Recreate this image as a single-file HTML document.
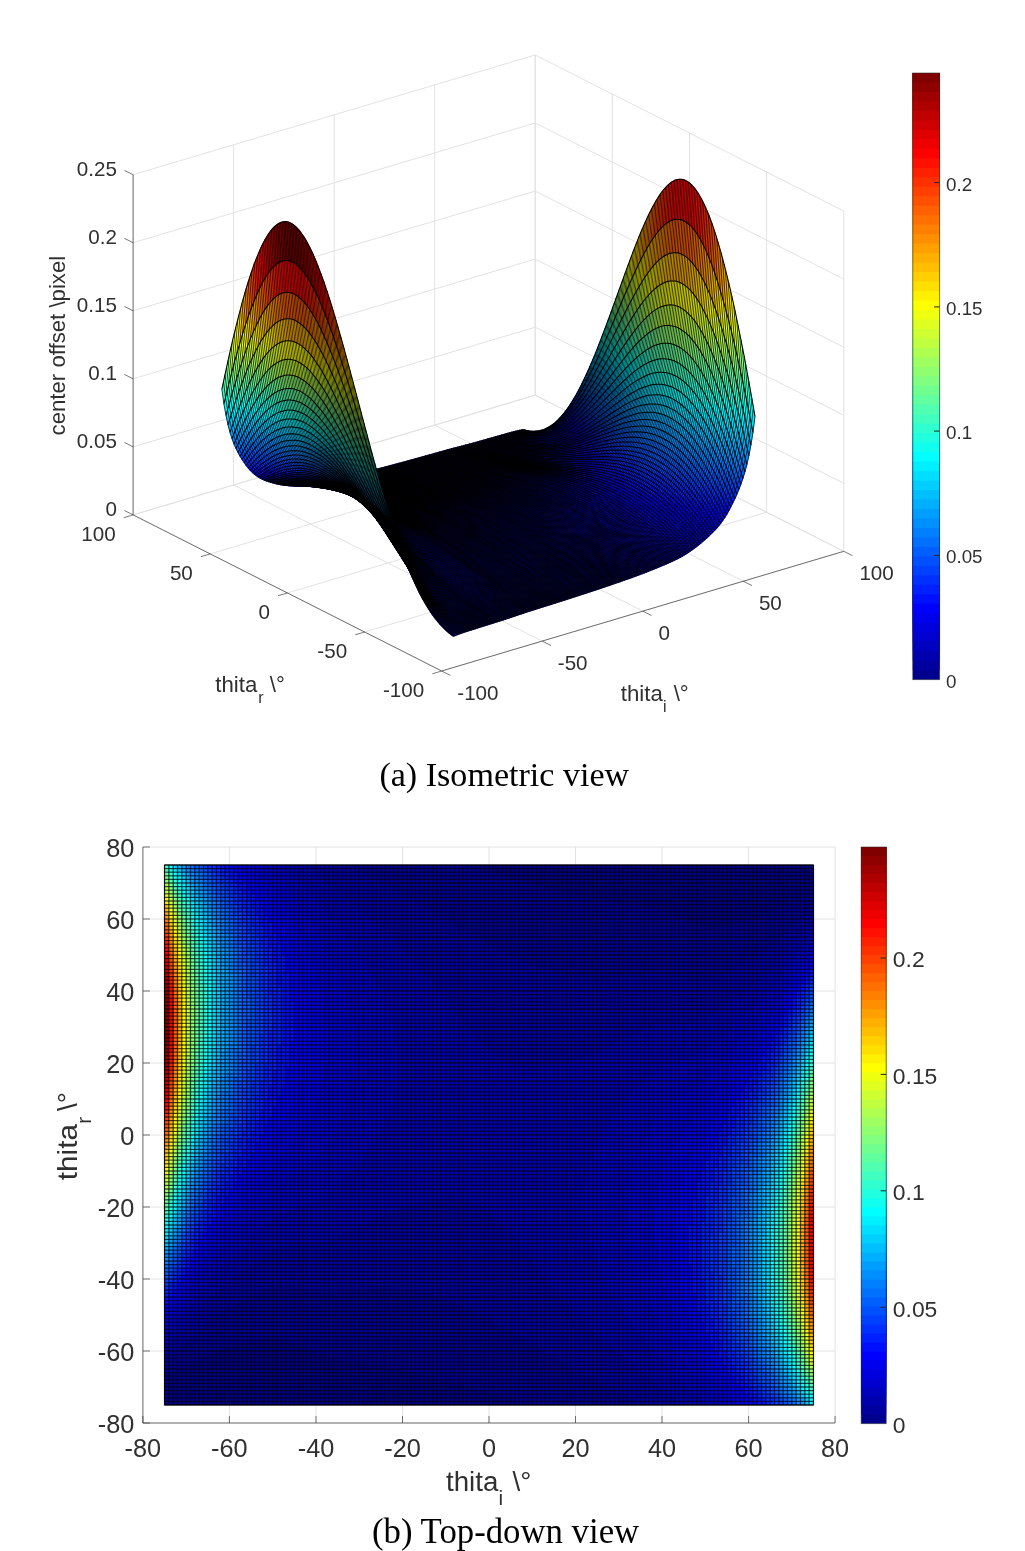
<!DOCTYPE html>
<html><head><meta charset="utf-8"><title>figure</title>
<style>html,body{margin:0;padding:0;background:#fff}svg{display:block}</style></head>
<body><svg width="1025" height="1551" viewBox="0 0 1025 1551">
<rect width="1025" height="1551" fill="#fff"/>
<path d="M441.7 671.0L133.1 514.9M133.1 514.9L133.1 174.7M542.2 641.1L233.6 485.0M233.6 485.0L233.6 144.8M642.8 611.1L334.2 455.0M334.2 455.0L334.2 114.8M743.3 581.2L434.7 425.1M434.7 425.1L434.7 84.9M843.8 551.3L535.2 395.2M535.2 395.2L535.2 55.0M441.7 671.0L843.8 551.3M843.8 551.3L843.8 211.1M364.6 632.0L766.6 512.3M766.6 512.3L766.6 172.1M287.4 593.0L689.5 473.2M689.5 473.2L689.5 133.0M210.2 553.9L612.3 434.2M612.3 434.2L612.3 94.0M133.1 514.9L535.2 395.2M535.2 395.2L535.2 55.0M133.1 514.9L535.2 395.2M535.2 395.2L843.8 551.3M133.1 446.9L535.2 327.2M535.2 327.2L843.8 483.3M133.1 378.8L535.2 259.1M535.2 259.1L843.8 415.2M133.1 310.8L535.2 191.1M535.2 191.1L843.8 347.2M133.1 242.7L535.2 123.0M535.2 123.0L843.8 279.1M133.1 174.7L535.2 55.0M535.2 55.0L843.8 211.1" fill="none" stroke="#e2e2e2" stroke-width="1"/>
<g stroke-width=".6" stroke-linejoin="round"><path fill="#00008f" stroke="#00008f" d="M533.8 431.9l-3-.1-3.1-.4-3.1-.6-3.1-.9 2-.3 3.1 .8 3.1 .5 3.1 .3 3.1-.1zm-.4 .9l-3.1-.2-3.1-.4-3.1-.6-4.6-1.3 2-.4 4.6 1.2 3.1 .5 3.1 .3 3.1 0zm-2 .8l-3.1-.2-3.1-.6-3.1-.7-4.6-1.4 2-.4 4.6 1.3 3.1 .6 3.1 .4 3.1 .2zm-.5 1.1l-3.1-.4-4.6-.8-3.1-.8-4.6-1.5 2-.5 4.6 1.4 3.1 .7 4.6 .7 3.1 .2zm-2 .9l-3.1-.5-4.6-1-3.1-.8-4.6-1.6 2-.5 4.6 1.5 3.1 .8 4.6 .8 3.1 .4zm-.5 1.2l-3.1-.6-4.6-1-4.6-1.3-4.7-1.7 2.1-.5 4.6 1.6 4.6 1.2 4.6 .9 3.1 .4zm-2 .9l-3.1-.6-4.6-1.2-4.6-1.4-4.7-1.7 2-.6 4.7 1.7 4.6 1.3 4.6 1 3.1 .6zm-.5 1.2l-4.6-1-4.6-1.3-4.6-1.5-4.7-1.8 2-.5 4.7 1.7 4.6 1.4 4.6 1.2 4.7 .9zm-.4 1.2l-4.7-1-4.6-1.3-4.6-1.6-6.2-2.3 2-.6 6.2 2.3 4.6 1.4 4.7 1.3 4.6 .9zm-2 .9l-4.7-1.2-4.6-1.4-4.6-1.5-6.2-2.4 2-.6 6.2 2.3 4.6 1.6 4.6 1.3 4.7 1zm-.5 1.2l-4.6-1.2-6.2-1.9-4.6-1.6-6.2-2.4 2-.6 6.2 2.4 4.6 1.5 6.2 1.9 4.6 1.1zm-2 .8l-4.6-1.3-6.2-2-4.6-1.6-6.2-2.5 2-.5 6.2 2.4 4.6 1.6 6.2 1.9 4.6 1.2zm-.5 1.1l-4.6-1.3-6.2-1.9-6.2-2.3-6.1-2.4 2-.6 6.2 2.5 6.1 2.1 6.2 1.9 4.6 1.2zm-2 .7l-4.6-1.3-6.2-2-6.2-2.3-6.1-2.5 2-.5 6.1 2.4 6.2 2.3 6.2 1.9 4.6 1.3zm-2 .7l-4.6-1.4-6.2-2-6.2-2.3-6.1-2.5 2-.6 6.1 2.5 6.2 2.3 6.2 2 4.6 1.3zm-.5 1.1l-6.1-1.8-6.2-2.1-6.2-2.3-6.2-2.5 2.1-.6 6.1 2.5 6.2 2.3 6.2 2 6.1 1.8zm-2 .7l-6.2-1.9-6.1-2.1-12.4-4.9 2-.5 6.2 2.5 6.2 2.3 6.2 2.1 6.1 1.8zm-2 .7l-6.2-2-6.1-2.1-12.4-4.9 2-.6 12.4 4.9 6.1 2.1 6.2 1.9zm-.5 1.1l-6.1-1.9-6.2-2.2-6.2-2.3-7.7-3.1 2-.6 7.7 3.1 6.2 2.3 6.2 2.1 6.2 2zm-2 .7l-6.1-2-6.2-2.2-6.2-2.3-7.7-3.1 2-.6 7.7 3.1 6.2 2.3 6.2 2.2 6.1 1.9zm-2 .7l-12.3-4.3-13.9-5.5 2-.5 7.7 3.1 6.2 2.3 6.2 2.2 6.1 2zm-2 .6l-12.3-4.3-13.9-5.5 2-.6 13.9 5.5 12.3 4.3zm-.5 1.2l-6.1-2.1-7.7-2.8-13.9-5.5 2-.6 13.9 5.5 7.7 2.8 6.2 2zm-2 .6l-6.1-2.1-7.8-2.8-13.8-5.6 2-.5 13.9 5.5 7.7 2.8 6.1 2.1zm-2 .6l-13.9-4.9-13.9-5.6 2.1-.6 13.8 5.6 7.8 2.8 6.1 2.1zm-3.5 .1l-12.4-4.5-13.9-5.6 2-.5 13.9 5.6 12.4 4.4zm-2 .5l-12.4-4.5-13.9-5.5 2-.6 13.9 5.6 12.4 4.5zm-2.1 .5l-12.3-4.5-13.9-5.5 2-.5 13.9 5.5 12.4 4.5zm-3.5-.1l-12.3-4.5-12.4-4.9 2-.5 12.4 4.9 12.3 4.5zm-2 .5l-12.4-4.5-12.3-4.8 2-.6 12.4 4.9 12.3 4.5zm-3.6-.1l-10.8-3.9-12.3-4.8 2-.5 12.3 4.8 10.8 3.9zm-2 .5l-10.8-3.9-12.3-4.8 2-.5 12.3 4.8 10.8 3.9zm-3.5-.1l-10.8-3.9-10.8-4.2 2-.5 10.8 4.2 10.8 3.9zm-2 .4l-10.8-3.8-10.8-4.2 2-.5 10.8 4.2 10.8 3.9zm-3.6 0l-9.3-3.4-10.8-4.1 2.1-.5 10.8 4.2 9.2 3.3zm-2 .5l-9.3-3.4-10.8-4 2-.6 10.8 4.1 9.3 3.4zm-3.6-.1l-18.5-6.8 2-.5 18.6 6.8zm-2 .6l-18.5-6.9 2-.5 18.5 6.8zm-2 .5l-18.5-6.8 2-.6 18.5 6.9zm-2 .6l-18.5-6.8 2-.6 18.5 6.8zm-3.5 0l-17-6.3 2-.5 17 6.3zm-2.1 .6l-16.9-6.3 2-.6 17 6.3zm-2 .5l-16.9-6.2 2-.6 16.9 6.3zm-2 .6l-16.9-6.3 2-.5 16.9 6.2zm-2 .6l-17-6.3 2.1-.6 16.9 6.3zm-2 .5l-17-6.2 2-.6 17 6.3zm-3.6 0l-15.4-5.7 2-.5 15.5 5.7zm-2 .6l-15.4-5.7 2-.6 15.4 5.7zm-2 .5l-15.4-5.7 2-.5 15.4 5.7zm-2 .6l-15.4-5.7 2-.6 15.4 5.7zm-2 .5l-15.4-5.6 2-.6 15.4 5.7zm-3.5 0l-13.9-5.1 2-.5 13.9 5.1zm-2.1 .6l-13.8-5.1 2-.6 13.9 5.1zm-2 .5l-13.9-5.1 2.1-.5 13.8 5.1zm-2 .5l-13.9-5 2-.6 13.9 5.1zm-3.5 0l-12.4-4.5 2-.5 12.4 4.5zm-2 .6l-12.4-4.5 2-.6 12.4 4.5zm-2.1 .5l-12.3-4.4 2-.6 12.4 4.5zm-2 .5l-12.3-4.4 2-.5 12.3 4.4zm-3.5 0l-10.8-3.8 2-.6 10.8 3.9zm-2 .5l-10.8-3.8 2-.5 10.8 3.8zm-2 .6l-10.8-3.9 2-.5 10.8 3.8zm-3.6 0l-9.2-3.3 2-.6 9.2 3.3zm-2 .5l-9.3-3.3 2.1-.5 9.2 3.3zm-2 .5l-9.3-3.2 2-.6 9.3 3.3zm-3.6 0l-7.7-2.7 2-.5 7.7 2.7zm223.8 112.9l-1.6-1.1 2-.7 1.6 1.1zm-225.8-112.4l-7.7-2.6 2-.6 7.7 2.7zm223.8 113.2l-1.6-1.2 2-.7 1.6 1.1zm-225.8-112.7l-7.7-2.6 2-.5 7.7 2.6zm223.7 113.4l-1.5-1.2 2-.7 1.6 1.2zm-227.2-113.4l-6.2-2.1 2-.5 6.2 2.1zm225.2 114l-1.5-1 2-.8 1.5 1.2zm-227.3-113.5l-6.1-2 2-.6 6.2 2.1zm225.3 114.2l-3.1-2.1 2.1-.7 3 2.1zm-227.3-113.6l-6.1-2.1 2-.5 6.1 2zm225.3 114.3l-3.1-2.1 2-.7 3.1 2.1zm-228.8-114.3l-4.6-1.6 2-.5 4.6 1.5zm226.8 115l-3.1-2.1 2-.7 3.1 2.1zm-228.8-114.5l-4.7-1.6 2.1-.5 4.6 1.6zm226.8 115.2l-4.6-3.2 2-.7 4.6 3.2zm-228.8-114.7l-4.7-1.5 2-.6 4.7 1.6zm226.8 115.4l-4.6-3.2 2-.7 4.6 3.2zm-230.4-115.4l-1.5-.5 2-.5 1.5 .5zm228.4 116.1l-4.7-3.2 2.1-.7 4.6 3.2zm-2 .6l-6.2-4.2 2-.7 6.2 4.3zm-2 .7l-6.2-4.2 2-.7 6.2 4.2zm-2.1 .7l-6.1-4.2 2-.7 6.2 4.2zm-2 .7l-7.7-5.3 2-.7 7.7 5.3zm-2 .6l-7.7-5.2 2-.7 7.7 5.3zm-2 .7l-7.7-5.2 2-.7 7.7 5.2zm-2 .6l-9.3-6.2 2.1-.6 9.2 6.2zm-2 .7l-9.3-6.2 2-.7 9.3 6.2zm-2 .7l-9.3-6.2 2-.7 9.3 6.2zm-2 .6l-10.8-7.1 2-.7 10.8 7.2zm-2 .7l-10.8-7.2 2-.6 10.8 7.1zm-2.1 .6l-10.8-7.1 2.1-.7 10.8 7.2zm-2 .7l-12.3-8.1 2-.7 12.3 8.1zm-2 .6l-12.3-8.1 2-.6 12.3 8.1zm-2 .7l-12.3-8.1 2-.7 12.3 8.1zm-2 .6l-13.9-9 2-.7 13.9 9.1zm-2 .7l-13.9-9.1 2-.6 13.9 9zm-2 .6l-13.9-9 2-.7 13.9 9.1zm-2 .7l-13.9-9.1 2-.6 13.9 9zm-2 .6l-15.5-10 2-.7 15.5 10.1zm-2 .6l-15.5-9.9 2-.7 15.5 10zm-2.1 .7l-15.4-10 2-.6 15.5 9.9zm-2 .6l-15.4-9.9 2-.7 15.4 10zm-2 .7l-16.9-11 2-.6 16.9 10.9zm-2 .6l-17-10.9 2.1-.7 16.9 11zm-2 .6l-17-10.9 2-.6 17 10.9zm-2 .7l-17-10.9 2-.7 17 10.9zm-2 .6l-17-10.9 2-.6 17 10.9zm-2 .6l-18.5-11.9 2-.6 18.5 11.9zm-2 .7l-18.6-11.9 2.1-.7 18.5 11.9zm-2.1 .6l-18.5-11.9 2-.6 18.6 11.9zm-2 .6l-18.5-11.9 2-.6 18.5 11.9zm-2 .7l-18.5-11.9 2-.7 18.5 11.9zm-2 .6l-18.5-11.9 2-.6 18.5 11.9zm-2 .6l-20.1-12.9 2.1-.6 20 12.9zm-2 .7l-20.1-13 2-.6 20.1 12.9zm-2 .6l-20.1-12.9 2-.7 20.1 13zm-2 .6l-20.1-12.8 2-.7 20.1 12.9zm-2 .7l-10.8-6.8-10.8-7.1 2-.7 10.8 7.1 10.8 6.8zm-2 .7l-10.8-6.8-10.8-7.1 2-.7 10.8 7.1 10.8 6.8zm-2.1 .7l-12.3-7.8-10.8-7.1 2-.7 10.8 7.1 12.4 7.8zm-2 .6l-12.3-7.7-10.8-7 2-.8 10.8 7.1 12.3 7.8zm-2 .7l-12.3-7.7-12.4-8 2-.8 12.4 8.1 12.3 7.7zm-2 .7l-12.3-7.7-12.4-8 2-.7 12.4 8 12.3 7.7zm-2 .7l-13.9-8.6-12.3-8.1 2-.7 12.3 8.1 13.9 8.6zm-2 .7l-13.9-8.6-12.3-8.1 2-.7 12.3 8.1 13.9 8.6zm-2 .6l-13.9-8.5-13.9-9.1 2-.7 13.9 9.1 13.9 8.6zm-2 .7l-13.9-8.5-13.9-9.1 2-.7 13.9 9.1 13.9 8.5zm-2 .7l-13.9-8.5-13.9-9.1 2-.7 13.9 9.1 13.9 8.5zm-2.1 .6l-15.4-9.4-13.9-9.2 2-.6 13.9 9.1 15.5 9.5zm-2 .7l-15.4-9.5-13.9-9.2 2-.6 13.9 9.2 15.4 9.4zm-2 .6l-15.4-9.5-13.9-9.2 2-.6 13.9 9.2 15.4 9.5zm-2 .6l-13.9-8.5-7.7-5-6.2-4.2 2.1-.6 13.8 9.2 13.9 8.5zm-2 .6l-13.9-8.5-7.7-5.1-6.2-4.2 2-.5 6.2 4.2 7.7 5 13.9 8.5zm-2 .7l-13.9-8.6-7.7-5.1-6.2-4.3 2-.5 6.2 4.2 7.7 5.1 13.9 8.5zm-2 .6l-7.7-4.7-6.2-3.9-7.7-5.2-6.2-4.3 2-.5 6.2 4.3 7.7 5.1 13.9 8.6zm-2 .6l-7.7-4.7-6.2-3.9-6.2-4.1-6.2-4.4 2.1-.5 12.3 8.4 6.2 3.9 7.7 4.7zm-2 .6l-7.7-4.7-6.2-3.9-6.2-4.2-6.2-4.4 2-.5 6.2 4.4 6.2 4.1 6.2 3.9 7.7 4.7zm-2 .7l-7.8-4.7-6.1-4-6.2-4.2-6.2-4.5 2-.5 6.2 4.4 6.2 4.2 6.2 3.9 7.7 4.7zm-2.1 .6l-6.1-3.8-6.2-3.9-6.2-4.2-6.1-4.5 2-.5 6.1 4.4 6.2 4.2 12.4 7.7zm-2 .6l-6.1-3.7-6.2-4-6.2-4.3-6.2-4.5 2.1-.5 6.1 4.5 6.2 4.2 6.2 3.9 6.1 3.8zm-2 .7l-6.1-3.8-6.2-4-6.2-4.3-6.2-4.6 2-.5 6.2 4.5 6.2 4.3 6.2 4 6.1 3.7zm-2 .6l-6.2-3.8-6.1-4.1-6.2-4.3-4.6-3.5 2-.4 4.6 3.4 6.2 4.3 6.2 4 6.1 3.8zm-2 .7l-6.2-3.9-6.1-4.1-6.2-4.4-4.6-3.6 2-.4 4.6 3.5 6.2 4.3 6.1 4.1 6.2 3.8zm-2 .6l-6.2-3.9-4.6-3.1-6.2-4.4-4.6-3.6 2-.4 4.6 3.5 6.2 4.4 4.6 3 6.2 3.9zm-2 .6l-6.2-3.9-4.6-3.2-6.2-4.5-4.6-3.7 2-.3 4.6 3.6 6.2 4.4 4.6 3.1 6.2 3.9zm-2 .6l-6.2-4-4.6-3.2-4.7-3.5-4.6-3.7 2-.3 4.7 3.6 4.6 3.4 4.6 3.2 6.2 3.9zm-2 .7l-4.7-3.1-4.6-3.2-4.6-3.5-4.7-3.8 2.1-.2 4.6 3.6 4.6 3.4 4.6 3.2 4.7 2.9zm-2 .6l-4.7-3.1-4.6-3.3-4.6-3.6-4.7-4 2-.2 4.7 3.8 4.6 3.5 4.6 3.2 4.7 3.1zm-2.1 .7l-4.6-3.2-4.6-3.4-4.6-3.8-3.1-2.7 2-.2 3.1 2.6 4.6 3.6 4.6 3.3 4.7 3.1zm-2 .7l-4.6-3.2-4.6-3.6-4.7-4-3-2.8 2-.2 3.1 2.7 4.6 3.8 4.6 3.4 4.6 3.2zm-2 .7l-4.6-3.3-3.1-2.4-4.6-4-3.1-2.9 2-.3 3.1 2.8 4.6 3.8 3.1 2.4 4.6 3.2zm-2 .7l-4.6-3.3-3.1-2.5-4.6-4.2-3.1-3.1 2-.2 3.1 2.9 4.6 4 3.1 2.4 4.6 3.3zm-2 .9l-4.6-3.5-3.1-2.6-3.1-2.9-3.1-3.1 2-.3 3.1 2.9 3.1 2.8 3.1 2.5 4.6 3.3zm-2 .8l-4.6-3.5-3.1-2.8-3.1-3-3.1-3.3 2-.3 3.1 3.1 3.1 2.9 3.1 2.6 4.6 3.5z"/><path fill="#00009f" stroke="#00009f" d="M541.6 430.9l-3.1 .6-4.7 .4 2.1-.8 3-.4 1.6-.3 3.1-.9zm-.5 1l-3.1 .6-4.6 .3 2-.9 4.6-.6 3.1-.9zm-.5 1.2l-4.6 .6-4.6-.1 2-.8 4.6-.3 4.6-.9zm-.4 1.3l-4.7 .4-4.6-.1 2-1 4.6-.2 4.7-.7zm-.5 1.4l-4.6 .2-3.1-.1-3.1-.3 2-.9 3.1 .1 3.1-.1 4.6-.5zm-.5 1.5l-4.6 0-3.1-.2-3.1-.3 2-1 3.1 .2 3.1 0 4.6-.4zm-.4 1.5l-6.2-.3-6.2-.8 2-.9 3.1 .3 3.1 .2 3.1 0 3.1-.1zm-.5 1.5l-6.2-.4-6.2-1 2.1-.9 6.1 .6 6.2 .1zm1.1 1.5l-6.2-.4-3.1-.4-4.6-.9 2-.9 4.6 .7 3.1 .2 6.2 .2zm-.5 1.5l-3.1-.2-4.6-.6-7.7-1.5 2-.9 4.6 .9 3.1 .4 4.6 .4 3.1 .1zm-.5 1.4l-3.1-.3-4.6-.6-7.7-1.6 2-.8 7.7 1.3 4.7 .5 3 .2zm-2 1.1l-3.1-.4-4.6-.7-7.7-1.7 2-.8 7.7 1.6 4.6 .6 3.1 .3zm-.4 1.2l-3.1-.4-4.7-.8-7.7-1.7 2-.8 7.7 1.7 4.7 .6 3.1 .3zm-.5 1.1l-4.6-.6-3.1-.5-4.7-1-4.6-1.2 2-.7 4.7 1.1 4.6 .9 3.1 .5 4.6 .5zm-2 1l-4.7-.7-3-.6-9.3-2.3 2-.7 4.6 1.2 4.7 1 3.1 .5 4.6 .6zm-.5 1.2l-4.6-.8-3.1-.6-9.3-2.3 2-.7 9.3 2.2 3.1 .6 4.6 .6zm-.5 1.1l-7.7-1.3-4.6-1.1-6.2-1.7 2-.7 6.2 1.6 4.6 1.1 7.7 1.1zm-2 .9l-7.7-1.4-4.6-1.2-6.2-1.7 2-.7 6.2 1.7 4.6 1.1 7.7 1.3zm-.4 1.2l-9.3-1.8-9.3-2.6 2.1-.6 9.2 2.4 4.6 .9 4.7 .8zm-.5 1.2l-6.2-1.2-4.6-1-9.3-2.7 2-.7 9.3 2.6 4.6 1 6.2 1zm-2 .9l-6.2-1.3-4.6-1.1-9.3-2.7 2-.7 9.3 2.7 4.6 1 6.2 1.2zm-.5 1.1l-4.6-.9-6.2-1.4-10.8-3.3 2-.6 6.2 1.8 4.6 1.3 6.2 1.4 4.6 .8zm-2 .9l-10.8-2.5-9.3-2.8 2.1-.7 9.2 2.8 6.2 1.4 4.6 .9zm-.5 1.1l-6.1-1.3-6.2-1.6-9.3-2.9 2-.6 9.3 2.8 6.2 1.5 6.1 1.3zm-2 .8l-6.1-1.5-6.2-1.6-9.3-2.9 2-.6 9.3 2.9 6.2 1.6 6.1 1.3zm-2 .6l-6.2-1.4-6.1-1.7-10.8-3.4 2-.6 10.8 3.4 6.2 1.6 6.1 1.5zm-2 .6l-6.2-1.5-6.1-1.7-10.8-3.4 2-.5 10.8 3.4 6.1 1.7 6.2 1.4zm-2 .6l-12.3-3.3-10.9-3.4 2.1-.5 10.8 3.4 6.1 1.7 6.2 1.5zm-2 .5l-12.4-3.3-12.3-4 2-.5 12.4 4 12.3 3.3zm-2 .6l-12.4-3.4-12.3-4 2-.5 12.3 4 12.4 3.3zm-2 .5l-7.8-2.1-6.1-1.8-12.4-4.1 2-.5 12.4 4.1 6.2 1.8 7.7 2.1zm-3.6 0l-12.3-3.5-12.4-4 2-.5 12.4 4.1 12.3 3.5zm-2 .5l-12.3-3.5-13.9-4.6 2-.5 13.9 4.6 12.3 3.5zm-2 .5l-12.4-3.6-13.8-4.6 2-.4 13.9 4.6 12.3 3.5zm-2 .5l-13.9-4.1-13.9-4.6 2-.5 15.4 5.1 12.4 3.6zm-3.6 .1l-12.3-3.7-13.9-4.6 2-.5 13.9 4.6 12.3 3.7zm-2 .6l-13.9-4.3-13.9-4.7 2.1-.5 13.8 4.7 13.9 4.2zm-2 .6l-13.9-4.3-13.9-4.7 2-.6 13.9 4.7 13.9 4.3zm-2 .6l-13.9-4.3-13.9-4.8 2-.5 13.9 4.7 13.9 4.3zm-.5 1.1l-15.4-4.8-13.9-4.8 2-.6 13.9 4.8 15.4 4.8zm183.6 92.9l-1.5-1.4 2-1 1.6 1.5zm-185.6-92.2l-15.4-4.9-15.4-5.4 2-.5 15.4 5.3 15.4 4.8zm183.6 93.2l-1.5-1.5 2-.9 1.5 1.4zm-185.6-92.6l-15.4-5-15.5-5.3 2.1-.6 15.4 5.4 15.4 4.9zm183.6 93.5l-3.1-2.8 2-1 3.1 2.9zm-185.6-92.8l-15.4-5.1-15.5-5.4 2-.5 15.5 5.3 15.4 5zm183.6 93.7l-3.1-2.8 2-.9 3.1 2.8zm-185.6-93.1l-15.4-5.1-15.5-5.4 2-.6 15.5 5.4 15.4 5.1zm183.6 94l-4.6-4.1 2-.9 4.6 4.1zm-185.6-93.4l-15.5-5.1-15.4-5.4 2-.6 15.5 5.4 15.4 5.1zm183.6 94.2l-4.6-4 2-.9 4.6 4.1zm-185.6-93.6l-15.5-5.1-15.4-5.5 2-.5 15.4 5.4 15.5 5.1zm183.6 94.5l-6.2-5.3 2-.9 6.2 5.3zm-185.6-93.8l-17-5.8-15.5-5.5 2.1-.5 15.4 5.4 17 5.7zm183.6 94.7l-7.7-6.5 2-1 7.7 6.6zm-184.1-93.6l-17-5.8-17-6 2-.6 17 6 17 5.8zm182.1 94.4l-7.8-6.4 2.1-.9 7.7 6.5zm-184.1-93.8l-17-5.8-17-6.1 2-.5 17 6 17 5.8zm182 94.6l-9.2-7.6 2-.9 9.3 7.7zm-184-94l-17-5.9-17-6 2-.6 17 6.1 17 5.8zm182 94.8l-9.2-7.5 2-.9 9.2 7.6zm-184-94.2l-17-5.9-17-6.1 2-.5 17 6 17 5.9zm182 95l-10.8-8.6 2-.9 10.8 8.7zm-185.6-95l-33.9-12 2-.5 16.9 6 17 5.9zm183.6 95.8l-12.3-9.8 2-.8 12.3 9.8zm-185.6-95.2l-34-12 2.1-.6 33.9 12zm183.6 96l-12.3-9.7 2-.9 12.3 9.8zm-185.6-95.4l-34-12.1 2-.5 34 12zm183.6 96.2l-13.9-10.8 2-.9 13.9 10.9zm-185.6-95.7l-34-12.1 2-.5 34 12.1zm183.6 96.5l-15.4-11.9 2-.9 15.4 12zm-185.6-95.9l-35.5-12.7 2-.5 35.5 12.6zm183.6 96.6l-15.5-11.7 2.1-.9 15.4 11.9zm-185.7-96.1l-35.4-12.6 2-.6 35.5 12.7zm183.7 96.9l-17-12.8 2-.9 17 12.9zm-185.7-96.3l-35.5-12.7 2.1-.5 35.4 12.6zm183.7 97l-18.6-13.8 2-.9 18.6 14zm-187.2-97l-34-12.2 2-.5 34 12.1zm185.1 97.8l-18.5-13.8 2-.8 18.6 13.8zm-187.1-97.3l-35.5-12.7 2-.5 35.5 12.7zm185.1 98l-20-14.8 2-.8 20 14.9zm-187.1-97.5l-35.5-12.7 2-.5 35.5 12.7zm185.1 98.3l-21.6-15.8 2-.9 10.8 7.9 10.8 8zm-188.7-98.3l-33.9-12.1 2-.6 33.9 12.2zm186.7 99l-21.6-15.7 2-.8 21.6 15.8zm-188.7-98.5l-35.5-12.6 2-.6 35.5 12.7zm186.7 99.2l-12.3-9-10.8-7.7 2-.8 10.8 7.7 12.3 9.1zm-188.7-98.7l-35.5-12.6 2-.5 35.5 12.6zm186.7 99.4l-12.4-8.9-12.3-8.7 2-.9 12.4 8.8 12.3 9zm-190.3-99.4l-33.9-12.1 2-.5 33.9 12.1zm188.3 100.1l-13.9-10-12.4-8.6 2.1-.8 12.3 8.7 13.9 10zm-190.3-99.6l-35.5-12.6 2-.5 35.5 12.6zm186.7 99.2l-12.3-8.8-12.4-8.6 2-.8 12.4 8.6 12.3 8.9zm-190.2-99.3l-34-12 2-.5 34 12zm188.2 100l-13.9-9.8-12.3-8.6 2-.8 12.3 8.6 13.9 9.9zm-190.2-99.5l-15.5-5.5-18.5-6.5 2-.5 34 12zm188.2 100.2l-13.9-9.8-13.9-9.5 2-.8 13.9 9.6 13.9 9.8zm-191.8-100.3l-15.4-5.5-18.5-6.4 2-.5 18.5 6.4 15.4 5.5zm189.8 101.1l-13.9-9.8-13.9-9.5 2-.8 13.9 9.5 13.9 9.8zm-191.8-100.6l-15.4-5.5-18.6-6.4 2.1-.5 18.5 6.4 15.4 5.5zm188.2 100.2l-13.8-9.7-13.9-9.5 2-.8 13.9 9.5 13.9 9.8zm-191.8-100.3l-15.4-5.5-17-5.7 2-.6 17 5.9 15.5 5.4zm189.8 101l-15.4-10.7-13.9-9.4 2-.8 13.9 9.4 15.4 10.8zm-193.3-101.1l-15.4-5.4-17-5.7 2-.6 17 5.8 15.4 5.4zm191.3 101.8l-17-11.7-13.8-9.4 2-.8 13.9 9.4 16.9 11.8zm-193.3-101.3l-15.5-5.4-16.9-5.7 2-.5 17 5.7 15.4 5.4zm189.8 100.9l-15.5-10.6-13.9-9.3 2.1-.8 13.8 9.4 15.5 10.6zm-193.4-101l-13.9-4.9-16.9-5.6 2-.5 16.9 5.7 13.9 4.8zm191.4 101.7l-17-11.6-13.9-9.3 2-.7 13.9 9.2 17 11.7zm-193.4-101.3l-15.4-5.3-17-5.6 2-.5 17 5.6 15.4 5.4zm191.3 102l-16.9-11.6-15.5-10.2 2.1-.8 15.4 10.3 17 11.6zm-194.8-102.1l-13.9-4.8-17-5.5 2-.5 17 5.6 13.9 4.8zm191.3 101.7l-17-11.5-13.9-9.2 2-.7 13.9 9.2 17 11.5zm-194.9-101.8l-12.3-4.2-13.9-4.5 2-.5 13.9 4.5 12.3 4.3zm192.9 102.5l-17-11.5-15.4-10.1 2-.8 15.4 10.2 17 11.5zm-194.9-102.1l-12.3-4.1-12.4-4 2-.5 12.4 4 12.3 4.2zm192.9 102.8l-17-11.4-15.4-10.2 2-.7 15.4 10.1 17 11.5zm-196.5-102.9l-20-6.6 2-.5 20.1 6.7zm192.9 102.5l-17-11.3-15.4-10.2 2-.7 15.5 10.1 16.9 11.4zm-196.4-102.6l-17-5.5 2-.5 17 5.6zm194.4 103.3l-18.5-12.3-15.4-10.1 2-.8 15.4 10.1 18.5 12.4zm-198-103.4l-12.3-4 2-.4 12.3 4zm196 104.1l-18.5-12.3-15.4-10.1 2-.7 15.4 10.1 18.5 12.3zm-198-103.7l-10.8-3.5 2-.4 10.8 3.5zm194.4 103.3l-33.9-22.3 2-.7 15.4 10.1 18.6 12.3zm-197.9-103.4l-6.2-2 2-.4 6.2 2zm195.9 104.1l-33.9-22.3 2-.7 33.9 22.3zm-199.5-104.2l-3.1-.9 2-.5 3.1 1zm197.5 104.9l-35.5-23.3 2-.7 35.5 23.3zm-3.5-.3l-34-22.3 2-.7 34 22.3zm-2 .6l-35.5-23.2 2-.7 35.5 23.3zm-2.1 .7l-35.4-23.2 2-.7 35.5 23.2zm-3.5-.3l-34-22.2 2.1-.7 33.9 22.2zm-2 .6l-35.5-23.2 2-.6 35.5 23.2zm-2 .7l-35.5-23.2 2-.7 35.5 23.2zm-3.6-.3l-33.9-22.2 2-.7 33.9 22.2zm-2 .6l-35.5-23.2 2-.6 35.5 23.2zm-2 .7l-35.5-23.2 2-.7 35.5 23.2zm-2 .6l-35.5-23.2 2-.6 35.5 23.2zm-3.6-.3l-33.9-22.3 2-.6 33.9 22.2zm-2 .7l-33.9-22.3 2-.7 33.9 22.3zm-2 .6l-33.9-22.3 2-.6 33.9 22.3zm-211.8-109.3l-6.2-1.3 2-.4 6.2 1.3zm209.8 110l-33.9-22.4 2-.6 33.9 22.3zm-208.8-109l-9.2-1.9 2-.4 9.2 2zm205.3 108.6l-34-22.4 2-.6 34 22.4zm-208.8-108.6l-7.7-1.5 2-.4 7.7 1.6zm206.7 109.3l-16.9-11.2-17-11.3 2-.6 34 22.4zm-208.7-109l-7.7-1.4 2-.4 7.7 1.5zm206.7 109.6l-16.9-11.1-17-11.4 2-.6 17 11.3 16.9 11.2zm-210.3-109.6l-6.2-1.1 2.1-.3 6.1 1.1zm208.3 110.3l-17-11.2-16.9-11.4 2-.6 17 11.4 16.9 11.1zm-210.3-110l-6.2-1 2-.4 6.2 1.1zm208.3 110.6l-15.4-10.2-17-11.4 2-.6 17 11.4 15.4 10.2zm-211.9-110.5l-4.6-.8 2-.3 4.7 .8zm208.4 110.1l-15.5-10.2-15.4-10.4 2-.6 15.4 10.4 15.5 10.2zm-211.9-110.1l-3.1-.4 2-.4 3.1 .5zm209.8 110.8l-15.4-10.2-15.4-10.5 2-.6 15.4 10.4 15.5 10.2zm-211.8-110.5l-3.1-.4 2-.3 3.1 .4zm209.8 111.1l-15.4-10.2-15.4-10.6 2-.5 15.4 10.5 15.4 10.2zm-213.4-111l-1.5-.2 2-.3 1.5 .2zm211.4 111.6l-15.4-10.2-15.4-10.6 2-.6 15.4 10.6 15.4 10.2zm-213.4-111.3l-1.5-.2 2-.3 1.5 .2zm211.4 112l-15.4-10.3-15.4-10.7 2-.5 15.4 10.6 15.4 10.2zm-2 .6l-15.4-10.3-15.5-10.7 2.1-.6 15.4 10.7 15.4 10.3zm-3.6-.4l-13.8-9.3-15.5-10.8 2-.5 15.5 10.7 13.9 9.3zm-2 .6l-13.8-9.3-13.9-9.8 2-.5 13.9 9.7 13.8 9.3zm-2 .7l-13.9-9.4-13.8-9.8 2-.6 13.9 9.8 13.8 9.3zm-2 .7l-13.9-9.5-13.9-9.8 2.1-.6 13.8 9.8 13.9 9.4zm-3.5-.4l-13.9-9.5-12.4-8.8 2-.6 12.4 8.8 13.9 9.4zm-2 .7l-13.9-9.4-13.9-10.1 2-.6 13.9 9.9 13.9 9.5zm-3.6-.3l-12.3-8.4-13.9-10.1 2-.7 13.9 10.1 12.3 8.4zm-2 .8l-12.4-8.5-13.8-10.1 2-.7 13.9 10.1 12.3 8.4zm-3.6-.3l-12.3-8.5-12.4-9.1 2.1-.7 12.3 9 12.3 8.5zm-2 .7l-12.3-8.5-13.9-10.2 2-.7 13.9 10.2 12.3 8.5zm-3.5-.3l-10.8-7.4-13.9-10.3 2-.7 12.3 9.1 12.4 8.6zm-2 .7l-10.8-7.4-13.9-10.4 2-.6 13.9 10.3 10.8 7.4zm-3.6-.3l-10.8-7.5-12.3-9.3 2-.7 12.3 9.3 10.8 7.5zm-2 .7l-10.8-7.5-12.3-9.4 2-.6 12.3 9.3 10.8 7.5zm-2 .7l-10.8-7.6-12.4-9.4 2.1-.6 12.3 9.4 10.8 7.5zm-3.6-.4l-9.2-6.6-12.4-9.5 2-.5 12.4 9.4 9.2 6.6zm-2 .6l-9.2-6.6-6.2-4.7-6.2-5 2-.4 12.4 9.5 9.2 6.6zm-2 .6l-9.2-6.7-10.8-8.5 2-.4 10.8 8.4 9.2 6.6zm-.5 1.6l-9.2-6.7-6.2-4.8-6.2-5 2.1-.3 6.1 4.9 6.2 4.7 9.3 6.6zm-2 .5l-9.2-6.8-10.8-8.6 2-.3 10.8 8.5 9.2 6.7zm-2 .5l-9.2-6.8-10.8-8.9 2-.2 10.8 8.6 9.2 6.8zm-2 .5l-9.2-6.9-9.3-7.7 2-.2 9.3 7.5 9.2 6.8zm-.5 1.6l-9.2-6.9-9.3-7.7 2-.3 9.3 7.6 9.3 6.8zm-2 .5l-9.2-7-9.3-7.9 2-.2 9.3 7.7 9.2 6.9zm-2 .5l-9.2-7.1-7.7-6.7 2-.2 7.7 6.5 9.2 7zm-.4 1.6l-9.3-7.1-7.7-6.7 2-.2 7.7 6.5 9.3 7zm-2.1 .5l-9.2-7.3-7.7-6.8 2-.2 7.7 6.7 9.3 7.1zm-2 .5l-9.2-7.5-6.2-5.5 2-.2 6.2 5.4 9.2 7.3zm-.4 1.6l-7.7-6.2-4.7-4-3.1-2.8 2-.2 3.1 2.8 4.7 3.9 7.7 6.1zm-2 .4l-7.8-6.3-4.6-4.1-3.1-3 2 0 3.1 2.8 4.7 4 7.7 6.2zm-.5 1.6l-7.7-6.5-7.7-7.1 2 .1 7.7 6.9 7.7 6.2zm-2 .3l-7.7-6.8-6.2-5.9 2 .3 6.2 5.6 7.7 6.5zm-.5 1.5l-6.2-5.5-6.1-5.9 2 .3 6.2 5.6 6.1 5.2zm-.5 1.5l-6.1-5.6-6.2-6.1 2 .3 6.2 5.8 6.2 5.4zm-2 .2l-6.1-5.9-4.7-4.8 2 .4 4.7 4.5 6.1 5.6zm-.4 1.6l-6.2-6.1-4.6-5 2 .4 4.6 4.8 6.2 5.7zm-2 .2l-4.7-4.8-4.6-5.2 2 .4 4.6 4.9 4.7 4.5zm-.5 1.7l-4.6-4.9-4.7-5.4 2 .4 4.7 5.1 4.6 4.5zm-2 .2l-4.7-5.2-3-3.8 2 .4 3.1 3.5 4.6 4.9zm-.5 1.9l-4.6-5.3-3.1-4 2 .3 3.1 3.7 4.6 5zm-2 .3l-4.6-5.7-3.1-4.2 2 .3 3.1 4 4.6 5.3z"/><path fill="#0000af" stroke="#0000af" d="M547.7 428.6l-3.1 1.3-3 1 2-1.4 3.1-1.3 3-1.8zm-.4 1.4l-3.1 1.1-3.1 .8 2-1.5 3.1-1.1 3.1-1.5zm-.5 1.5l-3.1 .9-3.1 .7 2-1.5 3.1-1 3.1-1.3zm-.5 1.6l-3.1 .8-3 .5 2-1.6 3.1-.8 3-1.1zm1.1 1.4l-3.1 .7-4.6 .6 2-1.6 4.6-1.1 3.1-1zm-.5 1.8l-3 .5-4.7 .5 2-1.7 4.7-.8 3-.8zm1.1 1.6l-4.6 .6-4.6 .3 2-1.6 4.6-.6 4.6-1zm-.5 1.8l-4.6 .5-4.6 .1 2-1.6 4.6-.3 4.7-.9zm1.1 1.6l-4.6 .5-4.6 0 2-1.5 4.6-.4 4.6-.7zm-.4 1.7l-4.7 .3-4.6 0 2-1.4 4.6-.2 4.7-.6zm-.5 1.6l-4.6 .2-4.7-.1 2-1.3 4.7-.1 4.6-.4zm-.5 1.4l-4.6 .1-6.2-.3 2-1.1 6.2 .1 4.6-.3zm-.4 1.3l-4.7 0-6.1-.3 2-1.1 6.1 .2 4.7-.2zm-.5 1.3l-4.6-.1-6.2-.4 2-1 6.2 .2 4.6-.1zm-.5 1.3l-6.2-.2-6.1-.6 2-1 6.2 .4 6.1 .1zm-.5 1.3l-6.1-.3-6.2-.6 2-1 6.2 .5 6.2 .1zm-.4 1.3l-6.2-.4-6.2-.7 2-1 6.2 .6 6.2 .2zm-.5 1.3l-7.7-.6-6.2-.9 2-.9 6.2 .7 7.7 .4zm-2 1.1l-6.2-.5-6.1-.9 2-.9 6.1 .7 6.2 .5zm-.5 1.3l-6.1-.6-6.2-.9 2-1 6.2 .8 6.1 .5zm-.4 1.3l-7.7-.9-6.2-1 2-.9 6.2 .9 7.7 .7zm-.5 1.3l-7.7-1-6.2-1.1 2-.9 6.2 1 7.7 .8zm-.5 1.2l-7.7-1-7.7-1.4 2-.9 7.7 1.3 7.7 .9zm-.4 1.3l-7.7-1.1-7.8-1.5 2-.8 7.8 1.3 7.7 1zm-2 .9l-7.8-1.2-7.7-1.5 2-.8 7.8 1.5 7.7 1.1zm-.5 1.1l-9.3-1.6-7.7-1.6 2-.6 7.7 1.5 9.3 1.4zm-2 .8l-9.3-1.7-7.7-1.7 2-.6 7.7 1.6 9.3 1.6zm-2 .7l-9.3-1.8-7.7-1.7 2-.6 7.7 1.7 9.3 1.7zm-.5 1l-9.3-1.8-9.2-2.2 2-.5 9.3 2.1 9.2 1.7zm-2 .6l-9.3-1.9-9.2-2.1 2-.6 9.2 2.2 9.3 1.8zm-2 .6l-9.3-1.9-9.2-2.2 2-.5 9.2 2.1 9.3 1.9zm163.5 82.7l-1.5-1.7 2-1.5 1.5 1.7zm-165.5-82l-10.8-2.4-9.3-2.4 2-.4 9.3 2.2 10.8 2.3zm163.5 83.4l-1.5-1.7 2-1.4 1.5 1.7zm-165.5-82.8l-10.8-2.5-9.3-2.4 2-.5 9.3 2.4 10.8 2.4zm163.5 84.2l-3.1-3.3 2-1.4 3.1 3.3zm-165.6-83.6l-10.8-2.6-9.2-2.4 2-.5 9.3 2.4 10.8 2.5zm163.6 84.9l-4.6-4.8 2-1.4 4.6 4.9zm-165.6-84.3l-10.8-2.6-9.2-2.5 2-.5 9.2 2.4 10.8 2.6zm163.6 85.5l-6.2-6.2 2-1.4 6.2 6.4zm-165.6-84.8l-10.8-2.7-10.8-3 2-.5 10.8 2.9 10.8 2.6zm163.6 86l-7.7-7.6 2-1.3 7.7 7.7zm-165.6-85.3l-10.8-2.8-10.8-3 2-.6 10.8 3 10.8 2.7zm163.6 86.4l-9.3-8.9 2-1.3 9.3 9.1zm-164.1-85.3l-12.3-3.3-10.8-3 2-.6 10.8 3 12.4 3.2zm162.1 86.4l-10.8-10.2 2-1.3 10.8 10.4zm-164.1-85.6l-12.3-3.4-10.8-3.1 2-.6 10.8 3 12.3 3.3zm162.1 86.6l-12.4-11.5 2-1.2 12.4 11.7zm-162.5-85.3l-23.2-6.7 2-.6 10.8 3.1 12.4 3.3zm158.9 84.8l-12.3-11.2 2-1.2 12.3 11.4zm-159.4-83.6l-24.7-7.2 2-.7 10.8 3.2 13.9 3.9zm157.4 84.5l-13.9-12.3 2-1.2 13.9 12.6zm-159.4-83.7l-24.7-7.4 2-.6 24.7 7.2zm155.8 83.3l-13.9-12.1 2.1-1.2 13.8 12.3zm-156.3-82.1l-26.2-7.9 2-.7 26.2 7.8zm154.3 83l-15.4-13.2 2-1.1 7.7 6.6 7.7 6.8zm-156.3-82.2l-26.2-8.1 2-.6 26.2 7.9zm152.8 81.8l-15.5-13 2.1-1.1 7.7 6.5 7.7 6.7zm-153.3-80.5l-27.7-8.8 2-.6 27.8 8.6zm151.3 81.4l-9.3-7.8-7.7-6.3 2-1.1 7.7 6.4 9.3 7.9zm-153.3-80.7l-27.7-8.9 2-.6 27.7 8.8zm149.7 80.3l-9.3-7.6-7.7-6.2 2-1.1 7.8 6.2 9.2 7.8zm-150.1-79l-29.3-9.5 2-.7 29.3 9.4zm146.6 78.7l-9.3-7.6-7.7-6.1 2-1 7.7 6.1 9.3 7.6zm-147.1-77.5l-29.3-9.6 2-.6 29.3 9.5zm145 78.4l-9.2-7.5-9.3-7.2 2-1.1 9.3 7.3 9.3 7.6zm-147-77.6l-29.3-9.8 2-.6 29.3 9.6zm143.5 77.2l-9.3-7.3-9.2-7.1 2-1.1 9.2 7.2 9.3 7.4zm-144-76l-30.8-10.4 2-.6 30.8 10.3zm142 76.9l-10.8-8.5-9.3-7 2-1 9.3 7 10.8 8.6zm-144-76.2l-30.8-10.5 2-.6 30.8 10.4zm140.4 75.9l-10.8-8.4-9.2-6.9 2-1 9.2 6.9 10.8 8.5zm-140.9-74.6l-33.9-11.8 2-.6 34 11.7zm137.4 74.2l-10.8-8.2-9.3-6.8 2-1 9.3 6.8 10.8 8.4zm-139.4-73.5l-33.9-11.9 2-.6 33.9 11.8zm137.4 74.4l-12.4-9.3-10.8-7.8 2-1 10.8 7.8 12.4 9.4zm-137.8-73.2l-35.5-12.5 2-.6 35.5 12.4zm134.2 72.9l-12.3-9.2-10.8-7.7 2-1 10.8 7.8 12.3 9.2zm-136.2-72.2l-35.5-12.7 2-.5 35.5 12.5zm132.7 71.9l-12.4-9.1-10.8-7.6 2-1 10.8 7.7 12.4 9.1zm-134.8-71.2l-15.4-5.7-20-7.1 2-.6 35.5 12.7zm132.7 72.1l-12.3-9.1-12.3-8.6 2-.9 12.3 8.6 12.4 9.1zm-133.1-70.8l-15.5-5.8-21.6-7.8 2.1-.5 21.6 7.7 15.4 5.7zm129.6 70.5l-13.9-10.1-12.3-8.4 2-1 12.3 8.5 13.9 10.1zm-131.6-69.9l-17-6.4-20.1-7.2 2-.6 21.6 7.8 15.5 5.8zm128 69.6l-13.8-9.9-12.4-8.4 2-.9 12.4 8.4 13.8 9.9zm-130-68.9l-17-6.5-21.6-7.8 2-.6 21.6 7.8 17 6.4zm128 69.7l-15.4-10.9-13.9-9.3 2-.9 13.9 9.3 15.4 11zm-128.5-68.5l-18.5-7.1-21.6-7.9 2-.5 23.1 8.4 17 6.5zm125 68.2l-15.5-10.8-13.8-9.2 2-.9 13.9 9.2 15.4 10.9zm-127-67.5l-18.5-7.2-21.6-8 2-.5 21.6 7.9 18.5 7.1zm123.4 67.3l-15.4-10.7-13.9-9.1 2-.9 13.9 9.1 15.4 10.7zm-125.4-66.7l-18.5-7.2-23.2-8.6 2-.5 23.2 8.5 18.5 7.2zm123.4 67.5l-17-11.7-15.4-10 2-.9 15.4 10 17 11.8zm-125.4-66.9l-18.6-7.3-23.1-8.6 2-.5 23.2 8.6 18.5 7.2zm121.9 66.6l-17-11.6-15.4-9.9 2-.9 15.4 10 17 11.6zm-122.4-65.4l-20.1-7.9-23.1-8.7 2-.5 23.1 8.6 20.1 7.9zm118.8 65.2l-17-11.5-16.9-10.8 2-.9 7.7 4.8 9.2 6 17 11.5zm-120.8-64.5l-20.1-8.1-24.7-9.2 2-.5 24.7 9.2 20.1 7.9zm117.2 64.2l-16.9-11.4-17-10.7 2-.9 17 10.8 17 11.4zm-119.2-63.7l-21.6-8.6-23.2-8.7 2-.5 24.7 9.2 20.1 8.1zm117.2 64.5l-18.5-12.4-9.2-5.9-9.3-5.6 2-.9 9.3 5.7 9.2 5.9 18.5 12.4zm-120.8-64.5l-21.6-8.7-23.1-8.7 2-.5 23.1 8.7 21.6 8.6zm117.3 64.2l-10.8-7.2-9.3-6-9.2-5.8-9.3-5.7 2-.8 9.3 5.6 9.2 5.9 9.3 6 10.8 7.2zm-119.3-63.6l-10.8-4.5-10.8-4.3-23.1-8.7 2-.5 23.1 8.7 21.6 8.7zm115.7 63.4l-10.8-7.2-9.2-6-9.3-5.8-9.2-5.6 2-.8 9.2 5.6 9.3 5.8 9.2 6 10.8 7.2zm-117.7-62.9l-10.8-4.5-10.8-4.3-12.4-4.7-12.3-4.6 2-.5 24.7 9.3 10.8 4.3 10.8 4.5zm115.7 63.7l-10.8-7.2-10.8-7-10.8-6.7-9.2-5.5 2-.8 9.2 5.5 10.8 6.7 10.8 7 10.8 7.2zm-117.7-63.1l-10.8-4.6-10.8-4.3-12.4-4.8-12.3-4.5 2-.5 12.3 4.6 12.4 4.7 10.8 4.3 10.8 4.5zm114.2 62.8l-10.8-7.1-10.8-6.9-10.8-6.7-9.3-5.5 2-.8 9.3 5.5 10.8 6.7 10.8 6.9 10.8 7.1zm-117.8-62.9l-10.8-4.6-10.8-4.3-12.3-4.8-12.4-4.5 2.1-.5 12.3 4.6 12.3 4.7 10.8 4.3 10.8 4.5zm114.2 62.7l-10.8-7.1-10.8-6.9-10.8-6.7-9.2-5.5 2-.7 9.2 5.5 10.8 6.6 10.8 6.9 10.8 7.1zm-116.2-62.2l-10.8-4.6-12.3-4.9-12.4-4.8-12.3-4.5 2-.5 12.3 4.6 12.4 4.7 12.3 4.9 10.8 4.6zm112.7 61.9l-10.8-7-10.8-6.9-10.8-6.6-10.8-6.4 2-.7 10.8 6.3 10.8 6.6 10.8 6.9 10.8 7zm-116.2-62.1l-10.8-4.5-10.8-4.4-12.4-4.7-12.3-4.5 2-.5 12.3 4.5 12.4 4.8 10.8 4.3 10.8 4.5zm114.1 62.9l-12.3-8-10.8-6.9-10.8-6.6-10.8-6.3 2-.8 10.8 6.4 10.8 6.6 10.8 6.8 12.4 8zm-117.7-63l-10.8-4.6-10.8-4.3-12.3-4.7-12.4-4.5 2-.5 12.4 4.5 12.3 4.7 10.8 4.3 10.8 4.6zm114.2 62.7l-12.3-8-10.8-6.8-10.8-6.6-10.9-6.3 2.1-.7 10.8 6.3 10.8 6.6 10.8 6.8 12.3 8zm-117.7-62.9l-10.8-4.5-10.8-4.4-10.8-4.1-12.4-4.5 2-.4 12.4 4.5 10.8 4.1 10.8 4.3 10.8 4.5zm114.1 62.7l-12.3-8-10.8-6.8-10.8-6.5-10.8-6.4 2-.7 10.8 6.3 10.8 6.6 10.8 6.7 12.4 8zm-117.7-62.9l-10.8-4.5-10.8-4.3-10.8-4.1-12.3-4.5 2-.4 12.3 4.4 10.8 4.1 10.8 4.3 10.8 4.5zm115.7 63.6l-12.3-7.9-12.4-7.8-10.8-6.5-10.8-6.4 2.1-.7 10.8 6.3 12.3 7.5 10.8 6.8 12.3 8zm-119.2-63.8l-10.8-4.5-10.8-4.3-10.8-4.1-12.4-4.4 2-.4 12.4 4.4 10.8 4.1 10.8 4.3 10.8 4.5zm115.7 63.6l-12.4-8-12.3-7.7-10.8-6.5-10.8-6.4 2-.7 10.8 6.3 12.3 7.5 10.8 6.8 12.4 7.9zm-119.3-63.8l-10.8-4.5-10.8-4.3-10.8-4-10.8-3.9 2-.4 10.8 3.9 10.8 4 10.8 4.3 10.8 4.5zm117.3 64.5l-12.4-7.9-12.3-7.8-12.4-7.5-10.8-6.3 2-.7 10.8 6.3 12.4 7.5 12.3 7.7 12.4 8zm-122.4-65.4l-9.3-3.8-10.8-4.2-10.8-4.1-10.8-3.8 2.1-.4 10.8 3.8 10.8 4 10.8 4.3 9.2 3.8zm118.8 65.1l-12.3-7.9-12.4-7.7-10.8-6.6-10.8-6.3 2-.7 10.8 6.3 10.8 6.6 12.4 7.7 12.3 7.9zm-122.3-65.3l-9.3-3.8-10.8-4.2-10.8-4-10.8-3.8 2-.4 10.8 3.8 10.8 4 10.8 4.2 9.3 3.8zm118.8 65.1l-12.4-7.9-12.3-7.8-10.8-6.5-10.8-6.4 2-.6 10.8 6.3 10.8 6.5 12.3 7.7 12.4 7.9zm-122.4-65.3l-9.3-3.8-10.8-4.2-10.8-4-10.8-3.7 2-.4 10.8 3.7 10.8 4 10.8 4.2 9.3 3.8zm120.4 66l-24.7-15.7-10.8-6.5-10.8-6.4 2-.7 10.8 6.4 10.8 6.5 12.3 7.8 12.4 7.9zm-125.5-66.9l-9.3-3.8-9.2-3.5-9.3-3.4-10.8-3.7 2-.4 10.8 3.7 9.3 3.4 9.3 3.5 9.2 3.8zm121.9 66.6l-23.1-14.7-21.6-13 2-.6 10.8 6.4 10.8 6.5 23.1 14.7zm-125.5-66.9l-9.2-3.7-9.3-3.5-9.2-3.3-10.8-3.7 2-.4 10.8 3.7 9.2 3.3 9.3 3.5 9.3 3.7zm123.5 67.6l-23.2-14.7-21.6-13.1 2.1-.6 21.6 13 23.1 14.7zm-128.5-68.5l-9.3-3.6-9.3-3.5-9.2-3.2-9.3-3.1 2-.4 18.5 6.4 9.3 3.4 9.3 3.7zm124.9 68.2l-23.1-14.7-21.6-13.1 2-.6 21.6 13.1 23.1 14.6zm-130-69.1l-7.8-2.9-9.2-3.4-17-5.8 2-.4 17 5.8 17 6.4zm128 69.8l-23.1-14.7-21.6-13.2 2-.6 21.6 13.1 23.1 14.7zm-131.6-70l-15.4-5.8-15.5-5.2 2.1-.4 15.4 5.3 15.4 5.7zm128.1 69.7l-23.2-14.7-20-12.3 2-.6 20 12.2 23.2 14.7zm-133.2-70.6l-12.3-4.5-12.4-4.2 2-.4 12.4 4.2 12.3 4.6zm131.2 71.3l-23.2-14.8-18.5-11.4 2-.6 20.1 12.3 21.6 13.8zm-134.7-71.6l-10.9-3.9-10.8-3.7 2.1-.3 10.8 3.7 10.8 3.9zm132.6 72.3l-23.1-14.9-18.5-11.4 2-.6 18.5 11.4 23.2 14.8zm-137.7-73.1l-15.5-5.4 2-.4 15.5 5.5zm134.2 72.7l-21.6-13.8-18.5-11.6 2-.5 18.5 11.4 21.6 13.9zm-137.8-73l-12.3-4.3 2-.3 12.3 4.3zm135.8 73.7l-21.6-13.9-18.5-11.6 2-.6 18.5 11.6 21.6 13.8zm-139.4-74l-7.7-2.7 2-.3 7.8 2.7zm137.4 74.7l-21.6-14-17-10.7 2-.6 17 10.7 21.6 13.9zm-142.4-75.5l-3.1-1 2-.3 3.1 1zm138.8 75.1l-20-13-17-10.8 2-.5 17 10.7 20 13zm-2 .7l-21.6-14.1-15.4-9.9 2-.5 17 10.8 20 13zm-2 .6l-35.5-23.1 2-.5 15.5 9.9 20 13.1zm-2 .6l-35.5-23.1 2-.6 35.5 23.1zm-2 .7l-35.5-23.3 2-.5 35.5 23.1zm-2 .6l-34-22.5 2-.4 34 22.3zm-2 .6l-34-22.6 2-.5 34 22.5zm-170.2-85.6l-4.7-1 2-.3 4.7 1zm166.6 85.2l-30.9-20.7 2.1-.5 30.8 20.6zm-162.5-83.4l-12.3-2.8 2-.3 12.3 2.8zm160.5 84l-30.9-20.8 2-.5 30.9 20.7zm-156.3-82.3l-9.3-2.2-9.2-2 2-.3 9.2 2 9.3 2.3zm154.3 82.9l-29.3-19.9 2-.5 29.3 19.8zm-157.9-83.1l-9.2-2.1-9.3-1.9 2-.3 9.3 1.9 9.2 2.2zm155.9 83.7l-29.3-20.1 2-.4 29.3 19.9zm-159.4-83.9l-7.7-1.7-9.3-1.8 2-.3 9.3 1.9 7.7 1.7zm158.9 85.5l-29.3-20.2 2-.4 29.3 20zm-162.5-85.7l-7.7-1.6-9.3-1.6 2.1-.3 9.2 1.7 7.7 1.6zm160.5 86.3l-27.8-19.3 2-.4 27.8 19.1zm-164-86.5l-7.7-1.5-9.3-1.5 2-.3 9.3 1.6 7.7 1.6zm162 87.1l-27.8-19.4 2-.5 27.8 19.3zm-165.6-87.3l-7.7-1.3-7.7-1.2 2-.3 7.7 1.3 7.7 1.4zm163.6 87.8l-26.3-18.4 2.1-.4 26.2 18.3zm-167.1-87.9l-7.8-1.3-7.7-1 2-.3 7.8 1.1 7.7 1.3zm165.1 88.5l-26.3-18.6 2-.4 26.3 18.4zm-168.7-88.7l-6.2-.9-7.7-.9 2-.3 13.9 2zm166.7 89.2l-24.7-17.6 2-.4 24.7 17.5zm-170.2-89.3l-6.2-.8-7.7-.8 2-.3 13.9 1.8zm168.1 89.9l-24.6-17.8 2-.4 24.7 17.6zm-171.7-90l-12.3-1.3 2-.2 12.3 1.4zm169.7 90.5l-23.1-16.8 2-.4 23.1 16.7zm-173.3-90.6l-10.8-.9 2.1-.3 10.8 1.1zm172.9 92.2l-23.2-16.9 2-.4 23.2 16.8zm-176.4-92.3l-9.3-.6 2-.2 9.3 .7zm174.4 92.9l-23.2-17.1 2-.4 23.2 16.9zm-178-93l-7.7-.4 2-.1 7.8 .5zm175.9 93.6l-21.6-16.1 2.1-.5 21.6 16zm-179.4-93.8l-6.2-.1 2-.1 6.2 .3zm177.4 94.4l-10.8-8-10.8-8.2 2-.5 21.6 16.1zm-184.1-94.5l-1.5 0 2 0 1.6 0zm180.6 94l-20.1-15.2 2-.5 20.1 15.1zm-2 .7l-9.3-7-10.8-8.3 2-.6 20.1 15.2zm-2 .7l-9.3-7-10.8-8.5 2-.5 10.8 8.3 9.3 7zm-2.1 .7l-9.2-7.1-10.8-8.5 2-.6 10.8 8.5 9.3 7zm-3.5-.4l-9.3-7.2-9.2-7.5 2-.5 9.2 7.3 9.3 7.2zm-2 .7l-9.3-7.3-9.2-7.5 2-.6 9.2 7.5 9.3 7.2zm-2 .6l-9.3-7.3-9.2-7.6 2-.5 9.2 7.5 9.3 7.3zm-2 .7l-7.8-6.1-9.2-7.7 2-.5 9.3 7.6 7.7 6zm-2 .6l-7.8-6.2-9.2-7.7 2-.5 9.2 7.7 7.8 6.1zm-2.1 .6l-7.7-6.3-9.2-7.8 2-.4 9.2 7.7 7.8 6.2zm-2 .5l-7.7-6.3-7.7-6.7 2-.3 7.7 6.5 7.7 6.3zm-2 .4l-7.7-6.4-7.7-6.7 2-.3 7.7 6.7 7.7 6.3zm-.4 1.7l-7.8-6.5-7.7-6.8 2-.2 7.7 6.7 7.8 6.4zm-2.1 .3l-6.1-5.3-7.7-6.9 2 0 7.7 6.7 6.2 5.2zm-.4 1.6l-6.2-5.3-7.7-7 2-.1 7.7 6.9 6.2 5.2zm-2 .2l-6.2-5.4-6.2-5.6 2-.1 6.2 5.6 6.2 5.3zm-.5 1.6l-6.2-5.4-6.1-5.8 2 0 6.1 5.6 6.2 5.4zm-.5 1.6l-6.1-5.5-7.8-7.3 2.1 0 7.7 7.2 6.1 5.3zm-2 .2l-6.2-5.6-6.1-6 2 .1 6.2 5.8 6.1 5.5zm-.4 1.6l-6.2-5.7-6.2-6 2 .1 6.2 5.8 6.2 5.6zm-.5 1.6l-6.2-5.7-6.2-6.2 2.1 .1 6.1 6 6.2 5.6zm-2 .2l-6.2-5.9-4.6-4.7 2 .1 4.6 4.6 6.2 5.7zm-.5 1.6l-6.2-6-4.6-4.8 2 .2 4.6 4.6 6.2 5.8zm-.5 1.6l-6.1-6.1-4.7-4.8 2 .1 4.7 4.7 6.1 5.9zm-2 0l-4.6-4.7-4.6-4.9 2 .3 4.6 4.8 4.6 4.5zm-.4 1.4l-4.7-4.8-4.6-5.1 2 .6 4.6 4.8 4.7 4.6zm-.5 1.2l-4.6-4.9-4.7-5.2 2 .8 4.7 4.9 4.6 4.7zm1.1 2.8l-4.7-4.9-4.6-5.3 2 .8 4.6 5 4.7 4.7zm-.5 1.2l-4.6-5.1-4.7-5.5 2.1 1 4.6 5.2 4.6 4.7zm-.5 1.2l-4.6-5.3-3.1-3.7 2 .9 3.1 3.6 4.6 4.9zm-.4 1.2l-4.7-5.5-3-3.9 2 1.1 3 3.6 4.7 5.1zm-.5 1.3l-6.2-7.8 2 1 6.2 7.2zm-.5 1.4l-3.1-3.9-3-4.3 2 1.1 6.1 7.5zm-.4 1.5l-3.1-4.1-3.1-4.4 2 1 3.1 4.1 3.1 3.8zm-.5 1.6l-3.1-4.2-3.1-4.7 2 1 3.1 4.3 3.1 3.9zm-2-.3l-4.6-7.1 2 .9 4.6 6.5z"/><path fill="#0000bf" stroke="#0000bf" d="M552.4 425.9l-4.7 2.7 2-2.2 3.1-2.1 1.6-1.2zm-.5 1.8l-4.6 2.3 2-2.2 4.6-3zm1.1 1.1l-3.1 1.5-3.1 1.2 2-2.2 3.1-1.6 3.1-2zm-.5 2.1l-3.1 1.2-3.1 1 2-2.2 3.1-1.4 3.1-1.6zm1.1 1.5l-3.1 1.1-3.1 1 2-2.4 3.1-1.2 3.1-1.6zm-.5 2.2l-3.1 1-3.1 .7 2-2.3 3.1-1 3.1-1.3zm1.1 1.7l-3.1 .9-3.1 .7 2-2.3 3.1-1 3.1-1.2zm1.1 1.8l-3.1 .8-4.7 .8 2.1-2.2 4.6-1.2 3.1-1.1zm-.5 2.1l-6.2 1.1 2-2.1 3.1-.7 3.1-.9zm1.1 1.7l-4.7 .8-3 .3 2-1.9 3.1-.6 4.6-1.1zm-.5 1.8l-4.6 .6-3.1 .3 2-1.7 3.1-.5 4.6-.9zm1.1 1.3l-4.7 .7-4.6 .3 2-1.5 4.7-.6 4.6-.8zm-.5 1.5l-4.6 .5-4.6 .3 2-1.4 4.6-.4 4.6-.7zm-.5 1.5l-4.6 .4-4.6 .2 2-1.4 4.6-.3 4.7-.6zm-.4 1.5l-4.7 .3-4.6 .1 2-1.3 4.7-.3 4.6-.4zm-.5 1.5l-4.6 .2-4.7 0 2.1-1.3 4.6-.2 4.6-.3zm-.5 1.4l-4.6 .1-4.6 0 2-1.3 4.6-.1 4.7-.2zm-.4 1.5l-9.3-.1 2-1.3 4.7 0 4.6-.2zm-.5 1.4l-6.2-.1-4.6-.3 2-1.1 4.6 .1 6.2-.1zm1.1 1.5l-6.2-.2-6.2-.4 2-1.2 6.2 .3 6.2 0zm-.5 1.4l-6.2-.2-6.1-.5 2-1.2 6.2 .4 6.1 .1zm-.5 1.5l-6.1-.4-6.2-.5 2-1.2 6.2 .4 6.2 .2zm-.4 1.4l-6.2-.4-6.2-.7 2-1.1 6.2 .5 6.2 .3zm-.5 1.4l-6.2-.5-6.1-.7 2-1.1 6.1 .6 6.2 .4zm-.5 1.3l-7.7-.8-6.1-.8 2-.9 6.1 .7 7.8 .6zm-.4 1.2l-7.7-.9-6.2-.8 2-.9 6.2 .8 7.7 .7zm151.2 76.8l-1.6-2 2.1-1.8 1.5 2.1zm-153.2-75.8l-13.9-1.9 2-.8 6.2 .8 7.7 .9zm151.2 77.5l-3.1-3.9 2-1.8 3.1 4zm-151.7-76.4l-15.4-2.3 2-.7 7.7 1.1 7.7 1zm149.7 78l-4.7-5.6 2-1.8 4.7 5.8zm-151.7-77.1l-13.9-2.2 2-.7 13.9 2zm149.7 78.7l-6.2-7.2 2-1.8 6.2 7.4zm-150.2-77.6l-15.4-2.7 2-.6 15.4 2.4zm148.1 79.1l-7.7-8.7 2-1.8 7.8 9zm-150.1-78.3l-15.4-2.9 2-.6 15.4 2.7zm146.6 78.1l-7.7-8.5 2-1.7 7.7 8.7zm-147.1-77l-16.9-3.3 2-.7 17 3.2zm145.1 78.4l-9.3-9.8 2-1.7 9.3 10.1zm-147.1-77.6l-16.9-3.5 2-.6 16.9 3.3zm143.5 77.4l-10.8-11.1 2-1.7 10.8 11.4zm-143.9-76.3l-18.6-4 2.1-.6 18.5 3.8zm140.4 76.1l-10.8-10.8 2-1.6 10.8 11zm-142.4-75.3l-18.6-4.2 2-.6 18.6 4zm138.8 75.1l-12.3-11.9 2-1.6 6.2 5.9 6.1 6.2zm-139.3-73.8l-20.1-4.8 2-.7 20.1 4.6zm135.8 73.6l-12.4-11.6 2-1.5 12.4 11.8zm-137.8-72.8l-20.1-4.9 2-.7 20.1 4.8zm134.2 72.6l-12.3-11.3 2-1.5 12.3 11.5zm-134.7-71.2l-20.1-5.2 2.1-.7 20 4.9zm131.2 71l-7.8-7-6.1-5.4 2-1.4 6.2 5.4 7.7 7.1zm-131.7-69.6l-21.6-5.8 2-.8 21.7 5.6zm128.1 69.3l-7.7-6.8-6.2-5.2 2-1.4 6.2 5.3 7.7 6.9zm-127-67.5l-23.1-6.3 2-.9 23.1 6.2zm123.5 67.3l-7.8-6.7-7.7-6.4 2-1.3 7.8 6.5 7.7 6.7zm-124-65.8l-23.1-6.6 2-.8 23.2 6.4zm120.4 65.6l-7.7-6.6-7.7-6.2 2-1.3 7.7 6.3 7.7 6.6zm-120.8-64.2l-24.7-7.2 2-.8 24.7 7zm117.2 64l-9.2-7.7-7.7-6.1 2-1.2 7.7 6.1 9.3 7.7zm-117.7-62.5l-24.7-7.5 2-.8 24.7 7.3zm114.2 62.3l-9.3-7.5-7.7-6 2-1.2 7.7 6 9.3 7.6zm-113.1-60.3l-12.4-4-15.4-4.7 2-.8 17 5.1 10.8 3.4zm109.5 60.1l-9.2-7.4-9.3-6.9 2-1.3 9.3 7 9.3 7.5zm-110-58.6l-12.3-4.1-15.5-4.8 2.1-.8 15.4 4.7 12.3 4zm106.5 58.4l-10.8-8.4-9.3-6.8 2-1.2 9.3 6.9 10.8 8.4zm-105.4-56.4l-13.9-4.7-17-5.5 2-.7 17 5.3 13.9 4.6zm101.8 56.3l-10.8-8.3-10.8-7.7 2-1.2 10.8 7.8 10.8 8.3zm-102.3-54.8l-13.9-4.9-16.9-5.5 2-.8 17 5.5 13.8 4.7zm98.8 54.6l-12.4-9.2-10.8-7.5 2-1.2 10.8 7.6 12.4 9.3zm-97.7-52.5l-13.9-5-18.5-6.3 2-.7 18.5 6.1 13.9 4.9zm94.1 52.4l-12.3-9.1-12.4-8.4 2.1-1.2 12.3 8.5 12.3 9.1zm-93-50.3l-15.4-5.7-20.1-6.9 2-.8 20.1 6.8 15.4 5.7zm89.5 50.2l-13.9-10.1-12.4-8.2 2.1-1.1 12.3 8.2 6.2 4.4 7.7 5.7zm-88.4-48l-17-6.5-20.1-7.1 2-.7 20.1 6.9 17 6.4zm84.8 47.8l-7.7-5.5-7.7-5.4-7.7-5.1-6.2-3.9 2-1.1 6.2 3.9 7.7 5.1 7.7 5.4 7.7 5.6zm-82.2-44.9l-9.3-3.8-9.2-3.6-10.8-4-12.4-4.4 2-.7 12.4 4.3 10.8 3.9 9.2 3.6 9.3 3.7zm78.7 44.8l-9.3-6.6-7.7-5.2-7.7-5-7.7-4.7 2-1.1 7.7 4.7 7.7 5 7.7 5.3 9.3 6.6zm-76.1-41.9l-9.3-4-10.8-4.3-10.8-4.1-13.9-5 2.1-.7 13.8 4.9 10.8 4 10.8 4.3 9.3 3.9zm72.5 41.8l-9.2-6.5-9.3-6.1-9.3-5.9-9.2-5.4 2-1.1 9.2 5.5 9.3 5.8 9.3 6.2 9.2 6.5zm-66.8-37.3l-10.8-4.9-12.3-5.2-13.9-5.4-15.5-5.7 2-.7 15.5 5.6 13.9 5.3 12.3 5.2 10.8 4.8zm61.7 36.1l-10.8-7.4-10.8-6.9-10.8-6.5-10.8-6 2-1 10.8 6 10.8 6.4 10.8 7 10.8 7.4zm-3.5-.1l-13.9-9.3-12.4-7.6-12.3-7.1-12.4-6.5-13.8-6.7-13.9-6.1-15.5-6.3-16.9-6.4 2-.7 17 6.3 15.4 6.2 13.9 6 13.9 6.7 13.8 7.3 12.4 7.2 12.3 7.7 12.4 8.3zm-3.6-.1l-12.3-8.2-12.4-7.6-12.3-7.1-13.9-7.4-12.4-5.9-13.8-6.2-15.5-6.3-16.9-6.5 2-.7 16.9 6.4 15.5 6.3 13.9 6.1 12.3 5.9 13.9 7.3 12.3 7.1 12.4 7.6 12.3 8.2zm-3.5-.1l-12.4-8.1-12.3-7.6-12.4-7-13.9-7.3-12.3-5.9-13.9-6.2-13.9-5.8-17-6.5 2.1-.7 16.9 6.5 15.5 6.3 13.8 6.2 12.4 5.9 12.3 6.5 12.4 7 12.3 7.6 12.4 8.2zm-5.1-1.1l-12.4-8-10.8-6.5-12.3-7-12.4-6.5-12.3-6-13.9-6.2-13.9-5.8-15.4-6 2-.7 15.4 5.9 13.9 5.8 13.9 6.2 12.3 5.9 12.4 6.5 12.3 6.9 10.8 6.6 12.4 7.9zm-3.6-.1l-12.3-7.9-10.8-6.5-12.4-6.9-12.3-6.5-12.4-5.9-12.3-5.6-13.9-5.9-15.4-6.1 2-.6 15.4 6 13.9 5.8 12.3 5.5 12.4 6 12.3 6.4 12.4 6.9 10.8 6.5 12.3 7.9zm-5.1-1.1l-12.3-7.7-10.8-6.4-10.8-6-12.4-6.5-12.3-5.9-12.4-5.6-13.9-5.9-13.8-5.5 2-.7 13.9 5.5 13.8 5.8 12.4 5.5 12.3 6 12.4 6.4 10.8 6 10.8 6.3 12.3 7.8zm-3.5-.1l-10.8-6.7-10.8-6.4-10.8-6-12.4-6.5-12.3-6-12.4-5.7-12.3-5.3-13.9-5.6 2-.6 13.9 5.5 12.3 5.3 12.4 5.6 12.3 5.9 12.4 6.5 10.8 6 10.8 6.4 10.8 6.7zm-3.6 0l-10.8-6.7-10.8-6.4-10.8-6-12.3-6.4-10.8-5.3-12.4-5.7-12.3-5.4-13.9-5.6 2-.7 13.9 5.6 12.3 5.3 12.4 5.7 10.8 5.2 12.3 6.4 10.8 6 10.8 6.4 10.8 6.7zm-5.1-1.1l-10.8-6.6-10.8-6.3-10.8-5.9-10.8-5.6-10.8-5.3-12.3-5.7-12.4-5.3-12.3-5.1 2-.6 12.3 5 12.4 5.3 12.3 5.6 10.8 5.3 10.8 5.6 10.8 5.9 10.8 6.2 10.8 6.6zm-3.5-.1l-10.8-6.5-10.8-6.3-10.8-5.9-10.9-5.6-10.8-5.2-10.8-5-12.3-5.5-12.3-5.1 2-.6 12.3 5.1 12.4 5.3 10.8 5 10.8 5.2 10.8 5.6 10.8 5.9 10.8 6.2 10.8 6.5zm-5.1-1l-10.8-6.5-9.3-5.3-9.3-5.1-10.8-5.6-10.8-5.3-10.8-5-10.8-4.8-12.3-5.3 2-.6 12.3 5.2 10.8 4.8 10.8 5 10.8 5.2 10.9 5.6 9.2 5.1 9.3 5.2 10.8 6.5zm-3.6-.1l-10.8-6.5-9.3-5.2-9.2-5.1-10.8-5.6-10.8-5.3-10.8-5.1-10.8-4.8-10.8-4.5 2-.7 12.3 5.3 10.8 4.8 10.8 5 9.3 4.5 10.8 5.6 9.3 5 9.2 5.3 10.8 6.4zm-5.1-1l-9.3-5.5-9.2-5.3-9.3-5-10.8-5.6-9.2-4.6-10.8-5.1-10.8-4.8-10.8-4.7 2-.5 10.8 4.5 10.8 4.8 10.8 5.1 9.2 4.5 10.8 5.6 9.3 5 9.3 5.3 9.2 5.4zm-5.1-1.1l-9.2-5.4-9.3-5.2-9.3-5-10.8-5.5-9.2-4.6-10.8-5-9.3-4.2-10.8-4.6 2-.6 10.8 4.6 9.3 4.1 10.8 5 9.2 4.5 10.8 5.6 9.3 4.9 9.3 5.2 9.2 5.4zm-3.5-.1l-9.3-5.4-9.3-5.2-9.2-4.9-9.3-4.8-9.2-4.6-10.8-5.1-9.3-4.2-10.8-4.6 2-.6 10.8 4.6 9.3 4.2 10.8 5 9.2 4.6 9.3 4.7 9.3 5 9.2 5.1 9.3 5.4zm-5.1-1l-17-9.6-9.3-5-9.2-4.8-9.3-4.6-9.2-4.4-9.3-4.2-10.8-4.7 2-.5 10.8 4.6 9.3 4.2 9.2 4.4 9.3 4.5 9.2 4.8 9.3 4.9 17 9.6zm-3.6-.1l-17-9.6-9.2-5-9.3-4.8-9.2-4.6-9.3-4.4-18.5-8.2 2-.6 18.5 8.2 9.3 4.4 9.2 4.5 9.3 4.8 9.2 4.9 17 9.6zm-3.5-.2l-9.3-5.3-9.3-5.1-16.9-8.9-9.3-4.6-9.3-4.4-18.5-8.2 2-.6 18.6 8.2 9.2 4.4 9.3 4.5 9.2 4.8 9.3 4.9 17 9.6zm-5.1-1l-17-9.5-17-8.9-17-8.3-18.5-8.3 2-.5 18.5 8.2 17 8.2 17 8.9 17 9.5zm-3.6-.1l-17-9.6-16.9-8.9-17-8.2-18.5-8.4 2-.5 18.5 8.3 17 8.2 16.9 8.8 17 9.5zm-3.6-.2l-16.9-9.5-17-8.9-17-8.3-18.5-8.3 2-.5 18.5 8.3 17 8.2 17 8.8 17 9.5zm-3.5-.2l-17-9.5-17-8.9-16.9-8.3-9.3-4.2-9.2-4.1 2-.5 18.5 8.3 17 8.2 16.9 8.8 17 9.5zm-3.6-.2l-18.5-10.3-16.9-8.9-17-8.2-17-7.6 2-.5 9.3 4.1 9.2 4.2 17 8.2 17 8.9 17 9.4zm-3.5-.2l-18.5-10.3-17-8.9-17-8.2-16.9-7.6 2-.4 16.9 7.5 17 8.2 17 8.8 18.5 10.2zm-3.6-.2l-18.5-10.3-17-8.9-16.9-8.2-17-7.6 2-.4 17 7.5 17 8.2 16.9 8.8 18.5 10.2zm-2 .7l-18.5-10.4-9.2-5-9.3-4.7-17-8.2-9.2-4.3-9.3-4 2-.4 9.3 4 9.2 4.2 17 8.1 9.3 4.8 9.2 4.9 18.5 10.3zm-3.5-.3l-18.5-10.4-9.3-4.9-9.3-4.8-9.2-4.5-9.3-4.4-16.9-7.5 2-.4 9.2 4 9.3 4.1 17 8.2 9.2 4.7 9.3 4.9 18.5 10.4zm-2 .7l-10.8-6.2-9.3-5.2-9.3-4.9-9.2-4.8-9.3-4.5-9.2-4.4-17-7.4 2-.4 9.3 3.9 9.2 4.2 9.3 4.4 9.2 4.5 9.3 4.8 9.3 4.9 18.5 10.4zm-2 .6l-10.9-6.2-9.2-5.2-10.8-5.8-9.3-4.7-9.2-4.6-9.3-4.3-9.2-4.2-9.3-3.9 2-.4 9.3 3.9 9.2 4.1 9.3 4.3 9.2 4.6 9.3 4.7 10.8 5.7 9.3 5.2 10.8 6.2zm-2.1 .6l-10.8-6.3-9.2-5.1-10.8-5.9-9.3-4.8-10.8-5.3-9.2-4.3-9.3-4.2-9.3-3.9 2.1-.4 9.2 3.9 9.3 4.1 9.2 4.4 10.8 5.3 9.3 4.7 10.8 5.8 9.2 5.2 10.9 6.2zm-3.5-.3l-10.8-6.3-10.8-6-10.8-5.8-9.3-4.8-10.8-5.2-9.2-4.3-9.3-4.1-9.2-3.9 2-.3 9.2 3.8 9.3 4.1 9.2 4.2 10.8 5.3 9.3 4.7 10.8 5.8 10.8 6 10.8 6.2zm-2 .6l-10.8-6.3-10.8-6.1-10.8-5.8-10.8-5.6-10.8-5.3-9.3-4.3-9.2-4-10.8-4.5 2-.3 10.8 4.4 9.2 4.1 9.3 4.2 10.8 5.3 10.8 5.5 10.8 5.8 10.8 6 10.8 6.3zm-2 .6l-12.4-7.3-10.8-6-10.8-5.9-10.8-5.6-10.8-5.2-9.2-4.3-9.3-4-10.8-4.4 2-.4 10.8 4.4 9.3 4 10.8 5 10.8 5.3 10.8 5.6 10.8 5.8 10.8 6.1 10.8 6.3zm-.5 1.5l-12.3-7.3-12.4-7.1-10.8-5.8-10.8-5.7-10.8-5.2-10.8-5-10.8-4.7-10.8-4.3 2-.3 10.8 4.3 10.8 4.6 10.8 5 10.8 5.2 10.8 5.6 10.8 5.9 12.4 6.9 12.3 7.3zm-2 .6l-12.4-7.4-12.3-7.1-12.3-6.7-10.8-5.6-10.8-5.3-10.8-5-10.8-4.6-10.8-4.3 2-.3 10.8 4.3 10.8 4.6 10.8 4.9 10.8 5.3 10.8 5.5 12.3 6.7 12.4 7.1 12.3 7.3zm-2 .5l-13.9-8.3-12.4-7.1-12.3-6.8-10.8-5.5-12.3-6-10.8-4.9-10.8-4.5-10.8-4.2 2-.3 10.8 4.2 10.8 4.5 10.8 4.8 12.3 6 10.8 5.5 12.4 6.7 12.3 7.1 13.9 8.3zm-2 .6l-13.9-8.4-12.4-7.2-12.3-6.8-12.4-6.4-12.3-5.9-10.8-4.9-10.8-4.5-10.8-4.1 2-.3 10.8 4.1 10.8 4.5 10.8 4.8 12.4 6 12.3 6.3 12.3 6.8 12.4 7.1 13.9 8.3zm-.5 1.5l-13.9-8.5-13.9-8.1-12.3-6.9-12.4-6.4-12.3-6-10.8-4.9-10.8-4.5-12.4-4.7 2.1-.3 12.3 4.7 10.8 4.5 10.8 4.9 12.3 5.9 12.4 6.4 12.3 6.8 13.9 8.1 13.9 8.4zm-2 .5l-15.4-9.4-13.9-8.2-12.4-6.9-12.3-6.4-12.4-6-12.3-5.5-10.8-4.3-12.3-4.6 2-.3 12.3 4.6 10.8 4.4 12.3 5.4 12.4 6 12.3 6.4 12.4 6.8 13.9 8.1 15.4 9.4zm-2 .5l-15.5-9.5-13.8-8.2-12.4-6.9-12.3-6.5-12.4-6-12.3-5.5-10.8-4.4-12.4-4.5 2.1-.3 12.3 4.6 10.8 4.3 12.3 5.5 12.4 6 12.3 6.4 12.4 6.9 13.9 8.2 15.4 9.4zm-.5 1.5l-15.4-9.6-13.9-8.3-12.4-7-12.3-6.6-12.3-6.1-12.4-5.6-10.8-4.5-12.3-4.5 2-.3 12.3 4.6 10.8 4.4 12.4 5.6 12.3 6.1 12.4 6.5 12.3 7 13.9 8.2 15.4 9.6zm-2 .6l-15.4-9.8-12.4-7.4-12.3-7.2-12.4-6.7-12.3-6.2-10.8-5-10.8-4.5-12.4-4.7 2.1-.2 12.3 4.7 10.8 4.5 10.8 5 12.3 6.2 12.4 6.6 12.3 7.1 13.9 8.3 13.9 8.7zm-2 .5l-15.4-9.8-12.4-7.6-12.3-7.2-12.4-6.7-12.3-6.3-10.8-5-10.8-4.5-10.8-4.2 2-.2 10.8 4.2 10.8 4.5 10.8 5 12.3 6.2 12.4 6.7 12.3 7.2 12.4 7.4 15.4 9.8zm-71.5-39.6l-12.3-5.5-12.3-4.9 2-.1 12.3 4.9 12.4 5.4zm71 41l-15.4-9.9-13.9-8.5-12.3-7.3-10.8-5.9 2-.3 12.3 6.8 12.4 7.2 12.3 7.6 15.4 9.9zm-82.2-45l-6.2-2.6-7.7-3 2-.2 7.7 3.1 6.2 2.6zm80.2 45.5l-13.9-9-10.8-6.8-10.8-6.5-9.2-5.4 2-.2 9.2 5.3 10.8 6.5 12.4 7.7 12.3 7.9zm-88.4-48l-4.6-1.8 2-.1 4.6 1.8zm87.9 49.5l-23.1-15-9.3-5.7-9.2-5.6 2-.2 9.3 5.5 9.2 5.7 10.8 6.8 12.4 8zm-2 .5l-20-13.2-17-10.6 2-.2 17 10.5 20 13zm-.4 1.5l-20.1-13.3-15.4-9.8 2-.3 15.4 9.7 20.1 13.2zm-122.4-61.6l-6.2-1.6 2-.2 6.2 1.6zm120.4 62l-18.6-12.4-13.8-9 2-.2 13.9 8.9 18.5 12.3zm-117.8-60.6l-12.3-3.2 2-.2 12.3 3.3zm117.3 62.1l-17-11.5-13.9-9.2 2-.2 13.9 9 17 11.5zm-114.7-60.7l-9.2-2.6-9.3-2.2 2-.2 9.3 2.3 9.2 2.6zm114.2 62.2l-17-11.7-13.8-9.2 2-.3 13.9 9.2 16.9 11.6zm-116.2-62.2l-9.2-2.6-10.8-2.4 2-.1 10.8 2.5 9.2 2.6zm114.2 62.7l-15.4-10.8-12.4-8.4 2-.2 12.4 8.3 15.4 10.6zm-119.3-63.6l-9.2-2.3-9.3-2 2-.1 9.3 2 9.2 2.4zm118.8 65.1l-15.4-10.9-12.3-8.5 2-.2 12.3 8.4 15.5 10.8zm-123.9-65.9l-7.7-1.8-9.2-1.8 2-.2 9.2 1.9 7.7 1.9zm121.9 66.3l-24.7-17.5 2.1-.2 24.6 17.3zm-125.4-66.8l-7.7-1.6-9.3-1.7 2-.1 9.3 1.7 7.7 1.8zm125 68.3l-24.7-17.7 2-.2 24.7 17.5zm-130.1-69l-7.7-1.5-7.7-1.2 2-.1 7.7 1.3 7.7 1.5zm128.1 69.4l-23.2-16.8 2-.2 23.2 16.6zm-131.7-69.8l-7.7-1.4-7.7-1 2-.1 7.7 1.1 7.7 1.5zm131.2 71.3l-23.2-17 2.1-.2 23.1 16.8zm-136.3-72l-6.1-.9-7.8-.9 2.1-.1 7.7 1 6.1 1zm135.8 73.5l-21.6-16.1 2-.2 21.6 15.9zm-139.3-73.8l-6.2-.9-7.7-.7 2-.1 7.7 .9 6.2 .9zm137.3 74.2l-20.1-15.2 2.1-.2 20 15zm-142.4-74.8l-6.2-.7-6.2-.4 2.1 0 6.1 .5 6.2 .7zm141.9 76.4l-20-15.4 2-.2 20.1 15.1zm-150.1-77.2l-7.7-.5 2 .1 7.7 .5zm148.1 77.7l-20-15.6 2-.3 20 15.4zm-2 .5l-18.5-14.5 2-.4 18.5 14.4zm-2 .6l-18.5-14.8 2-.3 18.5 14.5zm-2 .5l-17-13.7 2-.4 17 13.6zm-2 .6l-17-13.9 2-.4 17 13.7zm-2 .5l-15.5-12.7 2.1-.4 15.4 12.6zm-2 .6l-15.5-13 2-.3 15.5 12.7zm-2 .5l-13.9-11.8 2-.4 13.9 11.7zm-.5 1.8l-15.4-13.3 2-.3 15.4 13.1zm-2 .5l-13.9-12.2 2-.3 13.9 12zm-2 .4l-13.9-12.4 2-.2 13.9 12.2zm-.5 1.6l-13.9-12.5 2-.1 13.9 12.3zm-2 .3l-12.4-11.4 2.1 0 12.3 11.1zm-.5 1.5l-12.3-11.5 2 .1 12.3 11.2zm-.4 1.4l-12.4-11.7 2 .2 12.4 11.5zm-.5 1.5l-12.4-11.9 2.1 .2 12.3 11.6zm-.5 1.5l-6.2-6-6.1-6.1 2 .3 12.3 11.7zm-.4 1.4l-10.8-10.6 2 .2 10.8 10.4zm-2.1 0l-9.2-9.4 2 .3 9.3 9.1zm-.4 1.4l-9.3-9.5 2 .3 9.3 9.3zm-.5 1.5l-9.3-9.7 2.1 .4 9.2 9.4zm-.5 1.4l-9.2-9.8 2 .4 9.3 9.5zm-.4 1.5l-9.3-10.1 2 .5 9.3 9.7zm-.5 1.4l-4.6-5-4.7-5.3 2.1 .5 9.2 10zm-.5 1.5l-4.6-5.2-4.6-5.3 2 .5 4.6 5.2 4.6 4.9zm-.4 1.3l-7.7-8.9 2 .7 7.7 8.5zm-.5 1.1l-7.7-9.1 2 .9 7.7 8.8zm-.5 1l-6.1-7.5 2 1.1 6.1 7.2zm1.1 2.7l-7.7-9.7 2 1.4 7.7 9.1zm-.5 .8l-6.1-8 2 1.5 6.2 7.5zm1.1 2.8l-6.2-8.2 2.1 1.5 6.1 7.6zm-.4 .8l-6.2-8.6 2 1.7 6.2 8zm1 2.9l-3.1-4.2-3-4.5 2 1.6 6.1 8.1zm-.4 1l-3.1-4.4-3.1-4.8 2 1.7 6.2 8.6zm-.5 1.2l-4.6-7.2 2 1.6 4.6 6.6zm-.5 1.2l-4.6-7.6 2 1.6 4.6 7zm-.4 1.5l-4.7-8.1 2 1.6 4.7 7.4z"/><path fill="#0000cf" stroke="#0000cf" d="M557 422.4l-4.6 3.5 2-2.8 4.6-4.3zm-.5 2.2l-4.6 3.1 2-2.9 4.6-3.7zm1.1 1.3l-4.6 2.9 2-3.1 4.6-3.5zm-.5 2.5l-4.6 2.5 2-3 4.6-3zm1.1 1.8l-4.6 2.2 2-3.1 4.6-2.8zm1.1 1.8l-3.1 1.4-3.1 1.2 2-2.9 3.1-1.5 3.1-1.8zm1.1 2l-3.1 1.2-3.1 1.1 2-2.9 3.1-1.4 3.1-1.5zm1 2l-6.1 2.1 2-2.9 3.1-1.2 3-1.4zm1.1 2l-4.6 1.4-3.1 .8 2-2.6 3.1-1 4.6-1.9zm-.5 2.3l-6.1 1.6 2-2.5 6.2-2zm1.1 1.7l-4.6 1.1-3.1 .6 2-2.2 3.1-.8 4.6-1.4zm-.5 1.8l-6.1 1.2 2-1.9 6.2-1.5zm1.1 1.4l-7.7 1.3 2-1.7 3.1-.6 4.6-1.1zm-.4 1.7l-7.8 1.1 2.1-1.7 7.7-1.4zm-.5 1.7l-7.7 .9 2-1.6 7.7-1.3zm1.1 1.4l-4.7 .6-4.6 .4 2-1.6 4.6-.6 4.7-.7zm-.5 1.7l-9.3 .7 2.1-1.5 4.6-.5 4.6-.6zm-.5 1.7l-9.2 .5 2-1.6 9.2-.7zm1.1 1.5l-6.2 .3-4.6 .1 2-1.5 4.6-.2 6.2-.5zm-.5 1.7l-9.2 .2 2-1.5 9.2-.5zm-.4 1.6l-9.3 0 2-1.4 9.3-.3zm1 1.7l-10.8-.2 2.1-1.5 10.8 0zm146.6 74.7l-1.5-2.3 2-2 1.5 2.3zm-147-73.1l-10.8-.4 2-1.4 10.8 .2zm145 75l-3.1-4.4 2-2 3.1 4.5zm-145.5-73.4l-10.8-.6 2-1.3 10.8 .4zm143.5 75.2l-4.6-6.4 2-2 4.6 6.6zm-142.4-73.6l-12.4-.9 2.1-1.2 12.3 .6zm140.4 75.4l-6.2-8.2 2-2 6.2 8.4zm-140.9-74l-12.3-1.1 2-1.1 12.3 .9zm137.3 73.7l-6.1-7.8 2-2.1 6.2 8.1zm-137.7-72.3l-13.9-1.5 2-1 13.9 1.2zm134.2 72.1l-6.2-7.5 2-2 6.2 7.7zm-134.7-70.8l-13.9-1.7 2-.9 13.9 1.5zm131.1 70.7l-7.7-8.9 2-2.1 7.7 9.2zm-131.6-69.3l-15.4-2.2 2-.9 15.4 1.9zm128.1 69.3l-7.7-8.6 2-2.1 7.7 8.9zm-130.1-68.3l-13.9-2.1 2-.9 13.9 2zm126.5 68.3l-9.2-9.9 2-2 9.2 10.1zm-127-67l-15.4-2.6 2-.8 15.4 2.4zm123.5 67l-10.8-11.1 2-1.9 4.6 4.7 6.2 6.6zm-123.9-65.6l-15.5-2.9 2.1-.8 15.4 2.6zm120.3 65.7l-10.8-10.7 2-2 4.7 4.6 6.1 6.4zm-120.8-64.4l-17-3.4 2-.8 17 3.2zm115.7 62.9l-10.8-10.3 2-1.8 4.7 4.3 6.1 6.1zm-116.2-61.5l-16.9-3.7 2-.8 16.9 3.4zm112.7 61.6l-6.2-5.8-6.2-5.5 2-1.9 6.2 5.7 6.2 5.9zm-113.1-60.2l-18.5-4.3 2-.8 18.5 4zm108 58.9l-6.2-5.6-6.2-5.4 2-1.7 6.2 5.4 6.2 5.7zm-107-57l-20-4.9 2-.9 20.1 4.7zm103.4 57.1l-7.7-6.8-6.2-5.1 2-1.7 6.2 5.2 7.7 6.9zm-103.8-55.5l-9.3-2.5-12.3-3.2 2-.8 12.3 2.9 9.3 2.4zm100.3 55.6l-9.3-7.9-7.7-6.2 2-1.6 7.7 6.2 9.3 8zm-99.2-53.5l-10.8-3.2-12.4-3.2 2-1 12.4 3.2 10.8 3zm94.1 52.2l-9.3-7.6-7.7-6 2-1.6 7.7 6.1 9.3 7.7zm-93.1-50.1l-10.8-3.3-13.9-3.8 2.1-1 13.8 3.7 10.8 3.2zm89.5 50.2l-9.2-7.5-9.3-7 2-1.5 9.3 7 9.2 7.6zm-86.9-47.4l-12.3-4-13.9-4.1 2-1 13.9 4 12.4 3.9zm81.8 46.1l-10.8-8.4-9.2-6.6 2-1.5 9.2 6.7 10.8 8.5zm-79.1-43.1l-13.9-4.9-15.5-4.7 2.1-1 15.4 4.6 13.9 4.7zm75.6 43.2l-6.2-4.8-6.2-4.6-10.8-7.4 2-1.4 10.8 7.5 6.2 4.6 6.2 4.8zm-73-40.2l-7.7-3-7.7-2.7-17-5.5 2-1 17 5.4 7.7 2.6 7.7 2.9zm67.9 39l-7.7-5.7-6.2-4.4-6.2-4.1-6.2-3.9 2.1-1.4 6.1 3.9 6.2 4.2 6.2 4.4 7.7 5.8zm-60.7-33.9l-9.2-3.9-9.3-3.6-10.8-3.8-10.8-3.5 2-1 10.8 3.4 10.8 3.8 9.3 3.5 9.2 3.9zm57.1 34l-9.2-6.7-7.8-5.3-7.7-4.9-9.2-5.4 2-1.4 9.2 5.5 7.8 4.9 7.7 5.3 9.2 6.8zm-5.1-1l-10.8-7.6-10.8-7-10.8-6.3-10.8-5.7-10.8-5.1-10.8-4.6-12.3-4.7-13.9-4.8 2-1 13.9 4.7 12.3 4.6 10.8 4.5 10.8 5.1 10.8 5.7 10.8 6.3 10.8 7 10.8 7.6zm-5.1-1.1l-10.8-7.3-9.2-5.8-9.3-5.4-10.8-5.7-10.8-5.2-10.8-4.7-12.3-4.8-12.4-4.3 2-1 12.4 4.3 12.3 4.7 10.8 4.6 10.8 5.1 10.8 5.7 9.3 5.4 9.2 5.8 10.8 7.4zm-5.1-.9l-9.2-6.2-9.3-5.7-9.2-5.3-10.8-5.7-9.3-4.4-10.8-4.8-10.8-4.3-10.8-3.9 2-1 10.8 3.9 10.8 4.2 10.8 4.7 9.3 4.4 10.8 5.6 9.2 5.3 9.3 5.8 9.2 6.2zm-5.1-.9l-9.2-6.1-7.7-4.6-9.3-5.3-9.3-4.8-9.2-4.5-9.3-4.1-10.8-4.4-10.8-4.1 2-1 10.8 4 10.8 4.4 9.3 4.1 9.3 4.4 9.2 4.8 9.3 5.3 7.7 4.6 9.2 6.1zm-5.1-.9l-7.7-4.9-7.7-4.7-7.7-4.3-9.3-4.9-7.7-3.8-9.2-4.2-9.3-3.9-10.8-4.2 2-1 10.8 4.2 9.3 3.8 9.2 4.2 7.7 3.8 9.3 4.8 7.7 4.4 7.7 4.6 7.8 4.9zm-5.1-.9l-7.7-4.8-7.7-4.5-7.7-4.3-7.7-4-7.7-3.7-7.7-3.5-7.8-3.3-9.2-3.8 2-.9 9.2 3.7 7.8 3.2 7.7 3.5 7.7 3.7 7.7 4 7.7 4.3 7.7 4.5 7.8 4.8zm-6.6-1.8l-12.3-7.3-6.2-3.3-7.7-4.1-6.2-3-7.7-3.6-7.7-3.4-7.7-3.2 2-1 7.7 3.2 7.7 3.4 7.7 3.5 6.2 3 7.7 4 6.2 3.4 12.3 7.3zm-6.6-1.7l-10.8-6.2-12.4-6.5-10.8-5.2-12.3-5.4 2-1 12.3 5.4 10.8 5.2 12.4 6.4 10.8 6.2zm-8.2-2.5l-7.7-4.3-9.3-4.8-9.2-4.6-9.3-4.2 2-1 9.3 4.2 9.2 4.5 9.3 4.8 7.7 4.3zm-11.3-4.1l-9.2-4.8-9.3-4.5 2-1 9.3 4.5 9.2 4.8zm-145.5-2.5l-9.3-4.9-9.3-4.5 2.1-.2 9.2 4.5 9.3 4.8zm5.7 4.4l-9.3-5.1-9.3-4.8-9.2-4.4-7.7-3.5 2-.1 7.7 3.4 9.3 4.5 9.2 4.7 9.3 5.1zm2.6 2.9l-12.4-6.9-10.8-5.7-12.3-5.9-10.8-4.7 2-.1 10.8 4.7 12.3 5.8 10.8 5.7 12.4 6.9zm2.6 3l-13.9-8-13.9-7.5-7.7-3.7-6.2-2.9-12.3-5.2 2-.1 12.4 5.2 6.1 2.8 7.7 3.8 13.9 7.4 13.9 8zm1.1 2.2l-13.9-8.3-13.9-7.7-7.7-3.9-6.2-2.9-12.3-5.4 2-.1 12.3 5.4 6.2 2.9 7.7 3.9 13.9 7.6 13.9 8.2zm1.1 2.1l-15.5-9.4-13.9-7.7-7.7-4-6.2-3-6.1-2.9-6.2-2.6 2-.1 12.4 5.5 6.1 3 7.7 4 13.9 7.7 15.5 9.3zm1 2.2l-15.4-9.6-13.9-8-7.7-4.1-6.2-3.1-6.1-2.9-6.2-2.8 2 0 12.3 5.7 6.2 3 7.7 4.1 13.9 7.9 15.4 9.6zm-.4 1.3l-15.5-9.8-13.9-8.2-7.7-4.2-6.1-3.1-6.2-3-6.2-2.8 2 0 6.2 2.8 6.2 2.9 6.1 3.2 7.8 4.2 13.8 8 15.5 9.7zm-82.3-40.4l-3.1-.9 2 0 3.1 .9zm83.3 42.6l-15.4-10-13.9-8.4-7.7-4.3-6.2-3.3-6.1-3.1-6.2-2.9 2 .1 6.2 2.8 6.1 3.1 6.2 3.3 7.7 4.3 13.9 8.3 15.4 9.9zm-80.7-41.2l-10.8-3.2 2 0 10.8 3.3zm80.3 42.5l-15.5-10.2-13.8-8.6-7.8-4.4-6.1-3.3-6.2-3.2-6.2-2.9 2 0 6.2 3 6.2 3.1 6.1 3.3 7.8 4.4 13.8 8.5 15.5 10.1zm-77.6-41l-9.3-3-9.3-2.5 2 0 9.3 2.6 9.3 3zm78.6 43.3l-10.8-7.4-10.8-7-9.2-5.8-9.3-5.3 2 0 9.3 5.3 9.3 5.7 10.8 7 10.8 7.3zm-77.6-42.3l-10.8-3.6-6.1-1.8-6.2-1.6 2 .1 6.2 1.6 6.1 1.8 10.8 3.6zm77.2 43.6l-17-11.7-7.7-5-7.7-4.8 2 0 7.7 4.8 7.7 5 17 11.5zm-82.3-44.9l-4.6-1.5-6.2-1.9-6.1-1.6-6.2-1.4 2 0 6.2 1.5 6.1 1.7 10.8 3.4zm81.8 46.2l-15.4-10.8-13.9-9.2 2 .1 13.9 9 15.4 10.7zm-88.4-47.9l-9.3-2.7-10.8-2.4 2 .1 10.8 2.5 9.3 2.7zm87.9 49.2l-13.8-10-12.4-8.4 2 .1 12.4 8.3 13.9 9.8zm-94.5-50.8l-9.3-2.4-9.3-1.8 2 .1 9.3 1.9 9.3 2.4zm95.6 53.2l-13.9-10.1-10.8-7.6 2 0 10.8 7.5 13.9 10zm-100.7-54.3l-7.8-1.8-9.2-1.6 2 .1 9.3 1.7 7.7 1.8zm100.2 55.6l-12.3-9.2-10.8-7.7 2 0 10.8 7.7 12.4 9zm-105.3-56.7l-7.8-1.6-9.2-1.3 2 .1 9.3 1.5 7.7 1.6zm104.9 58.1l-12.4-9.3-9.2-6.8 2 0 9.2 6.7 12.4 9.2zm-2 .3l-20.1-15.2 2-.1 20.1 15zm-.5 1.6l-18.5-14.5 2 0 18.5 14.1zm-2 .3l-17-13.5 2-.1 17 13.3zm-.5 1.6l-16.9-13.7 2-.1 16.9 13.4zm-2 .4l-15.4-12.7 2-.2 15.4 12.5zm-.5 1.7l-15.4-13 2-.2 15.5 12.8zm-2 .3l-13.8-11.9 2-.1 13.8 11.7zm-.4 1.7l-15.5-13.5 2.1-.1 15.4 13.2zm-2 .3l-13.9-12.4 2 0 13.9 12.1zm-.5 1.6l-13.9-12.6 2 0 13.9 12.3zm-2 .2l-12.4-11.4 2 0 12.4 11.2zm-.5 1.5l-12.3-11.7 2 .2 12.3 11.4zm-.5 1.4l-10.8-10.3 2.1 .2 10.8 10.1zm-.4 1.4l-10.8-10.6 2 .4 10.8 10.3zm-.5 1.2l-10.8-10.7 2 .4 10.8 10.5zm-.5 1.3l-9.2-9.4 2 .5 9.3 9.1zm-.4 1.3l-9.3-9.6 2 .5 9.3 9.4zm1.1 2.9l-10.8-11.4 2 .5 10.8 11.1zm-.5 1.2l-9.3-9.9 2 .6 9.3 9.6zm-.5 1.3l-9.2-10.1 2 .6 9.2 9.8zm-.5 1.3l-9.2-10.4 2 .7 9.3 10.1zm-.4 1.3l-7.7-8.9 2 .7 7.7 8.6zm-.5 1.2l-7.7-9 2 .7 7.7 8.8zm-.5 1.2l-7.7-9.2 2 .8 7.8 8.9zm-.4 1.3l-6.2-7.6 2 .8 6.2 7.3zm1.1 2.9l-7.8-9.7 2.1 1.1 7.7 9.3zm-.5 .9l-6.2-8 2 1.4 6.2 7.5zm1.1 2.6l-7.8-10.2 2.1 1.7 7.7 9.6zm-.5 .5l-6.2-8.4 2 1.9 6.2 7.9zm1.1 2.5l-6.2-8.7 2 2.1 6.2 8.1zm1 2.6l-6.1-9 2 2.2 6.2 8.3zm-.4 .4l-4.6-7 2 2.2 4.6 6.5zm1.1 2.8l-4.7-7.3 2 2.2 4.7 6.7zm-.5 .5l-4.6-7.7 2 2.4 4.6 7zm1.1 3.2l-4.7-8 2 2.3 4.7 7.3zm-.5 .8l-4.6-8.4 2 2.3 4.6 7.7zm-.5 1l-3.1-5.8 2.1 2.1 3 5.3z"/><path fill="#0000df" stroke="#0000df" d="M560.1 419.6l-3.1 2.8 2-3.6 3.1-3.4zm1.1 1.3l-4.7 3.7 2-3.5 4.7-4.6zm-.5 2.8l-3.1 2.2 2-3.7 3.1-2.7zm1.1 1.8l-4.7 2.9 2-3.5 4.7-3.7zm1 2l-4.6 2.7 2-3.7 4.6-3.3zm1.1 2.1l-4.6 2.4 2-3.6 4.6-3zm1.1 2.2l-4.6 2.2 2-3.5 4.6-2.8zm1.1 2.2l-4.7 2 2-3.4 4.7-2.5zm1 2.2l-4.6 1.8 2-3.3 4.6-2.2zm1.1 2l-6.2 2.1 2.1-2.9 6.1-2.6zm1.1 1.9l-6.2 1.9 2-2.7 6.2-2.3zm1.1 1.6l-7.8 2.1 2.1-2.2 7.7-2.6zm-.5 2l-6.2 1.5 2-2.1 6.2-1.9zm1.1 1.5l-7.7 1.7 2-2 7.7-2.1zm-.5 2l-7.7 1.4 2-2 7.7-1.7zm1.1 1.6l-7.7 1.2 2-1.9 7.7-1.6zm-.5 1.9l-7.7 1 2-1.9 7.7-1.3zm1.1 1.7l-9.3 1 2-1.8 9.3-1.4zm-.5 1.9l-7.7 .6 2-1.8 7.7-.9zm145.1 74l-1.6-2.5 2-2.5 1.6 2.6zm-144-72.2l-9.3 .5 2-1.8 9.3-.8zm142 74.4l-3.1-4.8 2-2.5 3.1 5.1zm-140.9-72.6l-10.8 .3 2-1.7 10.8-.7zm138.8 74.7l-4.6-7 2-2.3 4.7 7.2zm-139.3-72.8l-9.3 .1 2.1-1.7 9.2-.4zm135.8 72.5l-6.2-8.8 2-2.4 6.2 9.2zm-134.7-70.7l-10.8-.1 2-1.6 10.8-.2zm131.1 70.5l-6.1-8.5 2-2.3 6.1 8.8zm-131.6-68.6l-10.8-.4 2-1.5 10.8 .1zm128.1 68.4l-6.2-8 2-2.3 6.2 8.3zm-127-66.6l-10.8-.6 2-1.5 10.8 .4zm123.4 66.6l-6.1-7.7 2-2.3 6.1 8zm-122.3-64.8l-12.4-1 2-1.3 12.4 .7zm118.8 64.9l-7.7-9.2 2-2.3 7.7 9.4zm-119.3-63.3l-12.3-1.2 2-1.3 12.3 1zm115.7 63.4l-9.2-10.5 2-2.3 9.2 10.8zm-116.2-61.8l-12.3-1.5 2-1.1 12.3 1.2zm111.1 60.3l-9.2-10 2-2.3 9.2 10.2zm-110-58.4l-13.9-2 2-1.2 13.9 1.8zm106.5 58.7l-6.2-6.5-4.6-4.7 2-2.2 4.6 4.7 6.2 6.6zm-107-57.1l-15.4-2.6 2-1 15.4 2.2zm101.9 55.8l-6.2-6.2-4.6-4.4 2-2.2 4.6 4.5 6.2 6.3zm-100.8-53.9l-17-3.2 2-1 17 2.9zm95.7 52.7l-6.2-5.9-4.6-4.2 2-2.1 4.6 4.2 6.2 6.1zm-94.6-50.6l-9.3-2.1-9.2-1.8 2-1.1 10.8 2 7.7 1.6zm91 51.1l-7.7-7.2-6.2-5.3 2-2.1 6.2 5.4 7.7 7.2zm-89.9-49l-9.3-2.3-10.8-2.4 2-1 10.8 2.2 9.3 2.1zm84.8 47.9l-7.7-6.8-7.7-6.3 2-2 7.7 6.3 7.7 7zm-83.8-45.6l-10.8-3-10.8-2.6 2-1.1 10.8 2.5 10.8 2.8zm78.7 44.7l-9.2-7.8-7.7-6 2-2 7.7 6.1 9.2 7.8zm-76-41.9l-10.8-3.3-13.9-3.7 2-1.1 13.9 3.5 10.8 3.2zm70.9 40.9l-6.1-5-4.7-3.6-9.2-6.8 2-1.8 9.2 6.7 4.7 3.7 6.1 5.1zm-66.8-37.2l-6.2-2.3-6.1-2-7.7-2.4-7.8-2.1 2.1-1.1 7.7 2 7.7 2.3 6.2 1.9 6.1 2.2zm61.7 36.4l-6.1-4.9-6.2-4.6-6.2-4.4-4.6-3 2-1.8 4.6 3.1 6.2 4.3 6.2 4.6 6.1 5zm-54.4-31.1l-7.7-3.2-9.3-3.5-9.3-3.1-9.2-2.7 2-1.2 9.2 2.7 9.3 2.9 9.3 3.4 7.7 3.2zm47.8 29l-7.7-5.8-7.7-5.3-7.7-4.9-7.8-4.5 2-1.7 7.8 4.5 7.7 4.9 7.7 5.4 7.7 5.8zm-5.1-.8l-9.3-6.6-9.2-6.1-9.3-5.4-9.2-4.9-9.3-4.4-9.2-3.8-10.8-4-10.8-3.4 2-1.2 10.8 3.3 10.8 3.9 9.2 3.7 9.3 4.3 9.2 4.9 9.3 5.4 9.3 6.1 9.2 6.6zm-5.1-.8l-9.3-6.4-7.7-4.9-7.7-4.5-9.2-4.9-7.8-3.7-9.2-4-9.3-3.6-10.8-3.7 2-1.2 10.8 3.6 9.3 3.5 9.3 3.9 7.7 3.7 9.2 4.9 7.7 4.5 7.8 4.9 9.2 6.4zm-6.6-1.8l-7.7-5.1-6.2-3.8-7.7-4.5-7.8-4.1-7.7-3.7-7.7-3.4-7.7-3.1-9.3-3.4 2.1-1.2 9.2 3.3 7.7 3 7.7 3.4 7.8 3.7 7.7 4 7.7 4.5 6.2 3.8 7.7 5.1zm-6.7-1.7l-6.1-3.9-6.2-3.7-6.2-3.5-6.2-3.2-6.1-3.1-7.7-3.5-6.2-2.5-7.7-3 2-1.3 7.7 2.9 6.2 2.6 7.7 3.4 6.1 3 6.2 3.3 6.2 3.4 6.2 3.7 6.1 4zm-8.2-2.5l-9.2-5.5-10.8-5.7-10.8-5.2-10.8-4.5 2-1.3 10.8 4.5 10.8 5.1 10.8 5.7 9.3 5.5zm-11.2-4.1l-10.8-5.8-6.2-3-6.2-2.9 2-1.2 6.2 2.8 6.2 3 10.8 5.7zm-199.7 2.4l-7.7-4.2-7.7-3.9 2 .1 7.7 3.9 7.7 4.1zm7.3 5.3l-10.8-6.3-10.8-5.7 2 .1 10.8 5.7 10.8 6.2zm-42.2-20.5l-7.7-2.9 2 .2 7.8 2.9zm44.8 23.3l-12.4-7.5-6.1-3.4-6.2-3.3 2 .2 6.2 3.2 6.2 3.4 12.3 7.5zm-43.7-22.3l-7.7-3-7.7-2.6 2 .2 7.7 2.6 7.7 3zm46.3 25.2l-7.7-4.9-6.2-3.8-6.1-3.6-6.2-3.4 2 .2 6.2 3.4 6.1 3.5 6.2 3.8 7.7 4.9zm-43.7-23.5l-6.1-2.6-6.2-2.4-6.2-2.1-6.1-1.8 2 .2 6.1 1.9 6.2 2.1 6.2 2.4 6.1 2.6zm46.3 26.6l-7.7-5.2-7.7-4.9-7.7-4.6-6.2-3.5 2 .2 6.2 3.5 7.7 4.6 7.7 4.8 7.7 5.1zm-43.6-24.9l-7.8-3.4-7.7-3.1-7.7-2.6-9.2-2.6 2 .2 9.2 2.7 7.7 2.7 7.8 3 7.7 3.5zm44.7 27l-7.7-5.4-7.7-5-7.7-4.9-6.2-3.6 2 .3 6.2 3.6 7.7 4.7 7.7 5.1 7.7 5.2zm-51.4-29.5l-7.7-3.2-7.7-2.8-7.7-2.4-7.7-1.9 2 .3 7.7 2 7.7 2.4 7.7 2.8 7.7 3.2zm52.5 31.7l-9.3-6.6-7.7-5.2-7.7-5-6.2-3.7 2 .3 6.2 3.7 7.7 4.9 7.7 5.1 9.3 6.5zm-66.8-37.1l-4.7-1.6-6.1-1.8-6.2-1.6-6.2-1.3 2 .4 6.2 1.3 6.2 1.6 6.1 1.9 4.7 1.6zm66.3 38.3l-7.7-5.7-7.7-5.4-6.2-4.1-6.2-4 2 .3 6.2 3.9 7.7 5.1 13.9 9.8zm-74.5-41l-4.6-1.3 2 .6 4.6 1.3zm75.6 43.3l-12.4-9.2-12.3-8.6 2 .3 12.4 8.4 12.3 9.1zm-.5 1.3l-10.8-8.2-10.8-7.9 2 .2 10.8 7.7 10.8 8.1zm-.4 1.4l-10.8-8.5-9.3-7 2 .2 9.3 6.8 10.8 8.4zm-.5 1.4l-9.3-7.5-9.2-7.3 2 .2 9.2 7.1 9.3 7.3zm-.5 1.4l-17-13.9 2.1 .1 16.9 13.6zm-.4 1.4l-15.5-13 2 .1 15.5 12.8zm-2.1 .1l-13.8-12 2 .2 13.9 11.7zm-.4 1.4l-12.4-10.9 2 .1 12.4 10.8zm-.5 1.4l-12.3-11.2 2 .2 12.3 11zm-.5 1.4l-12.3-11.6 2 .4 12.3 11.2zm-.4 1.2l-10.8-10.3 2 .4 10.8 10.1zm1 2.8l-10.8-10.6 2.1 .5 10.8 10.3zm-.4 1.1l-10.8-10.8 2 .6 10.8 10.6zm-.5 1.1l-9.2-9.5 2 .7 9.2 9.2zm1.1 2.6l-10.8-11.3 2 .8 10.8 11zm-.5 1.1l-9.2-9.9 2 .8 9.2 9.6zm-.4 1.1l-7.8-8.5 2 .8 7.8 8.2zm1 2.7l-9.2-10.4 2 .9 9.2 10.1zm-.4 1.1l-7.8-8.9 2.1 .9 7.7 8.6zm-.5 1l-7.7-9.1 2 1 7.7 8.8zm1.1 2.8l-7.7-9.3 2 1.1 7.7 8.9zm-.5 1.1l-7.7-9.6 2 1.1 7.7 9.2zm-.5 1l-6.1-7.9 2 1.2 6.1 7.5zm1.1 2.9l-7.7-10.1 2 1.3 7.7 9.6zm-.5 .8l-6.1-8.2 2 1.4 6.2 7.9zm1.1 2.6l-6.2-8.4 2.1 1.8 6.1 8zm-.5 .4l-4.6-6.6 2 2.1 4.7 6.2zm1.1 2.3l-4.6-6.8 2 2.3 4.6 6.4zm1.1 2.2l-4.6-7 2 2.5 4.6 6.6zm1.1 2.3l-4.7-7.3 2.1 2.7 4.6 6.8zm1.1 2.4l-4.7-7.6 2 2.8 4.7 7zm1 2.5l-4.6-7.9 2 2.9 4.6 7.2zm-.4 .1l-3.1-5.5 2 2.8 3.1 5.1zm1 2.9l-4.6-8.7 2 3 4.6 8zm-.4 .4l-3.1-6.1 2 2.9 3.1 5.5zm1 3.6l-4.6-9.6 2 3 4.7 8.7z"/><path fill="#0000ef" stroke="#0000ef" d="M563.2 416.5l-3.1 3.1 2-4.2 3.1-3.8zm1 1.5l-3 2.9 2-4.4 3-3.6zm1.1 1.8l-4.6 3.9 2-4.2 4.6-4.8zm1.1 2.1l-4.6 3.6 2-4.3 4.6-4.4zm1.1 2.4l-4.7 3.2 2-4.3 4.7-3.9zm1 2.4l-4.6 2.9 2-4.2 4.7-3.5zm1.1 2.5l-4.6 2.6 2-4.1 4.6-3.1zm2.6 1.7l-6.1 3.1 2-3.9 6.1-3.8zm1.1 2.4l-6.2 2.9 2-3.7 6.2-3.5zm1.1 2.3l-6.2 2.6 2-3.4 6.2-3.1zm1.1 2.1l-6.2 2.4 2-3.1 6.2-2.8zm1 1.9l-6.1 2.1 2-2.7 6.1-2.6zm-.4 2.2l-6.2 1.9 2-2.5 6.2-2.2zm1 1.8l-6.1 1.6 2-2.4 6.2-2zm1.1 1.8l-7.7 1.8 2-2.3 7.7-2.3zm-.4 2.2l-6.2 1.2 2-2.3 6.2-1.5zm145 73l-1.5-2.9 2-3.1 1.5 3.1zm-144-71.2l-7.7 1.3 2-2.2 7.7-1.6zm142 74l-3.1-5.5 2-3 3.1 5.7zm-140.9-72.1l-7.7 1.1 2-2.2 7.7-1.4zm138.9 74.6l-4.7-7.8 2.1-2.9 4.6 8.2zm-137.8-72.6l-9.3 1 2-2.1 9.3-1.4zm134.2 72.5l-4.6-7.5 2-2.8 4.6 7.8zm-133.1-70.5l-9.3 .8 2-2.1 9.3-1.1zm129.6 70.4l-6.2-9.4 2-2.8 6.2 9.7zm-128.6-68.3l-9.2 .5 2-2.1 9.2-.8zm125 68.2l-6.2-8.9 2.1-2.7 6.1 9.3zm-123.9-66.1l-10.8 .3 2-2 10.8-.6zm118.8 64l-4.6-6.4 2-2.5 4.6 6.5zm-117.7-61.8l-10.8-.1 2-1.9 10.8-.3zm114.2 61.9l-6.2-7.9 2-2.6 6.2 8.2zm-113.1-59.7l-12.4-.4 2-1.8 12.4 0zm109.5 60l-7.7-9.5 2-2.5 7.7 9.7zm-108.5-57.8l-12.3-.8 2-1.7 12.3 .4zm105 58.1l-4.7-5.5-4.6-5.3 2-2.5 4.6 5.3 4.7 5.7zm-103.9-56l-12.3-1.1 2-1.6 12.3 .8zm98.8 54.6l-4.7-5.2-4.6-4.9 2-2.6 4.6 5 4.7 5.4zm-97.7-52.4l-13.9-1.7 2-1.5 13.9 1.4zm92.6 51.2l-4.7-4.9-4.6-4.7 2-2.5 4.6 4.8 4.7 5zm-91.5-48.9l-7.8-1.3-7.7-1.1 2-1.4 7.8 .9 7.7 1.1zm86.4 47.9l-6.2-6.1-4.6-4.4 2-2.4 4.6 4.3 6.2 6.3zm-85.4-45.6l-7.7-1.5-7.7-1.3 2-1.4 7.7 1.1 7.7 1.4zm80.3 44.7l-6.2-5.8-6.2-5.4 2-2.4 6.2 5.5 6.2 5.9zm-77.6-41.9l-9.3-2.2-9.3-1.8 2-1.4 9.3 1.7 9.3 2zm72.5 41.2l-7.7-6.9-6.2-5 2-2.4 6.2 5.1 7.7 7zm-68.4-37.7l-10.8-3.1-10.8-2.5 2-1.3 10.8 2.3 6.2 1.5 4.6 1.3zm63.3 37l-9.3-7.8-4.6-3.5-4.6-3.4 2-2.3 4.6 3.4 4.6 3.6 4.7 3.8 4.6 4.1zm-57.6-32.5l-6.2-2.3-6.1-2-6.2-1.7-7.7-2 2-1.4 7.7 1.8 6.2 1.7 6.2 1.9 6.1 2.2zm50.9 30.6l-6.1-4.9-6.2-4.7-4.6-3.2-6.2-4 2-2.1 6.2 4 4.6 3.2 6.2 4.6 6.1 5zm-6.6-1.7l-7.7-5.8-7.7-5.3-7.7-4.8-9.3-5-7.7-3.6-9.3-3.9-9.2-3.2-10.8-3.2 2-1.4 10.8 3 9.2 3.1 9.3 3.7 7.7 3.6 4.6 2.4 4.7 2.5 7.7 4.8 7.7 5.2 7.7 5.9zm-6.6-1.6l-7.8-5.5-6.1-4-7.7-4.6-7.8-4.1-7.7-3.7-7.7-3.2-7.7-2.9-9.3-2.9 2-1.4 9.3 2.8 7.7 2.7 7.7 3.2 7.8 3.5 7.7 4.1 7.7 4.5 7.7 5.1 6.2 4.4zm-8.2-2.6l-6.2-4.1-6.2-3.8-6.1-3.5-6.2-3.2-6.2-3-6.2-2.7-6.1-2.4-7.7-2.8 2-1.4 7.7 2.6 6.2 2.4 6.1 2.6 6.2 2.9 6.2 3.2 6.1 3.5 6.2 3.8 6.2 4.1zm-8.2-2.3l-9.3-5.7-9.2-5-9.3-4.4-10.8-4.4 2-1.5 6.2 2.4 4.6 1.9 9.3 4.4 9.2 4.9 9.3 5.6zm-14.4-5.7l-7.7-4.1-9.2-4.4 2-1.5 9.2 4.3 7.7 4zm-237.6 2.3l-9.3-4.4 2 .4 9.3 4.4zm4.1 2.9l-7.7-4.1-6.1-2.9-7.8-3.4-6.1-2.3 2 .5 6.1 2.3 7.8 3.3 6.1 3 7.7 4zm10.8 6.4l-1.5-.9 2 .2 1.5 1zm-8.1-4.1l-6.2-3.6-4.6-2.5-9.3-4.5-9.3-3.9-4.6-1.6-4.6-1.6 2 .6 9.2 3.2 9.3 3.9 9.3 4.4 4.6 2.5 6.2 3.5zm12.3 7.8l-6.2-4 2 .3 6.2 4zm-9.7-5.3l-6.2-3.8-4.6-2.7-9.3-5-6.2-2.9-4.6-2-4.6-1.8-4.6-1.6 2 .6 9.2 3.5 4.7 1.9 6.1 2.9 9.3 4.8 10.8 6.4zm12.3 8.3l-7.7-5.3 2 .3 7.7 5.2zm-9.7-5.7l-10.8-6.9-9.3-5.4-6.1-3.2-4.7-2.2-4.6-2-4.6-1.8 2 .7 4.6 1.8 4.6 2 4.7 2.2 6.1 3.1 9.3 5.3 10.8 6.8zm10.8 7.7l-9.3-6.6 2 .3 9.3 6.5zm1.1 2.1l-7.7-5.7-6.2-4.4-6.2-4.2-6.2-4 2 .6 6.2 3.9 6.2 4 6.2 4.4 7.7 5.6zm1 2.3l-10.8-8.4-10.8-7.7 2.1 .5 10.8 7.6 10.8 8.1zm1.1 2.3l-9.2-7.5-9.3-7.1 2 .5 9.3 6.9 9.2 7.3zm-.4 1.1l-7.8-6.5-7.7-6.2 2 .5 7.7 6.1 7.8 6.3zm1 2.5l-15.4-13.2 2 .5 7.7 6.3 7.7 6.5zm-.4 1.1l-13.9-12.3 2 .5 13.9 12zm-.5 1l-12.4-11.3 2.1 .6 12.3 11.1zm1.1 2.5l-12.4-11.7 2 .7 12.4 11.4zm1 2.5l-12.3-12.1 2 .8 12.4 11.8zm-.4 .9l-10.8-10.9 2 .9 10.8 10.6zm1.1 2.4l-10.8-11.2 2 1 10.8 10.9zm-.5 .8l-9.3-9.9 2 1.1 9.3 9.6zm1.1 2.5l-9.3-10.2 2 1.1 9.3 9.9zm1 2.5l-9.2-10.4 2 1.1 9.2 10.1zm-.4 .8l-7.7-8.9 2 1.2 7.7 8.6zm1 2.6l-7.7-9.2 2 1.3 7.8 8.8zm-.4 .8l-6.2-7.6 2 1.3 6.2 7.3zm1.1 2.6l-7.8-9.7 2 1.4 7.8 9.4zm-.5 .8l-6.2-8 2 1.5 6.2 7.6zm1.1 2.7l-6.2-8.2 2 1.5 6.2 7.9zm-.5 .7l-6.2-8.4 2 1.6 6.2 8.1zm1.1 2.7l-6.2-8.7 2 1.8 6.2 8.3zm1 2.4l-6.1-9 2 2.3 6.2 8.5zm1.1 2.2l-6.2-9.2 2.1 2.6 6.1 8.7zm1.1 2.1l-6.2-9.6 2 2.9 6.2 9zm1.1 2l-4.7-7.4 2.1 3.1 4.6 6.8zm1 2l-4.6-7.7 2 3.3 4.7 7.1zm1.1 2.1l-4.6-8 2 3.4 4.6 7.4zm1.1 2.2l-4.6-8.4 2 3.6 4.6 7.7zm1.1 2.5l-4.7-8.8 2.1 3.6 4.6 8zm-.5-.3l-3.1-6.2 2 3.6 3.1 5.6zm1.1 3l-3.1-6.5 2 3.5 3.1 5.9zm-.5 .1l-3.1-7 2 3.7 3.1 6.3z"/><path fill="#0000ff" stroke="#0000ff" d="M566.2 412.9l-3 3.6 2-4.9 3.1-4.2zm1.1 1.8l-3.1 3.3 2-5.1 3.1-3.9zm1.1 2.1l-3.1 3 2-5.1 3.1-3.6zm1.1 2.5l-3.1 2.6 2-5.1 3.1-3.2zm1.1 2.6l-3.1 2.4 2-5 3.1-3zm2.6 1.5l-4.7 3.3 2.1-4.8 4.6-4zm1 2.9l-4.6 2.9 2-4.6 4.7-3.6zm2.7 1.8l-4.7 2.8 2-4.6 4.7-3.4zm1 2.7l-4.6 2.5 2-4.3 4.6-2.9zm1.1 2.6l-4.6 2.2 2-3.9 4.6-2.7zm1.1 2.3l-4.6 2 2-3.5 4.6-2.4zm1.1 2.1l-4.7 1.8 2-3.2 4.7-2.1zm1 1.9l-6.1 2.1 2-2.8 6.2-2.5zm1.1 2l-6.2 1.9 2.1-2.8 6.1-2.3zm143.5 72.8l-1.5-3.2 2-3.7 1.5 3.4zm-142.4-70.8l-6.2 1.7 2-2.8 6.2-2zm140.4 74l-3.1-6.1 2-3.5 3.1 6.4zm-139.3-71.9l-7.7 1.8 2-2.6 7.7-2.2zm135.8 71.9l-3.1-5.7 2-3.3 3.1 5.9zm-134.8-69.8l-7.7 1.5 2-2.5 7.8-1.9zm131.2 70l-4.6-8 2-3.4 4.6 8.4zm-130.1-67.8l-7.7 1.2 2-2.5 7.7-1.5zm126.5 68l-4.6-7.6 2-3.2 4.7 7.9zm-125.4-65.8l-7.7 1 2-2.5 7.7-1.2zm121.9 66l-6.2-9.4 2-3.2 6.2 9.8zm-120.8-63.7l-7.7 .7 2-2.4 7.7-.9zm115.7 61.7l-4.6-6.7 2-3 4.6 6.9zm-113.1-59.4l-9.3 .5 2-2.4 9.3-.7zm109.5 59.8l-6.1-8.3 2-3 6.2 8.6zm-108.4-57.3l-9.3 .1 2-2.3 9.3-.4zm104.9 57.7l-7.7-9.8 2-2.9 7.7 10.2zm-102.3-55.2l-10.8-.2 2-2.3 10.8 0zm97.2 53.8l-7.7-9.3 2-2.8 7.7 9.5zm-96.1-51.2l-10.8-.6 2-2.2 10.8 .4zm91 49.9l-7.7-8.6 2-2.8 7.7 8.9zm-88.4-47.1l-12.4-1.2 2-2.1 6.2 .4 6.2 .5zm83.3 46.1l-4.6-4.9-4.7-4.7 2.1-2.8 4.6 4.8 4.6 5.1zm-80.7-43.2l-6.2-1-7.7-1 2-1.9 7.7 .8 6.2 .8zm75.6 42.5l-6.2-6.2-4.6-4.3 2-2.7 4.6 4.3 6.2 6.3zm-73-39.5l-7.7-1.5-7.7-1.3 2-1.8 7.7 1 7.7 1.4zm67.9 38.8l-6.2-5.8-6.1-5.3 2-2.7 6.1 5.4 6.2 5.9zm-62.2-34.6l-9.2-2.5-10.8-2.2 2-1.8 6.1 1.1 4.7 .9 9.2 2.3zm55.6 32.7l-7.7-6.6-7.8-5.9 2-2.6 7.8 5.9 7.7 6.8zm-46.8-26.6l-6.2-2.4-7.7-2.5-6.2-1.8-7.7-1.8 2-1.7 7.8 1.6 6.1 1.6 7.7 2.4 6.2 2.3zm40.1 25l-6.1-5-4.7-3.4-6.1-4.3-6.2-3.8 2-2.5 6.2 3.8 6.1 4.3 4.7 3.4 6.1 5.1zm-6.6-1.4l-6.2-4.7-7.7-5.2-6.2-3.8-7.7-4.1-7.7-3.6-7.7-3.1-7.7-2.6-7.7-2.2 2-1.7 7.7 2 7.7 2.5 7.7 2.9 7.7 3.5 7.7 4.1 6.2 3.7 7.7 5.3 6.2 4.6zm-9.7-3.5l-4.7-3.2-6.1-3.9-4.7-2.6-6.1-3.3-4.7-2.2-6.1-2.6-6.2-2.4-6.2-2.1 2-1.8 6.2 2 6.2 2.3 6.1 2.5 4.7 2.2 6.1 3.2 4.7 2.6 6.1 3.9 4.7 3.1zm-11.3-4l-6.2-3.6-7.7-4.1-6.2-2.9-7.7-3.2 2-1.8 7.7 3.1 6.2 2.8 7.7 4 6.2 3.6zm-260.9 7l-6.1-3.6-6.2-3.3-6.2-3.1-6.1-2.7 2 .9 6.1 2.6 6.2 3 6.2 3.3 6.1 3.5zm5.7 4.5l-7.7-5.1-6.1-3.7-7.8-4.3-6.1-3 2 .9 6.2 3 7.7 4.1 6.1 3.6 7.8 5zm4.2 3.8l-7.7-5.5-7.7-5.1-7.7-4.7-7.8-4.1 2.1 1 7.7 4 7.7 4.5 7.7 5 7.7 5.4zm2.6 3l-7.7-5.9-6.2-4.4-7.7-5.2-6.2-3.8 2.1 1 6.1 3.7 7.7 5 6.2 4.4 7.7 5.7zm1.1 2l-10.8-8.6-9.3-6.8 2 .9 9.3 6.6 10.8 8.4zm1.1 2l-7.7-6.5-7.8-6.2 2.1 .9 7.7 6 7.7 6.3zm1 2l-7.7-6.8-6.1-5.2 2 1 6.1 5 7.8 6.6zm1.1 2.1l-12.3-11.2 2 1 12.3 10.9zm1.1 2.1l-10.8-10.2 2 1 10.8 10zm1.1 2.1l-10.8-10.6 2 1.2 10.8 10.3zm1.1 2.1l-9.3-9.5 2 1.3 9.3 9.2zm1 2.1l-9.2-9.8 2 1.3 9.2 9.6zm1.1 2.2l-7.7-8.5 2 1.4 7.7 8.2zm1.1 2.3l-7.7-8.8 2 1.4 7.7 8.5zm1.1 2.3l-7.8-9.1 2 1.5 7.8 8.8zm1 2.3l-7.7-9.3 2 1.5 7.7 9.1zm1.1 2.4l-7.7-9.6 2 1.6 7.7 9.3zm-.5 .5l-6.1-7.9 2 1.7 6.1 7.6zm1.1 2.5l-6.2-8.2 2.1 1.8 6.1 7.9zm1.1 2.5l-6.2-8.4 2 1.8 6.2 8.1zm-.5 .5l-4.6-6.6 2 1.9 4.6 6.3zm1.1 2.4l-4.6-6.8 2 2.2 4.6 6.4zm1.1 2.1l-4.7-7 2.1 2.6 4.6 6.7zm1 2l-4.6-7.3 2 3 4.7 6.9zm1.1 1.7l-3.1-5 2 3.3 3.1 4.6zm2.6 4.2l-1.5-2.5 2 3.2 1.6 2.4zm4.3 7.4l-1.5-3.1 2 3.9 1.6 2.8zm1.1 2.3l-3.1-6.5 2 4.2 3.1 5.9zm1.1 2.7l-3.1-6.8 2 4.1 3.1 6.2zm-.5-.4l-1.5-3.6 2 4 1.5 3.3z"/><path fill="#0010ff" stroke="#0010ff" d="M569.3 409l-3.1 3.9 2.1-5.5 3-4.7zm1.1 2.1l-3.1 3.6 2-5.7 3.1-4.2zm1.1 2.5l-3.1 3.2 2-5.7 3.1-3.8zm1.1 2.7l-3.1 3 2-5.7 3.1-3.5zm2.6 1.6l-4.6 4 2-5.6 4.6-4.7zm1.1 3.1l-3.1 2.4 2-5.5 3.1-2.9zm2.6 1.9l-4.7 3.4 2.1-5.3 4.6-4zm1 3.2l-3 2 2-5.2 3.1-2.3zm2.7 2l-4.7 2.7 2-4.7 4.7-3.3zm1 2.8l-4.6 2.5 2-4.4 4.7-2.9zm2.7 1.8l-6.2 3 2-3.9 6.2-3.5zm1 2.4l-6.1 2.7 2-3.5 6.1-3.2zm143.5 72l-1.5-3.5 2-4.3 1.5 3.8zm-142.4-69.8l-6.2 2.4 2.1-3.2 6.1-2.9zm140.4 73.7l-3.1-6.7 2.1-4.2 3 7zm-139.3-71.4l-6.2 2.1 2-3.2 6.2-2.5zm135.8 71.7l-3.1-6.3 2-4 3.1 6.6zm-134.7-69.4l-6.2 1.8 2-3.1 6.2-2.1zm131.1 69.7l-4.6-8.7 2-4 4.6 9.2zm-130.1-67.4l-6.1 1.6 2-3 6.1-1.9zm126.6 67.8l-4.7-8.2 2-3.7 4.7 8.6zm-123.9-65.7l-7.8 1.6 2.1-2.9 7.7-2zm118.8 63.6l-4.7-7.6 2.1-3.7 4.6 7.9zm-117.8-61.1l-7.7 1.3 2-2.8 7.7-1.6zm114.2 61.7l-4.6-7.2 2-3.5 4.6 7.5zm-111.5-59.3l-9.3 1.1 2-2.7 9.3-1.5zm106.4 57.7l-4.6-6.7 2-3.4 4.6 6.9zm-105.4-55l-9.2 .7 2-2.6 9.2-1.1zm101.9 55.7l-6.2-8.3 2-3.3 6.2 8.6zm-99.3-53l-9.2 .3 2-2.6 9.3-.6zm94.2 51.8l-6.2-7.8 2-3.2 6.2 8zm-91.5-48.9l-10.8-.1 2-2.6 10.8-.2zm86.4 47.8l-7.7-8.9 2-3.2 7.7 9.2zm-83.8-44.7l-10.8-.7 2-2.5 6.2 .1 4.6 .3zm78.7 43.8l-4.7-5.1-4.6-4.7 2-3.1 4.7 4.9 4.6 5.2zm-74.6-40.3l-6.1-.8-7.7-.8 2-2.4 7.7 .5 6.2 .8zm69.5 39.7l-6.2-6.3-4.6-4.3 2-3 4.6 4.4 6.2 6.4zm-65.3-35.8l-7.7-1.6-7.7-1.1 2-2.4 7.7 1 7.7 1.4zm58.6 33.8l-6.1-5.7-6.2-5.2 2-3 6.2 5.3 6.2 5.8zm-49.8-28.1l-4.6-1.5-6.2-1.7-4.6-1.1-6.2-1.2 2-2.3 6.2 1.1 4.6 1 6.2 1.6 4.6 1.5zm43.2 26.5l-4.6-4-4.7-3.7-4.6-3.4-4.6-3.1 2-2.9 4.6 3.1 4.7 3.5 4.6 3.7 4.6 4.1zm-6.6-1.3l-6.2-4.8-6.2-4.4-6.2-3.9-7.7-4.2-6.1-2.9-7.8-3-7.7-2.5-7.7-2 2-2.2 7.7 1.9 7.8 2.3 7.7 2.9 6.1 2.8 7.8 4.2 6.1 3.9 6.2 4.3 6.2 4.9zm-9.8-3.3l-4.6-3.3-4.6-2.9-4.7-2.8-6.1-3.2-4.7-2.2-4.6-2-4.6-1.7-6.2-2.1 2-2.2 6.2 2 4.6 1.6 4.7 1.9 4.6 2.2 6.2 3.2 4.6 2.7 4.6 2.9 4.6 3.3zm-14.3-5.6l-7.7-4.2-4.7-2.3-4.6-2 2-2.3 4.6 2 4.7 2.2 7.7 4.1zm-280.7 6.6l-6.1-3.4 2 1.1 6.2 3.3zm8.8 5.9l-7.7-5.1-6.1-3.6 2 1.1 6.1 3.6 7.7 4.9zm5.7 4.7l-9.2-6.8-4.6-3.1-4.7-3 2 1.2 4.7 2.9 4.6 3.1 9.3 6.6zm2.7 2.7l-6.2-4.9-4.6-3.6-4.7-3.3-4.6-3.2 2 1.4 9.3 6.3 4.6 3.4 6.2 4.9zm2.6 2.9l-7.7-6.6-7.7-6.1 2 1.3 7.7 6 7.7 6.4zm2.6 3.1l-7.7-7-6.2-5.3 2 1.4 6.2 5.1 7.7 6.8zm1.1 1.7l-10.8-10.2 2 1.5 10.8 9.9zm2.6 3.2l-10.8-10.7 2 1.6 10.8 10.4zm1.1 1.8l-9.3-9.6 2 1.6 9.3 9.3zm2.6 3.5l-9.3-10 2 1.7 9.3 9.7zm1.1 2l-9.3-10.4 2 1.7 9.3 10.1zm1 2l-7.7-9 2 1.8 7.7 8.7zm1.1 2.1l-7.7-9.4 2 1.9 7.7 9zm1.1 2.1l-6.2-7.8 2 1.9 6.2 7.5zm1.1 2.2l-6.2-8.1 2 2 6.2 7.8zm1 2.2l-6.1-8.4 2 2.1 6.2 8.1zm1.1 2.3l-6.2-8.7 2.1 2.2 6.1 8.3zm1.1 2.3l-6.2-9 2 2.4 6.2 8.5zm1.1 2.2l-6.2-9.3 2 2.6 6.2 8.9zm1 1.9l-4.6-7.2 2 3 4.7 6.8zm1.1 1.7l-1.5-2.5 2 3.2 1.5 2.3zm11.7 18.8l-1.5-3.6 2 4.5 1.5 3.2zm1.1 2.8l-3.1-7.6 2 4.8 3.1 6.8z"/><path fill="#0020ff" stroke="#0020ff" d="M572.4 404.8l-3.1 4.2 2-6.3 3.1-5.1zm1.1 2.5l-3.1 3.8 2-6.3 3.1-4.7zm1.1 2.8l-3.1 3.5 2-6.3 3.1-4.2zm2.6 1.5l-4.6 4.7 2-6.2 4.6-5.7zm1.1 3.4l-3.1 2.9 2-6.3 3.1-3.5zm2.6 2l-4.6 4 2-6 4.6-4.8zm2.6 2.3l-4.6 3.6 2-5.9 4.6-4.3zm1.1 3.5l-4.7 3.3 2.1-5.5 4.6-3.9zm2.6 2.3l-4.6 3 2-5.3 4.6-3.5zm2.6 2.2l-6.2 3.6 2.1-4.8 6.1-4.2zm1.1 3l-4.6 2.4 2-4.4 4.6-2.9zm141.9 72.8l-1.5-3.8 2-4.5 1.6 4zm-140.8-70.2l-4.7 2.2 2-4 4.7-2.5zm137.3 70.7l-1.5-3.5 2-4.5 1.5 3.7zm-134.7-68.9l-6.2 2.6 2-3.7 6.2-2.9zm131.1 69.6l-3-6.5 2-4.6 3.1 6.9zm-130-67l-6.2 2.3 2-3.6 6.2-2.6zm126.5 67.7l-3.1-6.1 2-4.3 3.1 6.4zm-125.5-65l-6.1 1.9 2-3.4 6.1-2.3zm120.4 62.9l-3.1-5.6 2-4.2 3.1 5.8zm-117.7-60.6l-7.8 1.9 2-3.3 7.8-2.3zm114.1 61.5l-4.6-7.7 2-4.2 4.6 8.2zm-111.5-59l-7.7 1.5 2-3.3 7.7-1.9zm106.4 57.5l-4.6-7.2 2-4 4.7 7.5zm-105.4-54.6l-7.7 1.1 2-3.1 7.8-1.5zm101.9 55.6l-6.2-8.9 2-3.9 6.2 9.3zm-99.2-52.8l-7.7 .7 2-3.1 7.7-1zm94.1 51.7l-6.2-8.3 2-3.7 6.2 8.6zm-91.5-48.7l-9.3 .4 2-3 9.3-.7zm86.4 47.8l-4.6-5.8-3.1-3.7 2-3.6 3.1 3.8 4.6 6zm-82.3-44.4l-4.6-.2-6.2-.1 2.1-2.9 6.1-.2 4.7 .1zm77.2 43.7l-4.6-5.4-4.7-5 2-3.5 4.7 5.1 4.6 5.6zm-73-40l-6.2-.7-6.1-.4 2-2.9 6.1 .3 6.2 .5zm66.4 37.8l-4.7-4.9-4.6-4.5 2-3.4 4.6 4.6 4.7 5zm-60.7-33.3l-7.7-1.5-7.7-1 2-2.8 7.7 .8 7.7 1.3zm54 31.5l-6.2-5.8-6.1-5.3 2-3.3 6.2 5.3 6.1 6zm-42.1-24.2l-4.6-1.7-6.2-1.9-6.2-1.5-6.2-1.2 2.1-2.7 6.1 1 6.2 1.4 6.2 1.8 4.6 1.7zm35.5 22.8l-4.7-4-4.6-3.7-4.6-3.4-6.2-4 2-3.2 6.2 4 4.6 3.4 4.7 3.8 4.6 4.1zm-8.2-2.3l-4.6-3.6-6.2-4.2-4.6-2.9-6.2-3.3-6.2-2.9-6.1-2.4-6.2-2-6.2-1.6 2-2.7 6.2 1.5 6.2 1.9 6.1 2.3 6.2 2.9 6.2 3.3 4.6 2.8 6.2 4.3 4.6 3.6zm-12.8-4.9l-6.2-3.8-6.2-3.3-6.1-2.8-6.2-2.4 2-2.6 6.2 2.3 6.2 2.7 6.1 3.2 6.2 3.8zm-288.5 14.1l-4.7-3.4 2 1.4 4.7 3.3zm4.1 3.5l-7.7-6.2 2 1.5 7.7 6.1zm4.2 3.8l-9.3-8 2 1.6 9.3 7.9zm2.6 2.7l-9.3-8.6 2 1.8 9.3 8.4zm2.6 2.9l-9.2-9.1 2 1.9 9.2 8.8zm2.6 3.1l-9.2-9.7 2 2 9.2 9.4zm1.1 1.6l-7.7-8.5 2 2 7.7 8.2zm2.6 3.4l-7.7-9 2 2.1 7.7 8.7zm1.1 1.7l-7.7-9.3 2 2.2 7.7 9zm2.6 3.7l-7.7-9.8 2 2.3 7.7 9.4zm1.1 1.9l-6.2-8.1 2 2.3 6.2 7.8zm1.1 1.9l-6.2-8.5 2 2.5 6.2 8.1zm1 2l-6.1-8.8 2 2.6 6.2 8.4zm1.1 2l-4.6-6.9 2 2.7 4.6 6.6zm1.1 1.9l-4.6-7.2 2 3 4.6 6.8zm2.6 4l-1.5-2.4 2 3.1 1.5 2.3z"/><path fill="#0030ff" stroke="#0030ff" d="M574 402.5l-1.6 2.3 2-7.2 1.6-2.7zm2.6 .6l-3.1 4.2 2-7.2 3.1-4.9zm1.1 3.3l-3.1 3.7 2-7 3.1-4.5zm2.6 1.7l-3.1 3.5 2-7.2 3.1-4.1zm1.1 3.8l-3.1 3.1 2-6.9 3.1-3.7zm2.6 2.3l-3.1 2.8 2-6.8 3.1-3.3zm2.6 2.5l-3.1 2.6 2-6.6 3.1-3zm2.6 2.6l-4.6 3.5 2-6.1 4.6-4.1zm2.6 2.6l-4.6 3.2 2-5.8 4.6-3.7zm2.6 2.6l-4.6 2.8 2-5.4 4.7-3.3zm140.5 74.3l-3.1-7.9 2-5 3.1 8.4zm-139.4-71.1l-4.6 2.6 2-4.9 4.6-2.9zm135.8 71.6l-3.1-7.4 2-4.9 3.1 7.8zm-133.2-69.4l-6.1 3 2-4.3 6.1-3.5zm129.7 70.2l-3.1-6.9 2-4.9 3.1 7.3zm-128.6-67.3l-4.6 1.9 2-4 4.6-2.3zm123.5 65l-3.1-6.3 2-4.9 3.1 6.6zm-120.9-62.7l-6.1 2.2 2-3.9 6.1-2.6zm117.3 63.8l-4.6-8.7 2-4.7 4.6 9.1zm-114.6-61.3l-7.8 2.4 2-3.8 7.8-2.8zm109.5 59.7l-4.6-8 2-4.6 4.6 8.4zm-108.5-56.5l-6.1 1.5 2-3.7 6.1-1.9zm103.4 55.3l-4.6-7.4 2-4.4 4.6 7.6zm-100.8-52.4l-6.1 1.1 2-3.7 6.2-1.4zm95.7 51.4l-4.6-6.8 2-4.2 4.6 7zm-91.5-48.5l-9.3 1.1 2.1-3.5 9.2-1.4zm86.4 47.8l-6.2-8.2 2.1-4.2 6.1 8.5zm-83.8-44.3l-9.2 .4 2-3.4 9.2-.8zm78.7 43.8l-4.6-5.7-3.1-3.6 2-4 3.1 3.7 4.6 5.9zm-73-40l-6.1-.3-6.2-.1 2-3.3 6.2-.1 6.1 .1zm66.4 37.9l-4.7-5.1-3-3.2 2-3.9 3.1 3.3 4.6 5.3zm-60.7-33.3l-6.1-1-7.8-.6 2.1-3.3 7.7 .5 6.1 .8zm54 31.7l-6.1-6.1-4.7-4.1 2-3.8 4.7 4.2 6.1 6.3zm-43.6-24.8l-4.7-1.6-4.6-1.2-4.6-1-6.2-1 2-3.2 6.2 .8 4.6 .9 4.6 1.2 4.7 1.5zm37 23.6l-4.6-4.2-4.7-3.8-4.6-3.5-4.6-3.1 2-3.6 4.6 3.1 4.7 3.5 4.6 3.9 4.6 4.3zm-9.7-3.5l-4.7-3.5-4.6-3.2-4.6-2.8-6.2-3.3-4.6-2.2-6.2-2.4-4.6-1.4-6.2-1.6 2-3.2 6.2 1.5 4.6 1.4 6.2 2.4 4.6 2.1 6.2 3.3 4.6 2.8 4.7 3.2 4.6 3.6zm-14.4-5.4l-3.1-1.8-4.6-2.4-3.1-1.5-4.6-2 2-3.1 4.6 1.9 3.1 1.5 4.6 2.4 3.1 1.8zm-282.5 28.3l-1.6-1.5 2 2 1.6 1.5zm2.6 2.8l-3.1-3.3 2 2.1 3.1 3.2zm2.6 2.9l-3.1-3.5 2 2.3 3.1 3.3zm1.1 1.4l-3.1-3.7 2 2.3 3.1 3.6zm2.6 3.2l-3.1-3.8 2 2.4 3.1 3.7zm2.6 3.6l-4.6-6.1 2 2.5 4.6 5.9zm1.1 1.5l-4.6-6.3 2 2.7 4.6 6.1zm1.1 1.7l-3.1-4.5 2 2.8 3.1 4.3zm2.6 3.9l-4.6-6.9 2 3 4.6 6.6zm1.1 1.6l-1.6-2.4 2 3.1 1.6 2.3z"/><path fill="#0040ff" stroke="#0040ff" d="M577.1 397.7l-3.1 4.8 2-7.6 3.1-5.6zm1 3.2l-1.5 2.2 2-7.9 1.5-2.6zm2.6 1.5l-3 4 2-7.8 3.1-4.7zm2.7 2l-3.1 3.7 2-7.8 3.1-4.4zm2.6 2.5l-4.6 5 2-7.5 4.6-5.9zm1.1 4.3l-3.1 3 2-7.3 3.1-3.5zm2.6 2.8l-3.1 2.7 2-7 3.1-3.2zm2.6 2.9l-3.1 2.4 2-6.7 3.1-2.8zm146.6 72.6l-1.6-4.5 2-5.5 1.6 4.8zm-144-69.8l-3.1 2.2 2-6.3 3.1-2.5zm142 74.6l-3.1-8.4 2-5.3 3.1 8.9zm-139.4-71.8l-3.1 2 2.1-5.9 3-2.3zm134.3 68.4l-1.6-3.9 2-5.2 1.6 4.1zm-131.7-65.8l-4.6 2.6 2-5.2 4.7-3.1zm128.1 66.8l-3.1-7.1 2-5.3 3.1 7.5zm-125.4-64.3l-4.7 2.3 2-4.8 4.7-2.7zm121.9 65.6l-3.1-6.6 2-5.3 3.1 7zm-119.3-63.1l-6.2 2.7 2-4.4 6.2-3.1zm114.2 61.4l-3.1-6 2-5.3 3.1 6.4zm-111.6-58.6l-6.2 2.2 2-4.3 6.2-2.6zm106.5 57.3l-3.1-5.5 2-5 3.1 5.8zm-103.9-54.3l-6.1 1.7 2-4.2 6.1-2.1zm98.8 53.4l-4.7-7.5 2.1-4.9 4.6 7.8zm-96.2-50.2l-7.7 1.7 2-4.1 7.8-2zm91.1 49.6l-4.7-6.9 2.1-4.7 4.6 7.2zm-86.9-46.3l-9.3 1.3 2.1-4 9.2-1.6zm81.8 45.9l-6.2-8.3 2-4.5 6.2 8.6zm-77.6-42.1l-4.7 .1-4.6 .3 2-3.8 4.6-.5 4.7-.3zm70.9 40l-4.6-5.6-3.1-3.5 2-4.5 3.1 3.6 4.7 5.8zm-65.2-35.6l-6.2-.5-6.2 0 2-3.8 6.2-.1 6.2 .3zm58.6 34l-4.6-5-4.7-4.6 2.1-4.4 4.6 4.8 4.6 5.2zm-49.8-28l-3.1-.8-4.7-.9-7.7-1 2-3.7 4.7 .4 3.1 .4 4.6 .8 3.1 .7zm43.2 26.9l-6.2-6-3.1-2.6-4.6-3.7 2-4.2 4.6 3.8 3.1 2.7 6.2 6.1zm-9.8-3.5l-4.6-3.8-6.2-4.4-4.6-2.9-6.2-3.3-4.6-2.1-6.2-2.2-4.6-1.4-6.2-1.4 2-3.6 6.2 1.3 6.2 1.7 6.2 2.4 4.6 2.2 6.2 3.4 4.6 3 4.6 3.5 4.6 3.8zm-14.3-5.6l-4.6-2.7-4.7-2.4-4.6-2.1-4.6-1.8 2-3.6 4.6 1.7 4.6 2.1 4.7 2.4 4.6 2.8z"/><path fill="#0050ff" stroke="#0050ff" d="M580.1 392.6l-3 5.1 2-8.4 3-6.1zm1.1 3.7l-3.1 4.6 2-8.3 3.1-5.5zm2.6 1.8l-3.1 4.3 2.1-8.5 3-5zm2.6 2.4l-3 3.9 2-8.5 3.1-4.5zm2.7 2.9l-3.1 3.5 2-8.4 3.1-4.1zm2.6 3.1l-4.6 4.7 2-7.8 4.6-5.5zm2.6 3.3l-4.6 4.2 2-7.5 4.6-5zm146.6 74.5l-1.6-4.8 2.1-6.2 1.5 5.2zm-144-71.2l-4.6 3.8 2-7.1 4.6-4.5zm140.4 71.9l-1.5-4.4 2-5.9 1.5 4.8zm-137.8-68.7l-4.6 3.4 2-6.6 4.7-4zm134.3 69.6l-1.6-4.1 2-5.6 1.6 4.4zm-131.6-66.5l-4.7 3.1 2-6.2 4.7-3.5zm128 67.6l-3.1-7.5 2.1-5.7 3 8zm-125.4-64.6l-4.7 2.7 2.1-5.7 4.6-3zm120.3 62.4l-3.1-6.9 2.1-5.7 3 7.3zm-117.7-59.5l-4.6 2.3 2-5.2 4.6-2.6zm114.2 61.3l-4.7-9.5 2.1-5.8 4.6 10zm-110-59l-6.2 2.5 2-4.8 6.2-3zm104.9 57.9l-4.6-8.6 2-5.7 4.6 9zm-102.3-54.7l-6.2 2.1 2-4.7 6.2-2.4zm97.2 53.9l-4.6-7.8 2-5.5 4.6 8.3zm-94.6-50.3l-6.2 1.5 2-4.6 6.2-1.8zm87.9 47.4l-4.6-7 2-5.2 4.7 7.3zm-83.7-43.9l-7.8 1.2 2.1-4.4 7.7-1.6zm78.6 43.9l-6.1-8.4 2-5 6.2 8.7zm-72.9-39.9l-4.7 .2-4.6 .3 2-4.3 4.6-.6 4.7-.3zm66.3 38.1l-4.6-5.6-3.1-3.5 2-5 3.1 3.7 4.6 5.9zm-59.1-33l-6.2-.6-6.1-.2 2-4.2 6.1-.1 6.2 .5zm50.9 30.1l-4.6-4.9-4.6-4.5 2-4.7 4.6 4.6 4.6 5zm-35.9-21l-4.7-1.8-6.1-1.8-4.7-1-6.1-.9 2-4.1 6.2 .7 4.6 .9 6.2 1.8 4.6 1.7zm27.7 18.9l-4.6-4.2-4.6-3.8-4.6-3.3-4.7-2.9 2-4.6 4.7 3 4.6 3.3 4.6 3.9 4.7 4.2zm-11.2-3.8l-6.2-4.3-3.1-1.9-4.6-2.5-3.1-1.5-4.6-2-3.1-1.1-4.6-1.3 2-4.1 4.6 1.3 3.1 1.1 4.6 1.9 3.1 1.4 4.6 2.6 3.1 1.9 6.2 4.3z"/><path fill="#0060ff" stroke="#0060ff" d="M581.7 389.9l-1.6 2.7 2-9.4 1.6-3.2zm2.6 1.5l-3.1 4.9 2-9.2 3.1-5.7zm1.1 4.5l-1.6 2.2 2-9.2 1.6-2.6zm2.6 2.6l-1.6 2 2.1-9.1 1.5-2.4zm4.2 1.2l-3.1 3.7 2-9 3.1-4.2zm2.6 3.5l-3.1 3.3 2-8.6 3.1-3.9zm148.1 75.3l-1.5-5.2 2-6.9 1.5 5.6zm-145.5-71.7l-3.1 3 2-8.3 3.1-3.4zm141.9 72.7l-1.5-4.8 2-6.4 1.6 5zm-139.3-69.1l-3.1 2.7 2-7.8 3.1-3zm135.8 70.2l-1.6-4.4 2.1-6.1 1.5 4.6zm-131.6-67.8l-4.7 3.5 2.1-7.2 4.6-4zm128 69l-3-8 2-6.1 3 8.5zm-125.4-65.4l-4.6 3 2-6.6 4.6-3.6zm120.3 63.1l-3-7.3 2-6.1 3.1 7.7zm-116.1-60.6l-6.2 3.5 2-6 6.2-4.1zm111 59l-3-6.6 2-6.1 3.1 7zm-108.4-55.6l-6.2 3 2-5.5 6.2-3.5zm103.3 54.8l-3-5.9 2-6.2 3.1 6.3zm-100.7-51.3l-4.6 1.8 2-5.3 4.6-2.1zm95.7 51.1l-3.1-5.5 2-6 3.1 5.8zm-91.6-47.9l-6.1 1.8 2-5 6.2-2.2zm86.5 47.9l-4.7-7.3 2-5.8 4.7 7.6zm-82.3-44l-7.7 1.5 2-4.9 7.7-1.9zm75.6 41.9l-6.2-8.5 2.1-5.6 6.1 8.9zm-69.9-37.6l-4.6 .2-4.6 .5 2-4.8 4.6-.7 4.6-.4zm63.3 36.2l-4.7-5.7-3-3.5 2-5.4 3.1 3.6 4.6 6zm-54.5-30.6l-6.2-.7-6.1-.2 2-4.7 6.1 0 6.2 .5zm46.3 28.1l-4.6-4.9-6.2-5.8 2-5.2 3.1 2.8 3.1 3.1 4.6 5zm-9.7-3.2l-4.7-3.9-4.6-3.6-4.6-3.1-3.1-1.8-3.1-1.6-4.6-2.1-6.2-2.2-4.6-1.3-6.2-1.1 2-4.6 6.2 1 4.6 1.1 3.1 1 3.1 1.2 4.6 2.1 3.1 1.6 3.1 1.8 4.6 3.1 4.7 3.6 4.6 4.1zm-17.5-6.9l-4.6-2.6-4.6-2.1 2-4.5 4.6 2.1 4.6 2.5z"/><path fill="#0070ff" stroke="#0070ff" d="M584.8 384.3l-3.1 5.6 2-9.9 3.1-6.5zm1 4.6l-1.5 2.5 2-10 1.6-3zm2.7 2.5l-3.1 4.5 2-9.6 3.1-5.4zm2.6 3l-3.1 4.1 2-9.5 3.1-4.8zm4.1 1.6l-3 3.7 2-9.5 3-4.4zm149.7 76l-1.5-5.6 2-7.9 1.5 6zm-147-72.2l-3.1 3.4 2-9.2 3.1-3.9zm143.5 73.5l-1.6-5 2-7.3 1.6 5.4zm-140.9-69.5l-3.1 3 2-8.7 3.1-3.4zm137.3 70.9l-1.5-4.6 2-6.8 1.5 5zm-133.2-68.3l-4.6 4 2-8.1 4.6-4.6zm129.6 69.8l-3-8.5 2-6.8 3.1 9.2zm-125.4-67l-4.6 3.6 2-7.7 4.6-4.1zm120.4 64.6l-3.1-7.7 2-6.7 3.1 8.3zm-117.8-60.5l-4.6 3.1 2-7.2 4.6-3.5zm112.7 58.9l-3.1-7 2-6.6 3.1 7.5zm-108.5-55.9l-4.6 2.6 2-6.6 4.6-3zm103.4 55l-3.1-6.3 2-6.5 3.1 6.7zm-100.8-51.1l-4.6 2.1 2-6 4.6-2.5zm95.7 51l-3.1-5.8 2-6.4 3.1 6zm-91.5-47.6l-6.2 2.2 2-5.6 6.2-2.6zm86.4 47.8l-4.7-7.6 2-6.4 4.7 8zm-80.7-44.1l-7.8 1.7 2.1-5.4 7.7-2.2zm74 42.3l-6.1-8.9 2-6.2 6.1 9.3zm-68.3-37.7l-4.7 .3-4.6 .7 2-5.3 4.6-.9 4.7-.5zm60.1 34.4l-6.1-7.5 2-5.9 3.1 3.8 3.1 4zm-51.3-28.3l-6.2-.7-6.2-.1 2-5.2 6.2-.1 3.1 .2 3.1 .3zm43.2 26.2l-4.7-4.8-3.1-3-3-2.7 2-5.7 3.1 2.7 3 3.1 4.7 5zm-11.3-4l-3.1-2.5-4.6-3.4-4.6-3-4.7-2.5-4.6-2.1-4.6-1.7-4.7-1.3-4.6-.9 2-5.1 4.6 .8 4.7 1.2 4.6 1.7 4.6 2 4.7 2.5 4.6 3 4.6 3.5 3.1 2.6z"/><path fill="#0080ff" stroke="#0080ff" d="M586.3 381.4l-1.5 2.9 2-10.8 1.5-3.5zm2.6 2.3l-3.1 5.2 2.1-10.5 3-6.2zm2.6 2.9l-3 4.8 2-10.5 3.1-5.5zm2.7 3.6l-3.1 4.2 2-10.2 3.1-5zm2.6 3.8l-1.6 2 2-10.2 1.6-2.3zm146.6 72.4l-1.6-5.4 2-8.5 1.6 6zm-142.5-70l-3 3.4 2-9.7 3.1-4zm138.9 71.9l-1.5-5 2-7.7 1.5 5.4zm-134.7-69.1l-4.6 4.6 2-9.1 4.6-5.3zm131.2 70.9l-3.1-9.2 2-7.4 3.1 9.8zm-128.6-66.4l-3.1 2.7 2-8.7 3.1-3.1zm123.5 64l-1.6-4.2 2-7 1.6 4.4zm-119.3-60.8l-3.1 2.3 2-8.2 3.1-2.7zm114.2 59.2l-1.6-3.8 2-6.9 1.6 4zm-110.1-55.8l-4.6 3 2-7.6 4.7-3.4zm105 54.9l-3.1-6.7 2-7 3.1 7.1zm-100.8-51.4l-4.6 2.5 2-7 4.6-2.9zm95.7 51.2l-3.1-6 2-6.9 3.1 6.4zm-91.5-47.4l-6.2 2.6 2-6.4 6.2-3.1zm86.4 47.8l-4.7-8 2.1-6.9 4.6 8.5zm-80.7-44l-7.7 2.2 2-6 4.6-1.7 3.1-1zm74 42.4l-6.1-9.3 2-6.8 6.1 9.7zm-68.3-37.6l-3.1 .3-4.6 .8 2-5.9 4.6-1 3.1-.5zm60.2 34.5l-3.1-4-3.1-3.8 2-6.5 3.1 3.9 3.1 4.2zm-49.9-28.1l-3.1-.4-3.1-.2-6.1-.1 2-5.7 6.2-.2 3 .2 3.1 .3zm41.7 26.2l-4.7-5-3-3.1-3.1-2.7 2-6.3 3.1 2.9 3.1 3.1 4.6 5.2zm-12.8-5.1l-3.1-2.5-4.7-3.3-3-2-4.7-2.5-3.1-1.4-4.6-1.8-4.6-1.3-4.6-.9 2-5.6 4.6 .8 4.6 1.3 4.7 1.7 3 1.4 4.7 2.5 3.1 1.9 4.6 3.4 3.1 2.6z"/><path fill="#008fff" stroke="#008fff" d="M587.9 378.4l-1.6 3 2-11.4 1.6-3.5zm2.6 2.5l-1.6 2.8 2-11.5 1.6-3.1zm2.6 3.3l-1.6 2.4 2.1-11.2 1.5-2.9zm4.1 1.6l-3 4.4 2-11 3.1-5.1zm149.7 78.7l-1.5-6 2-9.4 1.5 6.6zm-147-74.4l-3.1 3.9 2-10.5 3.1-4.5zm141.9 70.9l-1.5-5.4 2-8.9 1.5 5.8zm-137.8-68.1l-3.1 3.5 2.1-10.3 3-4zm134.3 70.4l-1.6-5 2-8 1.6 5.3zm-130.1-67.2l-3.1 3.1 2-9.8 3.1-3.6zm125 64.8l-1.6-4.4 2-7.8 1.6 4.8zm-120.8-61.3l-4.7 4.1 2-9.1 4.7-4.7zm117.2 63.9l-3.1-8.1 2-7.5 3.1 8.6zm-113.1-60.1l-4.6 3.5 2-8.6 4.6-4zm108 58.9l-3.1-7.3 2-7.3 3.1 7.7zm-103.8-55l-4.7 3 2.1-8 4.6-3.4zm97.2 51.2l-3.1-6.4 2-7.4 3.1 6.8zm-93.1-47l-4.6 2.3 2-7.4 4.6-2.7zm88 47.5l-4.6-8.5 2-7.3 4.6 8.9zm-82.3-43.7l-6.1 2.3 2-6.9 6.2-2.6zm75.6 42.1l-4.6-7.4 2-7.3 4.7 7.8zm-69.9-37.3l-6.1 1.3 2-6.5 6.2-1.6zm61.8 34.4l-3.1-4.2-3.1-3.9 2-7.2 3.1 4.1 3.1 4.4zm-51.4-28.2l-4.6-.3-6.2 .2 2-6.3 3.1-.3 3.1-.1 4.6 .1zm43.2 26.6l-4.6-5.2-4.7-4.6 2-6.8 4.7 4.7 4.6 5.4zm-12.8-4.9l-3.1-2.6-4.6-3.4-3.1-1.9-4.7-2.5-3-1.4-4.7-1.7-3.1-.9-4.6-1 2-6.1 4.7 .8 3 .9 4.7 1.6 3.1 1.4 4.6 2.5 3.1 2 4.6 3.4 3.1 2.6z"/><path fill="#009fff" stroke="#009fff" d="M590.9 372.2l-3 6.2 2-11.9 3-7.2zm2.7 3.2l-3.1 5.5 2-11.8 3.1-6.6zm2.6 3.8l-3.1 5 2-11.7 3.1-5.8zm152.7 76.5l-1.5-6.6 2-11.1 1.5 7.1zm-150.1-72.2l-1.6 2.3 2.1-11.7 1.5-2.6zm146.6 75l-1.6-6 2-9.8 1.6 6.4zm-142.4-72.4l-3.1 4 2-11.1 3.1-4.7zm137.3 69.5l-1.6-5.3 2-9.3 1.6 5.7zm-133.2-66.2l-3.1 3.5 2-10.8 3.1-4.1zm129.6 68.9l-3.1-9.6 2.1-8.8 3 10.4zm-125.4-65.3l-3.1 3.1 2-10.3 3.1-3.6zm120.3 63.5l-3.1-8.6 2.1-8.5 3 9.3zm-116.2-59.5l-3 2.6 2-9.7 3-3zm111.1 58.4l-3.1-7.7 2.1-8.1 3 8.3zm-105.4-55.4l-4.6 3.4 2-9.1 4.7-3.8zm100.3 55l-3-6.9 2-7.8 3 7.4zm-96.1-50.4l-4.6 2.7 2-8.4 4.6-3.1zm89.5 47.5l-3.1-6 2-7.8 3.1 6.4zm-83.8-43.4l-6.2 2.8 2-7.8 6.2-3.1zm77.2 41.8l-3.1-5.2 2-7.7 3.1 5.6zm-71.5-36.9l-6.2 1.7 2.1-7.2 6.1-2.1zm64.8 36.4l-3.1-4.5-3.1-4.3 2.1-7.7 3 4.5 3.1 4.7zm-54.5-30.5l-4.6 0-3.1 .2-3.1 .4 2.1-6.8 3-.5 3.1-.4 4.7-.2zm44.8 26.9l-3.1-3.7-4.6-4.9 2-7.5 4.6 5.1 3.1 3.8zm-11.3-3.3l-3.1-2.7-4.6-3.7-4.6-3-4.6-2.5-3.1-1.4-4.7-1.6-4.6-1.2-4.6-.7 2-6.7 4.6 .6 4.6 1 4.7 1.6 3.1 1.4 4.6 2.5 4.6 3 4.6 3.7 3.1 2.9z"/><path fill="#00afff" stroke="#00afff" d="M592.5 369.1l-1.6 3.1 2-12.9 1.6-3.7zm2.6 3.4l-1.5 2.9 2-12.9 1.5-3.3zm4.2 1.6l-3.1 5.1 2-12.5 3.1-6zm148.1 75l-1.6-6.4 2.1-11.8 1.5 7.1zm-145.5-70.1l-3.1 4.5 2-12 3.1-5.3zm141.9 73.5l-1.5-5.8 2-10.4 1.5 6.4zm-137.8-70.4l-3 4 2-11.8 3.1-4.6zm132.7 68.2l-1.5-5.3 2-9.7 1.5 5.7zm-128.5-64.5l-3.1 3.6 2-11.4 3.1-4.1zm123.4 62.9l-1.5-4.7 2-9.2 1.6 5.1zm-119.2-58.8l-3.1 3.1 2-10.8 3.1-3.5zm114.1 58l-1.5-4.2 2-8.8 1.6 4.5zm-108.4-54.9l-4.7 4 2-10.1 4.7-4.5zm103.3 54.7l-1.5-3.8 2-8.3 1.6 4zm-99.2-49.8l-3.1 2.1 2.1-9.5 3-2.5zm94.2 50.2l-3.1-6.6 2-8.3 3.1 7.1zm-88.5-46l-4.6 2.5 2-8.8 4.6-2.9zm81.8 44l-3.1-5.8 2-8.1 3.1 6.1zm-74.5-39.6l-6.2 2.2 2-8.1 6.2-2.7zm67.9 38.8l-4.7-7.3 2.1-8.1 4.6 7.7zm-59.1-33l-4.7 .5-4.6 .8 2-7.6 4.7-1.1 4.6-.7zm49.3 28.9l-3-3.9-3.1-3.7 2-8.1 3.1 3.9 3.1 4.1zm-11.2-3.4l-4.7-4.4-4.6-3.7-4.6-3-4.6-2.5-4.7-2-4.6-1.4-4.6-.9-4.7-.4 2.1-7.3 4.6 .2 4.6 .8 4.6 1.3 4.7 1.9 4.6 2.5 4.6 3.1 4.7 3.8 4.6 4.5z"/><path fill="#00bfff" stroke="#00bfff" d="M594 365.8l-1.5 3.3 2-13.5 1.5-3.8zm4.2 .9l-3.1 5.8 2-13.3 3.1-6.8zm152.7 78.4l-1.5-7.1 2-13.6 1.6 7.9zm-150.1-73.6l-1.5 2.6 2-13.4 1.5-3zm4.2 2.8l-3.1 4.7 2-12.8 3.1-5.4zm137.3 72.4l-1.6-5.7 2.1-11 1.5 6.3zm-133.2-68.7l-3.1 4.1 2.1-12.4 3-4.8zm128.1 67l-1.5-5.1 2-10.2 1.5 5.6zm-123.9-62.8l-3.1 3.6 2-11.9 3.1-4.1zm118.8 61.8l-1.5-4.6 2-9.5 1.5 4.9zm-113.1-58.7l-4.6 4.6 2-11.2 4.6-5.2zm108 58.4l-3.1-8.1 2-9.4 3.1 8.7zm-103.8-53.2l-3.1 2.5 2-10.6 3.1-2.9zm98.7 53.4l-3.1-7.2 2-8.9 3.1 7.8zm-93-49.1l-4.7 3.1 2-9.9 4.7-3.5zm86.4 46.7l-3.1-6.3 2-8.7 3.1 6.7zm-79.2-42.3l-6.2 2.9 2-9.2 6.2-3.3zm72.5 41.1l-4.6-7.9 2-8.7 4.6 8.5zm-65.2-35.4l-3.1 .7-3.1 .9 2-8.6 3.1-1 3.1-.9zm57 33.1l-3-4.5-3.1-4.1 2-8.6 3.1 4.4 3.1 4.7zm-42.1-24.8l-3.1-.6-3.1-.3-3-.1-3.1 .1 2-8.1 3.1-.2 3.1 0 3 .2 3.1 .5zm30.9 20.4l-4.7-4.9-3-2.9-3.1-2.6 2-8.4 3.1 2.6 3.1 3 4.6 5.1z"/><path fill="#00cfff" stroke="#00cfff" d="M597.1 359.2l-3.1 6.6 2-14 3.1-7.8zm2.6 4.5l-1.5 3 2-14.3 1.5-3.5zm149.7 74.3l-1.5-7.1 2-14.4 1.5 7.9zm-145.5-71.8l-3.1 5.3 2-13.8 3.1-6.2zm141.9 76.5l-1.5-6.4 2-12.4 1.6 7zm-137.7-73l-3.1 4.6 2-13.5 3.1-5.4zm132.6 71.3l-1.5-5.7 2-11.4 1.6 6.1zm-128.5-67.1l-3.1 4.1 2-13.1 3.1-4.7zm123.5 66l-1.6-5.1 2-10.6 1.6 5.5zm-119.3-61.2l-3.1 3.5 2-12.4 3.1-4zm114.2 60.7l-3.1-8.9 2-10.3 3.1 9.7zm-108.5-57l-3.1 2.9 2-11.8 3.1-3.4zm101.8 53.2l-1.5-4 2-9.6 1.5 4.2zm-96.1-48.8l-4.6 3.7 2-11 4.6-4.2zm91 49.9l-3.1-6.9 2-9.4 3.1 7.4zm-85.3-44.7l-4.6 2.8 2-10.3 4.6-3.1zm78.7 43.2l-4.6-8.7 2-9.3 4.6 9.3zm-69.9-38.3l-3.1 1-3.1 1.3 2-9.6 3.1-1.5 3.1-1.2zm61.7 35.5l-4.6-7.2 2-9.1 4.6 7.6zm-51.4-28.4l-4.6 .2-4.6 .7 2-8.9 4.6-.9 4.6-.4zm41.7 25.4l-3.1-3.9-4.6-5.1 2-9 4.6 5.4 3.1 4zm-15.9-6.2l-4.7-3.3-4.6-2.7-4.6-2.1-3.1-1.1-3.1-.8 2-8.5 3.1 .8 3.1 1 4.6 2.1 4.7 2.7 4.6 3.5z"/><path fill="#00dfff" stroke="#00dfff" d="M598.7 355.8l-1.6 3.4 2-15.2 1.6-4zm2.6 4.9l-1.6 3 2-14.8 1.6-3.5zm4.1 2.8l-1.5 2.7 2-14.7 1.5-3.1zm138.9 72.8l-1.5-6.3 2-13 1.5 6.9zm-134.7-69l-1.5 2.4 2-14.3 1.5-2.8zm129.6 68l-1.5-5.6 2-11.9 1.5 6.1zm-123.9-65.5l-3.1 4.1 2-13.7 3.1-4.7zm118.8 65l-3.1-9.8 2-11.4 3.1 10.6zm-114.6-59.6l-3.1 3.5 2-12.9 3.1-4zm108 55.3l-1.6-4.3 2-10.6 1.6 4.6zm-102.3-51l-3.1 2.9 2-12.3 3.1-3.3zm97.2 52.1l-3.1-7.5 2-10.3 3.1 8.2zm-90-48.2l-4.6 3.4 2-11.5 4.6-3.8zm83.3 46.4l-3.1-6.5 2.1-9.8 3 6.9zm-76-41l-6.2 3.2 2-10.6 6.2-3.7zm67.9 37.7l-3.1-5.4 2-9.7 3.1 5.8zm-59.2-31.2l-3 .7-3.1 .9 2-10 3.1-1 3.1-.8zm51 29.9l-3.1-4.4-3.1-4 2-9.6 3.1 4.3 3.1 4.6zm-12.8-4.8l-3.1-3-4.7-3.9-4.6-3.2-4.6-2.5-3.1-1.3-4.6-1.4-4.7-.9-4.6-.2 2-9.3 4.7 .1 4.6 .8 4.6 1.4 3.1 1.3 4.6 2.6 4.7 3.3 4.6 4.1 3.1 3.1z"/><path fill="#00efff" stroke="#00efff" d="M600.2 352.4l-1.5 3.4 2-15.8 1.5-4zm152.8 79.9l-1.6-7.9 2-17 1.6 8.9zm-148.6-77.7l-3.1 6.1 2-15.3 3.1-7.2zm143.5 76.3l-1.6-7 2-15.2 1.6 7.8zm-139.4-72.8l-3.1 5.4 2-15.1 3.1-6.3zm134.3 71.9l-1.6-6.1 2-13.7 1.6 6.8zm-130.1-67.4l-3.1 4.7 2-14.7 3.1-5.4zm125 67.1l-3.1-10.9 2-12.9 3.1 11.9zm-120.9-61.9l-1.5 2 2-14.3 1.6-2.3zm114.2 57.2l-1.5-4.8 2-11.8 1.5 5.2zm-108.5-53.2l-3 3.4 2-13.4 3.1-3.9zm103.4 54.4l-3.1-8.3 2.1-11.4 3 9.1zm-96.1-50.9l-4.6 4.2 2-12.7 4.6-4.7zm89.5 48.8l-3.1-7.2 2-10.8 3.1 7.7zm-82.3-43.7l-4.6 3 2-11.9 4.7-3.5zm75.6 42.9l-4.6-9 2-10.6 4.7 9.8zm-66.8-36.9l-3.1 1.1-3 1.3 2-11.1 3.1-1.5 3-1.3zm58.7 34.7l-3.1-5-3.1-4.6 2-10.3 3.1 4.9 3.1 5.3zm-45.2-26.3l-4.7-.1-3.1 .2-3.1 .4 2.1-10.2 3-.6 3.1-.3 4.7 .1zm33.9 22l-4.6-5.4-4.7-4.5 2-10.2 4.7 4.8 4.6 5.7z"/><path fill="#00ffff" stroke="#00ffff" d="M601.7 348.9l-1.5 3.5 2-16.4 1.5-4.1zm149.7 75.5l-1.5-7.9 2-17.9 1.5 8.8zm-145.5-72.9l-1.5 3.1 2-16.4 1.5-3.6zm140.4 72.4l-1.5-6.9 2-15.9 1.5 7.6zm-136.2-68.5l-1.6 2.7 2-16 1.6-3.2zm131.1 68.5l-1.5-6.1 2-14.3 1.5 6.7zm-125.4-66l-3.1 4.7 2-15.4 3.1-5.4zm118.8 60.9l-1.6-5.2 2-13.5 1.6 5.8zm-114.7-55l-3.1 4 2.1-14.6 3-4.6zm109.6 56.4l-1.6-4.6 2-12.3 1.6 5.1zm-103.9-51.8l-3.1 3.4 2.1-13.9 3-3.9zm97.2 49.5l-1.5-4.1 2-11.6 1.6 4.3zm-89.9-45.2l-3.1 2.6 2-13.2 3.1-2.9zm83.3 44.2l-3.1-6.8 2-11.3 3.1 7.3zm-74.5-39.2l-4.7 2.7 2.1-12.4 4.6-3zm66.3 36.6l-3.1-5.6 2-10.9 3.1 5.9zm-56-29.5l-3.1 .6-3.1 1 2-11.5 3.1-1.1 3.1-.8zm46.3 26.7l-4.6-6.3 2-10.7 4.6 6.7zm-14.4-4.6l-3-2.7-3.1-2.3-3.1-1.9-3.1-1.7-3.1-1.3-3.1-1-3.1-.7-3-.5 2-10.5 3 .4 3.1 .7 3.1 1 3.1 1.4 3.1 1.7 3.1 2 3.1 2.4 3 2.8z"/><path fill="#10ffef" stroke="#10ffef" d="M603.3 345.4l-1.6 3.5 2-17 1.6-4.1zm146.6 71.1l-1.6-7.8 2-18.8 1.6 8.7zm-142.5-68.1l-1.5 3.1 2-16.9 1.6-3.6zm137.4 68.6l-1.6-6.8 2-16.7 1.6 7.6zm-131.7-67.1l-3 5.5 2-16.5 3.1-6.3zm126.6 67.9l-1.6-6 2-14.9 1.6 6.6zm-122.4-62.3l-1.5 2.4 2-16.1 1.5-2.8zm115.7 58.1l-1.5-5.2 2-13.9 1.5 5.6zm-110-53.8l-3.1 4 2-15.2 3.1-4.6zm104.9 55.8l-3-9.1 2-13 3 9.8zm-97.6-52l-4.7 4.8 2-14.4 4.7-5.4zm91 50.2l-3.1-7.7 2-12.3 3.1 8.4zm-83.8-44.7l-4.6 3.6 2-13.5 4.6-4.1zm75.6 41l-3.1-6.4 2-11.8 3.1 6.9zm-66.8-34.6l-4.6 2.2 2-12.7 4.6-2.5zm58.6 33.2l-4.6-7.5 2-11.5 4.6 8.1zm-43.6-24.4l-4.7-.1-4.6 .6 2-11.8 4.6-.7 4.7 0zm32.4 20.9l-4.7-5.4-4.6-4.5 2-11.4 4.6 4.8 4.7 5.8z"/><path fill="#20ffdf" stroke="#20ffdf" d="M606.4 338.2l-3.1 7.2 2-17.6 3.1-8.4zm4.1 3.9l-3.1 6.3 2.1-17.4 3-7.3zm132.7 68.1l-1.5-6.7 2-17.4 1.5 7.4zm-128.5-63l-1.6 2.7 2.1-17.3 1.5-3.1zm123.4 64.6l-1.5-5.9 2-15.5 1.5 6.5zm-117.7-60.9l-3.1 4.6 2-16.5 3.1-5.3zm111.1 57.5l-1.6-5.1 2.1-14.4 1.5 5.6zm-105.4-52.5l-3.1 3.9 2-15.8 3.1-4.4zm98.8 50.6l-1.6-4.3 2-13.5 1.6 4.8zm-91.6-45.9l-3 3 2-15 3.1-3.4zm84.9 45.5l-3.1-7.3 2-12.9 3.1 7.9zm-76.1-40.1l-4.6 3.1 2-14 4.6-3.6zm67.9 37.7l-3.1-5.9 2.1-12.3 3 6.4zm-57.5-30.3l-3.1 .9-3.1 1.2 2-13 3.1-1.3 3.1-1.1zm47.8 27.8l-3.1-4.6-3.1-4.1 2-12.2 3.1 4.5 3.1 4.9zm-15.9-5.9l-4.6-3.8-3.1-2-3.1-1.7-3.1-1.4-3.1-1-3.1-.7-3-.4 2-12 3.1 .4 3 .7 3.1 1.1 3.1 1.4 3.1 1.8 3.1 2.2 4.6 4z"/><path fill="#30ffcf" stroke="#30ffcf" d="M607.9 334.6l-1.5 3.6 2-18.8 1.5-4.2zm140.4 74.1l-1.5-7.6 2-19.8 1.5 8.6zm-136.2-69.8l-1.6 3.2 2-18.4 1.6-3.7zm129.6 64.6l-1.6-6.6 2.1-18.1 1.5 7.3zm-123.9-61.7l-3.1 5.4 2-17.7 3.1-6.3zm118.8 64.1l-1.6-5.8 2.1-16 1.5 6.3zm-113.1-59.6l-3.1 4.6 2-17.2 3.1-5.3zm106.4 57l-1.5-5 2-14.8 1.6 5.4zm-100.7-51.1l-3.1 3.7 2-16.3 3.1-4.3zm94.1 50l-3.1-8.4 2-14.2 3.1 9.1zm-86.9-44.4l-3.1 2.8 2.1-15.4 3-3.3zm78.7 41l-3.1-6.9 2-13.5 3.1 7.5zm-68.3-35.5l-4.7 2.7 2-14.5 4.7-3zm60.1 34.5l-4.6-8.1 2-13 4.7 8.8zm-45.2-25.6l-4.6 .3-4.6 .9 2-13.3 4.6-1.1 3.1-.3 1.5 0zm32.4 20.3l-3.1-3.8-4.6-4.8 2-12.9 4.7 5.3 3 4z"/><path fill="#40ffbf" stroke="#40ffbf" d="M609.5 331l-1.6 3.6 2-19.4 1.6-4.2zm137.3 70.1l-1.6-7.6 2-20.6 1.6 8.4zm-133.2-65.3l-1.5 3.1 2-18.9 1.5-3.7zm126.5 61.1l-1.5-6.5 2-18.8 1.6 7.2zm-120.8-57.9l-1.5 2.8 2-18.6 1.5-3.2zm115.7 61.1l-1.5-5.6 2-16.7 1.6 6.3zm-110-56.1l-1.5 2.3 2-17.9 1.5-2.6zm103.4 54.3l-3.1-9.6 2-15.7 3.1 10.5zm-96.1-49.7l-3.1 3.6 2-16.9 3.1-4.1zm87.9 45.2l-1.5-4 2-14.6 1.5 4.4zm-79.1-40l-4.7 4 2-15.9 4.7-4.4zm70.9 38.1l-3-6.4 2-14.1 3 7zm-60.6-30.7l-4.6 2.1 2-14.8 4.6-2.4zm50.9 28.5l-4.6-7.2 2-13.6 4.6 7.8zm-15.9-5.8l-3.1-2.8-3.1-2.4-3-1.9-3.1-1.6-3.1-1.3-3.1-.9-3.1-.5-3.1-.3 2-13.5 3.1 .2 3.1 .6 3.1 .9 3.1 1.3 3.1 1.7 3.1 2.2 3 2.5 3.1 2.9z"/><path fill="#50ffaf" stroke="#50ffaf" d="M611 327.3l-1.5 3.7 2-20 1.5-4.3zm134.2 66.2l-1.5-7.4 2-21.6 1.5 8.4zm-128.5-64l-3.1 6.3 2-19.5 3.1-7.3zm5.7 4.2l-3.1 5.3 2-19 3.1-6.2zm111.1 60.8l-1.5-5.6 2-17.2 1.5 6.1zm-105.4-54.9l-3.1 4.4 2-18.2 3.1-5zm97.2 49.1l-1.5-4.6 2-16.2 1.5 5.1zm-89.9-43.5l-3.1 3.4 2-17.4 3.1-3.9zm83.3 44.6l-3.1-7.7 2-15.3 3.1 8.4zm-73-39.4l-4.6 3.4 2-16.3 4.6-3.9zm63.3 35.1l-3.1-6 2-14.6 3.1 6.5zm-49.9-26.5l-3.1 .7-4.6 1.5 2-15.1 4.6-1.8 3.1-.7zm38.6 23.5l-3.1-4.3-3.1-3.8 2-14.2 3.1 4.1 3.1 4.6z"/><path fill="#60ff9f" stroke="#60ff9f" d="M612.5 323.7l-1.5 3.6 2-20.6 1.5-4.3zm5.7 2.6l-1.5 3.2 2-20.5 1.6-3.7zm120.4 64.1l-1.5-6.3 2-19.6 1.5 7.1zm-114.7-59.4l-1.5 2.7 2-19.9 1.6-3zm108.1 57.9l-3.1-10.8 2-18.3 3.1 11.9zm-100.8-53.6l-3.1 4.3 2-18.8 3.1-4.9zm92.6 48.8l-1.6-4.5 2-16.7 1.6 5zm-85.4-42.2l-3 3.3 2-17.9 3.1-3.6zm77.2 40.2l-3.1-7.2 2-16 3.1 7.9zm-65.3-34.5l-4.6 2.8 2-16.8 4.6-3.2zm55.6 31.9l-4.7-8.1 2-15.3 4.7 8.8zm-32.9-19.1l-3.1-.9-3.1-.6-3.1-.2-1.5 0-3.1 .3 2-15.4 3.1-.4 1.5 0 3.1 .2 3.1 .6 3.1 1zm18.5 14l-3.1-3.4-3.1-2.9-3-2.5-3.1-2.2 2-15.1 3.1 2.3 3.1 2.7 3 3.2 3.1 3.7z"/><path fill="#70ff8f" stroke="#70ff8f" d="M614.1 320l-1.6 3.7 2-21.3 1.6-4.3zm129.6 66.1l-1.5-7.3 2-22.5 1.5 8.2zm-123.9-62.9l-1.6 3.1 2.1-21 1.5-3.7zm117.3 60.9l-1.6-6.3 2-20.2 1.6 6.9zm-110.1-58.3l-3.1 5.2 2.1-20.2 3-6zm101.9 52.3l-1.6-5.1 2-18.9 1.6 5.7zm-94.6-46.9l-3.1 4.1 2-19.4 3.1-4.7zm87.9 48.4l-3.1-8.6 2.1-17.5 3 9.4zm-79.1-42.1l-4.7 4.4 2.1-18.2 4.6-5.1zm69.4 37.4l-3.1-6.8 2-16.5 3.1 7.3zm-57.6-29.5l-4.6 2.2 2-17.2 4.7-2.5zm46.3 26l-4.6-7.1 2-15.9 4.6 7.7zm-22-8l-3.1-1.7-3.1-1.3 2-15.4 3.1 1.4 3.1 1.9z"/><path fill="#80ff80" stroke="#80ff80" d="M617.2 312.6l-3.1 7.4 2-21.9 3.1-8.6zm125 66.2l-1.6-7.2 2-23.3 1.6 8zm-119.3-61.9l-3.1 6.3 2-21.6 3.1-7.2zm112.6 60.9l-1.5-6.1 2-20.9 1.5 6.8zm-106.9-54.5l-1.6 2.5 2-21 1.6-3zm98.7 49.7l-1.5-5.1 2-19.4 1.5 5.6zm-89.9-45.7l-3.1 3.9 2-20 3.1-4.5zm81.7 43.7l-1.5-4.2 2-17.9 1.6 4.6zm-72.9-36.2l-3.1 2.7 2-18.9 3.1-3zm63.2 33.3l-3.1-6.2 2-17.2 3.1 6.9zm-46.7-24.7l-3.1 .5-4.7 1.5 2.1-17.5 3-1.2 1.6-.4 3.1-.7zm33.9 20.9l-3.1-4.1-3.1-3.7 2-16.6 3.1 4 3.1 4.5z"/><path fill="#8fff70" stroke="#8fff70" d="M618.7 309l-1.5 3.6 2-23.1 1.5-4.3zm121.9 62.6l-1.5-7.1 2-24.2 1.5 8zm-116.2-57.8l-1.5 3.1 2-22.5 1.5-3.6zm109.6 57.9l-1.6-6 2-21.6 1.6 6.7zm-102.3-53.4l-3.1 5 2-21.5 3.1-5.7zm94.1 49.6l-1.6-5 2.1-19.8 1.5 5.4zm-85.3-44.2l-3.1 3.6 2-20.6 3.1-4.2zm77.1 43.1l-3.1-7.9 2-18.6 3.1 8.6zm-66.8-35.4l-4.6 3.4 2-19.2 4.6-3.9zm55.5 30.5l-3.1-5.8 2.1-17.7 3 6.3zm-15.9-5.4l-3-3.2-3.1-2.7-3.1-2.3-1.6-1-3-1.7-3.1-1.2-3.1-.8-3.1-.3-1.6-.1-3 .2 2-17.8 3.1-.2 1.5 0 3.1 .5 3.1 .8 3.1 1.3 3 1.8 1.6 1.1 3.1 2.5 3.1 3 3 3.5z"/><path fill="#9fff60" stroke="#9fff60" d="M620.3 305.3l-1.6 3.7 2-23.8 1.6-4.3zm118.8 59.2l-1.6-6.9 2-25 1.6 7.7zm-113.1-53.7l-1.6 3 2-23 1.6-3.5zm106.4 54.9l-1.5-5.9 2-22.2 1.5 6.5zm-99.2-49.8l-1.5 2.4 2-22.2 1.5-2.8zm91 47l-1.5-4.8 2-20.3 1.6 5.3zm-80.7-42.7l-3 3.5 2-21.2 3.1-3.9zm71 38.7l-3.1-7.3 2-19.5 3.1 8.2zm-59.1-30.2l-4.6 2.7 2-19.7 4.6-3.1zm47.8 27.4l-4.6-7.7 2-18.4 4.7 8.4z"/><path fill="#afff50" stroke="#afff50" d="M621.8 301.6l-1.5 3.7 2-24.4 1.5-4.2zm115.7 56l-1.5-6.8 2-25.8 1.5 7.6zm-108.5-52.8l-3 6 2-23.5 3.1-7zm101.9 55l-1.6-5.7 2.1-22.8 1.5 6.3zm-94.6-48.6l-3.1 4.7 2-22.6 3.1-5.5zm86.4 46.9l-3.1-9.2 2-21.3 3.1 10.2zm-76.1-41l-3.1 3.1 2.1-21.6 3-3.6zm64.8 34.5l-1.5-3.5 2-19.8 1.5 3.8zm-49.8-25.3l-3.1 1-3.1 1.4 2-20.1 3.1-1.6 3.1-1.1zm37 22.1l-3.1-4.5-3.1-4 2.1-19.3 3 4.4 3.1 5z"/><path fill="#bfff40" stroke="#bfff40" d="M623.3 298l-1.5 3.6 2-24.9 1.6-4.3zm7.3 3.8l-1.6 3 2.1-24.5 1.5-3.4zm98.7 52.3l-1.5-5.6 2-23.4 1.6 6.2zm-89.9-47.4l-3.1 4.5 2-23.4 3.1-5.1zm80.2 42.2l-1.5-4.4 2-21.8 1.5 4.9zm-69.9-34.7l-3.1 2.9 2-22.1 3.1-3.3zm60.2 33.9l-4.6-9.7 2-20.7 4.6 10.6zm-37.5-22.2l-1.6-.3-3-.2-3.1 .2-3.1 .7 2-20.4 3.1-.8 3.1-.3 3.1 .2 1.5 .3zm20 14l-1.5-1.8-3.1-3.3-1.5-1.4-3.1-2.5 2-20.1 3.1 2.7 1.5 1.6 3.1 3.6 1.6 1.9z"/><path fill="#cfff30" stroke="#cfff30" d="M626.4 290.8l-3.1 7.2 2.1-25.6 3-8.4zm109.6 60l-1.6-6.7 2-26.6 1.6 7.5zm-102.3-54.7l-3.1 5.7 2-24.9 3.1-6.7zm94.1 52.4l-3.1-10.7 2-24.7 3.1 12zm-85.3-46l-3.1 4.2 2-24 3.1-4.9zm75.6 42l-3.1-8.4 2-22.6 3.1 9.2zm-63.8-33.9l-4.6 3.6 2-22.5 4.7-4.2zm51 27.8l-3.1-5.8 2-21.3 3.1 6.4zm-22.1-7.5l-1.6-1.1-3-1.8-3.1-1.3-3.1-.8 2-20.6 3.1 .9 3.1 1.4 3.1 2 1.5 1.2z"/><path fill="#dfff20" stroke="#dfff20" d="M628 287.3l-1.6 3.5 2-26.8 1.6-4.1zm106.4 56.8l-1.5-6.5 2-27.4 1.5 7.3zm-99.2-50.8l-1.5 2.8 2-25.9 1.5-3.3zm89.5 44.5l-1.5-5.2 2-25.2 1.5 5.7zm-79.1-39.2l-3.1 3.9 2-24.7 3.1-4.5zm69.4 37.5l-1.6-4 2.1-23 1.5 4.4zm-56-28.3l-1.6 .8-3.1 2 2.1-23.1 3-2.2 1.6-1zm43.2 24.8l-4.7-7.6 2.1-22 4.6 8.3z"/><path fill="#efff10" stroke="#efff10" d="M629.5 283.8l-1.5 3.5 2-27.4 1.5-4.1zm103.4 53.8l-1.5-6.3 2-28.2 1.5 7.1zm-96.1-47.1l-1.6 2.8 2-26.4 1.6-3.1zm86.4 42.1l-1.6-5 2-25.8 1.6 5.6zm-74.6-37.6l-3 3.6 2-25.3 3-4.1zm64.8 37.1l-3-7.5 2-23.8 3.1 8.3zm-48.3-26.7l-3 1-3.1 1.4 2-23.5 3.1-1.6 3.1-1.1zm32.4 19.6l-1.5-2.2-3.1-4.1 2-22.8 3.1 4.6 1.6 2.5z"/><path fill="#ffff00" stroke="#ffff00" d="M631.1 280.3l-1.6 3.5 2-28 1.6-4.1zm100.3 51l-1.6-6.2 2-29 1.6 7zm-91.6-46.1l-3 5.3 2-26.7 3.1-6.2zm81.8 42.4l-1.5-4.9 2-26.3 1.5 5.4zm-69.9-35.9l-3.1 3.3 2-25.8 3.1-3.8zm58.7 32.9l-3.1-6.9 2-24.6 3.1 7.7zm-17.5-5.9l-3.1-3.6-3.1-3-3-2.5-1.6-1-3.1-1.7-3.1-1.2-3-.7-3.1-.2-1.6 .1-3.1 .5 2.1-23.8 3-.6 1.6-.1 3.1 .1 3.1 .7 3 1.3 3.1 1.8 1.6 1.2 3.1 2.7 3 3.3 3.1 3.9z"/><path fill="#ffef00" stroke="#ffef00" d="M632.6 276.9l-1.5 3.4 2-28.6 1.5-4zm97.2 48.2l-1.5-6.1 2-29.6 1.5 6.7zm-86.9-44.9l-3.1 5 2.1-27.6 3-5.8zm77.2 42.5l-1.6-4.7 2-26.8 1.6 5.2zm-65.3-33.9l-3.1 2.9 2-26.3 3.1-3.3zm52.5 28.9l-3.1-6.4 2-25.2 3.1 7z"/><path fill="#ffdf00" stroke="#ffdf00" d="M635.7 270.2l-3.1 6.7 2-29.2 3.1-7.8zm92.6 48.8l-1.6-5.9 2-30.3 1.6 6.6zm-83.8-41.2l-1.6 2.4 2-28.4 1.6-2.8zm74 40.2l-3-8.9 2-27.9 3 10zm-59.1-32.7l-1.5 1.1-3.1 2.4 2-26.7 3.1-2.9 1.5-1.2zm44.8 26l-3.1-5.7 2-25.8 3.1 6.3z"/><path fill="#ffcf00" stroke="#ffcf00" d="M637.2 266.9l-1.5 3.3 2-30.3 1.5-3.8zm89.5 46.2l-1.5-5.7 2-31.1 1.5 6.5zm-79.1-39.8l-3.1 4.5 2-28.8 3.1-5.2zm67.9 35.8l-1.6-4.3 2-28.3 1.6 4.7zm-51.4-26.4l-1.6 .8-3.1 1.8 2-27.3 3.1-2.2 1.6-.8zm37 22.9l-3.1-5.1-3.1-4.6 2-26.8 3.1 5 3.1 5.7z"/><path fill="#ffbf00" stroke="#ffbf00" d="M638.8 263.8l-1.6 3.1 2-30.8 1.6-3.8zm86.4 43.6l-1.6-5.6 2-31.7 1.6 6.2zm-74.6-38.2l-3 4.1 2-29.5 3.1-4.9zm63.3 35.6l-3.1-8 2-29.1 3.1 8.8zm-42.1-23.9l-3.1 .3-1.5 .4-3.1 1.1 2-27.7 3.1-1.4 1.5-.4 3.1-.5zm23.1 15l-3.1-3.9-3-3.3 2-27.6 3.1 3.7 3 4.3z"/><path fill="#ffaf00" stroke="#ffaf00" d="M641.9 257.6l-3.1 6.2 2-31.5 3.1-7.2zm81.7 44.2l-1.5-5.4 2-32.3 1.5 6zm-69.9-36.4l-3.1 3.8 2.1-30.3 3-4.4zm57.1 31.4l-3.1-7.3 2-30 3.1 8.2zm-22-8.1l-3.1-2.7-1.6-1.2-3.1-1.8-1.5-.7-3.1-1-1.5-.3-3.1-.1 2-28.2 3.1 .1 1.5 .3 3.1 1.1 1.5 .7 3.1 2 1.6 1.3 3.1 2.9z"/><path fill="#ff9f00" stroke="#ff9f00" d="M643.4 254.7l-1.5 2.9 2-32.5 1.5-3.4zm78.7 41.7l-1.6-5.2 2.1-33 1.5 5.9zm-65.3-34.3l-3.1 3.3 2-30.9 3.1-3.9zm50.9 27.4l-3-6.7 2-30.7 3 7.4z"/><path fill="#ff8f00" stroke="#ff8f00" d="M646.5 249l-3.1 5.7 2-33 3.1-6.7zm74 42.2l-3-10 2-34.1 3.1 11.1zm-59.1-33.2l-1.5 1.2-3.1 2.9 2-31.5 3.1-3.3 1.6-1.5zm43.3 24.8l-3.1-6 2-31.3 3.1 6.6z"/><path fill="#ff8000" stroke="#ff8000" d="M648 246.3l-1.5 2.7 2-34 1.5-3.1zm69.5 34.9l-1.6-4.7 2-34.6 1.6 5.2zm-53-25.4l-3.1 2.2 2.1-32.2 3-2.5zm37.1 21l-3.1-5.3-1.6-2.4 2-32.1 1.6 2.6 3.1 5.9z"/><path fill="#ff7000" stroke="#ff7000" d="M651.1 241.3l-3.1 5 2-34.4 3.1-6zm64.8 35.2l-1.5-4.5 2-35.2 1.5 5.1zm-45.2-23.3l-3.1 1-3.1 1.6 2-32.5 3.1-2 3.1-1.3zm26.2 15.9l-1.5-2.2-3.1-4 2-32.8 3.1 4.4 1.5 2.5z"/><path fill="#ff6000" stroke="#ff6000" d="M652.7 238.9l-1.6 2.4 2-35.4 1.6-2.8zm61.7 33.1l-3.1-8.5 2-36.1 3.1 9.4zm-22.1-9.1l-1.5-1.8-3.1-2.9-3.1-2.4-3.1-1.6-1.5-.6-3.1-.8-3.1-.1-3.1 .5 2-33.2 1.6-.4 1.5-.2 1.5-.1 1.6 .1 1.5 .2 1.6 .5 1.5 .6 3.1 1.8 3.1 2.5 3.1 3.2 1.5 1.9z"/><path fill="#ff5000" stroke="#ff5000" d="M655.7 234.5l-3 4.4 2-35.8 3.1-5.2zm55.6 29l-1.6-4 2.1-36.5 1.5 4.4z"/><path fill="#ff4000" stroke="#ff4000" d="M658.8 230.6l-3.1 3.9 2.1-36.6 3-4.6zm50.9 28.9l-3-7.4 2-37.4 3.1 8.3z"/><path fill="#ff3000" stroke="#ff3000" d="M661.9 227.3l-3.1 3.3 2-37.3 3.1-4zm44.8 24.8l-3.1-6.6 2-38.1 3.1 7.3z"/><path fill="#ff2000" stroke="#ff2000" d="M666.5 223.3l-1.5 1.1-3.1 2.9 2-38 3.1-3.4 1.6-1.5zm37.1 22.2l-3.1-5.9 2-38.7 3.1 6.5z"/><path fill="#ff1000" stroke="#ff1000" d="M671.2 220.6l-1.6 .7-3.1 2 2.1-38.9 3-2.4 1.6-.9zm29.3 19l-3.1-5.1-3.1-4.4 2-39.6 3.1 4.7 3.1 5.7z"/><path fill="#ff0000" stroke="#ff0000" d="M694.3 230.1l-1.5-1.9-3.1-3.2-3.1-2.5-3.1-1.8-1.5-.6-1.6-.5-1.5-.2-1.6-.1-1.5 .1-1.5 .2-3.1 1 2-39.5 1.5-.8 1.6-.5 1.5-.4 1.6-.2 1.5 0 1.5 .2 1.6 .4 1.5 .6 1.6 .8 1.5 1 3.1 2.7 3.1 3.5 1.5 2.1z"/><path fill="#0000af" stroke="#0000af" d="M296.9 485.8l-3.1 0 2.1 0 3 .1zm-3.5-.1l-3.1 .1 2 0 3.1 0zm-3.6-.1l-1.5 .1 2 .1 1.5-.1z"/><path fill="#0000bf" stroke="#0000bf" d="M312.8 486.8l-4.6-.4 2 .1 4.6 .5zm-3.5-.5l-6.2-.3-6.2-.2 2 .1 6.2 .3 6.2 .4zm-5.1-.5l-10.8-.1 2 .1 10.8 .3zm-3.6-.4l-4.6 0-6.2 .2 2 .1 10.8 0zm-5.1-.4l-9.2 .5 2 .2 9.2-.3zm-3.5-.4l-7.7 .7 2 .2 7.7-.5zm-3.6-.4l-6.1 .8 2 .3 6.1-.6zm-3.5-.3l-4.7 .8 2.1 .3 4.6-.6zm-3.6-.2l-3.1 .6 2 .4 3.1-.5zm-3.5-.2l-1.6 .4 2 .4 1.6-.3z"/><path fill="#0000cf" stroke="#0000cf" d="M326.7 488.7l-6.2-1-7.7-.9 2 .2 7.8 1 6.1 1.1zm-5.1-1l-6.2-.8-6.1-.6 2 .3 6.2 .7 6.1 .9zm-5.1-.9l-6.1-.7-6.2-.3 2 .3 6.2 .5 6.1 .7zm-5.1-.9l-4.6-.4-6.2-.1 2 .3 6.2 .3 4.6 .4zm-5.1-.9l-4.6-.1-6.2 .1 2 .4 6.2 0 4.6 .2zm-3.5-.7l-4.6 0-6.2 .3 2 .4 6.2-.1 4.6 .1zm-5.1-.7l-4.6 .2-4.7 .4 2 .5 9.3-.4zm-5.1-.6l-7.7 .9 2 .5 7.7-.7zm-3.6-.6l-7.7 1.3 2 .5 7.7-1zm-5.1-.3l-6.1 1.4 2 .5 6.1-1.1zm-3.5-.4l-6.2 1.7 2 .5 6.2-1.5zm-3.6-.3l-4.6 1.4 2 .6 4.6-1.3zm-3.5-.3l-3.1 1.2 2 .5 3.1-1zm-3.6-.1l-1.5 .7 2 .6 1.5-.6z"/><path fill="#0000df" stroke="#0000df" d="M337.1 491l-7.8-1.9-7.7-1.4 2 .5 7.7 1.5 7.8 1.9zm-3.6-1l-7.7-1.8-4.6-.8-4.7-.6 2 .5 9.3 1.5 7.7 1.8zm-6.6-1.9l-7.8-1.3-7.7-.9 2 .5 7.8 1 7.7 1.5zm-6.7-1.6l-6.2-.9-7.7-.6 2 .6 7.8 .7 6.1 .9zm-6.6-1.5l-4.6-.5-6.2-.2 2 .7 6.2 .3 4.6 .5zm-5.1-1.2l-4.6-.2-6.2 0 2 .7 6.2 .1 4.6 .3zm-5.1-1.1l-4.6 0-6.2 .3 2 .7 6.2-.2 4.6 .1zm-5.1-1l-4.6 .2-4.7 .5 2 .8 4.7-.4 4.6-.1zm-5.1-.9l-4.6 .6-4.7 .7 2 .8 4.7-.7 4.6-.4zm-5.1-.6l-7.7 1.5 2 .7 7.7-1.2zm-5.1-.4l-6.2 1.6 2 .7 6.2-1.4zm-3.6-.6l-6.1 1.9 2 .7 6.2-1.7zm-3.5-.5l-6.2 2.3 2 .7 6.2-2.1zm-3.6-.5l-6.1 2.8 2 .7 6.2-2.5zm-5.1 .4l-3 1.6 2 .8 3.1-1.4zm-3.5-.2l-1.6 .9 2.1 .9 1.5-.8z"/><path fill="#0000ef" stroke="#0000ef" d="M342.8 492.7l-4.7-1.5-4.6-1.2 2 .6 4.6 1.3 4.7 1.4zm2.6 .9l-4.7-1.7-4.6-1.4-4.6-1.3-4.6-1.1 2 .8 4.6 1.1 4.6 1.2 4.7 1.5 4.6 1.6zm-2-.9l-6.2-2.1-4.6-1.4-6.2-1.6-6.2-1.1 2 .7 6.2 1.3 6.2 1.5 4.6 1.4 6.2 2.2zm-11.3-4l-4.6-1.3-4.7-1-4.6-.8-4.6-.6 2 .8 4.6 .7 4.6 .8 4.7 1.1 4.6 1.2zm-9.7-3l-6.2-1.1-7.7-.8 2 .9 7.7 .9 6.2 1.1zm-6.7-2l-6.1-.7-6.2-.3 2 .9 6.2 .4 6.1 .8zm-6.6-1.7l-4.6-.3-6.2 0 2 1 6.2 .1 4.6 .3zm-6.6-1.5l-4.7 0-4.6 .3 2 1 4.6-.2 4.7 .1zm-5.1-1.2l-4.7 .3-4.6 .6 2 1 4.6-.5 4.7-.2zm-5.1-1.1l-4.7 .7-4.6 .9 2 .9 4.6-.7 4.7-.5zm-5.1-.8l-3.1 .6-4.7 1.2 2.1 .9 4.6-1 3.1-.5zm-5.1-.6l-6.2 1.9 2 .9 6.2-1.6zm-5.1-.3l-4.7 1.7 2.1 1 4.6-1.5zm-3.6-.7l-6.2 2.8 2.1 1 6.1-2.5zm-3.5-.7l-6.2 3.3 2 1 6.2-2.9zm-5.1 .3l-4.7 2.9 2 1 4.7-2.6zm-3.6-.5l-3.1 2.2 2 1.2 3.1-2zm-3.5-.4l-1.6 1.2 2 1.4 1.6-1.1z"/><path fill="#0000ff" stroke="#0000ff" d="M346.5 493.9l-3.1-1.2 2 .9 3.1 1.2zm2.6 1.1l-4.7-2-4.6-1.8-7.7-2.5 2 .9 7.7 2.6 4.7 1.7 4.6 2zm1 .5l-7.7-3.5-6.1-2.4-7.8-2.4-6.1-1.5 2 1 7.7 2 6.2 2 6.1 2.3 7.8 3.5zm-11.2-5.3l-6.2-2.3-6.2-1.9-4.6-1.1-6.2-1.2 2 1.1 6.2 1.2 4.6 1.2 6.2 1.9 6.2 2.3zm-14.4-5.5l-3.1-.8-4.6-.9-3.1-.5-4.6-.5 2 1.1 7.7 1.1 7.7 1.8zm-9.7-3.1l-6.2-.8-6.1-.3 2 1.2 6.1 .4 6.2 .9zm-6.6-2.1l-4.7-.3-6.1 .1 2 1.2 6.1 .1 4.7 .4zm-6.7-1.7l-4.6 0-4.6 .4 2 1.3 4.6-.3 4.6 0zm-6.6-1.4l-3.1 .3-4.6 .7 2 1.2 4.6-.5 3.1-.3zm-5.1-1.2l-3.1 .6-4.6 1 2 1.2 4.6-.9 3.1-.4zm-5.1-.9l-3.1 .8-4.6 1.4 2 1.2 4.6-1.3 3.1-.6zm-5.1-.7l-6.2 2.2 2 1.3 6.2-2zm-5.1-.5l-4.6 2 2 1.4 4.6-1.9zm-3.6-1.1l-6.1 3.4 2 1.3 6.1-3zm-5.1-.1l-4.6 3 2 1.4 4.7-2.7zm-3.5-.8l-4.6 3.4 2 1.5 4.6-3.1zm-5.1 .4l-3.1 2.7 2 1.5 3.1-2.4zm-3.6-.6l-1.5 1.5 2 1.8 1.5-1.4zm146.4 84.2l-1.5-2.5 2 3.4 1.5 2.4zm4.2 6.7l-3.1-5.3 2 3.6 3.1 4.9zm2.6 4.2l-4.6-8.1 2 3.9 4.6 7.5zm1.1 1.8l-3.1-5.7 2 3.9 3.1 5.2zm1.1 1.8l-3.1-5.9 2 4.1 3.1 5.4zm-.5-1l-1.5-3.2 2 4.2 1.5 2.9z"/><path fill="#0010ff" stroke="#0010ff" d="M349.7 495.2l-6.2-3-4.6-2 2 1.2 4.6 1.9 6.2 3zm1.1 .6l-7.8-4.1-6.1-2.8-6.2-2.3-6.2-1.9 2 1.3 6.2 1.9 6.2 2.3 6.1 2.7 7.8 4zm1 .5l-4.6-2.7-4.6-2.5-4.7-2.2-4.6-2-4.6-1.7-4.6-1.5-4.7-1.2-4.6-.9 2 1.4 4.6 .9 4.7 1.2 4.6 1.5 4.6 1.7 4.7 2 4.6 2.2 4.6 2.4 4.6 2.6zm-25.1-12.7l-4.7-1.4-4.6-1.2-4.6-.9-4.6-.6 2 1.5 4.6 .6 4.6 .9 4.7 1.2 4.6 1.5zm26.2 13.3l-1.5-1 2 1.4 1.5 1zm-39-17.9l-6.2-.9-6.2-.3 2 1.4 6.2 .5 6.2 1zm-8.2-2.5l-4.7-.3-6.1 .2 2 1.4 6.2 0 4.6 .3zm-6.7-2l-4.6 .2-4.6 .5 2 1.5 4.6-.4 4.6-.1zm-6.6-1.5l-3.1 .4-4.6 .9 2 1.5 4.6-.8 3.1-.3zm-6.6-1.1l-6.2 1.7 2 1.5 6.2-1.4zm-5.1-1.1l-6.2 2.3 2 1.5 6.2-1.9zm-5.1-.9l-4.7 2.1 2 1.7 4.7-1.8zm-5.1-.6l-4.7 2.6 2.1 1.7 4.6-2.3zm-3.6-1.3l-4.6 3.1 2 1.8 4.6-2.7zm-5.1-.1l-4.6 3.6 2 1.8 4.6-3.3zm-3.5-1.2l-4.7 4.2 2 1.9 4.7-3.7zm-5.1 .5l-3.1 3.2 2 2 3.1-2.9zm-3.6-.9l-1.5 1.8 2 2.3 1.5-1.6zm146.3 82.3l-3.1-5 2 3.5 3.1 4.7zm2.6 4l-3.1-5.2 2 3.7 3.1 4.9zm2.6 3.9l-4.6-8.1 2 4.2 4.6 7.5zm1.1 1.4l-3.1-5.6 2 4.2 3.1 5.3zm2.6 4.2l-4.6-8.8 2 4.6 4.6 8.1zm1.1 1.6l-3.1-6.2 2 4.6 3.1 5.7zm1.1 1.7l-3.1-6.4 2 4.7 3.1 5.9zm1 2.1l-3.1-6.9 2.1 4.8 3 6.3zm-.4-1.2l-1.6-3.7 2 4.9 1.6 3.3z"/><path fill="#0020ff" stroke="#0020ff" d="M351.4 495.9l-6.2-3.7-6.2-3.3-6.2-2.9-6.1-2.4 2 1.6 6.2 2.3 6.1 2.9 6.2 3.2 6.2 3.7zm4.1 2.8l-6.1-4.3-4.7-2.9-6.2-3.5-4.6-2.3-6.2-2.6-4.6-1.7-4.6-1.3-4.6-1.1 2 1.7 4.6 1.1 4.6 1.3 4.7 1.7 6.1 2.6 4.7 2.2 6.1 3.5 4.7 2.8 6.1 4.2zm-29.8-17.5l-6.1-2.1-4.7-1.2-4.6-.9-4.6-.5 2 1.6 4.6 .7 4.6 .9 4.7 1.2 6.1 2.2zm30.9 18.2l-7.7-5.6-7.7-5 2 1.8 7.7 4.8 7.7 5.5zm-45.2-23.7l-6.2-.9-6.2-.3 2 1.7 6.2 .4 6.2 1zm47.8 25.7l-6.2-5 2.1 1.8 6.1 4.8zm-57.5-28.7l-4.7 0-4.6 .3 2 1.7 4.6-.2 4.7 .2zm60.1 30.8l-3.1-2.7 2.1 1.9 3 2.6zm-66.8-32.9l-4.6 .5-4.6 .8 2 1.8 4.6-.7 4.6-.3zm69.5 35.3l-1.6-1.5 2 1.9 1.6 1.5zm-76.1-37l-3.1 .7-4.6 1.2 2 1.9 4.6-1.1 3.1-.5zm-6.7-1.2l-3 1.1-3.1 1.1 2 2 6.1-2zm-5.1-1.2l-3 1.3-3.1 1.5 2 2 6.2-2.5zm-5.1-1.1l-4.6 2.6 2 2.2 4.7-2.4zm-5.1-.8l-4.6 3.3 2 2.1 4.7-2.9zm-5-.4l-3.1 2.5 2 2.4 3.1-2.4zm-5.1-.1l-3.1 3.1 2 2.3 3.1-2.8zm-3.6-1.3l-3.1 3.5 2 2.5 3.1-3.2zm-5.1 .7l-1.5 2 2 2.6 1.5-1.8zm142.6 76.3l-4.7-7.5 2.1 3.5 4.6 7.1zm2.6 3.8l-4.6-7.7 2 3.9 4.6 7.3zm2.6 3.8l-4.6-8.1 2 4.3 4.6 7.5zm1.1 1l-4.6-8.4 2 4.7 4.6 7.9zm2.6 3.9l-4.6-8.8 2 4.9 4.6 8.1zm1.1 1l-3.1-6.1 2 5.1 3.1 5.6zm2.6 4.2l-4.6-9.6 2 5.4 4.6 8.8zm1.1 1.5l-3.1-6.8 2 5.3 3.1 6.2zm1 1.6l-3-7.1 2 5.5 3.1 6.4zm1.1 2l-3.1-7.5 2 5.5 3.1 6.9zm1.1 2.5l-3.1-8 2 5.5 3.1 7.3z"/><path fill="#0030ff" stroke="#0030ff" d="M341.2 488.8l-4.7-2.6-3-1.6-4.7-2.1-3.1-1.3 2 1.9 3.1 1.2 4.7 2.1 7.7 4.2zm11.8 7.6l-6.1-4.5-4.7-3.1-6.1-3.7-4.7-2.5-6.1-2.8-4.7-1.7-4.6-1.4-4.6-1 2 1.9 4.6 1.1 4.7 1.4 4.6 1.7 6.2 2.8 4.6 2.4 6.2 3.7 4.6 3.1 6.2 4.4zm-32.8-20l-4.7-1.4-4.6-1.2-4.6-.7-4.6-.4 2 2 4.6 .4 4.6 .9 4.7 1.1 4.6 1.5zm38.5 24.4l-6.1-5.1-4.7-3.6-4.6-3.4-4.6-3 2 2.1 4.6 3 4.7 3.3 4.6 3.5 6.2 5.1zm-52.9-29.8l-4.6-.4-3.1-.1-3.1 .1 2 2.1 6.2 .1 4.6 .5zm57.1 33.4l-7.7-7-6.2-5.2 2 2.3 6.2 5 7.7 6.8zm-66.8-36.3l-3.1 .2-4.6 .6 2 2.2 4.6-.5 3.1-.1zm69.4 38.8l-6.1-6.1-4.7-4.3 2 2.3 4.7 4.2 6.1 5.9zm-76-40.9l-3.1 .6-4.7 1.1 2 2.2 4.7-1 3.1-.4zm77.1 41.9l-6.2-6.4 2 2.3 6.2 6.2zm-83.8-43.6l-3.1 1-3.1 1.2 2.1 2.3 3-1.1 3.1-.8zm86.4 46.3l-6.1-6.8 2 2.5 6.1 6.6zm-93-47.4l-4.7 2.2 2.1 2.4 4.6-1.9zm94.1 48.6l-3.1-3.6 2 2.4 3.1 3.5zm-99.2-50l-4.7 2.8 2.1 2.5 4.6-2.5zm101.8 53.1l-3.1-3.9 2 2.6 3.1 3.7zm-106.9-54.2l-4.6 3.5 2 2.5 4.6-3.1zm108 55.5l-3.1-4.1 2 2.8 3.1 3.8zm-113.1-56.2l-4.6 4.1 2 2.6 4.6-3.7zm114.2 57.5l-1.6-2.1 2 2.8 1.6 2zm-119.3-57.9l-3.1 3.2 2 2.8 3.1-2.9zm121.9 61.4l-1.6-2.2 2.1 2.9 1.5 2.1zm-127-61.4l-3.1 3.9 2 2.8 3.1-3.5zm128.1 62.9l-1.6-2.3 2 3.1 1.6 2.2zm-131.7-64.3l-3 4.4 2 2.9 3-4zm135.8 70.4l-3.1-4.8 2 3.3 3.1 4.6zm-139.3-71.5l-1.6 2.4 2.1 3.1 1.5-2.2zm141.9 75.2l-4.6-7.6 2 3.9 4.7 7.2zm2.7 3.6l-4.7-8 2 4.4 4.7 7.5zm2.6 3.4l-4.7-8.2 2.1 4.8 4.6 7.7zm1.1 .7l-3.1-5.8 2 5.1 3.1 5.4zm2.6 3.5l-3.1-6 2 5.3 3.1 5.6zm2.6 3.7l-3.1-6.3 2 5.5 3.1 5.9zm1.1 .7l-3.1-6.7 2 6 3.1 6.1zm2.6 4.3l-3.1-7 2 6 3.1 6.3zm1.1 1.3l-3.1-7.5 2 6.2 3.1 6.8zm1 1.6l-1.5-3.9 2 5.9 1.5 3.5zm1.1 2l-1.5-4.1 2 5.9 1.5 3.7z"/><path fill="#0040ff" stroke="#0040ff" d="M338.7 485.7l-4.6-2.8-4.7-2.5-4.6-2.2-4.6-1.8 2 2.2 4.6 1.9 4.6 2.1 4.7 2.5 4.6 2.7zm10.3 6.5l-6.1-4.7-4.7-3.2-6.2-3.9-4.6-2.5-6.2-2.8-4.6-1.6-3.1-.9-3.1-.8-4.6-.8 2 2.3 4.7 .9 6.1 1.7 4.7 1.7 6.1 2.8 4.7 2.5 6.1 3.7 4.7 3.2 6.1 4.7zm-39-22.7l-4.6-.8-3.1-.4-3.1-.2-3.1 0 2 2.4 3.1 .1 3.1 .2 3.1 .4 4.6 1zm44.7 27l-7.7-6.7-7.7-6 2 2.6 7.7 5.8 7.7 6.6zm-56-31.1l-4.6 .1-4.6 .5 2 2.5 4.6-.4 4.6 .1zm61.7 36.1l-6.1-6.1-6.2-5.7 2 2.7 6.2 5.5 6.1 5.9zm-69.9-38.8l-3.1 .5-4.6 1.1 2 2.6 4.7-.9 3-.4zm72.6 41.1l-9.3-9.7 2 2.8 9.3 9.4zm-80.8-42.9l-3 1.1-3.1 1.2 2 2.7 3.1-1.1 3.1-.9zm84.9 47.3l-9.2-10.5 2 2.8 9.2 10.1zm-91.5-48.7l-4.6 2.3 2 2.8 4.6-2zm94.1 51.5l-7.7-9.3 2 2.9 7.7 9zm-99.2-53.3l-4.6 3 2 2.9 4.6-2.6zm100.3 54.4l-6.2-7.9 2 3 6.2 7.7zm-106.9-54.7l-3.1 2.6 2 3 3.1-2.3zm109.5 58l-6.1-8.5 2 3.2 6.1 8.1zm-114.6-58.9l-3.1 3.1 2 3.1 3.1-2.7zm117.2 62.3l-6.1-8.9 2 3.3 6.2 8.5zm-122.3-62.8l-3.1 3.6 2 3.2 3.1-3.2zm123.4 64.2l-4.6-7 2 3.4 4.6 6.7zm-127-66.1l-3.1 4.1 2 3.3 3.1-3.7zm129.6 69.7l-4.6-7.4 2 3.8 4.6 6.9zm-134.7-69.1l-1.5 2.4 2 3.3 1.5-2.2zm135.8 70l-3.1-5.1 2 4.2 3.1 4.8zm-139.3-71.1l-1.6 2.7 2 3.2 1.6-2.4zm141.9 74.3l-3.1-5.3 2.1 4.6 3 5.1zm2.6 3.2l-3-5.6 2 5.1 3.1 5.3zm2.7 3.1l-3.1-5.8 2 5.5 3.1 5.4zm2.6 3.3l-3.1-6.2 2 5.8 3.1 5.7zm2.6 3.4l-4.6-9.8 2 6.4 4.6 8.9zm1.1 .3l-3.1-6.9 2 6.6 3.1 6.3zm2.6 4l-3.1-7.2 2 6.6 3.1 6.6zm1.1 .8l-1.6-3.8 2 6.5 1.6 3.5zm2.6 5.2l-3.1-8.1 2 6.7 3.1 7.3zm1.1 1.8l-3.1-8.6 2 6.8 3.1 7.7z"/><path fill="#0050ff" stroke="#0050ff" d="M339.3 483.8l-4.6-3.2-3.1-1.9-4.6-2.7-3.1-1.5-4.7-2.1-3-1.1-3.1-1-3.1-.8 2 2.7 6.2 1.8 3 1.1 4.7 2.1 3.1 1.5 4.6 2.6 3.1 2 4.6 3.1zm-22.1-14.4l-4.6-1.6-4.6-1.2-4.7-.8-4.6-.4 2 2.8 4.7 .5 4.6 .8 4.6 1.3 4.6 1.6zm30.9 20.3l-6.2-5.2-4.6-3.6-6.2-4.3-4.6-2.7 2 3 4.6 2.7 6.2 4.2 4.6 3.5 6.2 5.1zm-48.3-27.2l-4.6-.1-4.7 .3 2 2.9 4.7-.2 4.6 .2zm54 31.6l-6.2-5.9-6.2-5.5 2.1 3 6.1 5.4 6.2 5.8zm-63.7-34.8l-3.1 .5-4.7 1.1 2.1 3 4.6-1 3.1-.3zm67.9 38.4l-9.3-9.8 2 3.2 9.3 9.4zm-76.1-40.6l-3.1 1.1-3.1 1.3 2 3.1 3.1-1.2 3.1-.9zm80.2 44.6l-7.7-9 2 3.3 7.7 8.6zm-86.9-46.4l-4.6 2.4 2 3.3 4.7-2.2zm89.5 48.9l-6.1-7.7 2 3.3 6.1 7.4zm-96.1-50.1l-4.6 3.3 2 3.3 4.6-3zm98.8 52.8l-6.2-8.2 2 3.5 6.2 7.9zm-103.9-54.5l-4.6 4.1 2 3.5 4.6-3.7zm106.5 57.5l-6.2-8.7 2 3.7 6.2 8.3zm-111.6-58.8l-4.6 4.9 2 3.6 4.6-4.5zm114.2 62.1l-4.6-7 2 3.7 4.6 6.7zm-119.3-63l-3.1 3.9 2 3.7 3.1-3.5zm121.9 66.2l-4.6-7.3 2 4.1 4.6 7zm-127-66.2l-3.1 4.5 2 3.5 3.1-4.1zm129.6 69.4l-4.6-7.8 2 4.6 4.6 7.4zm-134.7-68.6l-1.5 2.6 2 3.5 1.5-2.4zm137.3 71.6l-4.6-8.2 2 5.2 4.7 7.6zm-140.8-72.9l-1.6 2.9 2 3.7 1.6-2.7zm143.5 75.8l-4.7-8.6 2 5.7 4.7 8zm2.6 2.9l-4.6-9 2 6.1 4.6 8.4zm2.6 2.9l-4.6-9.5 2 6.6 4.6 8.7zm1.1-.2l-3.1-6.7 2 6.9 3.1 6.2zm2.6 3.2l-3.1-7.1 2 7.2 3.1 6.5zm2.6 3.7l-3.1-7.5 2 7.3 3.1 6.8zm2.6 4.2l-3.1-7.9 2.1 7.3 3 7.1zm1.1 .9l-3.1-8.4 2 7.5 3.1 7.6zm1.1 1.3l-1.6-4.5 2 7.3 1.6 4z"/><path fill="#0060ff" stroke="#0060ff" d="M326.5 473.9l-4.6-2.5-4.7-2 2 3 4.7 2.1 4.6 2.4zm14.9 8.8l-6.1-5-4.7-3.3-6.1-3.9-4.7-2.4-3-1.4-3.1-1.2-4.7-1.5-4.6-1-4.6-.5 2 3.1 4.6 .7 4.7 1 4.6 1.5 3.1 1.2 3.1 1.4 4.6 2.5 6.2 3.8 4.6 3.2 6.2 4.8zm-40.5-23.5l-4.7-.3-3.1 .1-3 .3 2 3.3 3.1-.2 3 0 4.7 .4zm47.8 28.7l-6.2-5.9-6.1-5.4 2 3.5 6.1 5.2 6.2 5.8zm-59.1-32.5l-3.1 .5-4.6 1.2 2 3.4 4.6-1 3.1-.4zm64.8 37.3l-4.6-5.1-4.7-4.8 2.1 3.6 4.6 4.7 4.6 4.9zm-73-39.9l-3.1 1.1-3.1 1.4 2.1 3.5 3-1.2 3.1-1zm77.2 43.7l-7.8-9.2 2.1 3.7 7.7 8.8zm-85.4-45.2l-4.6 2.8 2 3.6 4.6-2.4zm88 47.4l-6.2-8 2 3.9 6.2 7.6zm-94.6-48.7l-3.1 2.4 2 3.9 3.1-2.2zm97.2 51.2l-4.6-6.5 2 4 4.6 6.2zm-102.3-53.1l-3.1 3 2 4 3.1-2.7zm106.5 58.1l-6.2-9.2 2 4.2 6.2 8.7zm-111.6-59.6l-3.1 3.6 2 4.1 3.1-3.2zm114.2 62.5l-6.2-9.8 2 4.6 6.2 9.3zm-119.3-63.2l-3.1 4.3 2 3.9 3.1-3.9zm121.9 65.9l-4.6-7.7 2 5 4.6 7.3zm-127-65.9l-3.1 5.1 2 3.7 3.1-4.5zm129.6 68.5l-4.6-8.2 2 5.6 4.6 7.8zm-134.7-67.6l-1.5 2.9 2 3.9 1.5-2.6zm137.3 70.1l-3.1-5.7 2.1 6 3 5.4zm-140.8-71.5l-1.6 3.2 2 4 1.6-2.9zm143.5 74l-3.1-6.1 2 6.5 3.1 5.7zm2.6 2.4l-3.1-6.4 2 7 3.1 6zm2.6 2.6l-3.1-6.8 2 7.4 3.1 6.3zm2.6 2.8l-1.5-3.6 2 7.5 1.5 3.3zm2.6 3.3l-1.5-3.8 2 7.6 1.5 3.5zm2.6 3.8l-3-8.1 2 8.1 3.1 7.3zm1.1 .4l-1.5-4.4 2 8 1.5 3.9zm2.6 5.2l-3-9.2 2 8.2 3 8.3z"/><path fill="#0070ff" stroke="#0070ff" d="M336.4 476.6l-4.7-3.6-4.6-3.3-4.6-2.9-4.7-2.5-4.6-2-4.6-1.5-4.7-1.1-3-.5 2 3.6 3.1 .5 4.6 1.2 4.6 1.6 4.6 2 4.7 2.4 4.6 2.8 4.6 3.3 4.7 3.5zm-36-21.2l-3.1-.3-3.1-.1-4.6 .4 2 3.7 4.6-.2 3.1 .2 3.1 .3zm44.7 27.4l-6.1-6-6.2-5.4 2 3.9 6.2 5.3 6.2 5.8zm-57.5-31.6l-3.1 .7-3.1 .9 2 3.8 3.1-.7 3.1-.5zm63.2 36.1l-4.6-5.2-4.6-4.9 2 4 4.6 4.8 4.7 5zm-71.4-38.9l-3.1 1.3-3.1 1.6 2 4 3.1-1.4 3.1-1.1zm75.6 42.3l-7.7-9.4 2 4.2 7.7 9.1zm-83.8-43.9l-4.6 3.2 2 4.1 4.6-2.8zm88 47.9l-6.2-8.3 2 4.3 6.2 8zm-94.6-49.4l-3.1 2.8 2 4.3 3.1-2.4zm97.2 51.7l-4.6-6.8 2 4.5 4.6 6.5zm-102.3-53.7l-3.1 3.3 2 4.5 3.1-3zm104.9 56l-4.6-7.3 2 5 4.6 6.9zm-110-57.4l-3.1 4 2 4.3 3.1-3.6zm114.2 62.2l-4.7-7.8 2.1 5.4 4.6 7.4zm-119.3-62.9l-3.1 4.7 2 4.3 3.1-4.3zm121.9 65l-4.6-8.2 2 6.1 4.6 7.7zm-127-64.9l-3.1 5.5 2 4.2 3.1-5.1zm131.1 69.9l-4.6-8.8 2 6.6 4.7 8.2zm-136.2-69l-1.5 3.2 2 4.3 1.5-2.9zm138.9 71.1l-3.1-6.2 2 6.9 3.1 5.8zm-142.5-72.9l-1.5 3.6 2 4.6 1.6-3.2zm145.1 75l-3.1-6.6 2 7.5 3.1 6.1zm2.6 2.2l-3.1-7 2 8 3.1 6.4zm4.2 6l-3.1-7.3 2 8.1 3.1 6.7zm2.6 3.1l-3.1-7.8 2 8.3 3.1 7.1zm1.1-.5l-1.6-4.1 2 8.4 1.6 3.8zm2.6 4.1l-3.1-8.8 2 8.8 3.1 8zm1.1 .4l-1.6-4.7 2 8.7 1.6 4.2z"/><path fill="#0080ff" stroke="#0080ff" d="M332.8 471.4l-4.6-3.6-4.7-3.2-4.6-2.8-3.1-1.6-4.6-2-3.1-1.1-4.6-1.2-3.1-.5 2 4 3.1 .6 4.6 1.2 3.1 1.1 4.6 2 3.1 1.6 4.7 2.8 4.6 3.1 4.6 3.5zm-34.4-20.5l-3.1-.2-3.1 0-4.6 .5 2 4.2 4.6-.4 3.1 .1 3.1 .3zm43.2 26.3l-6.2-6.1-6.2-5.4 2.1 4.4 6.1 5.3 6.2 5.8zm-56-30.6l-3.1 .8-3.1 1 2 4.4 3.1-.9 3.1-.7zm61.7 34.7l-7.7-8.7 2 4.6 7.7 8.3zm-69.9-37.8l-3.1 1.5-3.1 1.8 2 4.5 3.1-1.6 3.1-1.3zm75.6 42.9l-7.7-9.9 2 4.8 7.7 9.4zm-83.8-44.6l-4.6 3.5 2 4.7 4.6-3.2zm88 48.4l-6.2-8.8 2 5 6.2 8.3zm-94.6-50l-3.1 3.1 2 4.8 3.1-2.8zm97.2 51.8l-4.7-7.1 2.1 5.3 4.6 6.8zm-102.3-53.9l-3.1 3.8 2 4.7 3.1-3.3zm106.4 58.2l-4.6-7.7 2 5.8 4.7 7.3zm-113.1-57.4l-1.5 2.3 2 4.7 1.5-2.1zm115.8 59.1l-3.1-5.5 2 6.4 3.1 5.2zm-120.9-59.4l-1.5 2.7 2 4.6 1.5-2.4zm125 63.8l-3.1-5.8 2 6.9 3.1 5.5zm-128.5-66.4l-3.1 6.2 2 4.6 3.1-5.5zm132.7 71.1l-4.6-9.3 2 7.5 4.6 8.7zm-137.8-70.2l-1.6 3.5 2.1 5 1.5-3.2zm140.4 71.9l-3.1-6.6 2 8 3.1 6.1zm-144-74.1l-1.5 4 2 5.3 1.5-3.6zm146.6 75.9l-1.5-3.5 2 8.3 1.5 3.2zm4.2 5.7l-3.1-7.4 2 8.7 3.1 6.8zm2.6 2.6l-3.1-7.9 2 9 3.1 7.2zm2.6 3.2l-3.1-8.5 2 9.2 3.1 7.7zm1.1-.6l-1.6-4.6 2.1 9.3 1.5 4.1zm2.6 4.5l-1.5-4.8 2 9.1 1.5 4.4z"/><path fill="#008fff" stroke="#008fff" d="M329.2 465.7l-4.6-3.6-3.1-2.1-4.6-2.8-3.1-1.7-4.6-2-3.1-1-4.6-1.1-3.1-.5 2 4.5 3.1 .5 4.6 1.2 3.1 1.1 4.6 2 3.1 1.6 4.6 2.8 3.1 2.1 4.7 3.4zm-34.4-19.9l-4.6 .1-4.6 .7 2 4.6 4.6-.5 4.6 .1zm44.8 26.8l-6.2-6.3-4.6-4.3 2 5 4.6 4.1 6.2 6.1zm-56-31.3l-3.1 1-3.1 1.2 2 4.9 3.1-1 3.1-.8zm61.7 35.2l-6.2-7.3 2 5 6.2 7.1zm-71.5-37.7l-4.6 3 2 5 4.6-2.6zm77.2 42.6l-6.2-8.3 2 5.3 6.2 8zm-83.8-45.2l-4.6 4 2 5.1 4.6-3.5zm87.9 48.7l-4.6-6.9 2 5.6 4.7 6.6zm-94.5-50.2l-3.1 3.4 2 5.2 3.1-3.1zm98.7 53.9l-4.6-7.5 2 6.2 4.6 7.1zm-105.4-54l-3.1 4.3 2 4.9 3.1-3.8zm109.6 57.9l-4.7-8.1 2.1 6.8 4.6 7.7zm-114.7-59l-3.1 5.1 2 4.9 3.1-4.6zm118.8 63.1l-4.6-8.7 2 7.4 4.6 8.2zm-123.9-63.5l-1.5 2.9 2 5.3 1.5-2.7zm126.6 64.7l-3.1-6.2 2 7.9 3.1 5.8zm-131.7-64.3l-1.5 3.4 2 5.3 1.5-3.1zm135.8 68.7l-3.1-6.6 2 8.4 3.1 6.2zm-139.3-71.4l-1.6 3.9 2 5.7 1.6-3.5zm143.5 76.3l-3.1-7.1 2 8.8 3.1 6.6zm2.6 1.8l-3.1-7.6 2 9.3 3.1 7zm2.6 2.1l-1.5-4.1 2 9.4 1.5 3.7zm2.6 2.6l-1.5-4.3 2 9.6 1.5 3.9zm2.6 3.3l-1.5-4.6 2 9.8 1.6 4.1zm2.7 4.3l-3.1-9.9 2 10.2 3.1 8.8z"/><path fill="#009fff" stroke="#009fff" d="M328.8 462l-4.7-3.8-4.6-3.4-4.6-2.8-3.1-1.7-4.6-2-4.7-1.4-4.6-.9-3.1-.2 2 5 3.1 .3 4.7 .9 4.6 1.5 4.6 2 3.1 1.7 4.6 2.8 4.7 3.3 4.6 3.7zm-37.5-21.8l-3.1 .2-4.6 .9 2 5.3 4.6-.7 3.1-.2zm47.8 29l-6.2-6.7-4.6-4.6 2 5.5 4.6 4.4 6.2 6.4zm-59.1-33.2l-3.1 1.3-3.1 1.5 2 5.4 3.1-1.3 3.1-1.1zm64.8 37.1l-6.2-7.8 2.1 5.6 6.1 7.5zm-74.5-39.2l-3.1 2.3 2 5.6 3.1-2.1zm80.2 44.1l-6.2-8.9 2.1 6 6.1 8.5zm-86.9-46.4l-3 3.1 2 5.5 3.1-2.7zm91.1 49.5l-4.6-7.4 2 6.6 4.6 7zm-97.7-50.5l-3.1 4 2 5.4 3.1-3.6zm101.8 53.8l-4.6-8 2 7.2 4.7 7.6zm-106.9-55.7l-3.1 4.8 2 5.4 3.1-4.3zm111.1 59.2l-3.1-5.8 2 7.7 3.1 5.5zm-116.2-60.5l-3.1 5.7 2 5.5 3.1-5.1zm120.4 64.2l-3.1-6.3 2 8.4 3.1 5.8zm-125.5-64.8l-3.1 6.7 2 5.6 3.1-6zm129.6 68.8l-3.1-6.7 2.1 8.9 3 6.2zm-134.7-68.6l-1.5 3.8 2 6.1 1.5-3.4zm138.9 73l-3.1-7.1 2 9.3 3.1 6.6zm-144-72.1l-1.5 4.5 2 6.3 1.5-4zm146.6 73.4l-1.5-3.8 2 9.6 1.5 3.5zm4.2 5.6l-3.1-8.2 2 10.2 3.1 7.4zm2.6 2.4l-3.1-8.8 2 10.5 3.1 7.9zm2.6 3l-3.1-9.4 2 10.7 3.1 8.5zm1.1-1l-1.6-5.1 2 10.7 1.6 4.6z"/><path fill="#00afff" stroke="#00afff" d="M328.3 457.9l-4.6-4.1-4.6-3.6-4.7-3.1-4.6-2.6-4.6-2-4.7-1.4-4.6-.8-4.6-.1 2 5.5 4.6 .3 4.6 .9 4.7 1.4 4.6 2 4.6 2.6 4.7 3 4.6 3.5 4.6 4zm-42.1-23.6l-3.1 .7-3.1 1 2 5.8 3.1-.8 3.1-.6zm52.4 31l-4.6-5.4-4.6-5.1 2 6.1 4.6 4.8 4.7 5.2zm-63.7-34.2l-4.6 2.8 2 5.8 4.6-2.4zm69.4 38l-6.1-8.3 2 6.4 6.2 7.9zm-77.6-40.2l-3.1 2.7 2.1 5.9 3-2.5zm83.4 44.8l-4.7-7.1 2 6.9 4.7 6.8zm-90-46.7l-3.1 3.6 2 5.8 3.1-3.3zm94.1 49.4l-3.1-5.3 2 7.5 3.1 5zm-100.7-50l-1.6 2.3 2 5.9 1.6-2zm106.4 55.7l-4.6-8.6 2 8.2 4.6 8.1zm-111.5-57.4l-1.6 2.7 2 6.1 1.6-2.5zm115.7 60.6l-3.1-6.2 2 8.8 3.1 5.8zm-120.8-61.7l-1.6 3.2 2 6.3 1.6-2.9zm124.9 65.3l-3-6.7 2 9.4 3.1 6.2zm-130-65.7l-1.6 3.8 2 6.5 1.6-3.4zm134.2 69.7l-3.1-7.2 2 9.9 3.1 6.6zm-139.3-69.3l-1.6 4.3 2 6.8 1.6-3.9zm143.5 73.9l-3.1-7.8 2 10.3 3.1 7.1zm-147.1-77.7l-1.5 5 2 7.6 1.5-4.5zm149.7 78.9l-3.1-8.3 2 10.9 3.1 7.6zm2.6 1.8l-1.5-4.5 2 10.9 1.5 4.1zm2.6 2.4l-1.5-4.8 2 11.2 1.5 4.3zm2.6 3.3l-1.5-5.1 2 11.2 1.5 4.6z"/><path fill="#00bfff" stroke="#00bfff" d="M297 434.3l-3.1-.4-3.1 0-4.6 .4 2 6.1 4.6-.2 3.1 .1 3.1 .5zm32.4 20.5l-6.2-6-3.1-2.7-3.1-2.4 2.1 6.5 3 2.3 3.1 2.6 6.2 5.8zm-48.3-26.4l-3.1 1.2-3.1 1.5 2 6.2 3.1-1.3 3.1-1zm57.1 32.4l-6.2-7.7 2 6.8 6.2 7.3zm-66.8-35.5l-4.7 3.6 2 6.1 4.7-3.1zm74 41.3l-6.1-9 2 7.3 6.1 8.6zm-82.2-43l-3.1 3.4 2 6.1 3.1-2.9zm87.9 47.5l-4.6-7.6 2 7.8 4.6 7.3zm-94.6-49l-3 4.3 2 6.2 3-3.9zm98.8 51.4l-3.1-5.6 2 8.5 3.1 5.3zm-103.9-54l-3 5.2 2 6.3 3.1-4.6zm109.6 59.6l-4.6-9.2 2 9.3 4.6 8.7zm-116.2-58.6l-1.5 3.1 2 6.6 1.5-2.8zm120.4 61.7l-3.1-6.7 2 9.8 3.1 6.3zm-125.5-62.7l-1.5 3.7 2 6.9 1.5-3.3zm129.6 66.2l-3.1-7.2 2 10.4 3.1 6.7zm-134.7-66.4l-1.5 4.3 2 7.2 1.5-3.8zm138.9 70.4l-3.1-7.7 2 10.9 3.1 7.1zm2.6 .7l-1.5-4.2 2 11.3 1.5 3.8zm4.2 5.6l-3.1-9 2 11.7 3.1 8.2zm2.6 2.1l-1.6-4.8 2 11.6 1.6 4.4zm2.6 3l-1.5-5.2 2 11.8 1.5 4.6z"/><path fill="#00cfff" stroke="#00cfff" d="M317 443.7l-3-2.2-3.1-1.9-4.7-2.4-4.6-1.8-4.6-1.1 2 6.5 4.6 1.2 4.7 1.8 4.6 2.3 3.1 1.9 3.1 2.2zm-28.2-16.8l-3.1 .3-1.5 .3-3.1 .9 2 6.6 3.1-.7 4.6-.4zm43.2 26.2l-4.6-5.2-4.7-4.8 2.1 7.1 4.6 4.6 4.6 5.1zm-56-30.5l-4.6 2.7 2 6.6 4.6-2.3zm63.3 35l-6.2-8.4 2 7.7 6.2 8zm-71.5-38.3l-4.6 4.3 2 6.6 4.6-3.8zm78.7 44.2l-4.6-7.4 2 8.2 4.6 7zm-86.9-45.3l-3.1 3.9 2 6.6 3.1-3.4zm92.6 49.7l-4.6-8.3 2 9 4.6 7.8zm-99.2-50.9l-1.6 2.5 2.1 6.9 1.5-2.2zm103.4 52.9l-3.1-6 2 9.6 3.1 5.7zm-108.5-55.4l-3.1 6 2 6.9 3.1-5.4zm114.2 61l-3.1-6.6 2 10.2 3.1 6.2zm-120.9-59.5l-1.5 3.5 2 7.3 1.6-3.2zm125 62.5l-3.1-7.2 2.1 10.9 3 6.7zm-130-63.4l-1.6 4.2 2 7.7 1.6-3.8zm134.2 66.9l-3.1-7.9 2 11.6 3.1 7.2zm-139.3-67.1l-1.6 4.9 2 8.1 1.6-4.3zm143.5 71.3l-3.1-8.4 2 11.9 3.1 7.8zm-147.1-76.4l-1.5 5.6 2 9.4 1.5-5zm149.7 77.2l-1.6-4.6 2 12.2 1.6 4.1zm4.1 6.3l-3.1-9.9 2.1 12.6 3 8.9zm2.7 2.6l-1.6-5.3 2 12.3 1.6 4.8z"/><path fill="#00dfff" stroke="#00dfff" d="M322.7 443.1l-4.6-4.2-4.6-3.6-4.6-3.1-3.1-1.6-4.7-2-4.6-1.2-4.6-.6-3.1 .1 2 7 3.1 0 4.6 .7 4.7 1.4 4.6 1.9 3.1 1.7 4.6 3 4.6 3.5 4.7 4.1zm-40.5-23l-3.1 1-3.1 1.5 2 7 3.1-1.2 3.1-.9zm50.9 29.1l-6.2-7.5 2 7.9 6.2 7.3zm-62.2-32.3l-3.1 2.4 2 7.1 3.1-2.1zm71 39.2l-6.2-9.3 2 8.6 6.2 8.9zm-79.2-41.5l-3.1 3.6 2 7.1 3.1-3.2zm84.9 45l-4.7-7.9 2.1 9.3 4.6 7.6zm-91.5-47.2l-3.1 4.6 2 7.2 3.1-4.1zm97.2 51.5l-3.1-6 2 10 3.1 5.6zm-103.9-52.3l-1.5 2.9 2 7.5 1.5-2.5zm109.6 57.3l-3.1-6.6 2 10.7 3.1 6.1zm-114.7-59.8l-3.1 6.9 2.1 7.6 3-6.2zm118.8 62.2l-3-7.2 2 11.4 3.1 6.7zm-125.4-60.3l-1.5 4.1 2 8.1 1.5-3.7zm129.6 63.1l-1.5-3.9 2 11.9 1.5 3.6zm-134.7-64l-1.5 4.8 2 8.7 1.5-4.3zm138.9 67.7l-1.6-4.3 2 12.4 1.6 3.8zm4.1 4.6l-1.5-4.6 2 12.6 1.5 4.2zm2.6 1l-1.5-5 2 13.1 1.6 4.5zm4.2 7.2l-1.5-5.4 2 12.9 1.5 4.8z"/><path fill="#00efff" stroke="#00efff" d="M291.4 419l-3.1 0-1.5 .1-3.1 .6-1.5 .4 2 7.4 1.5-.3 3.1-.3 1.5-.1 3.1 .1zm35.5 22.7l-3.1-3.5-3.1-3.2-4.6-4.3 2 8.2 4.6 4.2 6.2 6.5zm-49.8-28.6l-3.1 1.7-3.1 2.1 2 7.4 3.1-1.7 3.1-1.5zm58.6 33.7l-6.2-8.5 2 9 6.2 8.1zm-68.4-36.8l-4.6 4.6 2 7.5 4.6-4zm75.6 41.7l-4.6-7.7 2 9.7 4.7 7.3zm-83.7-43.5l-3.1 4.2 2 7.7 3.1-3.7zm91 49.7l-4.6-8.7 2 10.4 4.6 8.3zm-97.7-51.7l-3.1 5.4 2 7.9 3.1-4.8zm103.4 56.1l-3.1-6.5 2 11.1 3.1 6.1zm-110-56.5l-1.6 3.3 2 8.3 1.6-2.9zm114.2 58.3l-1.6-3.6 2 11.7 1.6 3.3zm-119.3-61l-3.1 7.9 2 8.5 3.1-7zm125 67.1l-3.1-7.8 2 12.5 3.1 7.2zm-131.7-64.8l-1.5 4.7 2 9.2 1.6-4.2zm135.8 68.1l-3.1-8.5 2 13.1 3.1 7.8zm-140.9-69.2l-1.5 5.5 2 10 1.6-4.9zm145.1 73.5l-3.1-9.3 2 13.5 3.1 8.4zm2.6 .6l-1.5-5 2 13.6 1.5 4.5zm4.2 6.8l-3.1-10.9 2 14.1 3.1 9.7z"/><path fill="#00ffff" stroke="#00ffff" d="M316.1 430.7l-3.1-2.6-3.1-2.2-3.1-2-3-1.6-3.1-1.3-3.1-1-3.1-.7-3.1-.3 2 7.9 3.1 .5 3.1 .7 3.1 1.1 3.1 1.4 3.1 1.6 3 2 3.1 2.2 3.1 2.5zm-34.4-19.4l-1.5 .5-3.1 1.3 2 8 3.1-1 1.5-.4zm47.8 27l-6.1-7.6 2 9.2 6.1 7.4zm-59.1-30.9l-3.1 2.6 2 8.1 3.1-2.3zm67.9 36.6l-4.6-7.2 2 10 4.6 6.9zm-76.1-39.7l-3 3.9 2 8.2 3.1-3.4zm83.4 44.9l-3.1-5.7 2 10.8 3.1 5.3zm-91.5-45.5l-1.6 2.5 2 8.5 1.6-2.3zm98.7 52.1l-3.1-6.4 2 11.5 3.1 6zm-105.4-53.2l-1.5 3.2 2 8.7 1.5-2.9zm111.1 57.9l-3.1-7.1 2 12.2 3.1 6.6zm-116.2-61.3l-1.5 3.9 2 9.4 1.5-3.4zm120.4 63.2l-3.1-7.8 2 13.1 3.1 7.2zm-127-61.6l-1.6 4.6 2.1 9.7 1.5-4.1zm131.1 64.2l-1.5-4.3 2 13.4 1.5 4zm-136.2-66.1l-1.6 5.4 2.1 10.6 1.5-4.8zm140.4 69.6l-1.5-4.7 2 14 1.5 4.2zm-145.5-71.1l-1.6 6.4 2.1 11.6 1.5-5.6zm149.7 76l-1.6-5.1 2 14.1 1.6 4.6zm2.6 .9l-1.6-5.5 2 14.6 1.6 5z"/><path fill="#10ffef" stroke="#10ffef" d="M291 410.1l-3.1 0-1.6 .2-3.1 .6-1.5 .4 2 8.4 1.5-.3 3.1-.4 1.6-.1 3.1 .2zm32.4 20.6l-4.7-5-4.6-4.4 2 9.4 4.6 4.3 4.7 4.9zm-48.3-26.5l-1.6 .9-3.1 2.3 2 8.4 3.1-1.9 1.6-.8zm58.6 32.6l-4.6-6.7 2 10.3 4.6 6.4zm-68.4-35.9l-3.1 3.4 2.1 8.7 3-3zm77.2 42.6l-4.7-8.1 2.1 11.1 4.6 7.8zm-85.4-44.6l-3 4.8 2 8.7 3.1-4.2zm92.6 50.5l-4.6-9.4 2 12 4.6 8.9zm-99.2-52.9l-3.1 6.1 2 9 3.1-5.4zm104.9 56.9l-3.1-7.1 2.1 12.7 3 6.6zm-111.5-57.9l-1.6 3.7 2 9.9 1.6-3.3zm115.7 59.1l-1.6-3.9 2.1 13.4 1.5 3.6zm-122.4-58.4l-1.5 4.6 2 10.2 1.5-4zm128.1 64.5l-3.1-8.6 2 14.2 3.1 7.8zm-133.2-67.2l-1.5 5.4 2 11.2 1.5-4.7zm137.4 70.3l-1.6-4.6 2 14.3 1.6 4.3zm-142.5-72.7l-1.5 6.3 2 12.4 1.5-5.5zm146.6 77.2l-1.5-5.1 2 14.6 1.5 4.6zm2.6 .5l-1.5-5.6 2 15.2 1.5 5z"/><path fill="#20ffdf" stroke="#20ffdf" d="M314.1 421.3l-3.1-2.6-3.1-2.2-3.1-2-3-1.6-3.1-1.2-3.1-.9-3.1-.5-1.5-.2 2 9 1.5 .2 3.1 .7 3.1 1 3.1 1.3 3 1.6 3.1 2 3.1 2.2 3.1 2.6zm-32.9-20l-3.1 1.2-3 1.7 2 8.9 3.1-1.3 3-.9zm47.9 28.8l-6.2-8.1 2 10.5 6.2 7.9zm-60.7-32.3l-3.1 3.1 2 9.1 3.1-2.6zm69.4 37.6l-4.6-7.7 2 11.5 4.7 7.3zm-77.6-41l-3.1 4.5 2.1 9.3 3-3.9zm84.9 45.6l-3.1-6.1 2 12.4 3.1 5.7zm-93.1-46.4l-1.5 2.9 2 9.7 1.6-2.5zm100.3 52.7l-3-6.9 2 13.2 3.1 6.4zm-106.9-54.4l-1.5 3.6 2 10.3 1.5-3.2zm112.6 58.8l-3-7.8 2 14 3.1 7.2zm-119.2-58.9l-1.6 4.4 2 10.8 1.6-3.9zm123.4 60.3l-1.5-4.3 2 14.6 1.5 3.9zm-128.5-63.8l-1.6 5.2 2 11.9 1.6-4.6zm134.2 70.9l-3.1-9.5 2 15.3 3.1 8.5zm4.2 4l-3.1-10.3 2 15.6 3.1 9.3zm2.6 0l-1.5-5.6 2 15.8 1.5 5z"/><path fill="#30ffcf" stroke="#30ffcf" d="M288.9 400l-3 .2-1.6 .3-3.1 .8 2 9.6 3.1-.6 1.6-.2 3.1 0zm34 22l-4.6-5.4-4.7-4.7 2 10.8 4.7 4.6 4.6 5.2zm-49.9-28l-1.5 1.2-3.1 2.6 2 9.6 3.1-2.3 1.6-.9zm60.2 33.7l-4.6-7.2 2 11.8 4.6 6.9zm-69.9-37.2l-3.1 3.9 2 9.9 3.1-3.4zm78.7 43.4l-3.1-5.8 2 12.7 3.1 5.5zm-86.9-45.8l-3.1 5.5 2.1 10.1 3-4.8zm94.2 51.3l-3.1-6.8 2 13.6 3.1 6.4zm-102.3-51l-1.6 3.5 2 10.7 1.6-3.1zm108 54.5l-3.1-7.6 2 14.5 3.1 7.1zm-114.7-55.4l-1.5 4.3 2 11.3 1.5-3.9zm120.4 60.3l-3.1-8.5 2 15.3 3.1 7.8zm-125.5-64.6l-1.5 5.1 2 12.5 1.5-4.6zm129.6 66.5l-1.5-4.7 2 15.7 1.5 4.3zm-136.2-64.8l-1.6 6.2 2 13.2 1.6-5.4zm140.4 68l-1.6-5.2 2.1 16.1 1.5 4.7zm-145.5-71.2l-1.6 7.3 2 14.8 1.6-6.4zm149.7 75.9l-1.6-5.7 2 16.4 1.6 5.1z"/><path fill="#40ffbf" stroke="#40ffbf" d="M313.6 411.9l-3.1-2.7-3-2.4-3.1-2.1-3.1-1.7-3.1-1.3-3.1-.9-3.1-.6-3.1-.2 2.1 10.1 3 .4 3.1 .7 3.1 1.1 3.1 1.4 3.1 1.8 3.1 2.1 3.1 2.4 3 2.7zm-35.9-20.7l-1.6 .9-3.1 1.9 2.1 10.2 3-1.7 1.6-.6zm50.9 29.3l-4.6-6.6 2 12 4.6 6.4zm-62.2-33.6l-3.1 3.6 2 10.4 3.1-3.1zm72.5 41.2l-4.6-8.5 2 13.2 4.6 8zm-82.2-42.6l-1.6 2.6 2 10.8 1.6-2.3zm89.5 47.1l-3.1-6.6 2 14 3.1 6.2zm-96.2-50.9l-3 6.7 2 11.1 3-5.9zm101.9 53.6l-1.6-3.8 2 14.8 1.6 3.5zm-110-52l-1.6 4.2 2 11.7 1.6-3.7zm115.7 56l-1.6-4.3 2 15.7 1.6 3.9zm-120.8-61.2l-1.6 5.1 2 13 1.6-4.4zm126.5 66.9l-1.6-4.7 2.1 16.1 1.5 4.3zm-133.2-66.2l-1.5 6.1 2 14 1.5-5.4zm137.3 68.9l-1.5-5.3 2 16.8 1.6 4.6zm4.2 4.2l-1.5-5.7 2 17 1.5 5.1z"/><path fill="#50ffaf" stroke="#50ffaf" d="M283.8 389l-3 .9-3.1 1.3 2 10.7 3.1-1 3.1-.7zm40.2 24.9l-4.7-6-3.1-3.6 2.1 12.3 3 3.5 4.7 5.8zm-54.5-30l-3.1 3 2 10.9 3.1-2.6zm64.8 35.7l-4.6-7.9 2 13.5 4.6 7.6zm-74.5-38.9l-3.1 4.8 2 11.1 3.1-4.2zm83.3 45.3l-3.1-6.5 2 14.4 3.1 6.1zm-91.5-47.5l-1.6 3.2 2 11.9 1.6-2.8zm98.7 53l-3.1-7.5 2.1 15.4 3 6.9zm-106.9-52.3l-1.5 4.1 2 12.2 1.5-3.6zm112.6 55.8l-3-8.4 2 16.3 3 7.8zm5.7 5.3l-3-9.4 2 16.9 3.1 8.6zm-130-67.5l-1.6 6 2 14.7 1.6-5.2zm134.2 69.6l-1.5-5.2 2 17.2 1.5 4.8zm-140.9-68l-1.5 7.3 2 15.7 1.5-6.3zm145.1 71.8l-1.6-5.8 2 17.6 1.6 5.2z"/><path fill="#60ff9f" stroke="#60ff9f" d="M296.2 389.6l-3.1-.8-3.1-.3-3.1 0-3.1 .5 2.1 11.2 3-.2 3.1 .2 3.1 .6 3.1 .9zm20 14.7l-4.6-4.7-3.1-2.8-3.1-2.4-3-2 2 12.3 3.1 2.1 3 2.4 3.1 2.7 4.7 4.7zm-42.1-24.2l-1.5 1.1-3.1 2.7 2 11.3 3.1-2.2 1.5-.9zm55.6 31.6l-4.7-7.3 2 13.8 4.7 7zm-66.9-35.3l-3 4.3 2 11.7 3.1-3.7zm77.2 43.1l-3.1-6.2 2 14.8 3.1 5.8zm-86.9-44.1l-1.5 3.1 2 12.3 1.5-2.7zm94.1 48.6l-3-7.3 2 15.9 3.1 6.8zm-100.7-52.7l-3.1 7.9 2 12.7 3.1-6.9zm106.5 55.3l-1.6-4.2 2 16.7 1.6 3.8zm-114.7-53.4l-1.5 4.9 2 13.7 1.5-4.3zm120.4 57.7l-1.6-4.8 2 17.4 1.6 4.3zm5.7 6.3l-1.6-5.2 2 17.7 1.6 4.7zm-137.8-69.9l-1.6 7.1 2 16.7 1.6-6.2zm141.9 73.1l-1.5-5.8 2 18.3 1.5 5.1z"/><path fill="#70ff8f" stroke="#70ff8f" d="M302.4 392.4l-3.1-1.6-3.1-1.2 2 12.1 3.1 1.3 3.1 1.7zm-23.7-15.1l-1.5 .8-3.1 2 2 12 3.1-1.6 1.6-.6zm46.3 27.1l-4.6-6.6 2 14 4.6 6.4zm-59.1-31.9l-3.1 3.9 2.1 12.3 3-3.4zm71 40.8l-4.6-9 2 15.3 4.6 8.5zm-80.7-43.6l-3.1 5.7 2 12.7 3.1-5.1zm88 47l-3.1-7.1 2 16.4 3.1 6.6zm-96.2-49.2l-1.5 3.8 2 13.7 1.5-3.3zm103.4 54.9l-3.1-8.2 2 17.3 3.1 7.6zm-111.6-54l-1.5 4.8 2 14.3 1.6-4.2zm117.3 57.7l-1.5-4.6 2 17.8 1.5 4.2zm-123.9-59.1l-1.5 5.8 2 15.5 1.5-5.1zm129.6 65l-1.5-5.3 2 18.3 1.5 4.7zm4.2 2.6l-1.6-5.8 2 18.9 1.6 5.2z"/><path fill="#80ff80" stroke="#80ff80" d="M284.9 375.3l-3.1 .8-3.1 1.2 2.1 12.6 3-.9 3.1-.5zm35.5 22.5l-4.6-5.9-3.1-3.5 2 14.2 3.1 3.5 4.6 5.7zm-51.4-28.7l-3.1 3.4 2 12.8 3.1-2.8zm63.3 35.2l-3.1-5.6 2 15.6 3.1 5.3zm-74.5-37.3l-1.6 2.7 2 13.3 1.6-2.3zm83.3 42.6l-3.1-7 2 16.9 3.1 6.5zm-91.5-45.7l-1.6 3.6 2 14.2 1.6-3.2zm98.7 50.3l-1.5-4.1 2 17.6 1.5 3.8zm-106.9-50.5l-1.6 4.7 2.1 14.9 1.5-4.1zm114.2 57.8l-3.1-9.4 2 18.7 3.1 8.5zm-120.9-60.3l-1.5 5.8 2 16.2 1.6-5.1zm126.6 65.5l-3.1-10.4 2 19.3 3.1 9.4zm-133.2-66.4l-1.5 7 2 17.6 1.5-6.1zm137.3 68.5l-1.5-5.8 2 19.4 1.5 5.3z"/><path fill="#8fff70" stroke="#8fff70" d="M312.7 388.4l-4.6-4.6-3.1-2.5-3.1-2.1-3.1-1.7-3.1-1.3-1.5-.4-3.1-.6-3.1-.2-3.1 .3 2 13.2 3.1 0 3.1 .3 3.1 .8 1.5 .6 3.1 1.4 3.1 1.8 3.1 2.2 3.1 2.5 4.6 4.5zm-40.6-22.2l-3.1 2.9 2 13.4 3.1-2.4zm57.1 32.5l-4.6-7.9 2 16 4.6 7.5zm-68.4-36.8l-3 5.1 2 13.7 3-4.3zm77.2 40.7l-3.1-6.6 2 17.3 3.1 6.2zm-86.9-42.2l-1.5 3.5 2 14.6 1.5-3.1zm95.7 49.7l-3.1-8 2 18.2 3.1 7.4zm-103.9-50.9l-1.5 4.5 2 15.5 1.5-4zm109.6 52.9l-1.6-4.6 2.1 19.1 1.5 4.2zm-116.2-56.5l-1.6 5.6 2.1 16.9 1.5-4.9zm121.9 60.7l-1.6-5.3 2.1 19.9 1.5 4.7zm-128.5-62.9l-1.6 6.9 2 18.5 1.6-6zm134.2 69.6l-1.5-5.9 2 20.1 1.5 5.2z"/><path fill="#9fff60" stroke="#9fff60" d="M276.7 362.8l-1.5 1-3.1 2.4 2 13.9 3.1-2 1.5-.8zm47.9 28l-4.7-7.2 2.1 16.3 4.6 6.9zm-60.7-33.4l-3.1 4.5 2 14.5 3.1-3.9zm71 38.6l-3.1-6.5 2 17.7 3.1 6.1zm-82.2-39l-1.6 3.4 2 15 1.6-2.9zm91 45.1l-1.5-4 2 18.6 1.5 3.6zm-99.2-47.4l-1.6 4.5 2 16 1.6-3.9zm106.4 52.8l-1.5-4.6 2 19.5 1.6 4.2zm-113.1-57.4l-1.5 5.5 2 17.6 1.5-4.8zm118.8 60.9l-1.5-5.2 2 20.3 1.6 4.8zm5.8 6.1l-1.6-5.8 2 20.7 1.6 5.2z"/><path fill="#afff50" stroke="#afff50" d="M282.9 360l-3.1 1.2-3.1 1.6 2 14.5 3.1-1.2 3.1-.8zm37 23.6l-3-4.3-3.1-3.9 2 16.5 3.1 3.8 3.1 4.2zm-54.4-28.2l-1.6 2 2 15.1 1.6-1.8zm66.3 34.1l-3.1-6.1 2 18.1 3.1 5.7zm-76.1-38.8l-3 6.3 2 15.5 3.1-5.5zm86.5 47.4l-3.1-7.7 2 19.2 3.1 7.1zm-96.2-47.7l-1.5 4.3 2 16.6 1.5-3.8zm103.4 52.5l-3.1-9 2 20.3 3.1 8.2zm-110-58.2l-1.6 5.4 2 18.3 1.6-4.7zm115.7 61.1l-1.5-5.2 2 20.9 1.5 4.6zm-123.9-59.2l-1.5 6.8 2 19.4 1.5-5.8zm129.6 64.7l-1.5-5.9 2 21.3 1.5 5.3z"/><path fill="#bfff40" stroke="#bfff40" d="M292.2 359.7l-3.1-.4-1.6 0-3 .4-1.6 .3 2 15.3 1.6-.2 3-.1 1.6 .2 3.1 .6zm21.6 15.7l-3.1-3.6-3.1-3.1-3.1-2.8-1.5-1.2 2 16.6 4.6 4 3.1 3.1 3.1 3.5zm-43.7-25.4l-1.5 1.6-3.1 3.8 2 15.3 3.1-3.1 1.5-1.4zm58.6 33.4l-3.1-5.8 2.1 18.4 3 5.5zm-71.4-35.7l-1.6 3 2.1 16.3 1.5-2.6zm81.8 42.7l-3.1-7.5 2 19.7 3.1 7zm-91.5-44.1l-1.6 4.1 2 17.1 1.6-3.6zm98.7 47.6l-1.5-4.5 2 20.7 1.5 4.1zm7.3 6.7l-1.6-5.1 2 21.3 1.6 4.7zm-120.9-60.7l-1.5 6.7 2 20.4 1.5-5.8zm126.6 65.5l-1.6-5.8 2 21.9 1.6 5.2z"/><path fill="#cfff30" stroke="#cfff30" d="M303 364.7l-3.1-2-3.1-1.6-3.1-1.1-1.5-.3 2 16.1 1.5 .4 3.1 1.3 3.1 1.7 3.1 2.1zm-29.8-17.6l-3.1 2.9 2 16.2 3.1-2.4zm52.4 30.5l-4.6-8 2 18.7 4.7 7.7zm-65.2-35.5l-3.1 5.6 2 16.7 3.1-4.8zm75.6 40.8l-3.1-7.2 2 20.3 3.1 6.6zm-85.4-44.5l-3 7.9 2 17.6 3.1-6.9zm94.2 51l-3.1-8.8 2 21.5 3.1 8zm-103.9-49.9l-1.5 5.2 2 19 1.5-4.5zm111.1 56l-3.1-10.3 2 22.3 3.1 9.3zm-117.7-62.1l-1.6 6.5 2 21.3 1.6-5.6zm123.4 66.2l-1.5-5.9 2 22.6 1.5 5.2z"/><path fill="#dfff20" stroke="#dfff20" d="M277.8 343.7l-1.5 1-3.1 2.4 2 16.7 3.1-1.9 1.5-.7zm43.2 25.9l-4.6-7.2 2 19 4.6 6.9zm-59.1-30l-1.5 2.5 2 17.5 1.5-2.2zm71 36.1l-3.1-6.8 2 20.6 3.1 6.5zm-80.7-41.1l-1.6 3.8 2.1 18.6 1.5-3.2zm89.5 46l-1.6-4.3 2.1 21.8 1.5 4zm-99.2-46.2l-1.6 5.1 2 19.7 1.6-4.5zm106.4 50.8l-1.5-5.1 2 22.8 1.5 4.6zm7.3 8.5l-1.6-5.8 2 23.1 1.6 5.3z"/><path fill="#efff10" stroke="#efff10" d="M282.4 341.6l-3 1.3-1.6 .8 2 17.5 1.6-.7 3.1-.8zm34 20.8l-3.1-4.3-3.1-3.9 2 19.3 3.1 3.8 3.1 4.1zm-51.4-27.5l-3.1 4.7 2 17.8 3.1-4zm64.8 34l-3.1-6.6 2 21.1 3.1 6.1zm-76.1-37.9l-1.5 3.6 2 19.2 1.5-3.1zm86.4 45.3l-1.5-4.2 2 22.1 1.6 3.9zm-96.1-46.9l-1.5 5 2 20.3 1.5-4.3zm103.4 50.7l-1.6-5 2.1 23.3 1.5 4.5zm-111.6-53l-1.5 6.3 2 22.2 1.5-5.5zm118.8 60.8l-1.5-5.9 2 23.8 1.5 5.2z"/><path fill="#ffff00" stroke="#ffff00" d="M310.2 354.2l-4.6-4.9-3.1-2.7-3.1-2.2-3.1-1.7-3.1-1.2-1.5-.4-3.1-.4-3.1 .2-3.1 .7 2.1 18.1 3-.4 3.1 .1 3.1 .6 1.6 .5 3 1.4 3.1 1.8 3.1 2.2 3.1 2.8 4.6 4.8zm-42.1-23.4l-3.1 4.1 2 18.5 3.1-3.4zm58.6 31.5l-3.1-6.2 2 21.5 3.1 5.8zm-71.4-34.7l-1.6 3.4 2 19.7 1.6-3zm83.3 44.5l-3.1-8.3 2 22.8 3.1 7.6zm-93.1-47.5l-1.5 4.8 2 21 1.6-4.1zm100.3 50.5l-1.5-5 2 23.8 1.6 4.5zm-108.4-54.2l-1.6 6.2 2 23 1.6-5.4zm115.7 61.1l-1.6-5.8 2.1 24.4 1.5 5.2z"/><path fill="#ffef00" stroke="#ffef00" d="M271.2 327.3l-3.1 3.5 2 19.2 3.1-2.9zm52.4 28.8l-3.1-5.8 2.1 21.9 3 5.4zm-66.8-31.8l-1.5 3.3 2 20.1 1.5-2.9zm78.7 39.5l-3.1-7.9 2 23.4 3.1 7.3zm-88.4-43.8l-1.6 4.6 2.1 21.7 1.5-4zm97.2 50.1l-1.5-4.9 2 24.2 1.5 4.5zm-105.4-55.3l-1.5 6.1 2 23.8 1.5-5.2zm112.6 61.4l-1.5-5.7 2 25 1.6 5.1z"/><path fill="#ffdf00" stroke="#ffdf00" d="M274.3 324.3l-3.1 3 2 19.8 3.1-2.4zm46.2 26l-4.6-7.9 2 22.3 4.7 7.5zm-60.6-32.2l-3.1 6.2 2 20.5 3.1-5.2zm72.5 37.8l-1.5-3.9 2 23.7 1.5 3.6zm-83.8-40.4l-1.5 4.5 2 22.3 1.5-3.9zm94.2 49.7l-3.1-9.7 2 25.1 3.1 8.8zm7.2 5.3l-1.5-5.8 2 25.6 1.5 5.2z"/><path fill="#ffcf00" stroke="#ffcf00" d="M280.4 320.3l-3.1 1.7-3 2.3 2 20.4 3.1-1.8 3-1.3zm35.5 22.1l-4.6-6.9 2 22.6 4.6 6.6zm-54.5-27.1l-1.5 2.8 2 21.5 1.6-2.4zm69.5 36.7l-3.1-7.5 2 24.4 3.1 6.8zm-80.7-40.8l-1.6 4.3 2 22.9 1.6-3.8zm89.5 44.3l-1.6-4.7 2 25.5 1.6 4.3zm-99.2-46.6l-1.6 5.9 2 24.7 1.6-5.1zm108 55.8l-3.1-11.4 2 26.8 3.1 10.2z"/><path fill="#ffbf00" stroke="#ffbf00" d="M286.6 318.7l-3.1 .5-3.1 1.1 2 21.3 3.1-.7 3.1-.2zm24.7 16.8l-4.6-5.8-3.1-3.2 2 22.8 3.1 3.1 4.6 5.7zm-46.8-25.4l-3.1 5.2 2.1 21.9 3-4.4zm63.3 34.4l-3.1-7 2 24.8 3.1 6.6zm-76.1-37.5l-1.5 4.2 2 23.4 1.5-3.6zm86.4 43.8l-1.5-4.7 2 26 1.5 4.2zm-96.1-47.6l-1.5 5.7 2 25.5 1.5-5zm103.4 50.1l-1.6-5.6 2 27.4 1.6 5z"/><path fill="#ffaf00" stroke="#ffaf00" d="M303.6 326.5l-3.1-2.7-1.6-1.1-3-1.9-1.6-.7-3.1-1-1.5-.3-3.1-.1 2 22 3.1 .4 1.5 .4 3.1 1.2 1.6 .8 3.1 1.9 1.5 1.2 3.1 2.7zm-36-20.9l-3.1 4.5 2 22.7 3.1-3.9zm57.1 31.9l-3.1-6.7 2 25.3 3.1 6.2zm-71.4-34.5l-1.6 4 2 24 1.6-3.4zm83.3 43.1l-3.1-9.1 2 26.8 3.1 8.3zm-93.1-48.5l-1.5 5.6 2 26.2 1.5-4.8zm100.3 50.1l-1.5-5.5 2 27.9 1.5 5z"/><path fill="#ff9f00" stroke="#ff9f00" d="M270.7 301.7l-3.1 3.9 2 23.3 3.1-3.2zm50.9 29.1l-3.1-6.2 2 25.7 3.1 5.8zm-66.8-31.7l-1.5 3.9 2 24.6 1.5-3.3zm78.7 37.9l-1.5-4.4 2 27.2 1.5 4zm-88.4-44.8l-1.6 5.4 2 27 1.6-4.6zm97.2 50l-1.6-5.5 2.1 28.5 1.5 4.9z"/><path fill="#ff8f00" stroke="#ff8f00" d="M273.8 298.5l-3.1 3.2 2 24 3.1-2.6zm44.7 26.1l-4.6-8.5 2 26.3 4.6 7.9zm-60.6-32.6l-3.1 7.1 2 25.2 3.1-6.2zm74.1 40.6l-3.1-8.6 2 28 3.1 7.8zm8.7 4.1l-1.5-5.5 2 29.1 1.6 4.9z"/><path fill="#ff8000" stroke="#ff8000" d="M278.4 294.9l-1.5 1-3.1 2.6 2 24.6 3.1-2 1.5-.8zm35.5 21.2l-3.1-5 2 26.6 3.1 4.7zm-54.5-27.5l-1.5 3.4 2 26.1 1.5-2.8zm69.5 35.4l-1.6-4.2 2 28.4 1.6 3.8zm-82.3-37l-1.5 5.2 2 27.8 1.5-4.5zm92.6 44.2l-1.5-5.4 2 29.7 1.5 4.8z"/><path fill="#ff7000" stroke="#ff7000" d="M283 292.8l-3 1.2-1.6 .9 2 25.4 1.6-.6 3.1-.8zm27.8 18.3l-3.1-4.4-3-3.9 2 26.9 3 3.7 3.1 4.3zm-49.8-25.6l-1.6 3.1 2 26.7 1.6-2.7zm66.3 34.3l-3.1-7.9 2.1 29 3 7.3zm-79.1-37.8l-1.6 5 2 28.5 1.6-4.3zm89.5 43.8l-1.6-5.2 2 30.2 1.6 4.7z"/><path fill="#ff6000" stroke="#ff6000" d="M304.7 302.8l-3.1-3.3-3.1-2.7-3.1-2.1-1.5-.8-3.1-1.1-1.6-.3-1.5-.2-1.6 0-1.5 .2-1.6 .3 2.1 26.1 1.5-.2 3.1 .1 3.1 .7 3.1 1.3 1.5 .9 3.1 2.1 3.1 2.7 3.1 3.2zm-40.6-23l-3.1 5.7 2 27.1 3.1-4.9zm60.1 32.1l-1.5-3.8 2 29.4 1.6 3.4zm-74.5-34.8l-1.5 4.9 2 29.2 1.5-4.2zm86.4 43.5l-1.5-5.3 2 30.8 1.5 4.7z"/><path fill="#ff5000" stroke="#ff5000" d="M265.6 277.2l-1.5 2.6 2 27.9 1.5-2.1zm57.1 30.9l-3.1-7.3 2 30 3.1 6.7zm-71.4-35.6l-1.6 4.6 2 29.9 1.6-4zm83.3 42.8l-3.1-10.1 2 31.8 3.1 9.1z"/><path fill="#ff4000" stroke="#ff4000" d="M268.7 272.5l-3.1 4.7 2 28.4 3.1-3.9zm50.9 28.3l-3.1-6.8 2 30.6 3.1 6.2zm-66.8-32.8l-1.5 4.5 2 30.5 1.5-3.9zm78.7 37.2l-1.6-4.9 2.1 32.3 1.5 4.4z"/><path fill="#ff3000" stroke="#ff3000" d="M271.8 268.6l-3.1 3.9 2 29.2 3.1-3.2zm44.7 25.4l-3.1-6.2 2.1 31 3 5.8zm-62.2-30.3l-1.5 4.3 2 31.1 1.6-3.6zm75.6 36.6l-1.5-4.8 2 32.7 1.6 4.4z"/><path fill="#ff2000" stroke="#ff2000" d="M274.9 265.5l-3.1 3.1 2 29.9 3.1-2.6zm38.5 22.3l-4.6-8.2 2 31.5 4.7 7.7zm-57.5-28.2l-1.6 4.1 2.1 31.8 1.5-3.5zm72.5 35.9l-1.5-4.8 2 33.3 1.5 4.2z"/><path fill="#ff1000" stroke="#ff1000" d="M281 261.5l-1.5 .7-1.5 .9-3.1 2.4 2 30.4 3.1-1.9 3-1.2zm27.8 18.1l-3.1-4.8-1.5-2.1 2 32 1.5 2 3.1 4.4zm-49.8-27.5l-3.1 7.5 2 32.4 3.1-6.5zm67.9 38.6l-3.1-9 2 34.1 3.1 8.2z"/><path fill="#ff0000" stroke="#ff0000" d="M304.2 272.7l-3.1-3.8-3.1-3.1-3.1-2.4-3.1-1.7-1.5-.6-1.5-.4-1.6-.2-1.5-.1-1.6 .2-1.5 .3-1.6 .6 2 31.3 1.6-.3 1.5-.2 1.6 0 1.5 .2 1.6 .3 3.1 1.1 3 1.8 3.1 2.4 3.1 3 3.1 3.6zm-43.7-24.1l-1.5 3.5 2 33.4 1.5-3zm63.3 33.1l-1.6-4.4 2 34.6 1.6 3.9z"/><path fill="#ef0000" stroke="#ef0000" d="M262.1 245.3l-1.6 3.3 2 33.9 1.6-2.7zm60.1 32l-3.1-8.3 2.1 35.4 3 7.5z"/><path fill="#df0000" stroke="#df0000" d="M265.1 239.4l-3 5.9 2 34.5 3.1-5.1zm54 29.6l-1.5-4 2 35.8 1.6 3.6z"/><path fill="#cf0000" stroke="#cf0000" d="M266.7 236.7l-1.6 2.7 2.1 35.3 1.5-2.2zm50.9 28.3l-3.1-7.4 2 36.4 3.1 6.8z"/><path fill="#bf0000" stroke="#bf0000" d="M269.8 232.1l-3.1 4.6 2 35.8 3.1-3.9zm44.7 25.5l-3.1-6.9 2 37.1 3.1 6.2z"/><path fill="#af0000" stroke="#af0000" d="M272.9 228.2l-3.1 3.9 2 36.5 3.1-3.1zm38.5 22.5l-3.1-6.2 2.1 37.7 3 5.6z"/><path fill="#9f0000" stroke="#9f0000" d="M275.9 225.3l-3 2.9 2 37.3 3.1-2.4zm32.4 19.2l-3-5.5-1.6-2.5 2 38.3 1.6 2.3 3.1 5.1z"/><path fill="#8f0000" stroke="#8f0000" d="M282.1 222l-1.5 .5-1.6 .7-1.5 .9-1.6 1.2 2.1 37.8 1.5-.9 1.5-.7 1.6-.6 1.5-.3zm21.6 14.5l-3.1-4.4-1.5-2 2 38.8 1.5 1.8 3.1 4.1z"/><path fill="#800000" stroke="#800000" d="M299.1 230.1l-3.1-3.3-1.5-1.3-1.6-1.2-1.5-.9-1.6-.8-1.5-.5-1.6-.4-1.5-.1-1.5 .1-1.6 .3 2 38.6 1.6-.2 1.5 .1 1.6 .2 1.5 .4 1.5 .6 1.6 .7 3.1 2.1 1.5 1.3 3.1 3.1z"/></g>
<g fill="none" stroke="#000" stroke-linejoin="round"><path stroke-width="1.05" d="M453.4 636.4l-3.1-2.3-3.1-2.6-3.1-2.8-3.1-3.2-3-3.5-3.1-3.9-3.1-4.2-3.1-4.7-3.1-5-3.1-5.5-3.1-5.8-3-6.3-4.7-10.3-3.1-7.3-3-7.8-4.7-12.5-3.1-8.8-3-9.2-6.2-19.4-6.2-20.7-4.6-16.3-6.2-22.4-20.1-75.7-7.7-28.5-7.7-27.1-4.6-15.4-3.1-9.7-4.6-13.8-3.1-8.6-4.6-11.9-3.1-7.1-3.1-6.5-1.6-3.1-3-5.5-3.1-4.8-1.6-2.1-1.5-2-1.6-1.7-1.5-1.6-1.5-1.3-1.6-1.2-1.5-.9-1.6-.8-1.5-.5-1.6-.4-1.5-.1-1.5 .1-1.6 .3-1.5 .5-1.6 .7-1.5 .9-1.6 1.2-1.5 1.4-1.5 1.5-1.6 1.8-1.5 2.1-1.6 2.2-3.1 5.1-1.5 2.8-3.1 6.4-1.5 3.5-3.1 7.5-1.6 4.1-3 8.8-4.7 14.5-4.6 16.2-4.6 17.7-4.7 19-4.6 20.4-6.2 28.7M455.4 635.6l-3.1-2.3-3.1-2.5-3.1-2.7-3-3-3.1-3.3-3.1-3.6-3.1-4-3.1-4.2-3.1-4.7-3.1-5-3-5.3-3.1-5.7-4.7-9.3-3-6.7-3.1-7-4.7-11.2-6.1-16.2-6.2-17.4-6.2-18.6-4.6-14.5-6.2-20.1-20-67.7-7.8-25.5-7.7-24.3-4.6-13.8-3.1-8.8-4.6-12.4-3.1-7.7-4.6-10.7-3.1-6.5-3.1-6-1.5-2.7-3.1-5.1-3.1-4.4-1.6-2-3-3.4-1.6-1.5-1.5-1.3-1.6-1.1-1.5-1-1.6-.7-1.5-.6-1.5-.4-1.6-.2-1.5-.1-1.6 .2-1.5 .3-1.6 .6-1.5 .7-1.5 .9-1.6 1.1-1.5 1.3-1.6 1.5-1.5 1.6-1.6 1.9-3 4.2-1.6 2.5-3.1 5.3-1.5 3-3.1 6.5-1.5 3.5-3.1 7.5-4.7 12.5-4.6 13.9-4.6 15.3-4.7 16.5-4.6 17.6-6.2 25M457.4 634.7l-4.6-3.3-3.1-2.5-3.1-2.8-3.1-2.9-3.1-3.3-3.1-3.5-3-3.8-3.1-4.1-3.1-4.4-3.1-4.8-4.6-7.7-3.1-5.5-3.1-5.9-3.1-6.2-3.1-6.5-4.6-10.4-6.2-14.9-6.1-16-6.2-16.9-4.6-13.3-6.2-18.2-18.5-56.3-7.7-23.1-7.8-22.1-4.6-12.5-3.1-7.9-4.6-11.4-3.1-7-4.6-9.9-3.1-6-3.1-5.5-1.5-2.5-3.1-4.8-3.1-4.1-1.5-1.9-3.1-3.3-3.1-2.7-1.6-1.1-1.5-1-1.5-.8-1.6-.6-1.5-.5-1.6-.3-1.5-.2-1.6 0-1.5 .2-1.6 .3-1.5 .6-1.5 .6-1.6 .9-1.5 1-1.6 1.2-1.5 1.4-1.6 1.5-3 3.5-1.6 2.1-3.1 4.5-1.5 2.5-3.1 5.5-1.5 3-3.1 6.5-4.7 10.8-4.6 12-4.6 13.3-4.6 14.4-4.7 15.4-6.1 21.9M459.4 634l-4.6-3.3-3.1-2.4-3.1-2.6-3.1-2.8-3.1-3.1-3-3.3-3.1-3.5-3.1-3.8-3.1-4.1-3.1-4.4-4.6-7-3.1-5.1-3.1-5.4-3.1-5.6-3.1-5.9-4.6-9.5-6.2-13.5-6.1-14.4-6.2-15.4-4.6-12-6.2-16.5-20.1-55.4-7.7-20.8-7.7-20-4.6-11.3-3.1-7.2-4.6-10.2-3.1-6.3-4.7-8.9-3-5.4-3.1-4.9-1.6-2.3-3.1-4.3-3-3.7-1.6-1.7-3.1-2.9-3.1-2.4-1.5-1-1.5-.9-1.6-.7-1.5-.6-1.6-.4-1.5-.3-1.6-.1-1.5 0-1.5 .2-1.6 .3-1.5 .5-1.6 .6-1.5 .8-1.6 .9-1.5 1.1-1.5 1.2-3.1 3-1.6 1.6-3.1 3.9-1.5 2.1-3.1 4.7-1.5 2.5-3.1 5.6-4.6 9.3-4.7 10.5-4.6 11.7-4.6 12.6-4.7 13.6-6.1 19.4M461.4 633.3l-4.6-3.2-3.1-2.4-3.1-2.5-3.1-2.7-3-2.8-3.1-3.1-3.1-3.4-3.1-3.5-3.1-3.8-3.1-4-4.6-6.5-3.1-4.6-3.1-4.9-3.1-5.2-3-5.4-4.7-8.6-6.1-12.3-6.2-13.2-6.2-14-6.2-14.6-6.1-15.1-20.1-50.7-7.7-19.1-7.7-18.1-6.2-13.6-4.6-9.6-3.1-5.9-4.6-8.3-3.1-5.1-4.7-6.9-3-4.1-3.1-3.7-1.6-1.6-3.1-2.9-3-2.5-1.6-1-3.1-1.7-1.5-.7-1.6-.5-1.5-.4-1.5-.2-1.6-.2-1.5 .1-1.6 .1-1.5 .3-1.6 .4-1.5 .6-1.5 .7-1.6 .8-1.5 1-3.1 2.4-1.6 1.4-3 3.1-1.6 1.8-3.1 4-1.5 2.2-3.1 4.8-1.5 2.6-3.1 5.5-4.7 9.2-4.6 10.2-4.6 11.2-4.6 12-6.2 17.3M463.4 632.6l-4.6-3.2-3.1-2.2-3.1-2.4-3-2.6-3.1-2.7-3.1-2.9-3.1-3.2-3.1-3.3-3.1-3.5-3.1-3.7-3-3.9-3.1-4.2-3.1-4.4-3.1-4.6-6.2-10-4.6-8-6.2-11.5-6.2-12.3-6.1-12.9-4.7-10.1-6.1-13.9-20.1-46.6-7.7-17.7-7.7-16.8-4.6-9.7-3.1-6.1-4.7-8.7-3-5.5-4.7-7.7-3.1-4.7-4.6-6.3-3.1-3.8-3.1-3.3-1.5-1.5-3.1-2.8-3.1-2.2-1.5-1-3.1-1.6-1.5-.6-3.1-.8-1.6-.3-1.5-.1-1.6 0-1.5 .1-1.5 .3-1.6 .3-1.5 .5-3.1 1.4-1.6 .9-3 2.2-1.6 1.2-3.1 2.9-3.1 3.4-1.5 1.9-3.1 4.1-1.5 2.2-3.1 4.8-4.7 8.1-4.6 9-4.6 9.9-4.6 10.7-6.2 15.5M465.5 631.9l-4.7-3.1-3.1-2.2-6.1-4.7-6.2-5.4-3.1-2.9-3.1-3.1-3.1-3.3-3.1-3.5-3-3.6-3.1-3.9-3.1-4.1-3.1-4.3-6.2-9.2-4.6-7.4-6.2-10.6-6.1-11.2-6.2-11.9-6.2-12.5-6.2-12.9-20-43.2-7.7-16.3-7.7-15.6-4.7-8.9-3.1-5.7-4.6-8.1-3.1-5.1-4.6-7.1-3.1-4.3-4.6-5.9-3.1-3.5-3.1-3.1-3.1-2.8-3.1-2.3-1.5-1-3.1-1.7-1.5-.7-3.1-1-1.6-.4-3.1-.4-1.5 0-3.1 .3-1.5 .4-3.1 1-1.6 .6-3 1.7-1.6 1.1-3.1 2.4-1.5 1.4-3.1 3-1.5 1.8-3.1 3.7-1.6 2-3.1 4.5-4.6 7.3-4.6 8.3-4.6 9.1-4.7 9.9-4.6 10.5M467.5 631.3l-4.7-3.1-3.1-2.1-6.1-4.6-4.7-3.8-3-2.7-6.2-5.9-6.2-6.4-3.1-3.6-3.1-3.7-6.1-8-6.2-8.7-4.6-7-6.2-9.9-6.2-10.6-6.1-11.2-6.2-11.6-6.2-12.1-20-40.2-7.8-15.2-7.7-14.6-4.6-8.2-3.1-5.3-4.6-7.6-3.1-4.7-4.6-6.6-3.1-4.1-4.7-5.5-3-3.2-3.1-3-3.1-2.5-3.1-2.2-1.5-1-3.1-1.6-1.6-.6-3.1-1-1.5-.4-3.1-.3-1.5-.1-3.1 .3-1.6 .3-3 .9-1.6 .6-3.1 1.6-1.5 .9-3.1 2.2-3.1 2.6-1.5 1.5-3.1 3.2-1.6 1.8-3 3.9-4.7 6.5-4.6 7.3-4.6 8.2-4.7 8.9-4.6 9.5M469.5 630.6l-7.7-5-4.7-3.3-3.1-2.4-4.6-3.7-3.1-2.7-6.1-5.7-6.2-6.2-6.2-7-6.2-7.6-6.1-8.4-4.7-6.6-6.1-9.4-6.2-10-6.2-10.5-6.2-11-6.1-11.3-20.1-37.7-7.7-14.2-7.7-13.6-6.2-10.3-4.6-7.2-3.1-4.5-4.6-6.4-3.1-3.9-4.6-5.4-3.1-3.2-3.1-2.9-3.1-2.6-3.1-2.2-1.5-1-3.1-1.7-1.6-.7-3-1.1-1.6-.4-3.1-.6-1.5-.1-3.1 0-1.5 .1-3.1 .7-1.6 .4-3.1 1.2-1.5 .8-3.1 1.8-3.1 2.3-1.5 1.2-3.1 2.8-1.5 1.6-3.1 3.4-4.7 5.7-4.6 6.6-4.6 7.3-4.6 8-4.7 8.6M471.5 630l-7.7-5-7.7-5.5-4.7-3.6-3.1-2.5-6.1-5.5-6.2-5.9-6.2-6.6-6.2-7.2-6.1-7.8-4.7-6.2-6.1-8.9-6.2-9.3-6.2-9.9-6.1-10.2-6.2-10.6-20.1-35.5-7.7-13.4-7.7-12.9-4.6-7.4-3.1-4.7-4.6-6.8-3.1-4.2-4.7-6-3-3.7-4.7-5-3.1-3-3-2.7-3.1-2.4-3.1-2.1-1.6-1-3-1.6-1.6-.6-3.1-1.1-1.5-.4-3.1-.5-3.1-.2-1.5 0-3.1 .4-1.6 .4-3 .9-1.6 .6-3.1 1.5-3.1 1.9-1.5 1.1-3.1 2.4-1.5 1.4-3.1 2.9-4.7 5.1-4.6 5.9-4.6 6.6-4.6 7.2-4.7 7.9M473.5 629.4l-7.7-4.9-7.7-5.4-7.8-5.9-6.1-5.3-6.2-5.6-6.2-6.3-6.1-6.8-6.2-7.4-6.2-8-6.2-8.4-6.1-9-6.2-9.3-6.2-9.8-6.1-10.1-20.1-33.5-7.7-12.6-7.7-12.1-6.2-9.2-4.6-6.5-3.1-4.1-4.6-5.7-3.1-3.6-4.7-4.9-3.1-2.9-3-2.7-3.1-2.4-3.1-2.1-1.6-1-3-1.6-1.6-.7-3.1-1.2-1.5-.4-3.1-.7-3.1-.3-1.5-.1-3.1 .2-1.6 .3-3 .7-1.6 .5-3.1 1.2-3.1 1.6-1.5 .9-3.1 2.1-1.5 1.2-3.1 2.6-4.6 4.5-4.7 5.3-4.6 5.9-4.6 6.5-4.7 7.1M475.5 628.8l-7.7-4.9-7.7-5.3-7.7-5.8-7.8-6.3-6.1-5.6-6.2-6.2-6.2-6.6-6.1-7.2-4.7-5.7-6.1-8-6.2-8.5-6.2-8.9-6.2-9.2-6.1-9.6-20.1-31.7-7.7-12-7.7-11.6-6.2-8.7-4.6-6.2-3.1-3.9-4.6-5.6-3.1-3.4-4.7-4.8-3-2.8-3.1-2.7-3.1-2.3-4.6-3.1-3.1-1.6-1.6-.8-3.1-1.2-1.5-.5-3.1-.7-3.1-.5-1.5-.1-3.1 .1-1.5 .1-3.1 .5-1.6 .4-3.1 1-3 1.4-1.6 .8-3.1 1.8-1.5 1-3.1 2.3-4.6 4-4.7 4.7-4.6 5.3-4.6 5.9-4.6 6.5M477.5 628.1l-7.7-4.8-7.7-5.2-7.7-5.7-7.7-6.2-6.2-5.4-6.2-5.9-6.2-6.4-6.1-6.9-4.7-5.5-6.1-7.7-6.2-8.1-6.2-8.4-6.2-8.8-6.1-9.1-20.1-30.1-7.7-11.5-7.7-11-6.2-8.3-4.6-5.9-3.1-3.8-4.6-5.3-3.1-3.3-4.6-4.6-3.1-2.7-3.1-2.6-3.1-2.3-4.6-3-3.1-1.7-1.6-.7-3-1.2-1.6-.6-3.1-.8-3.1-.5-1.5-.2-3.1 0-1.5 0-3.1 .4-1.6 .3-3 .8-3.1 1.2-1.6 .7-3.1 1.5-1.5 .9-3.1 2.1-4.6 3.5-4.6 4.2-4.7 4.8-4.6 5.3-4.6 5.9M479.5 627.5l-7.7-4.8-7.7-5.2-7.7-5.5-6.2-4.9-6.2-5.1-6.1-5.7-6.2-6.1-6.2-6.5-6.2-7-6.1-7.3-6.2-7.8-6.2-8.1-6.1-8.4-6.2-8.6-20.1-28.8-7.7-10.9-7.7-10.4-6.2-8-4.6-5.6-3.1-3.6-4.6-5.1-3.1-3.2-4.6-4.4-3.1-2.7-3.1-2.5-3.1-2.2-4.6-3-4.6-2.3-3.1-1.3-1.6-.5-3.1-.9-3.1-.6-1.5-.2-3.1-.1-1.5 0-3.1 .2-1.6 .3-3 .6-3.1 1-1.6 .6-3.1 1.3-4.6 2.6-4.6 3.2-4.6 3.7-4.7 4.3-4.6 4.8-4.6 5.3M481.5 626.8l-7.7-4.7-7.7-5.1-7.7-5.5-6.2-4.8-6.2-5-6.1-5.5-6.2-5.9-6.2-6.3-6.1-6.8-6.2-7-6.2-7.5-6.2-7.8-6.1-8-6.2-8.3-20.1-27.5-7.7-10.4-7.7-10-6.2-7.6-4.6-5.4-3.1-3.5-4.6-4.9-3.1-3-4.6-4.3-3.1-2.6-3.1-2.4-3.1-2.2-4.6-2.8-4.6-2.4-4.7-1.8-3.1-.9-3-.6-1.6-.3-3.1-.2-1.5-.1-3.1 .2-1.5 .1-3.1 .6-3.1 .8-1.6 .5-3 1.1-4.7 2.3-4.6 2.8-4.6 3.3-4.7 3.9-4.6 4.3-4.6 4.8M483.5 626.2l-7.7-4.7-7.7-5.1-7.7-5.4-6.2-4.7-6.1-4.9-6.2-5.4-6.2-5.7-6.2-6.2-6.1-6.5-6.2-6.8-6.2-7.2-6.1-7.5-6.2-7.7-6.2-7.9-20.1-26.4-7.7-9.9-7.7-9.6-6.2-7.3-4.6-5.2-3.1-3.3-4.6-4.8-3.1-2.9-4.6-4.1-3.1-2.5-3.1-2.4-3.1-2.1-4.6-2.8-4.6-2.4-4.7-1.8-3-1-4.7-.9-3.1-.3-1.5-.1-3.1 0-1.5 .1-3.1 .4-3.1 .7-4.6 1.4-4.7 2-4.6 2.4-4.6 3-4.6 3.5-4.7 3.9-4.6 4.3M485.6 625.6l-7.8-4.7-7.7-5.1-7.7-5.3-6.2-4.6-6.1-4.8-6.2-5.3-6.2-5.6-6.1-6-6.2-6.3-6.2-6.6-6.2-6.9-6.1-7.2-10.8-13.2-21.6-27.2-7.8-9.6-7.7-9.2-6.1-7-7.8-8.2-4.6-4.6-3.1-2.8-4.6-4-3.1-2.5-3.1-2.2-3.1-2.1-4.6-2.8-4.6-2.3-4.6-1.9-3.1-1-4.7-1-4.6-.5-3.1-.1-4.6 .4-3.1 .5-4.6 1.2-4.6 1.7-4.7 2.2-4.6 2.6-4.6 3.1-4.7 3.6-4.6 3.9M487.6 624.9l-7.7-4.7-7.8-5-7.7-5.3-6.2-4.5-6.1-4.7-6.2-5.2-6.2-5.4-6.1-5.8-6.2-6.2-6.2-6.4-6.2-6.7-6.1-6.9-12.4-14.6-26.2-31.7-7.7-9-7.7-8.5-7.7-7.9-4.7-4.4-3.1-2.8-4.6-3.9-3.1-2.3-3.1-2.3-3-2-4.7-2.8-4.6-2.3-4.6-1.8-3.1-1-4.7-1.1-4.6-.6-3.1-.2-4.6 .2-3.1 .4-4.6 1-4.6 1.5-4.7 1.9-4.6 2.3-4.6 2.8-4.7 3.2-4.6 3.5M489.6 624.3l-7.7-4.7-7.8-4.9-7.7-5.3-7.7-5.6-4.6-3.5-6.2-5-6.2-5.4-6.1-5.7-4.7-4.4-6.1-6.2-6.2-6.4-6.2-6.7-12.3-14-27.8-32.4-7.7-8.6-7.7-8.2-7.7-7.7-4.7-4.3-3.1-2.6-4.6-3.8-3.1-2.3-3.1-2.2-3-2-4.7-2.7-4.6-2.3-4.6-1.9-3.1-1-4.6-1.2-4.7-.7-3.1-.2-4.6 0-3.1 .3-4.6 .8-4.6 1.3-4.7 1.7-4.6 2.1-4.6 2.4-4.6 2.9-4.7 3.2M491.6 623.7l-7.7-4.7-7.7-4.9-7.8-5.2-7.7-5.5-4.6-3.5-6.2-5-6.1-5.2-6.2-5.5-4.6-4.4-6.2-6-6.2-6.2-6.2-6.5-12.3-13.5-27.8-31.4-7.7-8.3-7.7-8-7.7-7.4-4.7-4.1-3-2.7-4.7-3.6-3.1-2.3-3-2.1-3.1-2-4.7-2.7-4.6-2.3-4.6-1.9-3.1-1-4.6-1.2-4.7-.8-3-.3-4.7-.1-3.1 .2-4.6 .7-4.6 1-4.6 1.5-4.7 1.8-4.6 2.2-4.6 2.6-4.7 2.9M493.6 623.1l-7.7-4.7-7.7-4.9-7.7-5.2-7.8-5.4-4.6-3.4-6.2-4.9-6.1-5.2-6.2-5.4-4.6-4.2-6.2-5.9-6.2-6-6.2-6.3-12.3-13.2-27.8-30.3-7.7-8.1-6.2-6.2-7.7-7.3-4.6-4.1-3.1-2.6-4.6-3.7-3.1-2.3-6.2-4.2-4.6-2.7-4.6-2.4-4.7-2.1-4.6-1.6-4.6-1.3-4.6-.8-3.1-.4-4.7-.2-3 .1-4.7 .5-4.6 .9-4.6 1.2-4.7 1.6-4.6 2-4.6 2.3-4.7 2.6M495.6 622.4l-7.7-4.6-7.7-4.9-7.7-5.1-6.2-4.3-6.2-4.5-4.6-3.6-6.2-4.9-6.2-5.3-6.1-5.5-6.2-5.7-6.2-5.9-6.1-6.2-12.4-12.7-27.8-29.4-7.7-7.9-6.1-6-7.8-7.1-7.7-6.6-4.6-3.6-3.1-2.2-6.2-4.1-4.6-2.7-4.6-2.4-4.7-2.1-4.6-1.6-4.6-1.3-4.6-1-3.1-.4-4.7-.3-3 0-4.7 .4-4.6 .7-4.6 1.1-4.7 1.4-4.6 1.7-4.6 2.1-4.6 2.3M497.6 621.8l-7.7-4.6-7.7-4.9-7.7-5.1-6.2-4.2-6.2-4.4-4.6-3.6-6.2-4.9-6.1-5.1-6.2-5.4-6.2-5.6-6.2-5.8-6.1-6-12.4-12.4-27.7-28.6-7.8-7.6-6.1-5.8-7.8-7-7.7-6.3-4.6-3.6-3.1-2.2-6.2-4-4.6-2.7-4.6-2.4-4.6-2-4.7-1.7-4.6-1.3-4.6-1-3.1-.5-4.6-.4-3.1-.1-4.7 .2-4.6 .6-4.6 .9-4.6 1.2-4.7 1.6-4.6 1.8-4.6 2.1M499.6 621.2l-7.7-4.7-7.7-4.8-7.7-5-6.2-4.2-6.2-4.4-4.6-3.5-6.2-4.8-6.1-5.1-6.2-5.3-6.2-5.4-6.1-5.7-6.2-5.8-12.4-12.1-26.2-26.3-7.7-7.5-7.7-7.2-7.7-6.7-7.8-6.3-4.6-3.4-3.1-2.2-6.1-3.9-4.7-2.7-4.6-2.3-4.6-2.1-4.7-1.7-4.6-1.4-4.6-1-3.1-.6-4.6-.4-3.1-.2-4.6 .1-4.7 .4-4.6 .8-4.6 1-4.7 1.4-4.6 1.6-4.6 1.9M501.6 620.6l-7.7-4.7-7.7-4.8-7.7-5-6.2-4.2-6.1-4.3-4.7-3.5-6.2-4.7-6.1-5-10.8-9.2-6.2-5.5-6.2-5.7-12.3-11.7-27.8-27.1-7.7-7.3-7.7-7-7.7-6.6-7.7-6.1-4.7-3.4-3.1-2.1-6.1-3.9-4.7-2.6-4.6-2.3-4.6-2.1-4.6-1.7-4.7-1.4-4.6-1.1-3.1-.6-4.6-.5-3.1-.2-4.6-.1-4.7 .3-4.6 .6-4.6 .9-4.7 1.2-4.6 1.4-4.6 1.7M503.6 619.9l-13.8-8.5-7.8-4.9-6.1-4.1-6.2-4.3-4.6-3.4-6.2-4.6-6.2-4.9-6.1-5-6.2-5.3-12.4-11-12.3-11.5-27.8-26.4-7.7-7.1-6.2-5.4-9.2-7.8-7.7-5.9-4.7-3.3-3-2.1-6.2-3.8-4.7-2.6-4.6-2.3-4.6-2-4.6-1.8-4.7-1.4-4.6-1.1-3.1-.6-4.6-.7-3.1-.2-4.6-.1-4.7 .1-4.6 .5-4.6 .7-4.6 1-4.7 1.3-4.6 1.4M505.7 619.3l-13.9-8.5-7.7-5-6.2-4.1-6.2-4.2-4.6-3.4-6.2-4.6-6.2-4.8-10.8-8.9-12.3-10.7-12.3-11.2-27.8-25.8-7.7-6.9-7.8-6.7-7.7-6.3-7.7-5.9-7.7-5.4-6.2-3.8-4.6-2.6-4.6-2.4-4.7-2.1-4.6-1.8-4.6-1.6-4.6-1.2-3.1-.7-4.7-.8-4.6-.5-4.6-.2-4.6 .1-4.7 .3-4.6 .6-4.6 .8-4.7 1.1-4.6 1.3M507.7 618.6l-13.9-8.5-7.7-5-6.2-4.1-9.3-6.4-6.1-4.5-6.2-4.8-10.8-8.6-12.3-10.5-12.4-11-27.8-25.2-7.7-6.8-7.7-6.6-9.3-7.4-7.7-5.7-7.7-5.2-6.2-3.8-4.6-2.6-4.6-2.3-4.6-2.1-4.7-1.8-4.6-1.5-4.6-1.3-3.1-.7-4.6-.8-4.7-.6-4.6-.3-4.6 0-4.7 .2-4.6 .5-4.6 .7-4.7 .9-4.6 1.1M509.7 617.9l-13.9-8.5-7.7-5-6.2-4.1-9.3-6.4-6.1-4.5-6.2-4.7-10.8-8.6-12.3-10.3-12.4-10.8-26.2-23.3-7.7-6.7-7.7-6.4-9.3-7.3-7.7-5.7-7.7-5.2-6.2-3.8-4.6-2.5-4.7-2.4-4.6-2.1-4.6-1.9-4.6-1.6-4.7-1.4-4.6-1.1-4.6-.9-4.7-.6-4.6-.4-4.6-.1-4.7 .1-4.6 .4-4.6 .5-4.6 .8-4.7 .9M511.7 617.3l-13.9-8.6-12.3-8.1-10.8-7.4-10.8-8-10.8-8.4-12.4-10.2-10.8-9.2-29.3-25.5-7.7-6.5-7.7-6.3-7.7-5.9-7.8-5.6-7.7-5.2-7.7-4.6-4.6-2.6-4.7-2.3-4.6-2-4.6-1.9-4.6-1.6-4.7-1.4-4.6-1.1-4.6-.9-4.7-.7-4.6-.4-4.6-.2-4.6 0-4.7 .2-4.6 .4-4.6 .6-4.7 .8M513.7 616.6l-12.3-7.6-12.4-8.1-10.8-7.3-10.8-7.9-10.8-8.3-12.3-10-10.8-9-29.4-25-7.7-6.4-7.7-6.2-7.7-5.9-7.7-5.5-7.7-5.1-7.7-4.7-4.7-2.5-4.6-2.3-4.6-2.2-4.7-1.9-4.6-1.6-4.6-1.5-4.6-1.2-4.7-1-4.6-.8-4.6-.6-4.7-.3-4.6-.2-4.6 .1-4.6 .2-4.7 .4-6.1 .8M515.7 615.9l-13.9-8.6-12.3-8.1-10.8-7.5-12.4-9.1-9.2-7.1-10.8-8.7-10.8-8.9-27.8-23.2-7.7-6.3-7.7-6.1M389.2 520l-7.7-5.7-6.2-4.3-7.7-5-6.2-3.6-6.2-3.4-6.1-3-6.2-2.6-6.2-2.3-6.1-1.9-6.2-1.5-6.2-1.1-6.2-.8-6.1-.4-7.7-.1-6.2 .3-7.7 .7M517.7 615.2l-13.9-8.7-12.3-8.1-10.8-7.4-12.4-9.1-7.7-5.9-9.2-7.2-10.8-8.8-30.9-25.3-9.2-7.4-7.8-5.9M386.6 516.9l-7.7-5.3-6.2-4-6.2-3.7-6.2-3.4-6.1-3.1-6.2-2.8-6.2-2.4-6.2-2.1-4.6-1.3-6.2-1.5-6.1-1.1-6.2-.7-6.2-.5-6.1-.1-6.2 .1-7.7 .5M519.7 614.5l-12.3-7.7-12.4-8.1-10.8-7.4-12.3-8.9-9.3-7-10.8-8.5-32.4-26.1-9.2-7.4-9.3-7.1-9.2-6.8M384 514.1l-6.2-4-6.2-3.8-6.2-3.5-6.1-3.2-6.2-2.9-6.2-2.5-6.2-2.3-4.6-1.4-4.6-1.3-6.2-1.4-6.2-1-6.1-.8-6.2-.5-6.2-.1-6.1 0-6.2 .3M521.7 613.9l-12.3-7.8-12.3-8.1-10.8-7.4-10.8-7.8-9.3-6.9-10.8-8.3-32.4-25.8-10.8-8.4-10.8-8.2-10.8-7.6M381.3 511.5l-6.1-3.8-6.2-3.5-6.2-3.2-4.6-2.2-6.2-2.7-4.6-1.8-4.6-1.6-6.2-1.9-4.6-1.2-6.2-1.4-4.6-.8-6.2-.8-6.2-.6-6.2-.3-6.1 0-6.2 .1M523.8 613.2l-12.4-7.8-10.8-7.1-10.8-7.4-10.8-7.7-9.3-6.8-10.8-8.2-32.4-25.4-12.3-9.5-12.3-9.1-10.8-7.4M378.7 509.1l-6.2-3.5-4.6-2.5-6.2-3-4.6-2-6.2-2.6-4.6-1.6-4.6-1.6-4.6-1.3-4.7-1.2-6.1-1.3-4.7-.8-6.2-.8-4.6-.5-6.2-.4-6.1-.2-6.2 0M525.8 612.5l-12.4-7.8-10.8-7.1-10.8-7.4-9.2-6.5-9.3-6.8-10.8-8.1-33.9-26.2-12.4-9.3-7.7-5.7-6.2-4.3-6.1-4.2-6.2-4M376.1 506.9l-6.2-3.3-4.6-2.2-4.6-2.1-4.7-2-4.6-1.8-4.6-1.6-4.7-1.5-6.1-1.7-4.7-1-4.6-1-4.6-.8-6.2-.8-4.6-.5-6.2-.4-4.6-.3-6.2-.1M527.8 611.8l-10.8-6.8-9.3-6-10.8-7.3-9.2-6.5-9.3-6.6-10.8-8-35.5-27-13.9-10.4-7.7-5.5-6.2-4.3-7.7-5.1-6.2-3.9M371.9 504.1l-4.6-2.3-4.6-2.1-4.7-1.9-4.6-1.8-7.7-2.6-4.6-1.4-4.7-1.2-4.6-1.1-4.6-.9-4.6-.8-4.7-.6-4.6-.6-6.2-.5-10.8-.6M529.8 611.2l-10.8-6.9-9.3-6-9.2-6.2-9.3-6.4-9.2-6.6-10.8-7.9-37.1-27.8-15.4-11.3-7.7-5.4-7.7-5.2-7.8-5-6.1-3.7M369.3 502.2l-4.6-2.1-4.6-1.9-7.8-2.9-7.7-2.4-4.6-1.3-4.6-1.2-7.7-1.6-9.3-1.5-9.3-1-10.8-.7M531.8 610.6l-10.8-6.9-10.8-7.1-10.8-7.3-10.8-7.5-18.5-13.3-37.1-27.6-15.4-11-7.7-5.2-6.2-4.1-7.7-4.8-6.2-3.6M366.7 500.5l-7.7-3.1-7.7-2.8-7.7-2.3-7.8-2-7.7-1.6-9.2-1.5-9.3-1.1-9.3-.7M533.8 609.9l-10.8-6.8-10.8-7.1-10.8-7.3-10.8-7.4-18.5-13.3-37-27.2-15.5-10.9-7.7-5.2-7.7-4.9-7.7-4.7-7.7-4.4M364.1 498.9l-6.2-2.4-7.7-2.6-7.7-2.3-7.7-1.8-7.8-1.6-7.7-1.2-7.7-1-9.2-.9M535.8 609.3l-10.8-6.9-10.8-7-9.2-6.2-10.8-7.4-18.6-13.1-37-26.9-9.2-6.6-7.8-5.3-9.2-6.1-7.7-4.9-7.8-4.6-7.7-4.3M363 497.9l-6.2-2.3-7.7-2.5-6.2-1.7-7.7-1.9-6.1-1.2-7.8-1.4-7.7-1-9.2-1M537.8 608.7l-10.8-6.9-10.8-7-9.2-6.2-10.8-7.4-17-11.9-38.6-27.7-9.2-6.5-7.8-5.2-9.2-6.1-9.3-5.7-9.2-5.4-7.7-4.1M360.4 496.3l-6.2-2.1-6.2-1.8-6.1-1.7-7.7-1.8-6.2-1.2-7.7-1.3-6.2-.9-7.7-.9M539.8 608l-20-12.9-9.3-6.1-10.8-7.3-18.5-12.9-37-26.4-9.3-6.4-9.2-6.2-10.8-7-9.3-5.6-9.3-5.2-7.7-4.1M359.3 495.4l-6.2-2-6.1-1.8-6.2-1.6-6.2-1.4-6.2-1.3-6.1-1.1-6.2-.9-7.7-1M541.8 607.4l-20-12.9-18.5-12.4-18.5-12.8-38.6-27.1-9.3-6.4-9.2-6.1-10.8-6.9-10.8-6.5-9.3-5.1-9.3-4.7M356.7 493.9l-4.6-1.4-6.2-1.7-4.6-1.2-6.2-1.4-6.2-1.3-6.2-1.1-12.3-1.8M543.9 606.8l-20.1-12.9-18.5-12.4-17-11.6-38.6-26.9-10.8-7.4-9.2-6.1-12.4-7.7-10.8-6.4-10.8-5.8-9.2-4.6M354.1 492.5l-9.3-2.6-4.6-1.1-6.2-1.4-10.8-2-10.8-1.7M545.9 606.1l-18.5-11.9-18.6-12.2-16.9-11.6-38.6-26.7-10.8-7.3-10.8-7-12.4-7.7-10.8-6.3-10.8-5.8-6.1-3.1-4.7-2.1M353 491.6l-9.3-2.5-9.2-2.1-9.3-1.9-10.8-1.8M547.9 605.5l-18.5-11.9-17-11.2-17-11.5-40.1-27.5-10.8-7.3-10.8-6.9-12.3-7.6-6.2-3.6-6.2-3.5-6.2-3.3-6.1-3.2-6.2-2.9-4.6-2.1M350.4 490.2l-7.7-2-7.8-1.8-9.2-1.8-9.3-1.6M549.9 604.9l-17-10.9-15.4-10.2-17-11.4-41.6-28.4-12.4-8.1-10.8-7-7.7-4.7-6.2-3.7-6.1-3.5-6.2-3.4-6.2-3.3-6.2-3-10.8-5M347.8 488.9l-6.2-1.6-7.7-1.7-7.7-1.6-7.8-1.4M551.9 604.2l-15.4-9.9-15.5-10.1-16.9-11.3-41.7-28.2-13.9-9.1-10.8-6.9-7.7-4.7-6.2-3.6-7.7-4.4-6.2-3.3-6.1-3.2-6.2-3.1-6.2-2.8-6.1-2.7M345.1 487.5l-6.1-1.5-6.2-1.3-12.3-2.4M553.9 603.6l-17-10.9-16.9-11.2-57.1-38.3-12.4-8-10.8-6.8-13.9-8.2-7.7-4.4-6.1-3.3-7.8-3.9-6.1-3-6.2-2.8-6.2-2.6M341 485.8l-9.3-2.1-9.2-1.8M555.9 603l-16.9-11-15.5-10.1-57.1-38.1-12.3-7.9-12.4-7.7-7.7-4.7-7.7-4.4-7.7-4.3-6.2-3.2-7.7-3.9-6.2-2.9-7.7-3.4-6.1-2.6M336.8 484.1l-12.3-2.6M557.9 602.3l-30.8-20-57.1-37.9-13.9-8.9-12.3-7.6-7.8-4.6-7.7-4.4-7.7-4.3-7.7-4-7.7-3.8-6.2-2.8-7.7-3.4-6.2-2.5M331.1 482.1l-4.6-1M559.9 601.7l-29.3-19.1-43.2-28.6-13.9-9.1-15.4-9.8-13.9-8.5-7.7-4.5-7.7-4.3-7.7-4.2-7.7-3.9-7.8-3.8-7.7-3.5-7.7-3.2-6.2-2.5M562 601l-27.8-18-55.6-36.5-16.9-10.8-13.9-8.5-9.3-5.4-7.7-4.3-7.7-4.1-7.7-3.9-7.7-3.8-7.8-3.4-7.7-3.3-7.7-3.1M564 600.4l-23.2-15-43.2-28.4-15.4-10.1-18.5-11.7-15.5-9.3-9.2-5.3-7.7-4.2-9.3-4.8-7.7-3.9-7.7-3.6-7.7-3.4-7.8-3.1-7.7-3M566 599.8l-24.7-16.1-40.1-26.3-15.5-10-18.5-11.7-9.2-5.6-7.7-4.5-9.3-5.3-7.7-4.2-9.3-4.8-7.7-3.8-9.3-4.3-7.7-3.3-7.7-3.2-7.7-2.9M568 599.1l-60.2-39.3-18.5-12-20.1-12.5-9.2-5.6-7.7-4.5-9.3-5.2-9.3-5-9.2-4.8-7.7-3.7-9.3-4.2-7.7-3.3-7.7-3.1-9.3-3.4M570 598.5l-55.6-36.3-21.6-13.9-20-12.5-9.3-5.6-9.2-5.4-9.3-5.2-9.2-4.9-9.3-4.7-9.3-4.5-9.2-4.1-7.7-3.3-7.7-3-9.3-3.4M572 597.8l-50.9-33.2-24.7-15.9-10.8-6.8-10.8-6.6-9.3-5.6-9.2-5.3-9.3-5.1-9.2-5-9.3-4.6-9.3-4.5-9.2-4.1-9.3-3.9-9.2-3.6-9.3-3.3M574 597.2l-47.8-31.3-26.2-16.9-10.8-6.7-10.8-6.6-10.8-6.4-9.3-5.3-10.8-6-9.3-4.8-9.2-4.6-9.3-4.4-9.2-4-9.3-3.9-9.3-3.5-9.2-3.3M576 596.5l-44.7-29.3-27.8-17.8-12.3-7.7-10.8-6.5-10.8-6.4-9.3-5.3-10.8-5.9-9.3-4.8-10.8-5.3-9.2-4.3-9.3-4-9.2-3.8-9.3-3.5-10.8-3.8M578 595.9l-43.2-28.3-27.7-17.8-12.4-7.7-10.8-6.5-10.8-6.4-10.8-6.1-10.8-5.9-9.2-4.7-10.8-5.3-9.3-4.3-9.3-4-10.8-4.4-9.2-3.5-10.8-3.7M580 595.2l-41.6-27.3-15.4-10-12.4-7.8-12.3-7.7-12.4-7.4-10.8-6.3-10.8-6.1-10.8-5.8-10.8-5.5-10.8-5.2-9.2-4.2-9.3-4-10.8-4.3-10.8-4-10.8-3.7M582.1 594.6l-40.2-26.4-15.4-9.9-13.9-8.8-12.3-7.7-12.4-7.4-10.8-6.2-10.8-6-10.8-5.8-10.8-5.5-10.8-5.2-9.2-4.2-10.8-4.5-10.8-4.3-10.8-4-10.8-3.7M584.1 593.9l-38.6-25.4-15.4-9.9-13.9-8.8-12.4-7.6-12.3-7.4-12.4-7.1-10.8-6-10.8-5.8-10.8-5.4-10.8-5.1-10.8-4.9-10.8-4.5-10.8-4.2-10.8-4-12.3-4.2M586.1 593.3l-21.6-14.4-17-11.1-15.4-9.9-13.9-8.8-12.4-7.6-12.3-7.3-12.3-7.1-10.8-5.9-12.4-6.5-10.8-5.4-10.8-5-10.8-4.8-10.8-4.5-10.8-4.2-10.8-3.9-12.3-4.2M588.1 592.6l-20.1-13.3-16.9-11.2-15.5-9.9-13.9-8.8-13.8-8.5-12.4-7.3-12.3-7-10.8-5.9-12.4-6.5-10.8-5.3-12.3-5.7-10.8-4.8-10.8-4.4-12.4-4.7-10.8-3.8-12.3-4.2M590.1 591.9l-20.1-13.3-16.9-11.2-15.5-9.9-13.8-8.8-13.9-8.4-12.4-7.3-12.3-7-10.8-5.9-12.4-6.3-10.8-5.3-10.8-5.1-12.3-5.3-10.8-4.5-12.4-4.7-12.3-4.4-12.3-4.1M592.1 591.3l-18.5-12.4-17-11.2-15.4-10-13.9-8.7-13.9-8.5-12.3-7.2-12.4-7-12.3-6.7-12.4-6.3-12.3-6-10.8-5-12.3-5.3-10.8-4.4-12.4-4.6-12.3-4.4-13.9-4.6M594.1 590.6l-18.5-12.4-17-11.2-15.4-10-13.9-8.7-13.9-8.4-12.3-7.3-12.4-6.9-12.3-6.6-12.3-6.3-12.4-6-10.8-4.9-12.3-5.3-12.4-4.9-12.3-4.7-12.4-4.3-13.9-4.6M596.1 590l-18.5-12.5-17-11.3-15.4-9.9-13.9-8.7-13.9-8.4-12.3-7.2-12.3-6.9-12.4-6.6-12.3-6.2-12.4-5.9-12.3-5.6-12.4-5.2-12.3-5-12.4-4.6-13.8-4.8-13.9-4.6M598.1 589.3l-18.5-12.5-15.4-10.3-15.4-10-13.9-8.7-13.9-8.4-12.4-7.2-12.3-6.9-12.3-6.5-12.4-6.3-12.3-5.9-12.4-5.6-12.3-5.2-12.4-5-13.8-5.2-13.9-4.9-15.5-5.1M600.2 588.6l-18.6-12.6-15.4-10.2-13.9-9-13.9-8.7-13.9-8.5-12.3-7.2-13.9-7.7-12.3-6.5-12.4-6.2-12.3-5.9-12.4-5.5-13.8-5.9-12.4-4.9-13.9-5.2-15.4-5.3-15.4-5.1M602.2 587.9l-18.6-12.6-15.4-10.3-13.9-9-13.9-8.7-13.8-8.4-12.4-7.1-13.9-7.7-12.3-6.5-12.4-6.2-12.3-5.8-12.3-5.5-13.9-5.8-13.9-5.5-13.9-5.1-15.4-5.4-15.5-5.1M604.2 587.3l-18.5-12.7-15.5-10.3-13.9-9-13.8-8.7-13.9-8.4-12.4-7.1-13.9-7.7-12.3-6.4-12.4-6.1-13.8-6.5-12.4-5.5-13.9-5.7-13.9-5.4-13.8-5.1-15.5-5.4-16.9-5.6M606.2 586.6l-17-11.7-15.4-10.3-13.9-9.1-13.9-8.7-13.9-8.4-12.3-7.1-13.9-7.7-12.4-6.4-12.3-6.2-13.9-6.4-12.3-5.5-13.9-5.8-13.9-5.4-15.4-5.7-15.5-5.4-18.5-6.1M608.2 585.9l-17-11.7-15.4-10.4-13.9-9-13.9-8.8-13.9-8.3-12.3-7.2-13.9-7.6-12.3-6.4-12.4-6-13.9-6.5-13.9-6-13.8-5.7-13.9-5.4-15.5-5.7-16.9-5.9-18.6-6.2M610.2 585.2l-17-11.7-13.9-9.4-13.8-9.1-13.9-8.8-13.9-8.4-12.4-7.1-12.3-6.8-13.9-7.2-12.3-6.1-13.9-6.4-13.9-6.1-13.9-5.7-15.4-6-15.5-5.6-16.9-6-18.5-6.2M612.2 584.5l-17-11.8-13.8-9.4-13.9-9.1-13.9-8.8-13.9-8.4-12.3-7-12.4-6.8-13.9-7.2-12.3-6-13.9-6.4-13.9-6-13.9-5.7-13.9-5.4-15.4-5.7-17-5.9-20-6.8M614.2 583.8l-16.9-11.8-13.9-9.5-13.9-9.1-13.9-8.8-13.9-8.3-12.3-7.1-12.4-6.7-12.3-6.4-12.4-6-13.9-6.4-13.8-6-13.9-5.7-15.5-6-15.4-5.6-17-6-20-6.8M616.2 583.1l-16.9-11.9-13.9-9.5-13.9-9.1-12.4-7.8-13.8-8.4-12.4-7.1-12.3-6.7-12.4-6.4-12.3-6-13.9-6.4-13.9-6-13.9-5.7-15.4-6-15.4-5.7-17-6-21.6-7.4M618.2 582.5l-15.4-11-13.9-9.5-13.9-9.2-12.3-7.9-13.9-8.4-12.3-7.1-12.4-6.7-12.3-6.4-12.4-6-13.8-6.4-13.9-6-13.9-5.7-15.5-6-15.4-5.7-18.5-6.6-21.6-7.4M620.3 581.8l-15.5-11-13.9-9.6-13.8-9.2-12.4-7.9-12.3-7.5-12.4-7.1-12.3-6.8-12.4-6.3-12.3-6-13.9-6.4-13.9-6-13.9-5.7-15.4-6-17-6.3-18.5-6.6-21.6-7.4M622.3 581l-15.5-11-13.8-9.6-13.9-9.3-12.4-7.8-12.3-7.5-12.4-7.1-12.3-6.7-12.4-6.4-12.3-5.9-12.3-5.7-13.9-6-13.9-5.6-15.4-6-17-6.3-18.5-6.6-23.2-8.1M624.3 580.3l-15.5-11.1-13.8-9.6-12.4-8.3-12.3-7.9-12.4-7.5-12.3-7.2-12.4-6.7-12.3-6.3-12.3-6-12.4-5.6-13.9-6-13.9-5.7-15.4-5.9-17-6.3-18.5-6.7-24.7-8.6M626.3 579.6l-15.4-11.1-13.9-9.7-12.4-8.3-12.3-8-12.4-7.5-10.8-6.2-12.3-6.8-12.3-6.3-12.4-6-12.3-5.6-13.9-6-13.9-5.6-15.4-6-17-6.3-20.1-7.2-24.7-8.7M628.3 578.9l-13.9-10.1-13.9-9.8-12.3-8.4-12.4-7.9-12.3-7.6-10.8-6.3-12.3-6.8-12.4-6.3-12.3-6-12.4-5.6-13.9-6-13.9-5.6-15.4-5.9-17-6.3-20-7.2-26.2-9.3M630.3 578.2l-13.9-10.2-13.9-9.8-12.3-8.4-12.4-8-12.3-7.6-10.8-6.3-12.3-6.7-12.4-6.3-12.3-5.9-12.4-5.6-12.3-5.3-13.9-5.6-13.9-5.3-17-6.3-20-7.3-29.3-10.4M632.3 577.5l-13.9-10.3-13.9-9.9-12.3-8.4-10.8-7-12.3-7.7-10.8-6.3-12.4-6.7-12.3-6.4-12.4-5.9-12.3-5.6-12.4-5.2-13.8-5.6-13.9-5.3-17-6.3-50.9-18.2M634.3 576.7l-13.9-10.3-13.8-9.9-12.4-8.5-10.8-7-12.3-7.7-10.8-6.3-10.8-5.9-12.4-6.3-10.8-5.2-12.3-5.6-12.4-5.3-13.9-5.6-13.8-5.3-15.5-5.7-55.5-19.9M636.3 576l-13.8-10.4-13.9-10-12.4-8.5-10.8-7.1-12.3-7.6-10.8-6.3-10.8-5.9-12.4-6.3-10.8-5.2-12.3-5.5-12.4-5.2-12.3-4.9-13.9-5.3-15.4-5.7-57.1-20.5M638.4 575.2l-13.9-10.4-12.4-9-12.3-8.6-10.8-7.1-12.4-7.7-10.8-6.3-10.8-6-12.3-6.3-10.8-5.2-12.4-5.5-12.3-5.2-12.3-4.9-12.4-4.7-13.9-5.1-61.7-22.1M640.4 574.5l-13.9-10.5-12.4-9.1-12.3-8.6-10.8-7.1-12.4-7.8-10.8-6.3-10.8-5.9-12.3-6.3-10.8-5.1-10.8-4.8-12.3-5.2-12.4-4.9-10.8-4.1-13.9-5.1-64.8-23.2M642.4 573.7l-13.9-10.6-12.4-9.1-12.3-8.6-10.8-7.2-10.8-6.8-10.8-6.4-10.8-5.9-12.3-6.3-10.8-5.2-10.9-4.8-12.3-5.1-12.3-4.9-10.8-4-12.4-4.6-44.7-15.9-23.2-8.4M644.4 573l-13.9-10.7-12.3-9.2-12.4-8.7-10.8-7.2-10.8-6.8-10.8-6.3-10.8-6-12.3-6.2-10.8-5.1-10.8-4.8-10.8-4.5-12.4-4.8-20-7.4-46.3-16.4-26.3-9.5M646.4 572.2l-12.3-9.6-12.4-9.3-12.3-8.8-10.8-7.3-10.8-6.8-10.8-6.5-10.8-5.9-12.4-6.3-9.2-4.4-10.8-4.8-10.8-4.5-12.4-4.9-20-7.4-47.9-16.8-27.8-10.1M648.4 571.4l-12.3-9.7-12.4-9.3-12.3-8.9-10.8-7.3-10.8-6.9-10.8-6.4-10.8-5.9-6.2-3.2-6.2-3.1-9.2-4.4-10.8-4.7-10.8-4.5-10.8-4.1-17-6.3-49.4-17.3-30.8-11.1M650.4 570.6l-12.3-9.8-12.4-9.4-12.3-8.9-10.8-7.3-10.8-6.9-10.8-6.4-10.8-6-10.8-5.4-9.3-4.4-10.8-4.8-10.8-4.4-10.8-4.2-20-7.2-49.4-17.2-29.3-10.6M652.4 569.8l-12.3-9.8-12.4-9.5-12.3-9-10.8-7.4-10.8-6.9-10.8-6.4-10.8-5.9-10.8-5.5-9.3-4.3-9.2-4-10.8-4.5-10.8-4.1-18.5-6.6-51-17.6-15.4-5.5-15.4-5.6M654.4 569l-12.3-9.9-12.4-9.6-10.8-7.9-10.8-7.5-10.8-7-10.8-6.5-10.8-6-10.8-5.5-9.2-4.3-9.3-4.1-10.8-4.3-10.8-4.2-18.5-6.5-35.5-12-15.4-5.4-15.4-5.5-17-6.2M656.4 568.2l-12.3-10.1-12.3-9.6-10.8-8-10.8-7.5-10.8-7-10.8-6.5-10.8-6-10.8-5.4-9.3-4.3-9.3-4-9.2-3.8-10.8-4.1-18.5-6.5-35.5-11.8-15.5-5.3-16.9-6-17-6.3M658.5 567.4l-12.4-10.2-12.3-9.7-10.8-8.1-10.8-7.5-10.8-7.1-9.3-5.6-10.8-6-10.8-5.5-9.3-4.3-9.2-4-9.3-3.7-10.8-4.1-16.9-5.9-37.1-12.2-15.4-5.2-17-6-18.5-6.8M660.5 566.6l-12.4-10.3-12.3-9.9-10.8-8.1-10.8-7.6-10.8-7.1-9.3-5.5-10.8-6-10.8-5.5-7.7-3.6-9.3-4-9.2-3.7-10.8-4.1-17-5.8-35.5-11.5-16.9-5.7-18.6-6.5-18.5-6.8M662.5 565.7l-12.4-10.4-12.3-9.9-10.8-8.2-10.8-7.7-6.2-4.1-4.6-3-9.3-5.6-4.6-2.6-6.2-3.3-10.8-5.5-7.7-3.5-9.2-4-9.3-3.7-9.3-3.4-16.9-5.7-35.5-11.4-17-5.5-18.5-6.5-20.1-7.3M664.5 564.8l-12.4-10.5-10.8-8.8-10.8-8.3-10.8-7.8-6.1-4.2-4.7-3-9.2-5.7-4.6-2.7-6.2-3.4-4.6-2.4-6.2-3-7.7-3.6-9.3-4-9.2-3.6-9.3-3.4-7.7-2.7-9.3-3-37-11.6-17-5.5-18.5-6.4-20.1-7.4M666.5 564l-12.3-10.7-10.8-8.9-10.8-8.4-10.8-7.8-6.2-4.3-4.6-3-9.3-5.7-4.6-2.6-6.2-3.4-4.6-2.4-6.2-3.1-7.7-3.5-7.7-3.3-9.3-3.6-9.3-3.4-7.7-2.6-9.2-3-37.1-11.4-16.9-5.4-10.8-3.6-9.3-3.3-20-7.4M668.5 563.1l-12.3-10.8-10.8-9-10.8-8.5-6.2-4.6-4.6-3.3-6.2-4.2-4.6-3.1-9.3-5.7-4.6-2.6-6.2-3.4-4.6-2.4-6.2-3-7.7-3.5-7.7-3.3-9.3-3.6-9.2-3.3-7.8-2.5-9.2-2.9-35.5-10.7-18.5-5.8-10.8-3.6-9.3-3.2-20-7.4M670.5 562.2l-12.3-11-10.8-9.1-10.8-8.6-6.2-4.6-4.6-3.3-6.2-4.3-4.6-3-9.3-5.7-9.2-5.2-4.7-2.5-6.1-3-7.8-3.5-7.7-3.3-9.2-3.6-9.3-3.2-7.7-2.6-9.3-2.8-37-10.9-17-5.2-10.8-3.6-9.2-3.2-10.8-3.9-10.8-4M672.5 561.3l-12.3-11.1-10.8-9.3-10.8-8.6-6.2-4.7-4.6-3.4-6.2-4.2-4.6-3.1-9.3-5.7-9.2-5.2-4.7-2.4-6.1-3.1-7.7-3.5-7.8-3.2-7.7-2.9-9.2-3.2-7.8-2.5-9.2-2.9-37-10.5-18.6-5.6-10.8-3.6-9.2-3.1-10.8-3.9-10.8-4.1M674.5 560.3l-12.3-11.2-10.8-9.4-6.2-5.1-4.6-3.7-6.2-4.7-4.6-3.3-6.2-4.4-4.6-3-9.3-5.8-9.2-5.2-4.7-2.4-6.1-3-7.7-3.4-7.8-3.2-7.7-2.9-7.7-2.6-7.7-2.5-9.3-2.7-38.5-10.8-9.3-2.7-9.2-2.8-10.8-3.5-9.3-3.1-10.8-3.9-10.8-4M676.6 559.4l-12.4-11.5-10.8-9.4-6.2-5.2-4.6-3.7-9.3-7.1-6.1-4.4-4.7-3.1-4.6-3-4.6-2.8-4.6-2.7-4.7-2.6-4.6-2.4-6.2-3.1-7.7-3.5-7.7-3.1-7.7-2.9-9.3-3.2-7.7-2.3-9.2-2.7-37.1-10-9.2-2.6-9.3-2.7-10.8-3.4-10.8-3.7-10.8-3.8-10.8-4.1M678.6 558.4l-12.4-11.7-10.8-9.6-6.2-5.2-4.6-3.7-9.2-7.1-6.2-4.5-4.6-3.1-4.7-3-4.6-2.9-4.6-2.7-4.7-2.5-4.6-2.5-6.2-3-7.7-3.4-7.7-3.1-7.7-2.8-7.7-2.6-7.7-2.4-9.3-2.6-38.6-10-9.2-2.6-9.3-2.7-10.8-3.3-10.8-3.6-10.8-3.9-10.8-4.1M680.6 557.3l-12.4-11.8-10.8-9.8-6.1-5.2-4.7-3.8-9.2-7.2-6.2-4.5-4.6-3.1-4.7-3-4.6-2.9-4.6-2.7-4.6-2.5-4.7-2.4-6.1-3-6.2-2.7-7.7-3.1-7.8-2.8-7.7-2.6-7.7-2.3-9.2-2.5-38.6-9.7-9.3-2.5-9.2-2.6-10.8-3.3-10.8-3.5-10.8-3.9-12.4-4.6M682.6 556.2l-10.8-10.6-10.8-10-6.2-5.4-4.6-3.9-9.3-7.3-6.1-4.6-4.7-3.2-4.6-3-4.6-2.9-4.7-2.8-4.6-2.5-4.6-2.5-6.2-3-6.2-2.7-7.7-3.1-7.7-2.8-7.7-2.5-7.7-2.2-9.3-2.5-38.6-9.3-10.8-2.8-9.2-2.5-10.8-3.3-10.8-3.6-10.8-3.8-12.4-4.6M684.6 555l-10.8-10.8-6.2-5.9-4.6-4.2-6.2-5.5-4.6-3.9-4.6-3.8-4.7-3.6-4.6-3.5-4.6-3.3-4.7-3.1-4.6-2.9-4.6-2.8-4.6-2.6-4.7-2.5-6.1-3-6.2-2.7-7.7-3.1-7.7-2.8-7.8-2.4-7.7-2.2-9.2-2.4-9.3-2.2-29.3-6.6-10.8-2.7-9.3-2.5-10.8-3.2-10.8-3.5-12.3-4.4-12.4-4.7M686.6 553.8l-10.8-11-6.2-6-4.6-4.4-6.2-5.5-4.6-4-4.6-3.8-4.7-3.7-4.6-3.5-4.6-3.2-4.6-3.2-4.7-2.9-4.6-2.7-4.6-2.6-4.7-2.4-6.1-3-7.7-3.3-7.8-2.9-7.7-2.6-9.2-2.7-7.7-2-7.8-1.8-29.3-6.3-10.8-2.5-12.3-3.1-10.8-3-9.3-2.8-9.2-3.2-10.8-3.8-10.8-4.2M688.6 552.5l-10.8-11.3-6.2-6.1-4.6-4.4-4.6-4.3-4.6-4.1-4.7-3.9-4.6-3.7-4.6-3.6-4.7-3.3-4.6-3.2-4.6-3-4.6-2.8-4.7-2.6-4.6-2.4-6.2-3-7.7-3.3-7.7-2.8-7.7-2.6-9.3-2.6-7.7-1.9-7.7-1.7-29.3-6-10.8-2.3-12.4-3-10.8-2.9-9.2-2.8-10.8-3.6-10.8-3.9-10.8-4.2M690.6 551.1l-10.8-11.5-6.1-6.2-4.7-4.5-4.6-4.4-4.6-4.1-4.7-4-4.6-3.7-4.6-3.6-4.6-3.4-4.7-3.1-4.6-3-4.6-2.8-4.7-2.5-4.6-2.4-4.6-2.2-7.7-3.3-7.8-2.9-7.7-2.4-9.2-2.6-7.7-1.8-7.8-1.6-29.3-5.6-10.8-2.2-12.3-2.8-10.8-2.8-9.3-2.8-10.8-3.5-10.8-3.9-12.3-4.8M692.6 549.7l-6.1-6.8-4.7-5-6.1-6.4-4.7-4.6-4.6-4.4-4.6-4.2-4.7-4-4.6-3.8-4.6-3.5-4.6-3.4-4.7-3.2-4.6-2.9-4.6-2.8-4.7-2.5-4.6-2.3-4.6-2.2-7.7-3.2-7.7-2.7-7.8-2.3-7.7-2-7.7-1.8-7.7-1.5-29.3-5.1-10.8-2.1-12.4-2.6-10.8-2.8-9.2-2.6-10.8-3.6-12.4-4.4-12.3-4.8M694.6 548.2l-6.1-7-4.7-5.1-4.6-4.9-4.6-4.7-4.6-4.6-4.7-4.3-4.6-4.1-4.6-3.9-4.7-3.7-4.6-3.5-4.6-3.2-4.6-3-4.7-2.8-4.6-2.5-4.6-2.4-4.7-2.2-7.7-3.1-7.7-2.7-7.7-2.3-7.7-1.9-7.7-1.6-7.7-1.4-29.4-4.7-10.8-1.9-12.3-2.5-10.8-2.6-10.8-3.1-10.8-3.5-12.4-4.5-12.3-4.8M696.7 546.7l-9.3-10.7-4.6-5.1-4.7-4.9-4.6-4.7-4.6-4.5-4.6-4.3-4.7-4-4.6-3.8-4.6-3.5-4.7-3.3-4.6-3.1-4.6-2.8-4.6-2.6-4.7-2.4-4.6-2.2-3.1-1.3-4.6-1.8-7.7-2.7-7.8-2.2-7.7-1.8-7.7-1.5-7.7-1.3-29.3-4.2-10.8-1.7-12.4-2.3-10.8-2.5-10.8-3-10.8-3.5-12.3-4.4-13.9-5.5M698.7 545.1l-9.3-11-4.6-5.3-4.6-5-4.7-4.8-4.6-4.5-4.6-4.4-4.7-4-4.6-3.8-4.6-3.6-4.7-3.3-4.6-3.1-4.6-2.8-4.6-2.5-4.7-2.4-4.6-2.1-6.2-2.4-7.7-2.7-7.7-2.1-4.6-1.1-4.7-.9-7.7-1.4-7.7-1.1-26.2-3.3-12.4-1.7-6.1-1-6.2-1.1-10.8-2.4-6.2-1.5-6.1-1.8-9.3-2.9-6.2-2.1-7.7-2.9-13.9-5.5M700.7 543.5l-4.7-5.8-4.6-5.6-4.6-5.4-4.6-5.1-4.7-4.9-4.6-4.7-4.6-4.3-4.7-4.2-4.6-3.8-3.1-2.5-4.6-3.4-4.6-3.1-4.7-2.9-4.6-2.6-4.6-2.3-4.6-2.2-6.2-2.4-3.1-1.1-4.6-1.5-7.7-2.1-4.7-1-4.6-.9-7.7-1.3-7.7-1-27.8-2.9-12.4-1.5-6.1-.9-6.2-1.1-10.8-2.3-6.2-1.5-6.1-1.7-9.3-2.9-6.2-2.1-7.7-2.9-13.9-5.5M702.7 541.8l-4.6-6-4.7-5.7-4.6-5.5-4.6-5.3-4.7-5-4.6-4.8-4.6-4.5-4.6-4.1-4.7-3.9-3.1-2.5-4.6-3.4-4.6-3.1-4.6-2.9-4.7-2.6-4.6-2.3-4.6-2.1-6.2-2.4-3.1-1-4.6-1.4-7.7-1.9-7.7-1.5-7.8-1.1-7.7-.9-27.8-2.3-12.3-1.3-6.2-.8-6.1-.9-6.2-1.2-4.6-.9-6.2-1.5-6.2-1.6-4.6-1.3-6.2-2-6.2-2.2-7.7-2.8-13.9-5.6M704.7 540.1l-4.6-6.2-4.7-5.9-4.6-5.7-4.6-5.4-4.6-5.2-4.7-4.8-4.6-4.6-3.1-2.8-4.6-4.1-3.1-2.5-4.6-3.6-4.7-3.2-4.6-3-4.6-2.6-4.6-2.4-4.7-2.1-6.1-2.4-3.1-1.1-4.7-1.3-3.1-.9-4.6-1-4.6-.9-4.6-.7-6.2-.8-7.7-.7-7.7-.6-20.1-1.1-12.3-1-6.2-.7-6.2-.8-6.2-1-6.1-1.2-6.2-1.4-6.2-1.6-4.6-1.3-6.2-2-6.1-2.1-7.8-2.8-6.1-2.4-7.8-3.2M706.7 538.3l-4.6-6.4-4.6-6.1-4.7-5.8-4.6-5.6-4.6-5.3-4.7-4.9-4.6-4.7-3.1-2.9-4.6-4.1-3.1-2.6-4.6-3.6-4.7-3.3-4.6-2.9-4.6-2.6-4.6-2.4-4.7-2.1-6.1-2.3-3.1-1-4.7-1.3-3-.8-4.7-.9-7.7-1.2-7.7-.9-7.7-.5-27.8-1-12.3-.7-6.2-.6-6.2-.7-6.1-.9-4.7-.9-6.1-1.2-6.2-1.5-4.7-1.2-6.1-2-6.2-2-7.7-2.8-7.7-3-7.7-3.2M708.7 536.5l-4.6-6.6-4.6-6.3-4.7-6-4.6-5.7-4.6-5.5-4.7-5.1-4.6-4.7-3.1-3-4.6-4.2-3.1-2.6-4.6-3.7-4.6-3.2-4.7-3-4.6-2.7-4.6-2.3-4.7-2-6.1-2.3-3.1-.9-4.6-1.3-3.1-.7-4.7-.9-7.7-1-7.7-.6-7.7-.4-26.2-.2-12.4-.4-6.2-.4-6.1-.6-6.2-.8-6.2-.9-6.1-1.2-6.2-1.4-4.6-1.2-6.2-1.9-6.2-2-7.7-2.8-7.7-3-7.7-3.1M710.7 534.6l-4.6-6.8-4.6-6.5-4.7-6.2-4.6-5.9-4.6-5.6-4.6-5.2-4.7-4.9-3.1-3.1-4.6-4.3-3.1-2.6-4.6-3.7-4.6-3.3-4.7-3-4.6-2.7-4.6-2.3-4.6-2-6.2-2.2-3.1-.9-4.6-1.2-3.1-.6-4.6-.8-7.8-.9-6.1-.4-7.8-.1-7.7 0-20 .4-6.2 .1-6.2-.1-6.1-.3-6.2-.4-6.2-.7-6.2-.9-6.1-1.1-6.2-1.3-4.6-1.2-6.2-1.8-6.2-2-7.7-2.7-7.7-2.9-7.7-3.2M712.7 532.6l-4.6-7-4.6-6.7-4.6-6.4-4.7-6.1-4.6-5.8-4.6-5.4-4.7-5-3-3.1-4.7-4.4-3.1-2.7-4.6-3.8-4.6-3.4-4.6-3-4.7-2.6-4.6-2.3-4.6-2-3.1-1.1-3.1-1-3.1-.9-4.6-1.1-3.1-.6-4.6-.7-3.1-.3-4.7-.3-6.1-.3-7.7 .1-7.8 .3-20 1-6.2 .2-6.2 .1-6.1-.1-6.2-.3-6.2-.6-6.1-.7-6.2-1-6.2-1.3-4.6-1.1-6.2-1.8-6.2-1.9-7.7-2.7-7.7-2.9-7.7-3.2M714.8 530.5l-4.7-7.2-4.6-7-4.6-6.7-4.7-6.3-4.6-5.9-4.6-5.6-4.7-5.1-3-3.2-4.7-4.5-3.1-2.8-4.6-3.8-4.6-3.5-4.6-3-4.7-2.6-4.6-2.3-4.6-2-3.1-1.1-3.1-.9-3.1-.8-4.6-1-3.1-.6-4.6-.5-3.1-.3-4.6-.2-6.2-.1-7.7 .3-7.7 .6-20.1 1.7-6.2 .3-6.1 .3-6.2 .1-6.2-.2-6.2-.4-4.6-.4-6.2-.9-6.1-1.1-6.2-1.3-4.6-1.3-7.8-2.4-7.7-2.6-7.7-2.9-7.7-3.1M716.8 528.3l-4.7-7.6-4.6-7.2-4.6-6.9-4.7-6.5-4.6-6.2-4.6-5.7-4.6-5.3-3.1-3.3-4.7-4.6-3-2.9-4.7-3.9-4.6-3.4-3.1-2.1-4.6-2.8-4.6-2.4-4.7-2-3.1-1.2-3-1-3.1-.8-4.7-1-3-.5-4.7-.6-3.1-.2-4.6-.1-7.7 .1-7.7 .6-7.7 .8-20.1 2.4-6.2 .6-6.1 .4-6.2 .3-6.2 0-6.2-.3-4.6-.3-6.2-.7-6.1-1-6.2-1.3-4.6-1.2-7.7-2.3-7.8-2.6-7.7-2.9-7.7-3.1M718.8 525.9l-4.7-7.8-4.6-7.6-4.6-7.2-4.6-6.7-4.7-6.4-4.6-5.9-4.6-5.5-3.1-3.4-4.6-4.8-3.1-2.9-4.7-3.9-4.6-3.6-3.1-2.1-4.6-2.8-4.6-2.4-4.7-1.9-3-1.1-3.1-1-3.1-.8-4.6-.9-3.1-.4-4.7-.4-3-.2-4.7 0-7.7 .4-7.7 .9-7.7 1.1-20.1 3.2-6.2 .8-6.1 .7-6.2 .4-6.2 .2-6.1-.1-4.7-.2-6.1-.6-6.2-.9-6.2-1.2-4.6-1.2-7.7-2.2-7.7-2.5-7.8-2.9-7.7-3.1M720.8 523.4l-4.6-8.2-4.7-7.9-4.6-7.5-4.6-7-4.7-6.6-4.6-6.2-4.6-5.6-3.1-3.5-4.6-4.9-3.1-3-4.6-4.1-4.7-3.6-3.1-2.1-4.6-2.8-4.6-2.4-4.7-1.9-3-1.1-3.1-.9-3.1-.7-4.6-.8-3.1-.4-4.7-.3-3 0-4.7 .2-3.1 .2-4.6 .5-7.7 1.1-7.7 1.5-18.5 3.7-6.2 1.1-6.2 1-6.1 .7-6.2 .4-6.2 .2-6.2-.1-6.1-.4-6.2-.8-6.2-1.1-6.1-1.5-6.2-1.7-7.7-2.5-7.8-2.9-7.7-3.1M722.8 520.6l-4.6-8.6-4.7-8.2-4.6-7.7-4.6-7.4-4.7-6.9-4.6-6.3-4.6-5.9-3.1-3.7-4.6-5-3.1-3.1-4.6-4.1-4.7-3.7-3.1-2.1-4.6-2.9-4.6-2.3-4.6-1.9-3.1-1.1-3.1-.8-3.1-.7-4.6-.7-3.1-.2-4.6-.2-3.1 .1-4.7 .3-6.1 .8-7.7 1.4-7.8 1.8-21.6 5.4-6.1 1.3-4.7 .9-6.1 .9-6.2 .7-6.2 .4-6.2 .1-6.1-.3-6.2-.6-6.2-1-6.1-1.4-6.2-1.7-7.7-2.5-7.7-2.7-7.8-3.1M724.8 517.7l-4.6-9-4.7-8.6-4.6-8.2-4.6-7.6-4.6-7.2-4.7-6.6-4.6-6.1-3.1-3.8-4.6-5.2-3.1-3.2-4.6-4.2-4.7-3.8-3-2.2-4.7-2.8-4.6-2.4-4.6-1.8-3.1-1-3.1-.8-3.1-.6-4.6-.5-3.1-.2-4.6 0-3.1 .2-4.6 .5-6.2 1.1-7.7 1.8-7.7 2.1-20.1 6.1-6.2 1.7-6.2 1.5-6.1 1.2-6.2 .9-6.2 .6-6.1 .3-6.2-.1-6.2-.5-6.2-.9-6.1-1.3-6.2-1.6-7.7-2.4-7.7-2.7-7.7-3.1M726.8 514.5l-4.6-9.5-4.6-9-4.7-8.6-4.6-8-4.6-7.5-4.7-6.9-4.6-6.4-3.1-3.9-4.6-5.3-3.1-3.3-4.6-4.4-4.6-3.8-3.1-2.2-4.7-2.9-4.6-2.3-4.6-1.8-3.1-1-3.1-.7-3.1-.5-4.6-.4-3.1-.1-4.6 .2-3.1 .3-4.6 .8-6.2 1.3-7.7 2.2-7.7 2.6-20.1 7.2-6.2 2-6.1 1.8-6.2 1.6-6.2 1.2-6.2 .8-6.1 .5-6.2 .1-6.2-.3-6.1-.8-6.2-1.2-6.2-1.5-7.7-2.3-7.7-2.7-7.7-3.1M728.8 511l-4.6-10-4.6-9.5-4.7-9-4.6-8.4-4.6-7.8-4.6-7.3-4.7-6.6-3.1-4.1-4.6-5.6-3.1-3.4-4.6-4.5-4.6-3.9-3.1-2.3-4.7-2.8-4.6-2.4-4.6-1.7-3.1-.9-3.1-.6-3.1-.5-4.6-.2-3.1 0-4.6 .4-3.1 .5-4.6 1-6.2 1.7-7.7 2.7-7.7 3-20.1 8.5-6.2 2.4-6.1 2.1-6.2 1.9-6.2 1.5-6.1 1.1-6.2 .7-6.2 .3-6.2-.1-6.1-.6-6.2-1.1-6.2-1.4-7.7-2.2-7.7-2.7-7.7-3M730.8 507.1l-4.6-10.5-4.6-10-4.7-9.5-4.6-8.8-4.6-8.3-4.6-7.6-4.7-6.9-3.1-4.3-4.6-5.8-3.1-3.5-4.6-4.7-4.6-4-3.1-2.3-1.6-1-3-1.9-1.6-.8-3.1-1.5-1.5-.6-3.1-1.1-3.1-.8-3.1-.6-3.1-.3-4.6-.1-3.1 .2-4.6 .6-3.1 .6-4.6 1.3-6.2 2.1-3.1 1.2-4.6 2-7.7 3.6-20.1 9.8-6.1 2.9-6.2 2.5-6.2 2.2-6.2 1.9-6.1 1.4-4.7 .8-6.1 .6-6.2 .2-6.2-.3-3.1-.4-3.1-.4-3-.6-4.7-1.1-7.7-2.1-7.7-2.6-7.7-3M732.8 503.1l-4.6-11.2-4.6-10.6-4.6-10-4.7-9.3-4.6-8.7-4.6-8-4.7-7.3-3-4.5-4.7-6.1-3.1-3.6-4.6-4.9-4.6-4.1-3.1-2.4-1.5-1.1-3.1-1.9-1.6-.8-3.1-1.5-1.5-.6-3.1-1-3.1-.8-3.1-.5-3-.2-4.7 .1-3.1 .3-4.6 .8-3.1 .8-4.6 1.5-6.2 2.5-3.1 1.5-4.6 2.3-7.7 4.2-20.1 11.5-6.1 3.2-6.2 3-6.2 2.7-6.2 2.2-6.1 1.8-4.7 1-3 .5-3.1 .4-3.1 .3-3.1 .2-3.1 0-3.1-.1-3.1-.3-3-.4-3.1-.5-4.7-.9-3-.8-4.7-1.2-7.7-2.6-7.7-2.9M734.9 498.8l-4.7-11.8-4.6-11.2-4.6-10.6-4.7-9.9-4.6-9.2-4.6-8.5-4.6-7.7-3.1-4.7-4.7-6.4-3-3.9-4.7-5.1-1.5-1.5-3.1-2.8-3.1-2.5-1.5-1.1-3.1-1.9-1.6-.9-3-1.5-1.6-.6-3.1-1-3.1-.7-3-.5-3.1-.1-1.6 0-3.1 .2-3.1 .4-4.6 1.1-3.1 1-4.6 1.8-3.1 1.4-3.1 1.5-3.1 1.6-4.6 2.7-7.7 4.9-20.1 13.2-6.1 3.8-6.2 3.5-6.2 3.1-6.1 2.7-6.2 2.2-3.1 .9-3.1 .8-3.1 .7-3.1 .5-3 .3-3.1 .3-3.1 .1-3.1-.1-6.2-.6-6.1-1-3.1-.7-4.7-1.2-3-.9-4.7-1.5-7.7-2.9M736.9 494.3l-4.7-12.5-4.6-11.9-4.6-11.3-4.6-10.5-4.7-9.8-4.6-9-4.6-8.2-3.1-5-4.6-6.8-3.1-4.1-1.6-1.9-3.1-3.5-1.5-1.6-3.1-2.9-3.1-2.6-1.5-1.2-3.1-2-1.6-.9-3-1.6-1.6-.6-3.1-1-3.1-.7-3-.4-3.1-.1-1.6 0-3.1 .3-3 .6-4.7 1.3-3.1 1.1-4.6 2.1-3.1 1.6-4.6 2.6-3.1 2-4.6 3.1-7.7 5.7-13.9 10.5-6.2 4.6-6.2 4.4-6.1 4-6.2 3.6-6.2 3.1-3.1 1.4-3 1.2-4.7 1.6-3.1 .8-3 .7-3.1 .6-3.1 .4-3.1 .3-3.1 .1-3.1-.1-3.1-.3-6.1-.8-3.1-.6-4.7-1-3-.9-4.7-1.4-7.7-2.9M738.9 489.5l-4.7-13.3-4.6-12.7-4.6-12-4.6-11.2-4.7-10.5-4.6-9.6-4.6-8.8-3.1-5.3-4.6-7.3-3.1-4.3-1.6-2-3.1-3.8-1.5-1.7-3.1-3.1-1.5-1.5-3.1-2.5-1.6-1.2-3-1.9-1.6-.9-3.1-1.4-1.5-.6-3.1-.9-3.1-.5-3.1-.3-3.1 .1-1.5 .2-3.1 .5-3.1 .8-4.6 1.7-3.1 1.4-4.6 2.6-3.1 1.9-3.1 2-3.1 2.3-4.6 3.5-7.7 6.4-20.1 17.5-6.1 5-6.2 4.7-6.2 4.3-6.2 3.8-3.1 1.6-3 1.5-4.7 2-3.1 1.1-3 1-3.1 .8-3.1 .6-3.1 .4-3.1 .3-3.1 .1-3.1-.1-3-.2-3.1-.3-3.1-.5-4.6-.9-3.1-.8-4.7-1.4-3-1-4.7-1.8M740.9 484.3l-4.6-14.2-4.7-13.6-4.6-12.8-4.6-12.1-4.7-11.2-4.6-10.3-4.6-9.4-3.1-5.7-4.6-7.8-3.1-4.7-1.6-2.2-3-4-1.6-1.9-3.1-3.4-1.5-1.5-3.1-2.7-1.5-1.2-3.1-2.2-1.6-.9-3.1-1.5-1.5-.6-3.1-.9-3.1-.6-3.1-.2-3 .1-1.6 .2-3.1 .7-3.1 .9-1.5 .6-3.1 1.3-3.1 1.6-4.6 2.9-3.1 2.1-4.6 3.6-3.1 2.6-4.6 4.2-7.8 7.4-20 19.9-6.2 5.8-6.2 5.4-6.1 4.9-3.1 2.3-3.1 2.1-3.1 1.9-3.1 1.8-4.6 2.3-3.1 1.4-3.1 1.1-3.1 1-3 .7-3.1 .6-3.1 .4-3.1 .2-3.1 .1-3.1-.2-3.1-.2-3-.4-4.7-.9-6.1-1.7-3.1-.9-4.7-1.7M742.9 478.5l-4.6-15.2-4.7-14.6-4.6-13.8-4.6-12.9-4.6-12.1-4.7-11.1-4.6-10.2-4.6-9.1-4.7-8.1-3-4.8-1.6-2.3-3.1-4.1-1.5-1.9-3.1-3.4-1.5-1.6-3.1-2.7-1.6-1.2-3.1-2.1-1.5-.9-3.1-1.4-1.5-.6-3.1-.8-3.1-.3-3.1-.1-3.1 .4-1.5 .3-3.1 .9-3.1 1.3-1.5 .7-3.1 1.7-3.1 1.9-4.6 3.4-3.1 2.6-4.7 4.2-3 3-4.7 4.8-7.7 8.5-13.9 16-6.1 6.9-6.2 6.7-6.2 6.2-6.2 5.7-3 2.6-3.1 2.4-3.1 2.3-3.1 2-4.6 2.8-3.1 1.5-3.1 1.4-3.1 1.2-3.1 1-3.1 .7-3 .5-3.1 .4-3.1 .1-3.1 0-3.1-.2-3.1-.3-3.1-.6-3-.6-3.1-.8-3.1-.9-4.7-1.7M744.9 472l-6.2-21.7-4.6-15.5-4.6-14.6-4.6-13.7-4.7-12.7-4.6-11.7-4.6-10.7-3.1-6.5-4.7-8.8-3-5.3-1.6-2.4-3.1-4.5-1.5-2.1-3.1-3.7-1.5-1.7-3.1-3-1.6-1.3-3.1-2.3-1.5-.9-3.1-1.6-1.5-.6-3.1-.8-3.1-.5-1.5 0-3.1 .2-3.1 .7-1.6 .4-3 1.2-3.1 1.6-1.6 .9-3.1 2.1-3 2.3-4.7 4.1-3.1 3-4.6 5-3.1 3.5-4.6 5.5-7.7 9.9-13.9 18.3-6.2 8-6.1 7.6-4.7 5.5-6.1 6.7-3.1 3.1-3.1 2.9-3.1 2.7-3.1 2.5-4.6 3.4-3.1 1.9-3.1 1.8-3.1 1.5-3.1 1.3-3.1 1-3 .8-3.1 .6-3.1 .4-3.1 .2-3.1 0-3.1-.2-3.1-.4-3-.6-3.1-.7-3.1-.8-4.6-1.6M746.9 464.5l-6.2-23.5-4.6-16.8-4.6-15.8-4.6-14.9-4.7-13.9-4.6-12.8-4.6-11.6-4.7-10.5-3-6.3-1.6-2.9-3.1-5.5-1.5-2.6-3.1-4.6-1.5-2.2-3.1-3.8-1.6-1.7-3.1-3-1.5-1.3-3.1-2.2-1.5-1-3.1-1.4-1.6-.5-1.5-.4-1.5-.3-3.1-.2-1.6 .1-3.1 .5-3 1-1.6 .6-3.1 1.6-3.1 2-1.5 1.1-3.1 2.5-3.1 2.9-4.6 4.8-3.1 3.6-3.1 3.8-3.1 4-4.6 6.3-7.7 11.3-20.1 30.4-6.1 8.9-6.2 8.3-6.2 7.8-3.1 3.5-3.1 3.4-3 3.1-3.1 3-4.7 3.9-3 2.3-3.1 2-3.1 1.8-3.1 1.6-1.5 .6-3.1 1.1-3.1 .9-3.1 .7-3.1 .4-3.1 .2-3.1 0-3-.3-3.1-.4-3.1-.6-3.1-.8-4.6-1.5M748.9 455.7l-6.1-25.7-4.7-18.2-4.6-17.3-4.6-16.4-4.7-15.2-4.6-14-4.6-12.8-4.6-11.5-3.1-6.9-1.6-3.3-3.1-6-1.5-2.8-3.1-5.1-1.5-2.4-3.1-4.2-1.6-1.9-3-3.3-1.6-1.4-3.1-2.5-1.5-.9-1.6-.9-1.5-.7-1.5-.6-1.6-.4-1.5-.3-1.6-.1-1.5 0-1.6 .1-1.5 .2-1.5 .4-3.1 1.1-1.6 .8-3.1 1.8-3 2.2-1.6 1.3-3.1 2.9-3.1 3.3-4.6 5.5-3.1 4.1-4.6 6.6-3.1 4.7-4.6 7.4-7.7 13.1-13.9 24.4-6.2 10.7-6.2 10.2-4.6 7.3-6.2 9.1-3.1 4.3-3 4-3.1 3.7-3.1 3.5-4.6 4.8-3.1 2.8-3.1 2.5-3.1 2.2-3.1 2-1.5 .9-3.1 1.5-3.1 1.2-3.1 .9-3.1 .7-3.1 .4-3 .2-3.1-.1-3.1-.2-3.1-.6-3.1-.7-4.6-1.4M750.9 445.1l-6.1-28.1-4.7-20.1-4.6-19.1-4.6-18-4.6-16.7-4.7-15.5-4.6-14.1-4.6-12.7-3.1-7.7-1.6-3.6-3-6.7-1.6-3-3.1-5.7-1.5-2.6-1.6-2.4-3-4.3-1.6-1.9-3.1-3.3-1.5-1.4-1.6-1.3-1.5-1.1-1.6-.9-1.5-.7-1.5-.6-1.6-.5-1.5-.3-1.6-.1-1.5 0-1.6 .2-1.5 .3-1.5 .4-1.6 .6-3.1 1.6-1.5 1-3.1 2.4-3.1 2.9-1.5 1.6-3.1 3.5-3.1 4-4.6 6.6-3.1 4.9-4.6 7.8-3.1 5.6-4.7 8.7-7.7 15.2-18.5 37.7-6.2 11.9-4.6 8.6-6.2 10.7-3 5-3.1 4.7-3.1 4.5-3.1 4.2-4.6 5.7-3.1 3.4-3.1 3.1-3.1 2.7-3.1 2.4-1.5 1.1-3.1 2-3.1 1.6-3.1 1.3-3.1 1-3 .6-3.1 .4-3.1 .2-3.1-.2-3.1-.4-3.1-.6-4.6-1.3M753 432.3l-6.2-31.2-4.6-22.3-4.7-21.2-4.6-20-4.6-18.6-4.7-17.2-4.6-15.7-4.6-14.1-3.1-8.5-1.6-4-3-7.4-1.6-3.4-3.1-6.2-1.5-2.9-1.6-2.6-3-4.8-1.6-2.1-1.5-1.9-1.6-1.7-1.5-1.5-1.6-1.4-1.5-1.1-1.5-1-1.6-.8-1.5-.6-1.6-.5-1.5-.2-1.6-.1-1.5 .1-1.5 .2-1.6 .4-1.5 .6-1.6 .7-1.5 .9-1.6 1.1-1.5 1.1-3.1 2.9-3.1 3.3-1.5 1.9-3.1 4.2-3.1 4.6-4.6 7.7-3.1 5.7-4.6 9.1-3.1 6.4-4.6 10.1-7.8 17.7-13.8 33-6.2 14.4-6.2 13.8-4.6 9.9-6.2 12.3-3.1 5.7-3.1 5.5-3 5.1-3.1 4.8-4.7 6.5-3.1 3.9-3 3.6-3.1 3.1-1.6 1.5-3.1 2.6-3 2.2-3.1 1.9-3.1 1.5-3.1 1.1-3.1 .9-3.1 .4-3.1 .2-3-.1-3.1-.4-3.1-.6-3.1-.9M755 416.3l-6.2-35-4.6-25-4.7-23.7-4.6-22.4-4.6-20.8-4.7-19.3-4.6-17.5-4.6-15.8-3.1-9.4-1.5-4.4-3.1-8.3-1.6-3.7-3.1-7-1.5-3.1-1.5-2.9-3.1-5.2-1.6-2.3-1.5-2.1-1.6-1.9-1.5-1.6-1.5-1.4-1.6-1.3-1.5-1-1.6-.8-1.5-.6-1.6-.4-1.5-.2-1.5 0-1.6 .2-1.5 .4-1.6 .5-1.5 .8-1.6 .9-1.5 1.1-1.5 1.3-1.6 1.5-3.1 3.4-3.1 4-1.5 2.3-3.1 4.9-3.1 5.4-4.6 9.1-3.1 6.7-4.6 10.6-3.1 7.6-4.6 11.8-7.7 20.7-13.9 38.6-6.2 16.8-6.2 16.2-4.6 11.6-6.2 14.4-3.1 6.8-3.1 6.4-3 6.1-3.1 5.6-4.7 7.8-3 4.7-3.1 4.2-3.1 3.8-1.6 1.8-3 3.2-3.1 2.7-3.1 2.3-3.1 1.9-3.1 1.6-3.1 1.1-3.1 .7-3 .4-3.1 .1-3.1-.3-3.1-.5-3.1-.8"/><path stroke-width="0.75" d="M453.4 636.4l6-2.4 6.1-2.1 38.1-12 24.2-8.1 38.2-12 26.1-8.5 22.1-7.5 18.1-6.3 12.1-4.5 10-4 10.1-4.2 8-3.5 6.1-2.9 4-2.2 4-2.4 6-4.1 4.1-3 4-3.2 8-7 4-3.9 2.1-2.1 4-4.6 4-5.3 2-2.9 2-3.2 2-3.5 2-3.9 4.1-8.3 2-4.5 2-4.8 2-5.2 2-5.8 2-6.5 2-7.5 2-8.8 2-10.6 2.1-12.8 2-16M451.8 635.3l4.1-1.6 6-2.1 40.2-12.6 26.1-8.8 32.2-10.1 26.1-8.5 22.2-7.5 20.1-7.1 12-4.5 10.1-3.9 10-4.2 8.1-3.6 8-3.9 4-2.3 4.1-2.4 6-4.2 4-3.1 4-3.4 4.1-3.5 4-3.7 4-4 2-2.2 4-4.8 4.1-5.6 2-3.1 2-3.3 2-3.7 2-4 4-8.8 2-4.7 2-5.1 2-5.5 2.1-6.2 2-6.9 2-7.9 2-9.4 2-11.1 2-13.6 2-17M450.3 634.1l4-1.5 4-1.4 42.3-13.1 26.1-8.8 30.2-9.6 24.1-7.8 26.1-8.8 12.1-4.3 10-3.6 12.1-4.6 12.1-4.9 10-4.4 8.1-3.8 6-3.2 4-2.4 4-2.7 6.1-4.5 6-5.1 4-3.7 4-3.8 4.1-4.2 2-2.2 4-5.1 2-2.7 2-3 2-3.3 2-3.5 2-3.8 2.1-4.2 4-9.2 2-5 2-5.3 2-5.9 2-6.4 2-7.3 2-8.5 2-9.8 2.1-11.8 2-14.4 2-17.9M448.8 632.9l4-1.5 4-1.3 14.1-4.2 28.1-8.7 26.2-8.9 26.1-8.3 22.1-7.2 28.2-9.4 12-4.2 12.1-4.4 12-4.6 12.1-5 10.1-4.4 8-3.8 6-3.1 6.1-3.6 4-2.7 6-4.7 6-5.2 4.1-3.8 4-4 4-4.3 2-2.3 4-5.2 2.1-2.9 2-3.2 2-3.3 2-3.7 2-4 2-4.4 4-9.6 2-5.2 2-5.6 2.1-6.1 2-6.8 2-7.7 2-8.9 2-10.4 2-12.4 2-15.2 2-18.8M447.2 631.5l6-2 16.1-4.6 28.2-8.7 24.1-8.2 36.2-11.6 26.1-8.6 22.1-7.6 18.1-6.6 12.1-4.6 12.1-5 10-4.5 8.1-3.9 6-3.1 6-3.7 4-2.8 6.1-4.8 6-5.4 4-3.9 4-4.1 4.1-4.5 2-2.4 4-5.4 2-3 2-3.2 2-3.5 2-3.9 2.1-4.1 2-4.6 4-10 2-5.4 2-5.9 2-6.4 2-7.2 2-8 2-9.3 2.1-11 2-13 2-15.9 2-19.8M445.7 630.1l6-1.8 16.1-4.4 28.1-8.6 24.2-8.3 36.1-11.6 26.2-8.6 20.1-7 18.1-6.5 12-4.7 12.1-5 10.1-4.5 10-4.8 6-3.3 4.1-2.4 2-1.3 4-2.9 6-4.9 6.1-5.5 4-4.1 4-4.2 4-4.6 2-2.5 4.1-5.6 2-3.1 2-3.4 2-3.6 2-4 2-4.3 2-4.7 4-10.4 2.1-5.7 2-6.1 2-6.8 2-7.4 2-8.5 2-9.7 2-11.4 2-13.7 2-16.7 2-20.6M444.1 628.7l6.1-1.7 10-2.5 6-1.6 28.2-8.6 24.1-8.3 34.2-10.9 26.1-8.7 20.1-6.9 18.1-6.6 12.1-4.7 12.1-4.9 10-4.5 10.1-4.9 6-3.2 4-2.3 2-1.3 4-2.8 2.1-1.5 6-5 6-5.7 4-4.1 4.1-4.4 4-4.7 2-2.6 4-5.8 2-3.2 2-3.5 2-3.7 2.1-4.1 2-4.5 2-4.9 4-10.8 2-5.9 2-6.4 2-7 2-7.8 2.1-8.8 2-10.2 2-11.9 2-14.3 2-17.4 2-21.6M442.6 627.1l16.1-3.7 6-1.5 26.1-7.9 8.1-2.7 18.1-6.3 32.1-10.3 26.2-8.6 20.1-7 18.1-6.6 14.1-5.4 12-5.1 10.1-4.5 10-4.9 6.1-3.3 4-2.4 2-1.3 4-2.8 2-1.6 2-1.6 4-3.5 6.1-5.8 4-4.2 4-4.5 4-4.9 2.1-2.7 4-5.9 2-3.3 2-3.6 2-3.9 2-4.2 2-4.6 2-5.1 4.1-11.2 2-6.1 2-6.7 2-7.3 2-8.1 2-9.2 2-10.6 2-12.4 2-14.9 2.1-18.1 2-22.5M441 625.5l14.1-2.8 6-1.4 8.1-2.2 20.1-6 8-2.7 18.1-6.4 32.2-10.3 26.1-8.6 20.1-7 16.1-5.9 14.1-5.5 12.1-5 10-4.5 10.1-4.9 8-4.4 4-2.4 2-1.3 4.1-3 2-1.5 2-1.7 4-3.5 6-6 4.1-4.3 4-4.6 4-5 2-2.8 4-6.1 2-3.4 2.1-3.7 2-4 2-4.4 2-4.7 2-5.3 4-11.5 2-6.4 2-6.9 2-7.5 2.1-8.5 2-9.5 2-11.1 2-12.9 2-15.5 2-18.8 2-23.3M439.5 623.8l12.1-1.9 8-1.7 8-2.2 20.2-5.9 8-2.7 18.1-6.4 32.2-10.3 24.1-8 20.1-7 16.1-5.8 14-5.5 12.1-5 12.1-5.4 10-5 8.1-4.5 4-2.4 2-1.4 4-3 2-1.6 2-1.7 4.1-3.6 6-6.1 4-4.4 4-4.7 4.1-5.1 2-2.9 2-3 2-3.3 2-3.5 2-3.7 2-4.2 2-4.5 2-4.9 2-5.4 4.1-11.9 2-6.6 2-7.1 2-7.8 2-8.8 2-9.9 2-11.4 2-13.5 2.1-16 2-19.6 2-24.2M438 622l6-.6 6-.8 4-.7 4.1-.8 4-1 6-1.7 18.1-5.3 8.1-2.7 18-6.4 32.2-10.3 24.1-8 18.1-6.3 16.1-5.9 14.1-5.4 14.1-5.9 6-2.7 6-2.8 10.1-5 8-4.5 4-2.6 2.1-1.3 4-3.1 2-1.6 4-3.5 2-1.9 6-6.2 4.1-4.5 4-4.8 4-5.3 2-2.9 2-3.1 2-3.4 2.1-3.6 2-3.8 2-4.3 2-4.6 2-5 2-5.6 4-12.3 2-6.8 2-7.3 2.1-8.1 2-9.1 2-10.3 2-11.8 2-13.9 2-16.7 2-20.2 2-25M436.4 620.1l6-.3 4.1-.3 6-.8 4-.7 4-1 4.1-1.1 18.1-5.2 8-2.6 20.1-7.1 30.2-9.6 22.1-7.4 20.1-6.9 16.1-5.9 14-5.4 14.1-5.9 12.1-5.4 10-5.1 6.1-3.3 4-2.3 4-2.6 2-1.4 4-3 2-1.7 4.1-3.6 2-1.9 2-2 4-4.3 4-4.6 4-5 4.1-5.3 2-3 2-3.2 2-3.4 2-3.7 2-4 2-4.3 2-4.8 2.1-5.1 2-5.7 4-12.7 2-7 2-7.6 2-8.3 2-9.4 2-10.6 2-12.3 2.1-14.4 2-17.2 2-20.9 2-25.8M434.9 618.1l6 .1 4-.2 6.1-.5 4-.7 4-.9 4-1.1 18.1-5.1 8.1-2.6 20.1-7.1 28.1-9 24.1-8 18.1-6.2 16.1-5.9 16.1-6.2 14.1-5.9 6-2.7 6-2.8 10.1-5.1 6-3.4 4-2.4 4.1-2.6 2-1.4 4-3.1 2-1.7 4-3.6 2-2 2-2 4.1-4.4 4-4.7 4-5 4-5.5 2-3.1 2-3.2 2.1-3.5 2-3.8 2-4.1 2-4.4 2-4.9 2-5.3 2-5.8 4-13 2.1-7.2 2-7.8 2-8.7 2-9.6 2-11 2-12.7 2-14.8 2-17.8 2-21.6 2-26.6M433.3 616l6.1 .5 4 .1 4-.2 4-.5 4-.7 2.1-.4 8-2.1 10-2.8 6.1-1.8 4-1.3 18.1-6.5 6-2 24.2-7.6 22.1-7.3 18.1-6.2 16-5.8 16.1-6.2 14.1-5.8 12.1-5.4 6-2.9 6-3.1 6.1-3.3 4-2.4 4-2.5 2-1.3 4-3 4.1-3.4 4-3.7 2-1.9 2-2.1 4-4.5 4-4.8 4.1-5.1 4-5.6 2-3.1 2-3.3 2-3.6 2-3.9 2-4.1 2-4.6 2.1-4.9 2-5.5 2-6 4-13.3 2-7.4 2-8 2-8.9 2-9.9 2.1-11.4 2-13 2-15.4 2-18.3 2-22.2 2-27.4M431.8 613.9l4 .6 4 .4 4 .1 2.1 0 4-.3 4-.7 2-.4 8.1-2 8-2.2 8-2.3 4.1-1.3 22.1-7.9 24.1-7.6 20.1-6.6 18.1-6.2 18.1-6.5 10-3.7 8.1-3.2 14.1-5.8 12-5.5 6.1-2.9 6-3.2 6-3.3 4-2.4 4.1-2.5 2-1.4 4-3 4-3.4 4-3.8 2-2 2.1-2.1 4-4.5 4-4.9 4-5.2 4-5.7 2.1-3.2 2-3.4 2-3.6 2-4 2-4.2 2-4.7 2-5 2-5.6 2-6.1 2-6.6 2.1-7.1 2-7.5 2-8.3 2-9.1 2-10.3 2-11.6 2-13.5 2-15.7 2-18.9 2.1-22.8 2-28.2M430.2 611.6l4.1 1 4 .6 4 .4 4-.1 4-.3 2.1-.4 6-1.3 8-2.1 10.1-2.7 6-1.9 22.1-7.9 24.2-7.6 18.1-5.9 18-6.2 16.1-5.7 16.1-6.1 8.1-3.2 8-3.3 8-3.5 6.1-2.8 6-2.9 6-3.1 6.1-3.3 4-2.4 4-2.4 4-2.8 4-3 4.1-3.5 4-3.8 2-2 2-2.1 4-4.6 4.1-5 4-5.3 4-5.8 2-3.2 2-3.5 2-3.7 2-4 2-4.4 2.1-4.7 2-5.2 2-5.6 2-6.3 2-6.7 2-7.2 2-7.8 2-8.5 2-9.4 2.1-10.5 2-12 2-13.8 2-16.2 2-19.4 2-23.4 2-29M428.7 609.2l4 1.4 4 .9 4.1 .5 4 .1 4-.2 2-.3 4-.8 8.1-2 12-3.2 6.1-1.8 22.1-7.9 22.1-7 18.1-5.9 16.1-5.4 16.1-5.7 10-3.7 10.1-3.8 8-3.3 8.1-3.3 8-3.6 6-2.8 6.1-2.9 6-3.1 6-3.4 4-2.3 4.1-2.6 4-2.7 4-3.1 4-3.5 4-3.8 2.1-2.1 2-2.2 4-4.6 4-5 4-5.4 4.1-5.9 2-3.3 2-3.5 2-3.8 2-4.1 2-4.4 2-4.9 2-5.2 2-5.8 2-6.4 2.1-6.9 2-7.3 2-8 2-8.7 2-9.6 2-10.8 2-12.3 2-14.2 2-16.7 2.1-19.8 2-24.1 2-29.6M427.2 606.8l2 .9 2 .8 4 1.2 4 .8 4 .2 4.1-.1 2-.2 4-.8 6-1.4 14.1-3.6 6-1.9 22.1-7.9 20.1-6.3 16.1-5.2 16.1-5.3 16.1-5.7 10.1-3.6 10-3.8 8-3.2 8.1-3.3 8-3.5 6.1-2.7 8-3.9 6-3.1 6.1-3.3 6-3.5 4-2.5 4-2.8 4.1-3.2 4-3.5 4-3.9 2-2.1 4-4.4 2-2.4 4.1-5.1 4-5.5 4-6 2-3.4 2-3.5 2-3.9 2.1-4.2 2-4.5 2-4.9 2-5.4 2-5.8 2-6.5 2-7.1 2-7.5 2-8.1 2-8.9 2.1-9.8 2-11.1 2-12.6 2-14.6 2-17.1 2-20.3 2-24.7 2-30.3M425.6 604.2l2 1.1 2 1 2 .9 2.1 .7 2 .5 2 .4 2 .3 2 .2 2 .1 2-.1 2-.2 2-.3 6.1-1.3 10-2.4 6.1-1.6 4-1.1 6-2.1 18.1-6.5 20.1-6.3 14.1-4.5 14.1-4.7 14-4.8 10.1-3.6 10-3.8 10.1-3.9 8-3.2 8.1-3.4 8-3.6 8.1-3.8 6-3.1 6-3.2 6-3.5 6.1-3.8 4-2.8 4-3.2 4-3.6 4.1-3.9 2-2.1 4-4.5 2-2.5 4-5.1 4-5.6 4.1-6.1 2-3.4 2-3.6 2-3.9 2-4.3 2-4.5 2-5 2-5.5 2.1-6 2-6.6 2-7.1 2-7.7 2-8.3 2-9.1 2-10.1 2-11.3 2-12.9 2-14.9 2.1-17.5 2-20.9 2-25.2 2-31.1M424.1 601.5l2 1.4 2 1.2 2 1 2 .8 2 .7 2 .6 2 .4 2.1 .2 2 .1 2 0 2-.1 2-.3 6-1.2 10.1-2.3 6-1.5 4-1.2 6.1-2 12-4.5 6.1-2.1 30.1-9.4 14.1-4.6 14.1-4.8 12-4.3 10.1-3.7 10-3.9 8.1-3.2 8-3.4 8.1-3.6 8-3.8 6-3 6.1-3.2 6-3.5 6-3.7 4-2.7 4.1-3 4-3.4 4-3.8 4-4.1 4.1-4.6 2-2.5 4-5.2 4-5.6 4-6.2 2-3.4 2-3.7 2.1-4 2-4.3 2-4.7 2-5 2-5.6 2-6.1 2-6.7 2-7.3 2-7.8 2.1-8.4 2-9.3 2-10.3 2-11.6 2-13.2 2-15.3 2-17.9 2-21.3 2-25.8 2-31.7M422.5 598.7l2 1.6 2 1.4 2.1 1.2 2 1.1 2 .8 2 .7 2 .5 2 .3 2 .2 2 .1 2-.1 2.1-.3 4-.7 6-1.2 6-1.4 6.1-1.5 4-1.2 6-2 12.1-4.4 6-2.1 28.2-8.8 12-3.9 12.1-4.1 12.1-4.2 10-3.6 10.1-3.8 10-4 10.1-4.1 8-3.6 8-3.7 6.1-3 6-3.2 6-3.4 6.1-3.6 6-4 4-3.1 4-3.4 4.1-3.8 4-4.2 4-4.6 4-5.1 2-2.7 4.1-5.7 4-6.3 2-3.5 2-3.7 2-4 2-4.4 2-4.7 2-5.2 2.1-5.6 2-6.2 2-6.8 2-7.4 2-7.9 2-8.7 2-9.4 2-10.6 2-11.8 2-13.5 2.1-15.6 2-18.3 2-21.8 2-26.3 2-32.3M421 595.9l2 1.8 2 1.6 2 1.4 2 1.2 2 1 2 .8 2.1 .6 2 .5 2 .3 2 .1 2-.1 4-.5 6.1-1.1 6-1.3 8-1.9 4-1.1 6.1-2 12-4.5 6.1-2.1 24.1-7.4 22.1-7.2 12.1-4.2 12-4.3 10.1-3.7 10-3.9 10.1-4.1 8-3.4 8.1-3.7 8-3.9 8.1-4.2 6-3.4 6-3.7 6.1-4.1 4-3.1 4-3.4 4-3.9 4-4.2 4.1-4.7 4-5.1 2-2.7 4-5.7 4-6.4 2-3.5 2.1-3.8 2-4.1 2-4.4 2-4.8 2-5.2 2-5.8 2-6.2 2-6.9 2-7.5 2.1-8.1 2-8.8 2-9.7 2-10.7 2-12.1 2-13.7 2-16 2-18.6 2-22.3 2-26.8 2.1-33M419.4 592.9l2.1 2.1 2 1.9 2 1.6 2 1.3 2 1.2 2 .9 2 .8 2 .5 2 .4 2 .1 2.1 0 2-.1 6-.9 6-1.2 8.1-1.8 6-1.6 6-2 12.1-4.4 6-2.2 20.1-6.1 18.1-5.8 14.1-4.7 12.1-4.2 12-4.4 10.1-3.8 10-4.1 10.1-4.2 8-3.6 8.1-3.9 8-4.2 6-3.3 6.1-3.7 6-3.9 4-2.9 2-1.6 4.1-3.5 4-3.9 4-4.2 4-4.7 4-5.2 2.1-2.7 4-5.8 4-6.5 2-3.6 2-3.8 2-4.1 2-4.5 2-4.9 2.1-5.3 2-5.7 2-6.4 2-7 2-7.6 2-8.2 2-8.9 2-9.9 2-10.9 2.1-12.3 2-14.1 2-16.2 2-19.1 2-22.6 2-27.4 2-33.5M417.9 589.8l2 2.4 2 2.1 2 1.8 2 1.6 2.1 1.3 2 1.1 2 .8 2 .7 2 .4 2 .3 2 .1 2-.2 6.1-.8 6-1.1 6-1.3 6.1-1.4 4-1.2 4-1.4 12.1-4.4 6-2.1 18.1-5.5 14.1-4.4 16-5.3 14.1-4.9 12.1-4.4 12-4.6 12.1-4.8 10.1-4.4 10-4.6 10.1-5.1 8-4.5 8-4.9 6.1-4.2 4-3.1 2-1.7 4-3.7 2-2 4.1-4.3 4-4.7 4-5.2 4-5.6 2-3 4.1-6.5 2-3.6 2-3.9 2-4.2 2-4.5 2-5 2-5.3 2-5.9 2-6.4 2-7.1 2.1-7.7 2-8.3 2-9.1 2-10 2-11.1 2-12.6 2-14.3 2-16.5 2-19.5 2.1-23 2-27.9 2-34.1M416.4 586.6l2 2.7 2 2.3 2 2.1 2 1.7 2 1.5 2 1.3 2 .9 2 .8 2 .5 2.1 .4 2 .1 2-.1 2-.2 4-.5 6-1 6.1-1.3 6-1.4 4-1.1 4-1.4 12.1-4.4 6-2.1 18.1-5.4 12.1-3.8 16.1-5.3 14.1-4.8 14-5.1 12.1-4.6 12.1-4.9 10-4.3 10.1-4.7 10-5.1 8.1-4.5 8-5 6-4.2 4.1-3.1 2-1.7 4-3.7 2-2 4-4.4 4-4.7 4.1-5.2 4-5.7 2-3 4-6.6 2-3.7 2-3.9 2-4.2 2.1-4.6 2-5 2-5.4 2-5.9 2-6.5 2-7.2 2-7.8 2-8.5 2-9.2 2-10.1 2.1-11.3 2-12.8 2-14.6 2-16.8 2-19.8 2-23.5 2-28.3 2-34.6M414.8 583.3l2 3 2 2.6 2 2.3 2.1 2 2 1.6 2 1.4 2 1.1 2 .9 2 .6 2 .4 2 .2 2 0 2-.2 4.1-.4 6-1 6-1.1 6.1-1.4 4-1.2 6-2 10.1-3.7 6-2.1 18.1-5.4 12.1-3.7 16-5.3 14.1-4.8 14.1-5.1 12.1-4.6 12-4.9 10.1-4.4 10-4.7 10.1-5.1 8-4.5 8.1-5.1 6-4.2 4-3.1 2-1.8 4-3.7 2.1-2 4-4.3 4-4.8 4-5.3 4-5.7 2-3 4.1-6.7 2-3.7 2-4 2-4.2 2-4.6 2-5.1 2-5.4 2-6 2.1-6.6 2-7.2 2-7.9 2-8.6 2-9.3 2-10.3 2-11.5 2-13 2-14.8 2-17.2 2.1-20.1 2-23.8 2-28.8 2-35.2M413.3 579.8l2 3.4 2 2.9 2 2.5 2 2.2 2 1.8 2 1.6 2 1.2 2.1 1 2 .7 2 .5 2 .3 2 0 2-.1 4-.4 4-.5 6.1-1.1 6-1.2 4-1 6.1-1.9 12-4.4 6.1-2.1 16-4.7 14.1-4.3 14.1-4.6 14.1-4.8 14-5 12.1-4.6 12.1-4.9 10-4.3 10.1-4.6 10-5.1 6.1-3.3 4-2.4 8-5 6-4.2 4.1-3.2 2-1.8 4-3.7 2-2 4-4.4 4.1-4.8 4-5.3 4-5.7 2-3.1 4-6.7 2-3.7 2-4 2.1-4.4 2-4.6 2-5.1 2-5.5 2-6 2-6.7 2-7.3 2-8 2-8.6 2.1-9.5 2-10.5 2-11.6 2-13.2 2-15.1 2-17.4 2-20.4 2-24.3 2-29.1 2-35.7M411.7 576.3l2 3.7 2 3.2 2.1 2.8 2 2.4 2 2 2 1.7 2 1.4 2 1.1 2 .8 2 .6 2 .3 2.1 .1 2-.1 4-.3 4-.5 6-.9 6.1-1.2 4-1 6-1.9 12.1-4.3 6-2.1 16.1-4.7 14.1-4.3 14-4.5 14.1-4.8 14.1-5 12.1-4.6 12-4.9 10.1-4.3 10-4.7 10.1-5.1 6-3.3 4-2.4 4-2.4 4.1-2.6 6-4.3 4-3.2 2-1.7 4.1-3.8 2-2 4-4.4 4-4.8 4-5.3 4-5.8 2.1-3.1 4-6.8 2-3.8 2-4 2-4.3 2-4.7 2-5.1 2-5.6 2.1-6.1 2-6.7 2-7.4 2-8.1 2-8.7 2-9.6 2-10.6 2-11.8 2-13.4 2-15.3 2.1-17.7 2-20.7 2-24.6 2-29.6 2-36.1M410.2 572.7l2 4 2 3.5 2 3 2 2.7 2 2.2 2 1.9 2.1 1.5 2 1.3 2 .9 2 .6 2 .4 2 .2 2-.1 4-.2 4.1-.4 6-.9 6-1.1 4-.9 6.1-1.9 12-4.3 6.1-2.1 16.1-4.6 12-3.7 14.1-4.5 14.1-4.7 14-5 12.1-4.5 12.1-4.9 12-5.1 10.1-4.7 10-5.1 6.1-3.4 4-2.3 4-2.5 4-2.7 6.1-4.2 4-3.3 2-1.7 4-3.8 2-2 4-4.4 4.1-4.9 4-5.3 4-5.8 2-3.1 4-6.8 2-3.8 2.1-4.1 2-4.4 2-4.7 2-5.2 2-5.6 2-6.1 2-6.8 2-7.4 2-8.1 2.1-8.9 2-9.7 2-10.7 2-12 2-13.6 2-15.5 2-17.9 2-21.1 2-24.9 2-30 2.1-36.5M408.6 569l2.1 4.3 2 3.8 2 3.4 2 2.8 2 2.5 2 2 2 1.7 2 1.4 2 1 2 .8 2.1 .4 2 .2 2 0 4-.1 4-.4 6.1-.8 6-1 4-.9 6-1.9 12.1-4.3 6-2 16.1-4.6 12.1-3.6 14-4.5 14.1-4.7 14.1-5 12.1-4.5 12-4.9 12.1-5.2 10-4.7 10.1-5.1 8-4.5 8.1-5 6-4.2 4-3.1 2-1.6 4.1-3.6 2-2 4-4.1 2-2.3 4-4.8 4-5.4 4.1-5.8 2-3.2 4-6.8 2-3.8 2-4.1 2-4.4 2-4.8 2-5.2 2.1-5.7 2-6.1 2-6.8 2-7.5 2-8.2 2-9 2-9.8 2-10.8 2-12.2 2.1-13.7 2-15.8 2-18.2 2-21.3 2-25.2 2-30.4 2-37M407.1 565.1l2 4.8 2 4.1 2 3.6 2 3.1 2.1 2.7 2 2.2 2 1.8 2 1.5 2 1.2 2 .8 2 .6 2 .2 2 .1 4.1-.1 4-.2 6-.7 6-1 4.1-.9 6-1.8 12.1-4.3 6-2 16.1-4.5 12-3.6 12.1-3.8 14.1-4.7 14-5 12.1-4.4 12.1-4.8 12-5.2 10.1-4.6 10-5.1 6.1-3.2 4-2.4 8-5 6.1-4.2 4-3.1 2-1.6 4-3.7 2-1.9 4-4.2 2.1-2.2 4-4.9 4-5.4 4-5.8 2-3.2 4.1-6.9 2-3.8 2-4.1 2-4.5 2-4.8 2-5.2 2-5.7 2-6.2 2-6.8 2-7.6 2.1-8.3 2-9 2-9.9 2-11 2-12.3 2-13.9 2-15.9 2-18.4 2-21.6 2.1-25.6 2-30.7 2-37.4M405.6 561.2l2 5.1 2 4.5 2 3.9 2 3.3 2 2.9 2 2.4 2 2 2 1.7 2 1.2 2.1 1 2 .6 2 .3 2 .1 4 .1 4-.2 6.1-.7 6-.9 4-.8 6-1.8 12.1-4.2 6-2 16.1-4.5 12.1-3.6 12.1-3.7 14-4.7 14.1-4.9 12.1-4.5 12-4.8 12.1-5.2 10-4.6 10.1-5.1 6-3.3 4-2.3 8.1-5.1 6-4.2 4-3.1 2.1-1.7 4-3.6 2-1.9 4-4.2 2-2.3 4-4.8 4.1-5.4 4-5.9 2-3.2 4-6.9 2-3.8 2-4.2 2-4.4 2.1-4.9 2-5.2 2-5.7 2-6.3 2-6.9 2-7.6 2-8.3 2-9.1 2-10 2-11.1 2.1-12.4 2-14.1 2-16.1 2-18.7 2-21.8 2-25.8 2-31.1 2-37.7M404 557.1l2 5.5 2 4.9 2 4.2 2.1 3.6 2 3.1 2 2.6 2 2.2 2 1.7 2 1.4 2 1.1 2 .7 2 .4 2 .1 4.1 .2 4-.2 6-.5 6.1-.8 4-.9 6-1.7 12.1-4.2 6-1.9 14.1-3.9 12-3.5 14.1-4.3 14.1-4.7 14.1-4.9 12-4.5 12.1-4.8 12-5.2 10.1-4.6 10.1-5.1 6-3.3 4-2.4 8-5 6.1-4.3 4-3.1 2-1.6 4-3.7 2-1.9 4.1-4.2 2-2.3 4-4.8 4-5.4 4-5.9 2-3.2 4.1-7 2-3.8 2-4.2 2-4.5 2-4.8 2-5.3 2-5.7 2-6.3 2-7 2.1-7.6 2-8.4 2-9.1 2-10.1 2-11.2 2-12.6 2-14.2 2-16.3 2-18.9 2.1-22 2-26.2 2-31.3 2-38.1M402.5 553l2 5.9 2 5.2 2 4.5 2 3.9 2 3.3 2 2.8 2 2.4 2.1 1.9 2 1.5 2 1.1 2 .8 2 .5 4 .4 4 .1 6.1-.3 6-.7 4-.7 4-.9 4.1-1.2 12-4.1 6.1-2 16-4.3 12.1-3.5 10.1-3.1 12-3.9 14.1-4.9 14.1-5.1 12-4.8 12.1-5 6-2.8 6.1-2.8 10-5.1 6-3.3 4.1-2.4 8-5.1 6-4.2 4.1-3.1 2-1.7 4-3.6 2-2 4-4.2 2-2.2 4-4.9 4.1-5.4 4-5.9 2-3.2 4-7 2-3.9 2-4.1 2.1-4.5 2-4.9 2-5.3 2-5.8 2-6.3 2-7 2-7.6 2-8.4 2-9.2 2-10.2 2.1-11.3 2-12.7 2-14.4 2-16.5 2-19 2-22.3 2-26.4 2-31.6 2-38.5M400.9 548.7l2 6.4 2 5.5 2.1 4.8 2 4.2 2 3.6 2 3 2 2.5 2 2.1 2 1.6 2 1.3 2 .8 2.1 .6 4 .5 4 .2 6-.2 6.1-.6 4-.6 4-.9 4-1.2 14.1-4.7 4-1.3 16.1-4.3 12.1-3.4 10-3.1 12.1-3.9 14-4.9 14.1-5.1 12.1-4.7 12-5.1 10.1-4.6 10.1-5 6-3.3 4-2.3 8-5 4.1-2.7 4-2.9 4-3.1 2-1.7 4-3.6 2.1-1.9 4-4.2 2-2.3 4-4.9 4-5.3 4-6 2.1-3.1 4-7.1 2-3.9 2-4.1 2-4.6 2-4.9 2-5.3 2-5.8 2.1-6.3 2-7 2-7.7 2-8.4 2-9.3 2-10.2 2-11.4 2-12.9 2-14.5 2-16.6 2.1-19.3 2-22.5 2-26.6 2-31.9 2-38.7M399.4 544.4l2 6.8 2 5.9 2 5.1 2 4.5 2 3.8 2 3.2 2.1 2.7 2 2.2 2 1.8 2 1.4 2 .9 2 .6 4 .7 4.1 .2 6 0 6-.5 4-.6 4.1-.9 4-1.1 14-4.7 4.1-1.2 14-3.7 12.1-3.4 10.1-3 12-3.9 14.1-4.7 14.1-5.1 14-5.5 12.1-5.1 10.1-4.6 10-5 6-3.3 4.1-2.3 8-5 4-2.7 4-2.9 4.1-3.1 2-1.7 4-3.6 2-2 4-4.2 2-2.2 4.1-4.9 4-5.3 4-6 2-3.2 4-7 2-3.9 2.1-4.2 2-4.5 2-4.9 2-5.4 2-5.8 2-6.4 2-7 2-7.7 2-8.5 2.1-9.3 2-10.3 2-11.5 2-12.9 2-14.6 2-16.8 2-19.4 2-22.8 2-26.8 2-32.1 2.1-39M397.8 539.9l2 7.3 2.1 6.3 2 5.5 2 4.7 2 4.1 2 3.4 2 2.9 2 2.4 2 1.9 2 1.4 2.1 1.1 2 .7 4 .7 4 .4 2 .1 4-.1 6.1-.4 4-.5 4-.8 4-1.2 14.1-4.6 4-1.2 14.1-3.6 12.1-3.3 10-3 12.1-3.9 14.1-4.7 14-5.1 14.1-5.5 12.1-5.1 10-4.6 10.1-5 6-3.3 4-2.3 8.1-5 4-2.7 4-2.9 6-4.8 4.1-3.7 2-1.9 4-4.2 2-2.2 4-4.9 4-5.3 4.1-6 2-3.2 4-7 2-3.9 2-4.2 2-4.6 2-4.9 2-5.3 2.1-5.9 2-6.3 2-7.1 2-7.7 2-8.5 2-9.4 2-10.3 2-11.6 2-13 2.1-14.8 2-16.9 2-19.6 2-22.9 2-27 2-32.4 2-39.3M396.3 535.4l2 7.7 2 6.7 2 5.8 2 5.1 2 4.3 2.1 3.6 2 3.1 2 2.5 2 2.1 2 1.6 2 1.1 2 .8 4 .9 4.1 .4 2 .1 4 .1 6-.3 4-.5 4.1-.8 4-1.1 14.1-4.5 4-1.2 14.1-3.6 10-2.7 10.1-2.9 12-3.8 14.1-4.7 14.1-5 14-5.4 12.1-5 12.1-5.5 10-5.1 6.1-3.2 4-2.4 8-5 4-2.7 4.1-2.9 6-4.8 4-3.6 2-2 4-4.2 2.1-2.2 4-4.8 4-5.4 4-5.9 2-3.2 4.1-7.1 2-3.9 2-4.2 2-4.6 2-4.9 2-5.3 2-5.9 2-6.4 2-7 2-7.7 2.1-8.6 2-9.4 2-10.4 2-11.6 2-13.1 2-14.9 2-17.1 2-19.7 2-23.1 2.1-27.2 2-32.6 2-39.4M394.8 530.7l2 8.2 2 7.1 2 6.2 2 5.3 2 4.6 2 3.9 2 3.3 2 2.7 2 2.2 2.1 1.7 2 1.2 2 .9 2 .5 4 .8 4 .4 4.1 .1 6-.2 4-.4 4-.8 4-1 14.1-4.5 4-1.2 14.1-3.4 10.1-2.7 10-3 12.1-3.7 14.1-4.7 14-5 14.1-5.4 12.1-5 6-2.7 6-2.8 10.1-5 6-3.3 4-2.3 8.1-5 4-2.8 4-2.9 6.1-4.8 4-3.6 2-2 4-4.1 2-2.3 4-4.8 4.1-5.3 4-5.9 2-3.2 4-7.1 2-3.9 2-4.2 2-4.6 2.1-4.9 2-5.4 2-5.8 2-6.4 2-7 2-7.8 2-8.6 2-9.4 2-10.4 2-11.8 2.1-13.1 2-15 2-17.2 2-19.9 2-23.2 2-27.4 2-32.8 2-39.6M393.2 526l2 8.7 2 7.5 2 6.5 2.1 5.7 2 4.8 2 4.2 2 3.4 2 2.9 2 2.3 2 1.8 2 1.4 2 .9 2 .6 4.1 .9 4 .5 4 .3 6-.2 4.1-.3 4-.8 4-1 16.1-5 4-1 12.1-2.9 8-2.1 10.1-2.9 12-3.7 16.1-5.2 14.1-5 14.1-5.4 12-5 6.1-2.7 6-2.8 10-5.1 6.1-3.2 4-2.4 8-5 4.1-2.7 4-2.9 6-4.9 4-3.6 2-1.9 4.1-4.2 2-2.2 4-4.8 4-5.3 4-5.9 2-3.2 4.1-7.1 2-3.9 2-4.2 2-4.6 2-4.9 2-5.4 2-5.8 2-6.4 2-7 2.1-7.8 2-8.6 2-9.4 2-10.5 2-11.8 2-13.3 2-15 2-17.3 2-20 2.1-23.4 2-27.6 2-32.9 2-39.8M391.7 521.2l2 9.1 2 8 2 6.9 2 6 2 5.1 2 4.3 2 3.7 2.1 3.1 2 2.4 2 2 2 1.4 2 1 2 .7 4 1.1 4 .6 4.1 .3 6-.1 4-.3 2-.3 4.1-.8 4-1.1 12-3.7 4.1-1.2 12-2.8 10.1-2.6 10-2.8 12.1-3.6 16.1-5.3 14-5 14.1-5.4 12.1-5 6-2.6 6-2.9 10.1-5 6-3.3 4-2.3 8.1-5 4-2.8 4-2.9 6.1-4.8 4-3.6 2-1.9 4-4.2 2-2.2 4-4.8 4.1-5.2 4-5.9 2-3.3 4-7 2-3.9 2-4.3 2.1-4.5 2-4.9 2-5.4 2-5.8 2-6.4 2-7.1 2-7.7 2-8.6 2-9.5 2-10.5 2.1-11.8 2-13.4 2-15.1 2-17.4 2-20.1 2-23.5 2-27.7 2-33.1 2-40M390.1 516.3l2 9.7 2 8.3 2.1 7.3 2 6.3 2 5.4 2 4.6 2 3.9 2 3.2 2 2.6 2 2.1 2 1.5 2.1 1.1 2 .8 4 1.2 4 .7 4 .4 6.1 0 4-.2 4-.7 4-.9 16.1-4.8 4-1 10.1-2.3 8-2 10.1-2.8 12-3.5 16.1-5.2 14.1-4.9 14.1-5.3 12-4.9 12.1-5.4 10-5 6.1-3.2 4-2.3 8-4.8 4.1-2.7 4-2.8 4-3.1 4-3.3 4-3.5 2.1-2 4-4.1 2-2.2 4-4.7 4-5.3 4-5.9 2.1-3.2 4-7 2-3.9 2-4.3 2-4.5 2-4.9 2-5.4 2-5.8 2.1-6.4 2-7 2-7.8 2-8.6 2-9.5 2-10.5 2-11.9 2-13.4 2-15.2 2-17.5 2.1-20.2 2-23.6 2-27.8 2-33.2 2-40.1M388.6 511.3l2 10.2 2 8.8 2 7.7 2 6.6 2 5.7 2 4.8 2.1 4.1 2 3.4 2 2.7 2 2.2 2 1.7 2 1.2 2 .8 2 .8 2 .5 4.1 .9 4 .4 2 .1 4 .1 4-.2 4.1-.6 4-.9 16.1-4.7 4-1 10-2.2 8.1-2 10-2.7 10.1-2.9 16.1-5.1 14-4.8 14.1-5.3 12.1-4.8 12-5.3 10.1-4.9 6-3.1 4-2.2 8.1-4.8 4-2.6 4-2.7 4-2.9 4.1-3.2 6-5.2 4-3.9 2-2.1 4.1-4.5 4-5 4-5.5 2-3 4-6.6 2-3.7 2-3.9 2.1-4.2 2-4.6 2-4.9 2-5.3 2-5.9 2-6.3 2-7.1 2-7.7 2-8.6 2.1-9.5 2-10.6 2-11.8 2-13.5 2-15.3 2-17.5 2-20.3 2-23.8 2-27.9 2-33.3 2.1-40.1M387 506.2l2 10.7 2.1 9.3 2 8.1 2 6.9 2 6 2 5.1 2 4.2 2 3.6 2 2.9 2 2.4 2.1 1.8 2 1.2 2 1 2 .8 2 .6 4 .9 4 .6 2 .1 4.1 .2 4-.1 4-.6 4-.9 16.1-4.5 4-1 10.1-2.2 8-1.9 10.1-2.7 10-2.9 14.1-4.4 14.1-4.8 14.1-5.1 12-4.8 12.1-5.2 10-4.8 10.1-5.2 6-3.4 4-2.5 4.1-2.6 4-2.7 4-2.9 4-3.2 6.1-5.2 4-3.9 2-2.1 4-4.4 4-5 4.1-5.5 2-3 4-6.6 2-3.6 2-3.9 2-4.2 2-4.6 2-4.9 2-5.3 2.1-5.8 2-6.4 2-7 2-7.7 2-8.6 2-9.5 2-10.6 2-11.9 2-13.5 2.1-15.4 2-17.6 2-20.4 2-23.7 2-28.1 2-33.3 2-40.3M385.5 501.1l2 11.2 2 9.8 2 8.4 2 7.3 2 6.2 2.1 5.4 2 4.5 2 3.7 2 3.1 2 2.5 2 1.9 2 1.3 2 1.1 2 .8 2.1 .7 2 .6 4 .8 4 .5 6 .3 2-.1 2.1-.2 2-.3 4-.9 16.1-4.4 4-1 8-1.7 8.1-1.8 8-2.1 10.1-2.7 14-4.3 14.1-4.6 14.1-5 14.1-5.5 12-5.1 10.1-4.7 10-5.1 6.1-3.4 4-2.3 4-2.6 4-2.6 4.1-2.8 4-3.1 4-3.2 4-3.6 4-3.8 2-2.1 4.1-4.4 4-4.9 4-5.5 2-3 4-6.6 2-3.6 2.1-3.9 2-4.2 2-4.5 2-4.9 2-5.3 2-5.8 2-6.4 2-7 2-7.7 2.1-8.5 2-9.5 2-10.6 2-12 2-13.5 2-15.4 2-17.7 2-20.4 2-23.9 2-28.1 2.1-33.4 2-40.3M384 495.9l2 11.8 2 10.2 2 8.8 2 7.6 2 6.6 2 5.5 2 4.8 2 3.9 2 3.3 2.1 2.6 2 2 2 1.4 2 1.1 2 1 2 .7 2 .7 4 .9 4.1 .6 2 .2 4 .1 2 0 2-.2 2-.3 4-.8 4.1-1 12-3.3 4.1-1 10-2 6-1.4 8.1-2 8-2.2 14.1-4.1 16.1-5.3 14.1-5 14-5.4 12.1-5.1 10-4.7 10.1-5.1 6-3.3 4-2.4 4.1-2.5 4-2.7 4-2.8 4-3 4-3.3 4.1-3.5 4-3.8 2-2.1 4-4.4 4-4.9 4.1-5.4 2-3 4-6.5 2-3.7 2-3.8 2-4.2 2-4.5 2-4.9 2.1-5.3 2-5.8 2-6.3 2-7 2-7.7 2-8.5 2-9.5 2-10.6 2-12 2.1-13.5 2-15.5 2-17.7 2-20.5 2-23.9 2-28.1 2-33.5 2-40.3M382.4 490.6l2 12.3 2 10.7 2 9.2 2.1 8 2 6.8 2 5.9 2 4.9 2 4.2 2 3.4 2 2.7 2 2.1 2 1.6 2 1.2 2.1 1 2 .8 2 .7 4 1.1 4 .7 2 .2 4.1 .2 2 0 2-.2 2-.2 4-.8 4-1 12.1-3.2 4-.9 10.1-2 6-1.4 8-1.9 8.1-2.2 14-4.1 8.1-2.5 8-2.7 14.1-5 14.1-5.4 12-5.1 10.1-4.7 10-5.1 6.1-3.3 4-2.4 4-2.5 4-2.7 4.1-2.8 4-3 4-3.2 4-3.5 4-3.8 2.1-2.1 4-4.3 4-4.9 4-5.4 2-3 4.1-6.5 2-3.6 2-3.9 2-4.1 2-4.5 2-4.9 2-5.3 2-5.7 2-6.3 2-7 2.1-7.6 2-8.5 2-9.5 2-10.6 2-12 2-13.5 2-15.5 2-17.8 2-20.5 2.1-24 2-28.1 2-33.5 2-40.3M380.9 485.2l2 12.9 2 11.2 2 9.6 2 8.3 2 7.2 2 6.1 2 5.2 2.1 4.3 2 3.6 2 2.8 2 2.3 2 1.6 2 1.3 2 1.1 2 .9 2 .8 4.1 1.1 4 .8 2 .3 4 .3 2 0 2-.2 2-.2 4.1-.7 4-1 12-3.1 4.1-.9 8-1.5 6-1.3 8.1-1.9 8-2.1 14.1-4 8-2.5 8.1-2.6 14.1-4.9 14-5.3 12.1-5 6-2.7 6.1-2.8 10-5.1 6-3.4 4.1-2.3 4-2.5 4-2.7 4-2.8 4-3 4.1-3.3 4-3.4 4-3.8 2-2 4-4.4 4.1-4.8 4-5.3 2-3 4-6.5 2-3.6 2-3.8 2-4.2 2.1-4.4 2-4.9 2-5.3 2-5.7 2-6.3 2-6.9 2-7.6 2-8.5 2-9.4 2-10.6 2.1-12 2-13.6 2-15.5 2-17.7 2-20.6 2-24 2-28.2 2-33.5 2-40.2M379.3 479.8l2 13.5 2 11.6 2.1 10.1 2 8.6 2 7.5 2 6.4 2 5.3 2 4.6 2 3.7 2 3 2 2.4 2 1.8 2.1 1.3 2 1.2 2 1 2 .8 4 1.3 4 .8 2 .3 4.1 .4 2 0 2-.1 2-.2 4-.6 4-1 12.1-3 4-.8 8.1-1.5 6-1.3 8-1.8 8.1-2.1 14.1-4 8-2.4 8-2.6 14.1-4.9 14.1-5.3 12-5 6.1-2.7 6-2.8 10.1-5.1 6-3.3 4-2.4 4-2.5 4.1-2.6 4-2.9 4-3 4-3.2 4-3.4 4.1-3.8 2-2 4-4.3 4-4.7 4-5.4 2-2.9 4.1-6.4 2-3.6 2-3.9 2-4.1 2-4.4 2-4.9 2-5.2 2-5.7 2.1-6.3 2-6.8 2-7.6 2-8.4 2-9.5 2-10.6 2-11.9 2-13.6 2-15.5 2-17.8 2.1-20.6 2-24 2-28.2 2-33.4 2-40.2M377.8 474.3l2 14.1 2 12.1 2 10.5 2 9 2 7.8 2 6.6 2.1 5.6 2 4.7 2 3.9 2 3.2 2 2.5 2 1.8 2 1.5 2 1.2 2 1.1 2 .9 4.1 1.4 4 .9 2 .4 4 .4 2 .1 2-.1 2.1-.1 4-.7 4-.8 12.1-3 4-.8 8-1.4 6.1-1.2 6-1.4 8-2 14.1-3.8 14.1-4.3 14-4.8 14.1-5.1 12.1-4.9 6-2.5 6-2.8 10.1-4.8 6-3.2 4.1-2.3 6-3.6 4-2.5 4-2.7 4-2.9 4.1-3.1 4-3.3 6-5.5 4-4.1 4.1-4.4 4-5 2-2.7 4-6.1 2-3.3 2-3.5 2-3.9 2.1-4.1 2-4.4 2-4.8 2-5.2 2-5.7 2-6.2 2-6.8 2-7.6 2-8.4 2.1-9.4 2-10.5 2-12 2-13.6 2-15.4 2-17.9 2-20.5 2-24 2-28.2 2-33.4 2.1-40.1M376.2 468.8l2 14.6 2.1 12.6 2 10.9 2 9.4 2 8.1 2 6.9 2 5.8 2 5 2 4 2 3.3 2.1 2.6 2 2 2 1.6 2 1.3 2 1.1 2 1 2 .8 2 .7 4 1.1 2.1 .3 4 .6 2 .1 2-.1 2-.1 4-.6 4.1-.8 10-2.4 4-.9 10.1-1.7 8-1.7 12.1-2.8 14.1-3.8 14-4.3 14.1-4.7 14.1-5.1 12-4.8 6.1-2.6 6-2.7 10.1-4.9 6-3.1 4-2.3 8.1-4.8 4-2.7 4-2.8 4-3 4-3.1 4.1-3.4 4-3.7 4-4 4-4.5 4-4.9 2.1-2.7 4-6 2-3.3 2-3.5 2-3.8 2-4.1 2-4.4 2-4.8 2-5.2 2.1-5.6 2-6.2 2-6.8 2-7.5 2-8.3 2-9.4 2-10.5 2-12 2-13.5 2-15.5 2.1-17.8 2-20.6 2-23.9 2-28.2 2-33.3 2-40M374.7 463.2l2 15.2 2 13.1 2 11.4 2 9.7 2 8.4 2.1 7.2 2 6 2 5.1 2 4.3 2 3.5 2 2.7 2 2.1 2 1.6 2 1.4 2.1 1.2 2 1.1 2 .9 2 .7 4 1.1 2 .5 4 .6 2 .1 2.1 0 2-.1 4-.6 4-.7 14.1-3.2 10-1.7 6.1-1.1 12-2.7 6.1-1.5 8-2.2 14.1-4.2 14.1-4.6 14-5 8.1-3.1 6-2.5 6-2.6 6.1-2.7 10-4.8 6-3.2 4.1-2.2 8-4.8 4-2.7 4-2.8 4.1-2.9 4-3.2 4-3.4 4-3.6 4.1-4 4-4.4 4-4.9 2-2.6 4-6 2-3.3 2-3.5 2.1-3.7 2-4.1 2-4.4 2-4.7 2-5.2 2-5.6 2-6.1 2-6.8 2-7.4 2.1-8.3 2-9.3 2-10.5 2-11.9 2-13.6 2-15.5 2-17.7 2-20.6 2-23.9 2-28.1 2.1-33.3 2-39.8M373.2 457.6l2 15.8 2 13.6 2 11.7 2 10.2 2 8.7 2 7.4 2 6.3 2 5.3 2 4.4 2.1 3.6 2 2.9 2 2.2 2 1.7 2 1.5 2 1.3 2 1.1 2 1 2 .8 4.1 1.2 2 .5 4 .7 2 .2 2 0 2-.1 4-.5 4.1-.7 14-3.1 10.1-1.6 6-1.1 6.1-1.3 6-1.3 6-1.5 8.1-2.2 14-4.1 14.1-4.6 14.1-5 8-3.1 6.1-2.5 6-2.5 6-2.7 10.1-4.8 6-3.2 4-2.2 8.1-4.8 4-2.6 4-2.8 4-3 4-3.1 4.1-3.4 4-3.6 4-3.9 4-4.3 4.1-4.9 2-2.7 4-5.8 2-3.3 2-3.5 2-3.7 2-4.1 2-4.3 2-4.7 2.1-5.1 2-5.6 2-6.1 2-6.7 2-7.4 2-8.2 2-9.3 2-10.5 2-11.9 2.1-13.5 2-15.4 2-17.8 2-20.5 2-23.9 2-28 2-33.2 2-39.7M371.6 451.9l2 16.4 2 14.1 2 12.2 2.1 10.5 2 9 2 7.7 2 6.6 2 5.5 2 4.6 2 3.7 2 3 2 2.3 2 1.8 2.1 1.6 2 1.4 2 1.2 2 1 2 .9 4 1.3 2 .5 4 .8 2.1 .2 2 0 2 0 4-.5 4-.7 14.1-2.8 8-1.3 6.1-1 6-1.2 6-1.3 12.1-3 14.1-4 14-4.4 14.1-4.8 12.1-4.6 12-5 6.1-2.6 6-2.9 10.1-5.1 6-3.4 4-2.3 4-2.6 4.1-2.7 4-2.8 4-3.1 4-3.2 4-3.4 4.1-3.7 4-4.1 4-4.5 4-5.1 4-5.9 2.1-3.2 2-3.5 2-3.7 2-4 2-4.3 2-4.7 2-5.1 2-5.5 2-6 2-6.7 2.1-7.3 2-8.2 2-9.2 2-10.5 2-11.8 2-13.5 2-15.4 2-17.7 2-20.5 2.1-23.8 2-28 2-33 2-39.5M370.1 446.2l2 17 2 14.6 2 12.6 2 10.9 2 9.3 2 8 2 6.8 2 5.7 2.1 4.8 2 3.9 2 3.1 2 2.4 2 1.9 2 1.7 2 1.5 2 1.2 2 1.1 2.1 .9 4 1.5 2 .5 4 .9 2 .2 2 .1 2 0 2-.2 4.1-.5 16.1-3.1 8-1.2 6-1 6.1-1.1 6-1.3 12.1-3 14-3.9 14.1-4.4 14.1-4.8 12-4.5 12.1-5 6-2.7 6.1-2.8 10-5.1 6-3.3 4.1-2.4 4-2.5 4-2.7 4-2.9 4.1-3 4-3.2 4-3.4 4-3.7 4-4 4.1-4.5 4-5 4-5.8 2-3.2 2-3.5 2-3.6 2-4 2.1-4.3 2-4.6 2-5.1 2-5.4 2-6 2-6.6 2-7.3 2-8.1 2-9.2 2-10.4 2.1-11.8 2-13.4 2-15.4 2-17.6 2-20.4 2-23.8 2-27.9 2-32.9 2-39.3M368.5 440.4l2 17.6 2 15.2 2.1 13 2 11.3 2 9.6 2 8.3 2 7 2 5.9 2 4.9 2 4.1 2 3.3 2 2.5 2.1 2 2 1.8 2 1.5 2 1.3 2 1.2 2 1 4 1.5 2 .6 4.1 1 2 .2 2 .2 2-.1 2-.1 4-.5 16.1-2.9 8.1-1.1 6-1 10-1.9 12.1-2.8 14.1-3.9 14-4.2 14.1-4.8 8.1-2.9 6-2.3 12.1-4.9 6-2.7 6-2.8 10.1-5.1 6-3.3 4-2.4 4-2.5 4.1-2.7 4-2.8 4-3 4-3.2 4.1-3.3 4-3.7 4-3.9 4-4.5 4-4.9 2-2.8 2.1-3 2-3.2 2-3.4 2-3.6 2-4 2-4.2 2-4.6 2-5 2-5.4 2.1-6 2-6.5 2-7.2 2-8.1 2-9.1 2-10.3 2-11.8 2-13.3 2-15.4 2-17.6 2.1-20.3 2-23.7 2-27.7 2-32.8 2-39.1M367 434.6l2 18.3 2 15.6 2 13.5 2 11.6 2 10 2 8.5 2.1 7.3 2 6.1 2 5.1 2 4.2 2 3.4 2 2.6 2 2.2 2 1.8 2 1.6 2 1.4 2.1 1.3 2 1 2 .9 2 .8 4 1.2 2 .4 2 .3 2 .2 2.1 0 4-.3 4-.5 14.1-2.5 10-1.3 10.1-1.7 6-1.3 6-1.4 12.1-3 14.1-4.1 14-4.5 14.1-4.9 12.1-4.7 6-2.5 6-2.7 6.1-2.8 6-2.9 6-3.2 4.1-2.3 8-4.8 4-2.7 4-2.8 6.1-4.5 4-3.3 4-3.4 4-3.8 4.1-4.1 4-4.6 4-5.3 2-2.9 4-6.6 2-3.6 2.1-3.9 2-4.2 2-4.6 2-4.9 2-5.4 2-5.9 2-6.5 2-7.1 2-8 2-9.1 2.1-10.2 2-11.7 2-13.3 2-15.3 2-17.5 2-20.3 2-23.5 2-27.7 2-32.5 2.1-38.9M365.4 428.8l2 18.9 2.1 16.1 2 14 2 11.9 2 10.3 2 8.8 2 7.5 2 6.3 2 5.3 2 4.4 2.1 3.5 2 2.8 2 2.2 2 2 2 1.7 2 1.4 2 1.3 2 1.1 2 1 2 .8 4.1 1.3 2 .5 2 .4 2 .1 2 .1 4-.2 6.1-.8 12-2.1 10.1-1.2 8-1.3 6.1-1.2 6-1.3 6-1.4 8.1-2.1 14-4 14.1-4.5 14.1-4.9 12-4.7 6.1-2.5 6-2.6 6-2.8 6.1-2.9 6-3.2 4-2.2 8.1-4.9 4-2.6 4-2.8 6-4.5 4.1-3.2 4-3.4 4-3.7 4-4.1 4-4.5 4.1-5.3 2-2.9 4-6.5 2-3.6 2-3.8 2-4.2 2-4.5 2-4.9 2.1-5.3 2-5.9 2-6.4 2-7.1 2-7.9 2-9 2-10.2 2-11.6 2-13.2 2-15.2 2.1-17.5 2-20.1 2-23.5 2-27.5 2-32.4 2-38.5M363.9 423l2 19.4 2 16.8 2 14.3 2 12.4 2 10.6 2.1 9 2 7.8 2 6.5 2 5.5 2 4.5 2 3.6 2 2.9 2 2.4 2 2 2.1 1.8 2 1.5 2 1.4 2 1.1 2 1.1 2 .8 4 1.4 2 .6 2 .4 2.1 .2 2 .1 4-.2 6-.7 12.1-2 12-1.4 6.1-1 6-1.1 6-1.3 12.1-2.9 12.1-3.3 14-4.3 14.1-4.8 8.1-2.9 6-2.4 12-5 6.1-2.7 6-2.9 6-3.1 4.1-2.1 6-3.5 4-2.5 4-2.6 4.1-2.8 8-6 4-3.3 4-3.4 4.1-3.9 4-4.2 4-4.8 2-2.7 2-2.9 4-6.4 2.1-3.6 2-3.8 2-4.1 2-4.5 2-4.8 2-5.3 2-5.8 2-6.4 2-6.9 2.1-7.9 2-8.9 2-10.1 2-11.6 2-13.1 2-15.1 2-17.4 2-20.1 2-23.3 2-27.3 2.1-32.2 2-38.3M362.4 417.1l2 20.1 2 17.2 2 14.8 2 12.8 2 10.9 2 9.3 2 8 2 6.7 2 5.7 2.1 4.6 2 3.8 2 3 2 2.5 2 2.1 2 1.9 2 1.6 2 1.4 2 1.3 2.1 1 2 1 4 1.4 2 .6 2 .5 2 .2 2 .1 4-.1 4.1-.4 14-2 10.1-1.1 6-.9 10.1-1.9 12-2.7 12.1-3.1 14.1-4.1 14-4.6 8.1-2.9 6-2.2 12.1-4.9 6-2.6 6-2.7 10.1-5 6-3.3 4.1-2.3 4-2.5 4-2.6 4-2.8 6-4.4 6.1-4.7 4-3.5 4-3.7 4-4.2 4.1-4.8 2-2.6 2-2.9 4-6.3 2-3.6 2-3.8 2-4 2-4.5 2.1-4.8 2-5.2 2-5.7 2-6.3 2-6.9 2-7.8 2-8.8 2-10 2-11.5 2.1-13.1 2-15 2-17.3 2-20 2-23.1 2-27.2 2-31.9 2-38M360.8 411.3l2 20.7 2 17.7 2 15.3 2 13.1 2.1 11.2 2 9.6 2 8.2 2 6.9 2 5.9 2 4.8 2 3.9 2 3.1 2 2.6 2.1 2.2 2 2 2 1.7 2 1.5 2 1.3 2 1.1 2 1 4 1.6 2 .6 2.1 .4 2 .3 2 .2 4 0 4-.4 14.1-1.9 8-.8 6.1-.8 10-1.7 6.1-1.2 6-1.3 12-3.1 14.1-4 14.1-4.5 14.1-5 12-4.7 6.1-2.6 6-2.7 10-4.8 6.1-3.2 4-2.2 6-3.7 4.1-2.6 8-5.6 6-4.6 4-3.3 4.1-3.5 4-3.9 4-4.4 4-5 2-2.9 4.1-6.3 2-3.4 2-3.8 2-4 2-4.4 2-4.7 2-5.2 2-5.7 2-6.2 2.1-6.8 2-7.7 2-8.7 2-10 2-11.4 2-13 2-14.9 2-17.2 2-19.8 2.1-23.1 2-26.9 2-31.7 2-37.7M359.3 405.4l2 21.3 2 18.3 2 15.7 2 13.4 2 11.6 2 9.9 2 8.4 2 7.2 2.1 6 2 4.9 2 4.1 2 3.2 2 2.7 2 2.3 2 2.1 2 1.7 2 1.6 2.1 1.4 2 1.2 2 1 2 .9 4 1.4 2 .5 2 .4 2 .2 2 0 2.1 0 4-.3 14.1-1.8 10-.9 4-.6 6.1-.9 10-1.9 12.1-2.8 12-3.2 14.1-4.2 14.1-4.6 8-2.9 6.1-2.3 12-5 6.1-2.6 6-2.9 6-3 4-2.1 6.1-3.4 4-2.4 4-2.6 4-2.8 6.1-4.3 6-4.6 4-3.4 4-3.6 4.1-4.1 4-4.6 2-2.6 2-2.8 2-3 4-6.7 2-3.7 2.1-4 2-4.3 2-4.7 2-5.1 2-5.6 2-6.1 2-6.8 2-7.6 2-8.6 2-9.9 2.1-11.3 2-12.9 2-14.8 2-17.1 2-19.7 2-22.9 2-26.7 2-31.5 2-37.3M357.7 399.6l2 21.9 2 18.8 2.1 16.1 2 13.8 2 11.9 2 10.1 2 8.7 2 7.4 2 6.1 2 5.2 2 4.2 2 3.3 2.1 2.8 2 2.4 2 2.1 2 1.9 2 1.6 2 1.5 2 1.2 2 1.1 2 .9 4.1 1.6 2 .5 2 .4 2 .2 4 .1 6-.4 12.1-1.4 10.1-.9 4-.5 6-.9 6-1.1 8.1-1.6 8-1.9 8.1-2.1 14-4 14.1-4.5 8.1-2.8 6-2.2 8-3.1 6.1-2.5 6-2.6 6-2.7 6.1-3 4-2 6-3.3 4-2.4 4.1-2.5 4-2.6 6-4.3 6-4.4 4.1-3.2 4-3.4 4-3.8 4-4.3 4-4.9 2.1-2.7 4-6.2 2-3.4 2-3.7 2-3.9 2-4.3 2-4.6 2-5.1 2-5.5 2.1-6 2-6.7 2-7.5 2-8.6 2-9.8 2-11.2 2-12.8 2-14.7 2-16.9 2.1-19.6 2-22.7 2-26.5 2-31.2 2-36.9M356.2 393.7l2 22.6 2 19.3 2 16.5 2 14.2 2 12.2 2 10.4 2.1 8.9 2 7.5 2 6.4 2 5.3 2 4.3 2 3.5 2 2.9 2 2.5 2 2.2 2 2 2.1 1.7 2 1.5 2 1.3 2 1.1 2 1 4 1.6 2 .6 2 .4 2.1 .3 4 .1 6-.3 12.1-1.3 10-.8 4-.5 6.1-.9 6-1 8-1.6 6.1-1.4 8-2 6.1-1.6 8-2.3 14.1-4.4 8-2.7 6-2.1 12.1-4.7 6-2.5 6.1-2.6 10-4.8 6-3.1 4.1-2.2 6-3.6 4-2.5 6.1-4.1 6-4.4 6-4.6 4-3.4 4.1-3.7 4-4.2 4-4.8 2-2.7 4-6.1 2-3.4 2.1-3.6 2-3.9 2-4.2 2-4.6 2-5 2-5.4 2-6 2-6.6 2-7.4 2-8.5 2.1-9.7 2-11.1 2-12.7 2-14.6 2-16.8 2-19.4 2-22.5 2-26.3 2-30.9 2.1-36.6M354.6 387.9l2 23.1 2.1 19.9 2 16.9 2 14.6 2 12.5 2 10.7 2 9.1 2 7.7 2 6.6 2 5.4 2.1 4.5 2 3.6 2 3 2 2.6 2 2.3 2 2 2 1.8 2 1.5 2 1.4 2 1.2 2.1 1.1 4 1.7 2 .6 2 .4 2 .3 4 .2 6.1-.2 12-1.2 10.1-.7 8-1 6.1-.9 8-1.6 6-1.3 8.1-1.9 6-1.5 8-2.3 14.1-4.2 14.1-4.8 12-4.6 6.1-2.4 6-2.6 10.1-4.6 6-3 4-2.2 6-3.4 4.1-2.5 6-3.9 8-5.7 6.1-4.6 4-3.3 4-3.6 4-4.2 2-2.3 2.1-2.4 2-2.7 4-6 2-3.4 2-3.5 2-3.9 2-4.1 2-4.6 2.1-4.9 2-5.3 2-5.9 2-6.5 2-7.4 2-8.3 2-9.6 2-11 2-12.6 2-14.5 2.1-16.7 2-19.2 2-22.3 2-26.1 2-30.5 2-36.2M353.1 382l2 23.8 2 20.3 2 17.4 2 15 2 12.8 2.1 10.9 2 9.4 2 7.9 2 6.7 2 5.6 2 4.6 2 3.8 2 3.1 2 2.7 2 2.4 2.1 2.1 2 1.8 2 1.6 2 1.5 2 1.2 2 1.1 4 1.8 2 .7 2.1 .5 2 .3 2 .2 2 .1 4-.1 4-.3 10.1-.8 8-.5 8.1-.9 6-.8 6-1.1 6.1-1.1 8-1.8 12.1-3.1 14-4 14.1-4.5 8.1-2.9 6-2.2 12-4.8 10.1-4.4 10.1-4.9 6-3.3 4-2.3 6-3.7 6.1-4 8-5.7 6-4.6 4.1-3.4 4-3.8 4-4.4 2-2.4 2-2.7 2-2.9 4.1-6.3 2-3.5 2-3.8 2-4.1 2-4.5 2-4.8 2-5.3 2-5.9 2-6.4 2.1-7.2 2-8.3 2-9.5 2-10.8 2-12.5 2-14.4 2-16.5 2-19 2-22.1 2-25.8 2.1-30.3 2-35.8M351.5 376.2l2.1 24.4 2 20.9 2 17.8 2 15.3 2 13.1 2 11.2 2 9.6 2 8.1 2 6.9 2.1 5.7 2 4.8 2 3.8 2 3.2 2 2.8 2 2.5 2 2.2 2 1.9 2 1.7 2 1.5 2.1 1.3 2 1.2 2 1 2 .9 2 .7 2 .5 2 .3 2 .3 4.1 .1 6-.2 10-.8 8.1-.4 6-.6 6-.7 6.1-1 6-1.1 6-1.2 12.1-2.9 6-1.6 8.1-2.3 14-4.3 8.1-2.7 6-2.2 12.1-4.6 6-2.5 6-2.6 10.1-4.8 6-3.1 4.1-2.2 6-3.6 4-2.6 10.1-6.9 6-4.4 4-3.2 4-3.5 4.1-4 2-2.2 2-2.4 2-2.7 2-2.8 4-6.3 2-3.4 2-3.8 2-4 2.1-4.4 2-4.8 2-5.2 2-5.7 2-6.3 2-7.2 2-8.1 2-9.4 2-10.8 2.1-12.4 2-14.2 2-16.3 2-18.9 2-21.9 2-25.5 2-29.9 2-35.4M350 370.5l2 25 2 21.3 2 18.2 2 15.7 2.1 13.4 2 11.4 2 9.8 2 8.4 2 7 2 5.9 2 4.9 2 4 2 3.3 2.1 2.9 2 2.6 2 2.2 2 2 2 1.8 2 1.6 2 1.3 2 1.2 2 1.1 2 .9 2.1 .8 2 .5 2 .4 2 .3 4 .2 6-.2 10.1-.6 8-.4 4.1-.3 4-.4 6-.8 6-1 6.1-1.2 12-2.6 6.1-1.5 8-2.2 14.1-4.1 12-4 12.1-4.4 12.1-4.8 6-2.6 6-2.8 6.1-3 4-2.1 6-3.3 6.1-3.7 8-5.3 8-5.6 4.1-3.1 4-3.3 4-3.6 4-4.2 2-2.4 2-2.6 4.1-5.8 2-3.2 2-3.4 2-3.7 2-4 2-4.3 2-4.7 2-5.2 2-5.6 2.1-6.2 2-7 2-8.1 2-9.3 2-10.6 2-12.3 2-14 2-16.2 2-18.7 2.1-21.6 2-25.3 2-29.5 2-34.9M348.5 364.7l2 25.6 2 21.8 2 18.7 2 16 2 13.7 2 11.7 2 10 2 8.6 2.1 7.2 2 6.1 2 5 2 4.1 2 3.4 2 3 2 2.7 2 2.3 2 2.1 2.1 1.8 2 1.6 2 1.4 2 1.3 2 1.1 2 .9 2 .8 2 .6 2 .5 2 .3 4.1 .2 6 0 10.1-.6 8-.3 4-.3 4-.4 6.1-.7 10-1.7 6.1-1.2 6-1.4 12-2.9 12.1-3.4 14.1-4.5 12-4.2 12.1-4.6 6-2.5 6.1-2.6 10-4.8 8.1-4.3 6-3.5 6-3.9 10.1-6.8 6-4.4 4-3.2 4.1-3.6 4-4.1 2-2.4 2-2.5 4-5.7 2-3.2 2-3.4 2-3.6 2.1-3.9 2-4.3 2-4.6 2-5.1 2-5.5 2-6.1 2-7 2-7.9 2-9.2 2.1-10.5 2-12.1 2-13.9 2-16 2-18.5 2-21.4 2-25 2-29.2 2-34.4M346.9 359l2 26.2 2 22.3 2.1 19.1 2 16.3 2 14 2 12 2 10.2 2 8.8 2 7.4 2 6.2 2 5.1 2 4.2 2.1 3.6 2 3.1 2 2.7 2 2.4 2 2.2 2 1.9 2 1.7 2 1.4 2 1.3 2.1 1.2 2 1 2 .8 2 .7 2 .4 2 .4 4 .3 6.1 0 10-.4 8.1-.3 4-.2 8-.9 10.1-1.5 10-2 12.1-2.8 12-3.2 14.1-4.3 12.1-4 12-4.4 6.1-2.4 6-2.6 10.1-4.5 6-3 6-3.2 6.1-3.5 6-3.8 10-6.7 6.1-4.3 4-3.2 2-1.7 4-3.8 2-2.1 2-2.3 2.1-2.5 4-5.7 2-3.1 2-3.3 2-3.6 2-3.8 2-4.2 2-4.6 2-5 2.1-5.4 2-6 2-6.9 2-7.8 2-9.1 2-10.4 2-11.9 2-13.7 2-15.9 2.1-18.2 2-21.2 2-24.7 2-28.8 2-34M345.4 353.3l2 26.8 2 22.8 2 19.5 2 16.7 2 14.3 2 12.2 2.1 10.5 2 8.9 2 7.5 2 6.4 2 5.3 2 4.3 2 3.6 2 3.3 2 2.8 2 2.5 2.1 2.2 2 2 2 1.7 2 1.5 2 1.4 2 1.2 2 1 2 .9 2 .7 2.1 .5 4 .6 4 .3 4 0 18.1-.6 8-.5 8.1-1 10-1.7 6.1-1.2 6-1.3 12.1-3 12-3.4 14.1-4.4 12.1-4.2 12-4.7 10.1-4.2 8-3.8 6.1-3 6-3.3 6-3.5 12.1-7.8 6-4.2 6-4.5 4.1-3.5 4-4 2-2.3 2-2.4 4-5.6 2-3 2.1-3.3 2-3.5 2-3.8 2-4.2 2-4.4 2-4.9 2-5.4 2-5.9 2-6.7 2-7.8 2.1-8.9 2-10.3 2-11.8 2-13.5 2-15.7 2-18 2-20.9 2-24.4 2-28.4 2.1-33.5M343.8 347.7l2 27.4 2.1 23.3 2 19.9 2 17 2 14.5 2 12.5 2 10.7 2 9.1 2 7.7 2 6.5 2.1 5.4 2 4.5 2 3.7 2 3.3 2 3 2 2.5 2 2.3 2 2.1 2 1.8 2 1.6 2.1 1.4 2 1.2 2 1.1 2 .9 2 .7 2 .6 4 .7 4 .3 4.1 0 18.1-.3 6-.4 8-.8 10.1-1.6 10-1.9 12.1-2.8 12.1-3.3 12-3.6 12.1-3.9 12.1-4.4 10-4 8.1-3.5 8-3.8 8-4.1 6.1-3.5 4-2.4 8-5.2 8.1-5.4 6-4.4 4-3.4 4-4 2.1-2.2 2-2.4 2-2.7 4-5.8 2-3.2 2-3.5 2-3.7 2-4.1 2.1-4.4 2-4.8 2-5.3 2-5.8 2-6.6 2-7.6 2-8.8 2-10.1 2-11.7 2-13.4 2.1-15.4 2-17.9 2-20.6 2-24 2-28 2-33M342.3 342.2l2 27.9 2 23.8 2 20.3 2 17.3 2 14.8 2.1 12.7 2 10.9 2 9.3 2 7.9 2 6.6 2 5.6 2 4.6 2 3.8 2 3.4 2 3 2.1 2.7 2 2.4 2 2.1 2 1.8 2 1.7 2 1.4 2 1.3 2 1.2 2 .9 2.1 .8 2 .5 2 .5 4 .5 6 .3 18.1-.2 8.1-.5 8-.9 10.1-1.6 10-2 12.1-2.8 12-3.2 12.1-3.7 12.1-4 12-4.4 10.1-4 8-3.6 8.1-3.8 8-4.2 4-2.3 4-2.5 10.1-6.4 6-3.9 6.1-4.4 4-3.4 4-3.8 2-2.2 2-2.4 2-2.6 4.1-5.7 2-3.2 2-3.4 2-3.7 2-4 2-4.3 2-4.7 2-5.2 2-5.7 2.1-6.5 2-7.5 2-8.7 2-10 2-11.5 2-13.2 2-15.2 2-17.6 2-20.4 2-23.7 2.1-27.6 2-32.5M340.7 336.7l2.1 28.5 2 24.2 2 20.7 2 17.6 2 15.1 2 13 2 11.1 2 9.4 2 8.1 2.1 6.8 2 5.7 2 4.7 2 3.9 2 3.5 2 3.1 2 2.8 2 2.4 2 2.2 2 1.9 2.1 1.7 2 1.5 2 1.3 2 1.2 2 1 2 .8 2 .6 2 .5 4.1 .6 6 .4 16.1 0 6-.2 8-.7 4.1-.4 6-.9 10-1.8 10.1-2.2 10.1-2.5 12-3.3 12.1-3.7 12-4.1 10.1-3.8 10-4.1 10.1-4.5 8-4 6.1-3.2 6-3.6 14.1-8.9 4-2.7 4-2.9 4-3.3 4.1-3.8 2-2.1 2-2.4 2-2.5 4-5.6 2-3.2 2-3.3 2-3.6 2.1-4 2-4.2 2-4.7 2-5 2-5.6 2-6.4 2-7.4 2-8.5 2-9.9 2-11.3 2.1-13.1 2-15 2-17.4 2-20 2-23.4 2-27.2 2-31.9M339.2 331.2l2 29.1 2 24.7 2 21 2 18 2.1 15.4 2 13.2 2 11.3 2 9.6 2 8.2 2 6.9 2 5.8 2 4.9 2 4 2.1 3.6 2 3.2 2 2.9 2 2.5 2 2.2 2 2 2 1.7 2 1.6 2 1.4 2 1.2 2.1 1 2 .9 2 .6 4 .9 2 .3 4 .3 6.1 .2 14 .1 4.1-.1 4-.3 8-.8 8.1-1.2 10-1.8 10.1-2.2 12-3.1 10.1-2.8 12-3.8 12.1-4.1 10.1-3.8 10-4.1 10.1-4.6 8-4 8-4.5 14.1-8.7 6.1-3.9 4-2.9 4-3.2 4-3.7 2-2.1 2-2.3 4.1-5.2 4-5.9 2-3.3 2-3.6 2-3.8 2-4.2 2-4.6 2-5 2.1-5.5 2-6.2 2-7.3 2-8.4 2-9.7 2-11.1 2-12.9 2-14.8 2-17.1 2-19.8 2.1-23 2-26.7 2-31.5M337.7 325.8l2 29.7 2 25.1 2 21.5 2 18.2 2 15.7 2 13.4 2 11.5 2 9.8 2.1 8.3 2 7.1 2 5.9 2 5 2 4.2 2 3.7 2 3.2 2 2.9 2 2.6 2.1 2.3 2 2 2 1.9 2 1.6 2 1.4 2 1.3 2 1.1 2 .8 2 .7 4.1 1 2 .3 4 .4 6 .3 12.1 .2 6-.1 8.1-.6 4-.4 6-.9 10.1-1.7 12-2.6 12.1-3 12-3.4 12.1-3.8 12.1-4.1 12-4.6 10.1-4.3 10-4.7 8.1-4.2 6-3.5 12.1-7.4 6-3.9 4-2.8 2-1.5 4.1-3.3 2-1.9 2-2.1 2-2.3 2-2.4 4-5.5 2-3 2-3.2 2.1-3.5 2-3.8 2-4.1 2-4.5 2-4.9 2-5.3 2-6.2 2-7.1 2-8.3 2.1-9.5 2-11 2-12.7 2-14.6 2-16.9 2-19.4 2-22.6 2-26.4 2-30.8M336.1 320.6l2 30.2 2 25.5 2.1 21.8 2 18.6 2 15.9 2 13.6 2 11.7 2 10 2 8.5 2 7.2 2 6.1 2 5 2.1 4.3 2 3.8 2 3.4 2 2.9 2 2.7 2 2.3 2 2.1 2 1.9 2 1.7 2.1 1.4 2 1.4 2 1.1 2 .9 2 .7 2 .6 4 .8 4 .5 6.1 .3 14.1 .3 4 0 4-.3 8-.7 10.1-1.4 10-1.9 10.1-2.2 12.1-3 12-3.5 10.1-3.1 12-4.1 10.1-3.8 10-4.2 8.1-3.6 8-3.9 8.1-4.4 14-8.5 6.1-3.8 4-2.7 2-1.5 4-3.3 2-1.8 2-2.1 2.1-2.2 4-5 4-5.7 2-3.2 2-3.4 2-3.7 2-4.1 2-4.3 2.1-4.8 2-5.3 2-6 2-7 2-8.2 2-9.4 2-10.8 2-12.5 2-14.4 2.1-16.5 2-19.2 2-22.2 2-25.9 2-30.3M334.6 315.3l2 30.8 2 26 2 22.1 2 18.9 2 16.2 2 13.8 2 11.9 2.1 10.1 2 8.7 2 7.3 2 6.2 2 5.1 2 4.4 2 3.9 2 3.5 2 3 2.1 2.8 2 2.4 2 2.1 2 2 2 1.7 2 1.5 2 1.4 2 1.1 2 1 2 .7 2.1 .6 4 .9 4 .6 4 .3 14.1 .5 6 0 6.1-.4 8-.8 10.1-1.5 10-1.9 10.1-2.2 12-3.1 12.1-3.4 12-3.9 10.1-3.5 10.1-3.8 10-4.2 10.1-4.6 8-4.1 6-3.4 16.1-9.6 6-4 4.1-3 4-3.5 2-1.9 2-2.2 4-5 2-2.7 4.1-6 2-3.3 2-3.7 2-3.9 2-4.3 2-4.7 2-5.2 2-5.9 2-6.8 2.1-8 2-9.3 2-10.6 2-12.3 2-14.2 2-16.3 2-18.8 2-21.9 2-25.4 2.1-29.7M333 310.2l2 31.3 2.1 26.4 2 22.5 2 19.2 2 16.4 2 14 2 12 2 10.4 2 8.7 2 7.5 2 6.3 2.1 5.3 2 4.5 2 4 2 3.5 2 3.2 2 2.8 2 2.4 2 2.3 2 1.9 2.1 1.8 2 1.6 2 1.4 2 1.2 2 .9 2 .8 2 .7 4 .9 2 .4 4.1 .4 6 .4 10.1 .5 4 0 4-.1 8-.6 8.1-.9 8-1.3 10.1-1.9 12-2.8 12.1-3.2 12.1-3.5 12-3.9 12.1-4.4 10-4 10.1-4.4 8-3.9 8.1-4.3 18.1-10.6 6-3.8 4-3 4-3.4 2.1-1.9 2-2.2 4-4.8 2-2.6 4-5.9 2-3.3 2-3.6 2.1-3.9 2-4.2 2-4.6 2-5 2-5.8 2-6.7 2-7.9 2-9.1 2-10.5 2-12 2.1-13.9 2-16.1 2-18.5 2-21.5 2-24.9 2-29.2M331.5 305.2l2 31.8 2 26.8 2 22.8 2 19.5 2 16.6 2.1 14.3 2 12.2 2 10.4 2 9 2 7.6 2 6.4 2 5.4 2 4.6 2 4.1 2 3.6 2.1 3.2 2 2.9 2 2.5 2 2.3 2 2 2 1.8 2 1.6 2 1.5 2 1.2 2.1 1 2 .9 2 .7 4 1 2 .3 4 .6 8.1 .5 8 .4 4 .1 6.1-.2 8-.6 8-1 8.1-1.3 10-2 12.1-2.8 12.1-3.2 12-3.6 12.1-3.9 12.1-4.4 10-4 10.1-4.5 8-3.9 6-3.3 18.1-10.4 4.1-2.4 4-2.7 4-3.1 2-1.8 2-1.9 2-2.1 4-4.7 4.1-5.4 2-3 2-3.2 2-3.5 2-3.8 2-4.1 2-4.5 2-5 2.1-5.6 2-6.6 2-7.7 2-9 2-10.3 2-11.8 2-13.7 2-15.8 2-18.2 2-21 2.1-24.5 2-28.6M329.9 300.3l2.1 32.3 2 27.2 2 23.1 2 19.7 2 16.9 2 14.4 2 12.4 2 10.6 2 9.1 2.1 7.7 2 6.6 2 5.5 2 4.7 2 4.2 2 3.7 2 3.3 2 2.9 2 2.6 2 2.3 2.1 2.1 2 1.9 2 1.6 2 1.5 2 1.3 2 1 2 .9 2 .7 4.1 1.1 2 .4 4 .6 6 .5 12.1 .7 6 0 6-.4 6.1-.5 8-1.1 10.1-1.7 12-2.5 12.1-3 14.1-4 12-3.8 12.1-4.2 12.1-4.6 10-4.3 8.1-3.8 8-4.3 18.1-10.2 4-2.4 4-2.7 4-3 2.1-1.7 2-1.8 2-2.1 4-4.6 4-5.3 2-3 2-3.1 2.1-3.4 2-3.7 2-4.1 2-4.4 2-4.8 2-5.5 2-6.5 2-7.6 2-8.7 2-10.1 2.1-11.7 2-13.4 2-15.5 2-17.9 2-20.6 2-24 2-28M328.4 295.5l2 32.7 2 27.7 2 23.4 2 20 2.1 17 2 14.7 2 12.5 2 10.8 2 9.2 2 7.8 2 6.7 2 5.6 2 4.8 2.1 4.3 2 3.8 2 3.3 2 3 2 2.7 2 2.4 2 2.1 2 1.9 2 1.7 2 1.5 2.1 1.4 2 1 2 1 2 .7 2 .7 4 .9M392.7 521.4l6.1 .7 8 .5 4 .2 4.1 0 4-.1 6-.4 6-.6 6.1-.8 6-.9 8-1.5 6.1-1.3 8-1.9 6.1-1.5 8-2.2 8-2.3 8.1-2.5 8-2.7 6-2.1 12.1-4.7 6-2.5 6.1-2.6 6-2.9 4-2 4-2.1 18.1-10.1 4.1-2.4 4-2.5 4-3 2-1.7 2-1.8 2-2 2-2.2 4.1-4.9 2-2.6 2-2.9 2-3.1 2-3.3 2-3.7 2-3.9 2-4.3 2.1-4.7 2-5.5 2-6.3 2-7.4 2-8.6 2-9.9 2-11.5 2-13.1 2-15.2 2-17.6 2.1-20.2 2-23.5 2-27.4M326.9 290.7l2 33.3 2 28 2 23.7 2 20.3 2 17.3 2 14.8 2 12.7 2 10.9 2.1 9.3 2 8 2 6.7 2 5.7 2 5 2 4.3 2 3.9 2 3.4 2 3.1 2.1 2.7 2 2.5 2 2.1 2 2 2 1.7 2 1.6 2 1.3 2 1.2 2 .9 2 .8 4.1 1.2 4 .9M393.2 520.6l4 .4 8.1 .6 4 .2 4 .1 4-.1 6.1-.4 6-.6 6-.7 6.1-1 8-1.5 6-1.2 8.1-1.9 6-1.5 8-2.1 8.1-2.4 8-2.4 8.1-2.7 6-2.1 12.1-4.6 6-2.4 6-2.7 6.1-2.8 4-2 4-2.1 8-4.5 10.1-5.4 4-2.3 4-2.5 4.1-2.9 2-1.6 2-1.8 2-2 2-2.2 4-4.7 2-2.7 2-2.8 2.1-3 2-3.3 2-3.5 2-3.8 2-4.3 2-4.6 2-5.3 2-6.2 2-7.2 2.1-8.5 2-9.7 2-11.2 2-12.9 2-14.9 2-17.2 2-19.9 2-23 2-26.8M325.3 286.1l2 33.7 2 28.4 2 24.1 2.1 20.4 2 17.5 2 15 2 12.9 2 11 2 9.4 2 8.1 2 6.9 2 5.8 2.1 5 2 4.5 2 3.9 2 3.5 2 3.2 2 2.7 2 2.5 2 2.3 2 2 2 1.8 2.1 1.6 2 1.3 2 1.2 2 1 2 .8 4 1.3 4 .9M391.7 519.5l4 .4 8 .7 4 .2 4.1 .1 4-.1 6-.3 6.1-.5 6-.8 6-.9 6-1.1 6.1-1.2 8-1.8 6.1-1.4 8-2.1 8-2.3 8.1-2.4 8-2.6 6.1-2 8-3 6-2.3 6.1-2.4 6-2.6 6-2.8 4-2 4.1-2.1 8-4.4 12.1-6.4 6-3.6 4-2.8 2-1.6 2-1.8 2.1-1.9 2-2.2 4-4.6 2-2.6 4-5.7 2-3.2 2-3.4 2-3.8 2.1-4.1 2-4.5 2-5.2 2-6 2-7.2 2-8.2 2-9.5 2-11 2-12.7 2.1-14.6 2-16.8 2-19.5 2-22.5 2-26.2M323.8 281.7l2 34.1 2 28.7 2 24.4 2 20.6 2 17.7 2 15.2 2 13 2.1 11.1 2 9.6 2 8.2 2 7 2 5.9 2 5.1 2 4.6 2 4 2 3.6 2.1 3.2 2 2.8 2 2.5 2 2.3 2 2.1 2 1.8 2 1.6 2 1.5 2 1.2 2 1 2.1 .9 4 1.3 4 1M392.1 518.6l6.1 .7 6 .5 4 .1 4 .1 4.1-.1 6-.4 6-.6 6.1-.8 6-1 6-1.1 6-1.2 8.1-1.8 6-1.5 8.1-2.1 8-2.3 8-2.4 8.1-2.6 6-2.1 12.1-4.5 6-2.4 6-2.6 6.1-2.8 4-1.9 24.1-12.7 6.1-3.5 4-2.8 2-1.5 2-1.7 4-4 4-4.6 2.1-2.5 4-5.6 2-3.1 2-3.3 2-3.7 2-4 2-4.4 2-5.1 2-5.9 2.1-7 2-8 2-9.4 2-10.8 2-12.4 2-14.3 2-16.5 2-19 2-22 2.1-25.6M322.2 277.3l2 34.6 2.1 29 2 24.6 2 20.9 2 17.9 2 15.3 2 13.2 2 11.2 2 9.7 2 8.3 2 7.1 2.1 6 2 5.3 2 4.6 2 4.1 2 3.6 2 3.3 2 2.9 2 2.6 2 2.3 2.1 2.1 2 1.9 2 1.6 2 1.5 2 1.2 2 1.1 2 .9 2 .8 4 1.2 4.1 .8M390.6 517.6l6 .7 6.1 .5 4 .2 4 0 4-.1 6-.3 4.1-.4 6-.7 6-.9 6.1-1 6-1.2 8-1.7 6.1-1.4 8-2.1 8.1-2.2 8-2.4 8-2.5 6.1-2.1 8-2.8 6-2.3 6.1-2.4 6-2.5 6-2.8 4.1-1.9 4-2 8-4.3 12.1-6.2 6-3.4 4-2.7 2-1.5 2.1-1.7 4-3.9 4-4.4 2-2.5 4-5.4 2-3.1 2-3.3 2.1-3.6 2-3.9 2-4.3 2-4.9 2-5.8 2-6.8 2-7.9 2-9.1 2-10.6 2.1-12.1 2-14 2-16.1 2-18.6 2-21.6 2-24.9M320.7 273.1l2 35 2 29.4 2 24.8 2 21.1 2 18.1 2.1 15.4 2 13.3 2 11.4 2 9.8 2 8.4 2 7.2 2 6.1 2 5.3 2 4.7 2 4.2 2.1 3.7 2 3.3 2 3 2 2.6 2 2.4 2 2.1 2 1.9 2 1.7 2 1.5 2.1 1.3 2 1.1 2 1 2 .7 4 1.3 4 .9M391.1 516.8l10 1.1 4 .2 4.1 0 4 0 6-.4 6-.5 6.1-.8 6-.9 6-1.1 6.1-1.2 8-1.7 6-1.5 8.1-2.1 8-2.2 8.1-2.4 8-2.6 6-2 12.1-4.4 6-2.4 6.1-2.5 10-4.6 4-2 8.1-4.2 12-6.1 6.1-3.3 4-2.6 2-1.5 2-1.6 4-3.8 4.1-4.4 2-2.4 4-5.3 2-3 2-3.2 2-3.5 2-3.8 2-4.2 2-4.8 2.1-5.7 2-6.6 2-7.7 2-9 2-10.3 2-11.9 2-13.7 2-15.7 2-18.2 2.1-21 2-24.4M319.1 269l2.1 35.4 2 29.7 2 25.1 2 21.3 2 18.2 2 15.6 2 13.4 2 11.5 2 9.9 2.1 8.5 2 7.3 2 6.2 2 5.4 2 4.8 2 4.2 2 3.8 2 3.4 2 3 2 2.7 2.1 2.4 2 2.2 2 1.9 2 1.8 2 1.5 2 1.3 2 1.1 2 1 2 .8 4.1 1.4 4 1M391.5 516.1l6.1 .6 4 .4 4 .1 4 0 4-.1 6.1-.4 6-.6 6-.8 6.1-1 6-1.1 6-1.2 8.1-1.8 6-1.4 8-2.1 14.1-4.1 8.1-2.5 6-2 12.1-4.4 6-2.3 6-2.5 10.1-4.6 4-2 8-4.1 12.1-5.9 6-3.3 4-2.5 2.1-1.5 2-1.6 4-3.7 4-4.3 2-2.3 4-5.2 2.1-2.9 2-3.1 2-3.4 2-3.8 2-4 2-4.7 2-5.5 2-6.5 2-7.6 2-8.7 2.1-10.1 2-11.6 2-13.4 2-15.4 2-17.7 2-20.5 2-23.8M317.6 265l2 35.8 2 30 2 25.3 2 21.5 2.1 18.4 2 15.7 2 13.5 2 11.6 2 10 2 8.6 2 7.4 2 6.3 2 5.5 2.1 4.9 2 4.3 2 3.8 2 3.5 2 3 2 2.8 2 2.4 2 2.3 2 1.9 2 1.8 2.1 1.6 2 1.3 2 1.2 2 1 4 1.6 4 1.2 4.1 .9M390 515.1l6 .7 4 .3 4.1 .2 4 0 4-.1 6-.4 4-.3 6.1-.7 6-.9 6-1.1 6.1-1.1 8-1.8 6-1.4 8.1-2 14.1-4 14-4.4 12.1-4.2 6-2.3 6.1-2.4 10-4.4 6-2.9 8.1-4.1 12.1-5.8 6-3.2 4-2.4 2-1.4 2-1.6 4-3.7 4.1-4.1 2-2.3 4-5.1 2-2.8 2-3.1 2-3.3 2-3.6 2.1-4 2-4.5 2-5.4 2-6.4 2-7.3 2-8.6 2-9.8 2-11.4 2-13.1 2-15 2.1-17.3 2-20 2-23.1M316.1 261.2l2 36.2 2 30.2 2 25.6 2 21.6 2 18.5 2 15.9 2 13.6 2 11.7 2.1 10.1 2 8.7 2 7.5 2 6.4 2 5.6 2 4.9 2 4.4 2 3.9 2 3.5 2 3.1 2.1 2.8 2 2.5 2 2.3 2 2 2 1.8 2 1.6 2 1.4 2 1.2 2 1 4.1 1.7 4 1.2 4 1M390.4 514.4l4.1 .5 4 .3 4 .2 6 0 4.1-.1 6-.5 4-.4 6-.7 6.1-1 6-1 6-1.2 8.1-1.8 6-1.4 8.1-2 14-4 12.1-3.8 12.1-4.2 6-2.3 6-2.4 10.1-4.3 6-2.9 8-4 12.1-5.7 6-3 4.1-2.5 2-1.3 2-1.6 4-3.5 4-4.1 2-2.2 4.1-5 2-2.7 2-3 2-3.2 2-3.6 2-3.8 2-4.5 2-5.2 2-6.2 2.1-7.2 2-8.3 2-9.7 2-11.1 2-12.7 2-14.7 2-16.8 2-19.5 2-22.5M314.5 257.6l2 36.4 2 30.6 2 25.7 2.1 21.9 2 18.6 2 16 2 13.7 2 11.8 2 10.2 2 8.8 2 7.5 2 6.5 2.1 5.6 2 5 2 4.5 2 4 2 3.5 2 3.2 2 2.8 2 2.6 2 2.3 2 2 2.1 1.9 2 1.6 2 1.4 2 1.3 2 1 4 1.8 4 1.3 4.1 1M390.9 513.7l4 .5 4.1 .2 4 .2 6-.1 4-.2 6.1-.5 10-1.2 6-1 6.1-1.1 12-2.5 6.1-1.4 8-2 14.1-4 12.1-3.8 12-4.1 12.1-4.6 10-4.3 6.1-2.8 8-4 14.1-6.5 4-2 4-2.4 2-1.3 2-1.5 4.1-3.5 4-4 2-2.2 4-4.8 2-2.7 2-2.9 2-3.1 2.1-3.4 2-3.8 2-4.3 2-5.1 2-6 2-7.1 2-8.1 2-9.4 2-10.8 2.1-12.4 2-14.3 2-16.5 2-18.9 2-21.9M313 254.1l2 36.8 2 30.7 2 26 2 22 2 18.7 2 16.1 2 13.8 2.1 11.9 2 10.3 2 8.8 2 7.7 2 6.5 2 5.8 2 5 2 4.6 2 4 2.1 3.6 2 3.2 2 2.9 2 2.6 2 2.3 2 2.1 2 1.9 2 1.6 2 1.5 2 1.3 2.1 1.1 2 .9 4 1.6 4 1.2 4 .9M389.4 512.8l4 .5 4 .3 4 .1 6.1 0 4-.2 6-.5 10.1-1.2 6-.9 6-1.1 12.1-2.5 6-1.4 8.1-2 14-4 12.1-3.7 12.1-4.1 12-4.5 10.1-4.3 6-2.8 8.1-3.9 12-5.4 6.1-2.9 4-2.3 2-1.3 2-1.5 4-3.4 4-3.9 2-2.1 4.1-4.7 2-2.6 2-2.8 2-3.1 2-3.3 2-3.7 2-4.1 2-5 2.1-5.9 2-6.9 2-7.9 2-9.1 2-10.6 2-12.1 2-13.9 2-16 2-18.4 2-21.3M311.4 250.7l2 37.1 2.1 31 2 26.1 2 22.2 2 18.8 2 16.2 2 13.9 2 12 2 10.3 2 9 2 7.7 2.1 6.6 2 5.8 2 5.2 2 4.6 2 4 2 3.7 2 3.3 2 2.9 2 2.6 2.1 2.4 2 2.1 2 1.9 2 1.7 2 1.5 2 1.3 2 1.1 2 1 4 1.6 4.1 1.3 4 .9M389.8 512.2l4.1 .4 4 .2 4 .1 6-.1 4.1-.3 6-.5 10-1.3 6.1-.9 6-1.1 6-1.3 8.1-1.8 14.1-3.5 14-4 12.1-3.8 12-4.2 10.1-3.9 10.1-4.3 12-5.7 14.1-6.1 6-3.1 4-2.4 2.1-1.4 2-1.6 4-3.6 4-4 4-4.6 2-2.5 2-2.8 2.1-3 2-3.2 2-3.5 2-4.1 2-4.9 2-5.7 2-6.6 2-7.8 2-8.9 2.1-10.3 2-11.8 2-13.5 2-15.6 2-17.9 2-20.6M309.9 247.6l2 37.3 2 31.2 2 26.3 2 22.3 2 18.9 2.1 16.3 2 14 2 12 2 10.4 2 9 2 7.8 2 6.8 2 5.8 2 5.2 2 4.7 2.1 4.1 2 3.7 2 3.3 2 3 2 2.7 2 2.4 2 2.1 2 2 2 1.7 2.1 1.5 2 1.3 2 1.2 2 1 4 1.7 4 1.3 4 1M390.3 511.5l4 .4 4.1 .1 4 0 6-.2 4-.2 6.1-.6 10-1.3 6-1 6.1-1.2 12-2.6 14.1-3.5 14.1-3.9 12-3.8 12.1-4.2 10.1-3.8 10-4.2 12.1-5.7 14-6 6.1-2.9 4-2.4 2-1.4 2-1.5 4-3.5 4.1-3.9 4-4.5 4-5.2 2-2.8 2-3.2 2-3.4 2-4 2.1-4.7 2-5.6 2-6.5 2-7.5 2-8.7 2-10 2-11.4 2-13.2 2-15.1 2.1-17.4 2-20M308.3 244.5l2.1 37.7 2 31.4 2 26.4 2 22.4 2 19 2 16.4 2 14 2 12.1 2 10.5 2.1 9.1 2 7.8 2 6.8 2 6 2 5.2 2 4.7 2 4.2 2 3.8 2 3.3 2 3.1 2.1 2.7 2 2.4 2 2.2 2 1.9 2 1.8 2 1.5 2 1.4 2 1.2 4 1.9 4.1 1.6 4 1.2 4 .9M388.8 510.7l4 .3 4 .2 4 0 6.1-.2 4-.2 6-.6 10.1-1.3 6-1 6-1.1 12.1-2.6 12.1-2.9 14-3.9 12.1-3.7 12.1-4 12-4.5 10.1-4.2 12-5.5 14.1-5.9 6-2.9 4.1-2.3 2-1.4 2-1.5 4-3.4 4-3.8 4-4.3 4.1-5 2-2.8 2-3.1 2-3.3 2-3.9 2-4.6 2-5.4 2-6.3 2-7.3 2.1-8.5 2-9.7 2-11.1 2-12.8 2-14.7 2-16.9 2-19.4M306.8 241.7l2 37.9 2 31.5 2 26.6 2 22.5 2.1 19.1 2 16.4 2 14.1 2 12.2 2 10.5 2 9.2 2 7.9 2 6.8 2 6.1 2 5.3 2.1 4.8 2 4.2 2 3.8 2 3.4 2 3 2 2.8 2 2.4 2 2.3 2 1.9 2.1 1.8 2 1.6 2 1.4 2 1.2 4 2 4 1.6 4 1.2 4.1 1M389.2 510l4.1 .3 4 .1 4 0 6-.3 4-.3 6.1-.6 10-1.4 12.1-2.1 12.1-2.6 12-3 14.1-3.9 8-2.5 8.1-2.5 8-2.8 8.1-3 10-4 6-2.6 8.1-3.7 14.1-5.8 6-2.8 4-2.2 2-1.3 2-1.5 4.1-3.3 4-3.8 4-4.2 4-4.8 2-2.8 2-2.9 2.1-3.2 2-3.8 2-4.4 2-5.3 2-6.1 2-7.1 2-8.3 2-9.4 2-10.8 2-12.5 2.1-14.2 2-16.4 2-18.8M305.3 239l2 38.1 2 31.7 2 26.7 2 22.6 2 19.2 2 16.4 2 14.2 2 12.2 2.1 10.6 2 9.2 2 8 2 6.9 2 6.1 2 5.4 2 4.8 2 4.3 2 3.8 2 3.5 2.1 3 2 2.8 2 2.5 2 2.3 2 2 2 1.8 2 1.6 2 1.4 2 1.2 4.1 2.1 4 1.6 4 1.3 4 1M389.7 509.4l4 .2 4 0 8.1-.2 4-.3 6-.6 10.1-1.4 12.1-2.1 12-2.6 12.1-3 14.1-3.9 8-2.4 8-2.5 8.1-2.8 8-2.9 6.1-2.3 6-2.5 14.1-6.2 12-4.8 6.1-2.7 4-2.2 2-1.3 2-1.5 4-3.2 4-3.6 4.1-4.1 4-4.7 2-2.7 2-2.9 2-3.1 2-3.6 2-4.3 2-5.1 2.1-6 2-6.9 2-8 2-9.2 2-10.5 2-12 2-13.8 2-15.9 2-18.2M303.7 236.5l2 38.3 2 31.9 2 26.7 2.1 22.7 2 19.3 2 16.5 2 14.2 2 12.3 2 10.6 2 9.2 2 8.1 2 6.9 2.1 6.2 2 5.4 2 4.9 2 4.3 2 3.9 2 3.5 2 3.1 2 2.8 2 2.5 2 2.3 2.1 2 2 1.8 2 1.7 2 1.4 2 1.3 4 2.1 4 1.7 4.1 1.3 6 1.5M388.2 508.6l4 .2 4 0 8-.2 4.1-.3 6-.6 10-1.3 6.1-1 6-1.1 12.1-2.6 12-2.9 14.1-3.9 8.1-2.4 8-2.5 8-2.7 8.1-2.9 6-2.3 6-2.5 14.1-6.1 14.1-5.5 4-1.8 4-2.1 2-1.3 2.1-1.4 4-3.2 4-3.5 4-4 4-4.6 2-2.5 2.1-2.8 2-3 2-3.5 2-4.2 2-5 2-5.8 2-6.7 2-7.7 2-8.9 2-10.2 2.1-11.7 2-13.4 2-15.3 2-17.6M302.2 234.2l2 38.5 2 32 2 26.8 2 22.7 2 19.3 2 16.6 2 14.2 2.1 12.3 2 10.7 2 9.3 2 8.1 2 7 2 6.2 2 5.5 2 4.9 2 4.4 2.1 3.9 2 3.5 2 3.2 2 2.8 2 2.5 2 2.3 2 2.1 2 1.8 2 1.7 2 1.5 2.1 1.3 4 2.1 4 1.8 4 1.3 2 .6 4.1 .9M388.6 507.9l4 .1 4.1 0 8-.3 4-.3 6.1-.6 10-1.5 10.1-1.7 12-2.6 12.1-2.9 14.1-3.8 8-2.4 8.1-2.5 8-2.7 8-2.8 6.1-2.3 6-2.4 10-4.4 4.1-1.7 14-5.3 4.1-1.8 4-2.1 2-1.2 2-1.4 4-3 4-3.5 4.1-3.9 4-4.4 2-2.5 2-2.7 2-2.9 2-3.4 2-4.1 2.1-4.8 2-5.6 2-6.5 2-7.5 2-8.6 2-9.9 2-11.3 2-13 2-14.8 2-17M300.6 232.1l2 38.6 2.1 32.1 2 26.9 2 22.7 2 19.4 2 16.6 2 14.2 2 12.4 2 10.7 2 9.3 2 8.1 2.1 7.1 2 6.3 2 5.5 2 5 2 4.4 2 3.9 2 3.6 2 3.2 2 2.8 2.1 2.6 2 2.3 2 2.1 2 1.9 2 1.6 2 1.5 2 1.4 4 2.2 4.1 1.8 4 1.4 2 .5 4 1M389.1 507.2l4 .1 4 0 8.1-.5 4-.3 6-.7 10.1-1.5 10-1.8 12.1-2.6 12.1-3 14-3.8 8.1-2.4 8-2.5 8.1-2.7 6-2.1 6-2.3 6.1-2.4 10-4.3 4-1.6 14.1-5.3 4-1.7 4-2 2.1-1.2 2-1.3 4-3 4-3.4 4-3.7 4-4.3 2.1-2.5 2-2.6 2-2.8 2-3.3 2-3.9 2-4.7 2-5.4 2-6.3 2-7.3 2.1-8.4 2-9.5 2-11 2-12.5 2-14.3 2-16.4M299.1 230.1l2 38.8 2 32.2 2 26.9 2 22.8 2 19.4 2.1 16.6 2 14.3 2 12.3 2 10.8 2 9.3 2 8.2 2 7.1 2 6.3 2 5.6 2 5 2.1 4.4 2 4 2 3.6 2 3.2 2 2.9 2 2.6 2 2.3 2 2.1 2 1.9 2.1 1.7 2 1.5 2 1.4 2 1.2 4 2 4 1.6 4 1.3 4.1 1M387.5 506.5l4.1 0 4 0 8-.4 4.1-.4 6-.6 10-1.5 10.1-1.8 12.1-2.6 12-2.9 12.1-3.2 8-2.4 8.1-2.4 8-2.7 6-2 12.1-4.5 6-2.5 6.1-2.6 4-1.6 14.1-5.1 4-1.7 4-1.9 2-1.2 2-1.3 4-2.9 4.1-3.3 4-3.6 4-4.2 2-2.3 2-2.6 2-2.7 2-3.2 2.1-3.8 2-4.5 2-5.3 2-6.1 2-7 2-8.1 2-9.3 2-10.6 2-12.1 2.1-13.8 2-15.8M297.5 228.4l2.1 38.9 2 32.2 2 27 2 22.8 2 19.4 2 16.6 2 14.3 2 12.3 2 10.8 2 9.4 2.1 8.2 2 7.2 2 6.3 2 5.6 2 5.1 2 4.4 2 4.1 2 3.6 2 3.2 2.1 2.9 2 2.6 2 2.4 2 2.1 2 1.9 2 1.7 2 1.6 2 1.3 2 1.2 4.1 2.1 4 1.7 4 1.3 6 1.5M388 505.8l4 0 4.1-.1 8-.5 10.1-1.1 10-1.5 10.1-1.9 12-2.6 12.1-3 14.1-3.8 14-4.3 8.1-2.6 6-2.1 12.1-4.5 12-5 4.1-1.5 10-3.5 4-1.5 4-1.8 4.1-2.1 4-2.7 4-3 4-3.3 4.1-3.8 4-4.4 2-2.4 2-2.6 2-3.1 2-3.7 2-4.4 2-5.1 2-5.9 2.1-6.8 2-7.8 2-9 2-10.2 2-11.7 2-13.3 2-15.2M296 226.8l2 39 2 32.3 2 27 2 22.8 2.1 19.3 2 16.6 2 14.3 2 12.4 2 10.8 2 9.4 2 8.2 2 7.2 2 6.4 2 5.7 2.1 5.1 2 4.5 2 4 2 3.6 2 3.3 2 2.9 2 2.7 2 2.3 2 2.2 2.1 1.9 2 1.7 2 1.6 2 1.4 2 1.2 4 2.2 4 1.7 4.1 1.3 2 .6 4 .9M386.5 505l4 .1 4-.1 8.1-.5 10-1.1 10.1-1.5 10-1.9 12.1-2.6 12-2.9 12.1-3.2 8-2.4 8.1-2.4 14.1-4.7 12-4.5 12.1-4.9 4-1.4 10.1-3.5 4-1.5 4-1.7 4-2.1 4-2.5 4.1-3 4-3.2 4-3.7 4-4.2 2-2.3 2.1-2.6 2-3 2-3.5 2-4.2 2-5 2-5.7 2-6.6 2-7.5 2-8.7 2-9.9 2.1-11.2 2-12.9 2-14.6M294.5 225.5l2 39 2 32.3 2 27 2 22.8 2 19.3 2 16.6 2 14.3 2 12.4 2.1 10.8 2 9.4 2 8.2 2 7.3 2 6.4 2 5.7 2 5.1 2 4.6 2 4 2 3.7 2.1 3.3 2 2.9 2 2.7 2 2.4 2 2.1 2 2 2 1.7 2 1.6 4.1 2.7 4 2.1 4 1.8 4 1.3 2 .6 4 1M386.9 504.4l8.1-.2 8-.6 10.1-1.2 10-1.5 10.1-1.9 12-2.7 12.1-2.9 12.1-3.3 14-4.2 14.1-4.6 12.1-4.4 12-4.8 4.1-1.5 10-3.3 4-1.5 4.1-1.7 4-2 4-2.5 4-2.8 4-3.2 4.1-3.6 4-4 2-2.3 2-2.5 2-2.8 2-3.5 2-4.1 2-4.7 2.1-5.5 2-6.4 2-7.3 2-8.4 2-9.5 2-10.8 2-12.4 2-14M292.9 224.3l2 39.1 2 32.3 2 27 2.1 22.7 2 19.3 2 16.6 2 14.3 2 12.3 2 10.8 2 9.4 2 8.3 2 7.3 2.1 6.5 2 5.7 2 5.1 2 4.6 2 4.1 2 3.6 2 3.3 2 3 2 2.7 2 2.4 2.1 2.2 2 1.9 2 1.8 2 1.6 4 2.7 4 2.2 2 .9 4.1 1.6 4 1.3 2 .5 4 .8M387.4 503.7l8.1-.3 8-.7 8-.9 10.1-1.6 10-1.9 12.1-2.6 12.1-3 12-3.2 14.1-4.1 12.1-3.9 12-4.3 14.1-5.5 18.1-6.1 4-1.7 4-1.9 4.1-2.5 4-2.7 4-3.1 4-3.5 4-3.9 2.1-2.2 2-2.4 2-2.7 2-3.4 2-3.9 2-4.6 2-5.3 2-6.2 2-7 2-8.1 2.1-9.1 2-10.5 2-11.8 2-13.5M291.4 223.4l2 39 2 32.3 2 27 2 22.7 2 19.3 2 16.5 2 14.2 2.1 12.4 2 10.8 2 9.4 2 8.3 2 7.3 2 6.5 2 5.7 2 5.2 2 4.6 2.1 4.1 2 3.7 2 3.3 2 3 2 2.6 2 2.5 2 2.1 2 2 2 1.8 2 1.6 2.1 1.5 4 2.4 4 2 4 1.7 4 1.2 2.1 .6 4 .8M385.9 503l8-.3 8-.6 8.1-1 10-1.6 10.1-1.8 12.1-2.6 12-3 12.1-3.2 14.1-4.1 12-3.9 12.1-4.2 14.1-5.4 18.1-6 4-1.6 4-1.9 4-2.4 4-2.7 4.1-2.9 4-3.4 4-3.8 4-4.4 2-2.7 2-3.2 2.1-3.8 2-4.4 2-5.2 2-5.9 2-6.8 2-7.7 2-8.8 2-10 2-11.5 2-12.9M289.8 222.6l2 39.1 2.1 32.2 2 26.9 2 22.7 2 19.2 2 16.5 2 14.2 2 12.3 2 10.8 2 9.4 2 8.3 2.1 7.3 2 6.5 2 5.8 2 5.2 2 4.6 2 4.1 2 3.7 2 3.3 2 3 2 2.7 2.1 2.5 2 2.2 2 1.9 2 1.8 2 1.7 2 1.4 4 2.5 4.1 2.1 4 1.6 4 1.3 2 .6 4 .8M386.3 502.3l8.1-.4 8-.7 8.1-1 10-1.7 10.1-1.9 12-2.6 10.1-2.5 12-3.2 14.1-4.1 12.1-3.8 12-4.2 14.1-5.3 18.1-5.8 4-1.6 4.1-1.9 4-2.3 4-2.6 4-2.9 4-3.2 4.1-3.7 4-4.3 2-2.5 2-3.1 2-3.7 2-4.3 2-4.9 2-5.7 2.1-6.5 2-7.5 2-8.5 2-9.6 2-10.9 2-12.5M288.3 222.1l2 39 2 32.2 2 26.8 2 22.6 2 19.2 2 16.4 2.1 14.1 2 12.3 2 10.8 2 9.4 2 8.3 2 7.3 2 6.6 2 5.8 2 5.1 2.1 4.7 2 4.1 2 3.7 2 3.4 2 3 2 2.7 2 2.4 2 2.2 2 2 2 1.8 2.1 1.6 4 2.9 4 2.3 4 1.8 4 1.5 4.1 1.2 2 .4 4 .8M386.8 501.5l8-.4 8.1-.8 8-1.1 10.1-1.7 10-1.9 10.1-2.3 10-2.4 12.1-3.2 14.1-4 12-3.8 12.1-4.1 14.1-5.3 4-1.3 12.1-3.7 4-1.4 4-1.7 2-.9 4-2.3 4.1-2.5 4-2.8 4-3.2 4-3.5 4-4.1 2-2.5 2.1-3 2-3.5 2-4.1 2-4.8 2-5.5 2-6.3 2-7.1 2-8.2 2-9.2 2.1-10.5 2-11.9M286.7 221.7l2.1 39 2 32.1 2 26.7 2 22.5 2 19.1 2 16.4 2 14.1 2 12.2 2 10.7 2 9.4 2.1 8.3 2 7.4 2 6.5 2 5.9 2 5.2 2 4.6 2 4.1 2 3.8 2 3.3 2.1 3 2 2.7 2 2.5 2 2.2 2 2 2 1.8 2 1.7 4 2.8 4.1 2.3 4 1.9 4 1.5 4 1.2 2 .5 4.1 .7M385.3 500.9l8-.5 8-.8 8.1-1 10-1.7 10.1-2 10-2.2 10.1-2.4 12.1-3.1 14-4.1 12.1-3.7 12.1-4.1 14-5.2 4.1-1.3 12-3.6 4-1.4 4.1-1.6 2-.9 4-2.2 4-2.5 4-2.7 4.1-3 4-3.5 4-3.9 2-2.4 2-2.9 2-3.4 2-3.9 2-4.6 2.1-5.3 2-6 2-6.9 2-7.8 2-8.9 2-10 2-11.4M285.2 221.6l2 38.9 2 32 2 26.6 2 22.4 2.1 19 2 16.3 2 14 2 12.2 2 10.7 2 9.4 2 8.3 2 7.3 2 6.6 2 5.8 2.1 5.2 2 4.7 2 4.1 2 3.7 2 3.4 2 3 2 2.7 2 2.5 2 2.2 2.1 2 2 1.8 2 1.7 4 2.9 4 2.3 4 1.9 4.1 1.6 4 1.2 2 .4 4 .8M385.7 500.2l6.1-.4 8-.8 8-1.1 10.1-1.6 10-2 10.1-2.2 10.1-2.4 12-3.1 12.1-3.4 12-3.7 14.1-4.7 14.1-5.1 4-1.3 12.1-3.5 4-1.3 4-1.6 2-.9 4-2.2 4.1-2.4 4-2.6 4-2.9 4-3.3 4-3.9 2.1-2.2 2-2.8 2-3.3 2-3.8 2-4.4 2-5.1 2-5.8 2-6.6 2-7.4 2.1-8.5 2-9.6 2-10.8M283.7 221.7l2 38.7 2 31.9 2 26.5 2 22.3 2 18.9 2 16.2 2 14 2 12.1 2.1 10.6 2 9.4 2 8.3 2 7.3 2 6.6 2 5.8 2 5.2 2 4.7 2 4.1 2 3.8 2.1 3.3 2 3.1 2 2.7 2 2.4 2 2.3 2 2 2 1.8 4 3.2 4.1 2.6 4 2.2 4 1.7 4 1.4 4 1 2.1 .4 4 .7M386.2 499.4l6-.4 8.1-.9 8-1.1 10.1-1.7 10-2 10.1-2.3 10-2.4 12.1-3.2 12-3.4 10.1-3 14.1-4.6 14-5.1 4.1-1.3 12-3.4 4-1.3 4.1-1.5 2-.9 4-2.1 4-2.4 4-2.5 4.1-2.8 4-3.2 4-3.7 2-2.2 2-2.7 2-3.1 2-3.7 2.1-4.2 2-4.9 2-5.5 2-6.3 2-7.2 2-8.1 2-9.2 2-10.3M282.1 222l2 38.6 2 31.7 2 26.4 2.1 22.2 2 18.8 2 16.1 2 13.8 2 12.1 2 10.6 2 9.3 2 8.2 2 7.4 2.1 6.6 2 5.8 2 5.2 2 4.7 2 4.1 2 3.8 2 3.3 2 3 2 2.8 2 2.4 2.1 2.2 2 2.1 2 1.8 4 3.2 4 2.7 4 2.1 4.1 1.8 4 1.3 4 1.1 2 .4 4 .6M384.7 498.8l6-.4 8-.9 8.1-1.1 10-1.8 10.1-2 10-2.2 10.1-2.4 10-2.6 12.1-3.3 12.1-3.6 14-4.6 14.1-5 6-1.8 10.1-2.8 4-1.3 4-1.5 2-.9 4.1-2 4-2.3 4-2.4 4-2.8 4-3.1 4.1-3.5 2-2.1 2-2.6 2-3 2-3.5 2-4.1 2-4.6 2-5.4 2-6 2.1-6.8 2-7.8 2-8.7 2-9.9M280.6 222.5l2 38.4 2 31.6 2 26.2 2 22 2 18.7 2 16 2 13.8 2.1 12 2 10.5 2 9.3 2 8.2 2 7.4 2 6.5 2 5.8 2 5.2 2 4.7 2.1 4.2 2 3.7 2 3.3 2 3.1 2 2.7 2 2.4 2 2.3 2 2 2 1.8 4.1 3.2 4 2.7 4 2.2 4 1.8 2 .7 4 1.2 4.1 .9 6 .9M385.1 498.1l6-.5 8.1-1 8-1.2 10.1-1.8 10-2 10.1-2.2 10-2.5 12.1-3.2 12.1-3.4 12-3.6 10.1-3.3 12-4.2 4.1-1.3 14-3.9 4.1-1.3 4-1.4 4-1.9 4-2.1 4-2.3 4.1-2.5 4-2.8 4-3.2 2-1.7 2-2 2-2.5 2.1-2.9 2-3.4 2-3.9 2-4.4 2-5.1 2-5.8 2-6.5 2-7.4 2-8.3 2-9.4M279 223.2l2 38.3 2 31.3 2.1 26.1 2 21.9 2 18.5 2 15.9 2 13.6 2 12 2 10.4 2 9.2 2 8.2 2.1 7.4 2 6.5 2 5.8 2 5.2 2 4.7 2 4.1 2 3.8 2 3.3 2 3 2 2.7 2.1 2.5 2 2.2 2 2 2 1.9 4 3.2 4 2.7 4.1 2.2 4 1.8 2 .7 4 1.2 4 .9 6.1 .9M385.6 497.3l6-.6 8.1-1 8-1.2 10.1-1.9 10-2 10.1-2.3 10-2.5 10.1-2.6 12-3.4 12.1-3.6 10-3.3 12.1-4.2 4-1.2 14.1-3.9 4-1.2 4-1.4 4.1-1.8 4-2 4-2.3 4-2.4 4-2.7 4.1-3.1 2-1.7 2-1.9 2-2.4 2-2.7 2-3.3 2-3.7 2-4.3 2.1-4.8 2-5.6 2-6.2 2-7 2-7.9 2-8.9M277.5 224.1l2 38.1 2 31.2 2 25.8 2 21.7 2 18.4 2 15.7 2.1 13.6 2 11.8 2 10.4 2 9.2 2 8.1 2 7.3 2 6.6 2 5.8 2 5.2 2.1 4.6 2 4.2 2 3.7 2 3.3 2 3 2 2.7 2 2.5 2 2.2 4 3.9 4.1 3.2 4 2.7 4 2.2 4 1.8 2 .7 4.1 1.3 4 .9 6 .8M384 496.7l6.1-.6 8-1 8.1-1.2 10-1.9 8.1-1.6 10-2.2 10.1-2.5 10-2.6 14.1-3.9 12-3.6 10.1-3.2 12.1-4.1 4-1.2 14.1-3.8 4-1.2 4-1.4 2-.8 4-1.9 6.1-3.2 4-2.3 4-2.7 4-2.9 2-1.6 2-1.9 2.1-2.2 2-2.7 2-3.1 2-3.6 2-4.1 2-4.6 2-5.3 2-5.9 2-6.7 2.1-7.5 2-8.4M275.9 225.3l2.1 37.8 2 30.9 2 25.7 2 21.5 2 18.2 2 15.6 2 13.5 2 11.7 2 10.3 2 9.1 2.1 8.1 2 7.3 2 6.5 2 5.8 2 5.2 2 4.6 2 4.1 2 3.7 2 3.4 2.1 3 2 2.7 2 2.4 2 2.2 2 2 4 3.6 4 2.9 4.1 2.5 4 2 4 1.6 2 .7 4 1 4.1 .8 6 .6M384.5 495.9l8.1-.8 8-1.2 8-1.3 8.1-1.5 8-1.7 10.1-2.3 10-2.4 10.1-2.7 12-3.3 12.1-3.6 10.1-3.1 14-4.8 6.1-1.7 10-2.6 6-1.8 4.1-1.5 2-.9 4-1.9 4-2.1 4-2.3 4.1-2.5 4-2.9 2-1.5 2-1.8 2-2.2 2-2.5 2-3 2-3.4 2.1-3.9 2-4.4 2-5 2-5.7 2-6.3 2-7.2 2-7.9M274.4 226.7l2 37.5 2 30.7 2 25.4 2 21.3 2.1 18.1 2 15.4 2 13.3 2 11.7 2 10.2 2 9 2 8.1 2 7.2 2 6.5 2 5.8 2.1 5.1 2 4.6 2 4.2 2 3.7 2 3.3 2 3 2 2.7 2 2.4 2 2.2 2.1 2 4 3.5 4 3 4 2.5 4 2 4.1 1.6 2 .6 4 1.1 4 .7 6 .7M385 495.2l6-.7 8.1-1.2 8-1.3 8-1.5 8.1-1.7 10-2.3 10.1-2.4 10-2.6 12.1-3.3 12.1-3.6 10-3.1 14.1-4.7 6-1.7 10.1-2.5 6-1.8 4-1.5 2-.8 4.1-1.9 4-2.1 4-2.2 4-2.4 4-2.7 2-1.5 2.1-1.8 2-2 2-2.5 2-2.8 2-3.3 2-3.7 2-4.2 2-4.8 2-5.3 2.1-6.1 2-6.7 2-7.6M272.9 228.2l2 37.3 2 30.4 2 25.2 2 21.1 2 17.8 2 15.3 2 13.2 2 11.5 2.1 10.1 2 9 2 8 2 7.2 2 6.5 2 5.7 2 5.2 2 4.5 2 4.2 2 3.6 2.1 3.3 2 3 2 2.7 2 2.4 2 2.2 4 3.8 4 3.3 4.1 2.7 4 2.2 4 1.8 4 1.4 2 .6 4.1 .9 4 .6 6 .5M383.4 494.6l6.1-.7 8-1.2 8-1.3 8.1-1.5 8-1.7 10.1-2.3 8-1.9 10.1-2.6 14.1-3.8 12-3.5 10.1-3.1 14-4.6 6.1-1.7 10-2.5 6.1-1.7 4-1.5 2-.8 8-3.8 4.1-2.2 4-2.3 4-2.7 2-1.4 2-1.6 2-2 2-2.4 2-2.7 2.1-3.1 2-3.5 2-4 2-4.6 2-5.1 2-5.7 2-6.3 2-7.2M271.3 230l2 37 2 30.1 2 24.9 2.1 20.9 2 17.6 2 15.2 2 13 2 11.4 2 10 2 8.9 2 7.9 2 7.2 2 6.4 2.1 5.8 2 5.1 2 4.5 2 4.1 2 3.6 2 3.3 2 3 2 2.7 2 2.4 2.1 2.1 4 3.8 4 3.3 4 2.7 4 2.2 4.1 1.8 4 1.4 2 .6 4 .9 4 .6 6.1 .5M383.9 493.8l6-.7 8.1-1.2 8-1.4 8.1-1.6 8-1.7 10.1-2.3 18-4.5 12.1-3.3 12.1-3.5 10-3.1 14.1-4.5 6-1.7 10.1-2.5 6-1.7 4-1.4 2-.8 8.1-3.7 4-2.1 4-2.3 4.1-2.5 2-1.4 2-1.6 2-1.9 2-2.2 2-2.6 2-2.9 2-3.4 2-3.8 2-4.3 2.1-4.8 2-5.4 2-6.1 2-6.7M269.8 232.1l2 36.5 2 29.9 2 24.6 2 20.6 2 17.5 2 14.9 2 12.9 2.1 11.2 2 9.9 2 8.8 2 7.9 2 7.1 2 6.4 2 5.7 2 5.1 2 4.5 2 4.1 2.1 3.6 2 3.3 2 2.9 2 2.7 2 2.4 2 2.1 4 3.8 4.1 3.2 4 2.7 4 2.3 4 1.8 4 1.4 2 .5 4.1 .9 4 .6 6 .5M384.4 493l6-.8 8-1.3 14.1-2.6 8.1-1.7 10-2.3 18.1-4.5 12.1-3.3 12-3.4 10.1-3.1 14.1-4.5 6-1.6 10-2.4 6.1-1.7 4-1.4 2-.8 8-3.6 4.1-2 4-2.2 4-2.5 2-1.3 2-1.5 2-1.8 2.1-2.2 2-2.4 2-2.9 2-3.2 2-3.6 2-4 2-4.6 2-5.1 2-5.7 2-6.3M268.2 234.3l2 36.2 2 29.5 2.1 24.3 2 20.4 2 17.2 2 14.8 2 12.7 2 11.1 2 9.8 2 8.7 2 7.8 2.1 7.1 2 6.3 2 5.7 2 5 2 4.5 2 4 2 3.6 2 3.3 2 2.9 2 2.6 2.1 2.4 2 2.1 4 3.8 4 3.2 4 2.7 4.1 2.2 2 1 4 1.6 4 1.2 4 .9 6.1 .7 6 .3M382.8 492.5l6.1-.9 8-1.2 14.1-2.7 16.1-3.5 18.1-4.4 12-3.3 12.1-3.4 12-3.6 14.1-4.4 6-1.6 10.1-2.4 6-1.7 4.1-1.3 2-.8 8-3.6 4-1.9 4-2.1 6.1-3.6 2-1.5 2-1.7 2-2.1 2-2.3 2-2.7 2-3 2-3.5 2.1-3.8 2-4.3 2-4.8 2-5.4 2-5.9M266.7 236.7l2 35.8 2 29.2 2 24 2 20.1 2 17 2 14.5 2.1 12.6 2 11 2 9.6 2 8.6 2 7.8 2 7 2 6.3 2 5.6 2 5 2.1 4.4 2 4 2 3.6 2 3.2 2 2.9 2 2.6 2 2.3 2 2.2 4 3.7 4.1 3.2 4 2.7 4 2.2 2 1 4 1.6 4.1 1.2 4 .8 6 .7 6 .4M383.3 491.7l6-.9 8.1-1.3 14-2.7 16.1-3.6 18.1-4.5 12.1-3.3 12-3.4 10.1-3 14.1-4.4 6-1.5 10.1-2.4 6-1.7 4-1.3 2-.8 8.1-3.4 4-1.9 4-2 6-3.5 2-1.4 2.1-1.7 2-1.9 2-2.2 2-2.6 2-2.9 2-3.2 2-3.7 2-4 2-4.5 2-5.1 2.1-5.5M265.1 239.4l2.1 35.3 2 28.8 2 23.8 2 19.8 2 16.7 2 14.3 2 12.4 2 10.8 2 9.6 2 8.5 2.1 7.6 2 6.9 2 6.3 2 5.5 2 5 2 4.4 2 4 2 3.5 2 3.2 2.1 2.9 2 2.5 2 2.4 2 2.1 4 3.7 4 3.1 4 2.7 4.1 2.2 2 1 4 1.6 4 1.1 4 .9 6.1 .7 6 .3M383.8 490.8l6-.9 8-1.4 14.1-2.7 16.1-3.7 16.1-4 12-3.2 12.1-3.4 10.1-3 14-4.3 6.1-1.6 10-2.3 6-1.6 4.1-1.3 2-.8 8-3.4 4-1.8 4.1-2 6-3.3 2-1.3 2-1.6 2-1.9 2-2.1 2-2.4 2.1-2.8 2-3 2-3.5 2-3.8 2-4.2 2-4.7 2-5.2M263.6 242.2l2 35 2 28.4 2 23.3 2 19.6 2.1 16.5 2 14 2 12.2 2 10.7 2 9.4 2 8.4 2 7.5 2 6.9 2 6.2 2 5.5 2.1 4.9 2 4.3 2 4 2 3.5 2 3.1 2 2.9 2 2.5 2 2.3 2 2.1 2.1 1.9 4 3.4 4 2.9 4 2.4 4 2 2 .8 4.1 1.4 4 1 4 .6 6 .6 6.1 .1M382.2 490.3l12.1-1.9 14.1-2.8 16-3.6 16.1-3.9 12.1-3.2 12-3.4 10.1-2.9 16.1-4.9 6-1.5 10.1-2.4 6-1.5 4-1.3 2-.8 8.1-3.2 4-1.8 4-1.9 6-3.2 2.1-1.3 2-1.5 2-1.8 2-2 2-2.3 2-2.6 2-2.9 2-3.3 2-3.5 2.1-4 2-4.4 2-4.9M262.1 245.3l2 34.5 2 27.9 2 23.1 2 19.2 2 16.2 2 13.9 2 12 2 10.4 2.1 9.3 2 8.3 2 7.4 2 6.8 2 6.1 2 5.5 2 4.8 2 4.3 2 3.9 2 3.5 2.1 3.1 2 2.8 2 2.5 2 2.3 2 2 2 1.9 4 3.4 4 2.9 4.1 2.4 4 1.9 2 .9 4 1.3 4 1 4.1 .6 6 .5 6 .2M382.7 489.5l12-2.1 14.1-2.8 16.1-3.6 16.1-4 12.1-3.2 12-3.4 24.1-7.2 6.1-1.5 10-2.3 6.1-1.5 4-1.3 2-.7 8-3.2 8.1-3.6 6-3.1 2-1.2 2-1.5 2-1.6 2-2 2.1-2.2 2-2.4 2-2.7 2-3.1 2-3.4 2-3.7 2-4.1 2-4.5M260.5 248.6l2 33.9 2 27.6 2 22.7 2.1 18.8 2 16 2 13.6 2 11.8 2 10.3 2 9.1 2 8.2 2 7.3 2 6.7 2 6.1 2.1 5.3 2 4.8 2 4.3 2 3.8 2 3.5 2 3 2 2.8 2 2.5 2 2.2 2.1 2 4 3.6 4 3.1 4 2.6 4 2.2 4.1 1.7 2 .8 4 1.1 4 .8 4 .4 6.1 .4 6 0M383.2 488.6l12-2.1 14.1-2.8 14.1-3.3 16-3.9 12.1-3.2 12.1-3.4 24.1-7.1 6-1.5 10.1-2.3 6-1.6 6-1.9 8.1-3.1 8-3.5 6.1-3 2-1.2 2-1.3 2-1.6 2-1.9 2-2 2-2.3 2-2.6 2-2.9 2.1-3.1 2-3.5 2-3.9 2-4.2M259 252.1l2 33.4 2 27.1 2 22.3 2 18.5 2 15.7 2 13.4 2 11.5 2.1 10.2 2 8.9 2 8 2 7.3 2 6.6 2 6 2 5.3 2 4.7 2 4.2 2 3.8 2.1 3.4 2 3 2 2.7 2 2.5 2 2.2 2 2 4 3.5 4.1 3.1 4 2.6 4 2.1 4 1.7 2 .7 4 1.2 4.1 .7 4 .4 6 .4 6.1 0M381.6 488.1l12.1-2.1 12-2.5 14.1-3.1 16.1-4 12.1-3.1 12-3.4 26.2-7.6 6-1.5 12.1-2.8 4-1 6-1.9 8-3.1 8.1-3.3 6-2.9 2-1.1 2-1.3 2-1.6 2.1-1.7 2-2 2-2.1 2-2.5 2-2.6 2-3 2-3.3 2-3.5 2-3.9M257.4 255.7l2 32.9 2 26.7 2.1 21.9 2 18.2 2 15.3 2 13.2 2 11.3 2 9.9 2 8.8 2 7.9 2 7.1 2.1 6.5 2 5.9 2 5.3 2 4.6 2 4.2 2 3.7 2 3.3 2 3 2 2.7 2 2.4 2.1 2.2 2 2 4 3.4 4 3.1 4 2.5 4.1 2.1 4 1.7 2 .7 4 1.1 4 .8 4 .4 6.1 .2 6 0M382.1 487.3l12-2.2 12.1-2.5 14.1-3.3 16.1-4 22.1-5.9 26.1-7.6 6-1.5 12.1-2.7 4-1 6.1-1.9 8-3 8-3.3 6.1-2.8 2-1 2-1.3 2-1.4 2-1.7 2-1.8 2-2.1 2-2.3 2.1-2.5 2-2.7 2-3.1 2-3.3 2-3.6M255.9 259.6l2 32.4 2 26.1 2 21.5 2 17.8 2 15.1 2 12.8 2.1 11.2 2 9.7 2 8.6 2 7.8 2 7 2 6.4 2 5.8 2 5.1 2 4.6 2.1 4.1 2 3.7 2 3.3 2 2.9 2 2.6 2 2.4 2 2.2 2 1.9 4 3.4 2.1 1.5 4 2.8 4 2.3 4 1.9 4 1.4 4.1 1.1 4 .7 6 .5 6 .2 6.1-.2M382.5 486.4l12.1-2.3 12.1-2.5 14-3.3 14.1-3.5 22.1-5.9 26.2-7.6 6-1.5 12.1-2.7 4-1 6-1.9 8.1-2.9 8-3.2 6-2.7 2-1 2.1-1.2 2-1.4 2-1.5 2-1.8 2-1.9 2-2.1 2-2.4 2-2.6 2-2.8 2-3 2.1-3.3M254.3 263.7l2.1 31.8 2 25.6 2 21 2 17.5 2 14.8 2 12.5 2 10.9 2 9.6 2 8.4 2 7.6 2.1 6.9 2 6.3 2 5.7 2 5.1 2 4.5 2 4 2 3.6 2 3.2 2 2.9 2.1 2.6 2 2.3 2 2.1 2 1.9 4 3.4 2 1.5 4 2.7 4.1 2.3 4 1.8 4 1.5 4 1 4 .7 6.1 .5 6 .1 6-.2M381 485.9l12.1-2.3 12-2.6 14.1-3.3 14.1-3.5 22.1-5.9 26.1-7.5 6.1-1.4 12-2.8 4-1 6.1-1.8 8-2.9 8.1-3.1 6-2.6 2-1 2-1.1 2-1.3 2-1.5 2-1.7 2.1-1.8 2-2 2-2.2 2-2.3 2-2.6 2-2.9 2-3M252.8 268l2 31.1 2 25.2 2 20.5 2 17.1 2 14.5 2.1 12.3 2 10.6 2 9.3 2 8.3 2 7.4 2 6.8 2 6.2 2 5.6 2 5 2.1 4.4 2 3.9 2 3.6 2 3.1 2 2.9 2 2.5 2 2.3 2 2.1 2 1.8 4.1 3.3 2 1.5 4 2.7 4 2.2 4 1.8 4.1 1.4 4 1 4 .7 6 .4 6.1 .1 6-.2M381.5 485l12-2.3 12.1-2.7 12.1-2.8 14-3.5 22.1-5.9 26.2-7.5 6-1.4 12.1-2.8 4-1 6-1.8 8.1-2.8 8-3.1 6-2.4 2.1-1 2-1.1 2-1.2 2-1.4 2-1.6 2-1.7 2-1.8 2-2.1 2-2.2 2.1-2.4 2-2.6 2-2.8M251.3 272.5l2 30.5 2 24.6 2 20.1 2 16.7 2 14.1 2 12 2 10.4 2 9.1 2 8.1 2.1 7.2 2 6.6 2 6.1 2 5.5 2 4.9 2 4.4 2 3.8 2 3.5 2 3.1 2.1 2.8 2 2.5 2 2.2 2 2 2 1.8 4 3.3 2 1.4 4 2.6 4.1 2.2 4 1.8 4 1.4 2 .5 4 .8 4.1 .5 6 .2 6 0 6.1-.3M381.9 484.1l10.1-2 12.1-2.6 12-2.8 14.1-3.6 22.1-5.9 26.1-7.4 6.1-1.4 12-2.8 4.1-1 6-1.8 8-2.8 8.1-2.9 6-2.4 2-.9 2-1.1 4-2.5 4.1-3 4-3.7 4-4.2 4-5M249.7 277.1l2 29.9 2 24 2 19.7 2.1 16.3 2 13.7 2 11.7 2 10.1 2 8.9 2 7.9 2 7.1 2 6.5 2 5.9 2 5.4 2.1 4.8 2 4.3 2 3.8 2 3.4 2 3 2 2.8 2 2.4 2 2.2 2 1.9 2.1 1.8 4 3.2 2 1.4 4 2.5 4 2.2 4 1.7 4.1 1.4 2 .5 4 .8 4 .4 6.1 .2 6-.1 6-.3M380.4 483.6l10-2 12.1-2.6 12.1-2.9 12-3 24.2-6.4 26.1-7.4 6-1.5 12.1-2.7 4-1 4-1.2 8.1-2.6 8-2.8 8.1-3.1 2-.9 4-2.1 4-2.6 2-1.5 4-3.4 4.1-3.9 4-4.6M248.2 282l2 29.2 2 23.4 2 19.2 2 15.9 2 13.3 2 11.4 2 9.9 2.1 8.7 2 7.7 2 6.9 2 6.3 2 5.8 2 5.3 2 4.7 2 4.2 2 3.7 2 3.3 2.1 3 2 2.7 2 2.3 2 2.2 2 1.9 2 1.7 4 3.1 2 1.4 4.1 2.5 4 2.1 4 1.7 4 1.3 2 .5 4.1 .7 4 .4 6 .2 6-.2 6.1-.3M380.9 482.7l10-2 10.1-2.3 12-2.8 12.1-3.1 22.1-5.8 28.2-7.9 22.1-5.2 4-1.2 8-2.6 8.1-2.8 8-2.9 2-.9 4-2 4.1-2.5 2-1.4 4-3.1 4-3.6 4-4.2M246.6 287l2 28.5 2 22.9 2.1 18.6 2 15.5 2 13 2 11.1 2 9.6 2 8.4 2 7.5 2 6.8 2 6.1 2.1 5.7 2 5.2 2 4.6 2 4.1 2 3.6 2 3.2 2 2.9 2 2.6 2 2.3 2 2.1 2.1 1.9 4 3.2 4 2.8 2 1.3 4 2.2 4.1 1.8 4 1.5 4 1.1 4 .7 4 .3 6.1 .2 6-.2 8-.6M381.3 481.8l10.1-2.1 10-2.3 22.1-5.4 22.2-5.8 28.1-7.9 22.1-5.3 4-1.1 6.1-1.9 10-3.4 8.1-2.9 2-.8 4-1.9 2-1.1 4-2.6 4.1-2.9 4-3.3 4-3.8M245.1 292.2l2 27.8 2 22.3 2 18.1 2 15 2 12.7 2 10.8 2.1 9.3 2 8.2 2 7.2 2 6.6 2 6 2 5.6 2 5 2 4.5 2 4 2.1 3.5 2 3.2 2 2.8 2 2.5 2 2.3 2 2 2 1.8 4 3.1 4.1 2.8 2 1.2 4 2.2 4 1.8 4 1.4 4 1 4.1 .7 4 .3 6 .1 6.1-.3 8-.6M379.8 481.3l10-2.1 10.1-2.3 22.1-5.5 22.1-5.8 28.2-7.8 22.1-5.3 4-1.1 6-1.9 10.1-3.3 8-2.9 2-.7 4.1-1.9 4-2.2 4-2.5 2-1.4 4-3 4.1-3.4M243.5 297.6l2 27 2.1 21.7 2 17.6 2 14.6 2 12.3 2 10.4 2 9 2 8 2 7.1 2 6.3 2.1 5.9 2 5.4 2 4.9 2 4.4 2 3.8 2 3.5 2 3.1 2 2.7 2 2.4 2 2.2 2.1 2 2 1.8 2 1.5 4 2.9 4 2.4 2 1.1 4.1 2 4 1.5 4 1.2 4 .8 4 .4 4.1 .2 6-.1 6-.3 6.1-.5M380.3 480.4l18-4 20.2-5 24.1-6.4 26.1-7.2 6-1.6 16.1-3.7 6.1-1.7 4-1.2 10-3.2 8.1-2.7 4-1.5 4-1.8 4-2 2.1-1.2 4-2.5 4-2.8 4-3M242 303.2l2 26.2 2 21 2 17.1 2 14.2 2 11.9 2.1 10.1 2 8.7 2 7.7 2 6.9 2 6.1 2 5.7 2 5.3 2 4.8 2 4.2 2.1 3.8 2 3.3 2 3 2 2.7 2 2.3 2 2.2 2 1.9 2 1.7 2 1.5 4.1 2.7 4 2.4 2 1.1 4 1.8 4 1.5 4.1 1.1 4 .8 4 .4 4 .1 6-.1 6.1-.3 6-.6M380.7 479.5l16.1-3.7 20.1-4.9 24.1-6.4 28.2-7.8 20.1-4.8 8-2.2 18.1-5.8 4-1.3 4.1-1.6 4-1.8 6-3.2 4-2.5 6.1-4M240.5 308.9l2 25.5 2 20.3 2 16.6 2 13.7 2 11.5 2 9.7 2 8.5 2 7.4 2 6.6 2.1 6 2 5.5 2 5.1 2 4.7 2 4.1 2 3.6 2 3.3 2 2.9 2 2.6 2.1 2.3 2 2 2 1.9 2 1.6 2 1.5 4 2.6 4 2.3 2 1 4.1 1.8 4 1.5 4 1 4 .8 4.1 .3 6 .1 6-.3 6-.5 6.1-.6M379.2 479l16.1-3.7 20.1-5 24.1-6.4 28.1-7.8 20.1-4.8 8.1-2.2 18.1-5.6 4-1.4 4-1.5 4-1.7 6.1-3 4-2.2 6-3.7M238.9 314.8l2 24.7 2 19.7 2 16 2.1 13.2 2 11.1 2 9.4 2 8.1 2 7.2 2 6.4 2 5.8 2 5.3 2 5 2 4.5 2.1 4 2 3.5 2 3.1 2 2.8 2 2.5 2 2.2 2 2 2 1.8 2 1.6 2.1 1.4 4 2.5 4 2.2 2 1 4 1.7 4 1.4 4.1 1 4 .7 4 .3 6 0 6.1-.3 6-.5 6-.7M379.6 478.1l16.1-3.8 18.1-4.5 22.1-5.9 30.2-8.3 20.1-4.8 8-2.2 18.1-5.6 4.1-1.3 4-1.4 4-1.7 6-2.8 4.1-2.1 6-3.3M237.4 320.9l2 23.8 2 19 2 15.5 2 12.7 2 10.7 2 9 2 7.9 2.1 6.9 2 6.2 2 5.5 2 5.2 2 4.8 2 4.3 2 3.9 2 3.4 2 3 2 2.7 2.1 2.4 2 2.1 2 2 2 1.7 2 1.5 2 1.3 4 2.5 4.1 2.1 2 .9 4 1.7 4 1.3 4 1 4 .6 4.1 .3 6-.1 6-.3 6.1-.6 6-.7M380.1 477.1l16.1-3.8 16.1-4.1 22.1-5.8 30.2-8.4 20.1-4.8 8-2.2 18.1-5.5 8-2.7 4.1-1.5 4-1.8 6-2.8 6-3M235.8 327.1l2 23 2 18.3 2.1 14.9 2 12.2 2 10.3 2 8.7 2 7.5 2 6.7 2 5.9 2 5.4 2 4.9 2.1 4.6 2 4.2 2 3.7 2 3.3 2 2.9 2 2.6 2 2.4 2 2 2 1.8 2 1.7 2.1 1.4 2 1.3 4 2.3 4 2.1 2 .9 4 1.5 4.1 1.3 4 .9 4 .6 4 .2 6.1-.1 6-.4 6-.6 6-.8M378.6 476.6l16.1-3.8 16-4.1 22.2-5.9 30.1-8.3 18.1-4.4 8-2.1 20.2-6 8-2.6 8-3.2 12.1-5.2M234.3 333.4l2 22.2 2 17.6 2 14.3 2 11.7 2 9.9 2 8.3 2.1 7.3 2 6.3 2 5.7 2 5.2 2 4.7 2 4.5 2 4 2 3.6 2 3.1 2 2.8 2.1 2.5 2 2.2 2 2 2 1.8 2 1.5 2 1.4 2 1.2 6.1 3.2 4 1.8 2 .8 4 1.4 2 .5 4 .8 4.1 .5 4 .2 6-.1 6-.5 6.1-.6 8-1.1M379 475.6l14.1-3.4 16.1-4.1 22.1-5.9 30.2-8.3 18.1-4.4 8-2.1 20.1-5.9 8.1-2.6 6-2.2 14.1-5.6M232.7 339.9l2 21.3 2.1 16.9 2 13.7 2 11.3 2 9.4 2 8 2 6.9 2 6.1 2 5.4 2 4.9 2.1 4.6 2 4.2 2 3.9 2 3.5 2 3 2 2.7 2 2.3 2 2.2 2 1.8 2 1.7 2.1 1.5 2 1.3 2 1.2 6 3 4 1.7 2 .8 4.1 1.2 2 .5 4 .8 4 .5 4 .1 6.1-.2 6-.5 6-.7 8.1-1.2M379.5 474.7l16.1-4 18.1-4.7 20.1-5.4 26.1-7.2 18.1-4.5 8.1-2.1 26.1-7.7 6-2.1 16.1-5.8M231.2 346.6l2 20.4 2 16.2 2 13 2 10.8 2 9 2.1 7.6 2 6.6 2 5.8 2 5.2 2 4.7 4 8.4 2 3.7 2 3.3 2.1 2.9 2 2.5 2 2.3 2 2 2 1.8 2 1.6 2 1.4 2 1.3 2 1.1 6.1 2.8 4 1.6 2 .7 4 1.2 4 .9 2.1 .3 4 .4 4 .1 6-.3 6.1-.6 6-.7 8-1.2M378 474.2l16-4 18.1-4.7 18.1-4.9 28.2-7.8 18.1-4.5 8-2.1 26.2-7.6 6-2 10-3.5 6.1-1.9M229.7 353.4l2 19.4 2 15.5 2 12.5 2 10.2 2 8.5 2 7.3 2 6.3 2 5.5 2 4.9 2.1 4.5 4 8 2 3.6 2 3.1 2 2.7 2 2.5 2 2.1 2 1.9 2.1 1.7 2 1.5 2 1.4 2 1.1 2 1.1 6 2.7 4 1.5 2.1 .6 4 1.1 4 .8 2 .3 4 .3 4.1 .1 6-.4 6-.6 6-.8 8.1-1.2M378.4 473.2l16.1-4.1 18.1-4.7 44.2-12.2 18.1-4.5 8.1-2.1 26.1-7.6 16.1-5.2 6-1.7M228.1 360.3l2 18.5 2 14.7 2 11.9 2.1 9.7 2 8.1 2 6.9 2 5.9 2 5.3 2 4.6 2 4.3 4 7.6 2 3.4 2.1 2.9 2 2.6 2 2.4 2 2 2 1.8 2 1.6 2 1.4 2 1.2 4.1 2.1 6 2.5 4 1.4 2 .6 4 1 4.1 .7 2 .3 4 .2 4 0 6-.4 6.1-.6 6-.9 8-1.3M378.9 472.2l16.1-4.1 16.1-4.3 44.2-12.2 24.1-6.1 28.2-8 16.1-5 6-1.6M226.6 367.3l2 17.6 2 14 2 11.2 2 9.2 2 7.7 2 6.5 2 5.6 2.1 4.9 2 4.4 2 4 4 7.2 2 3.2 2 2.8 2 2.5 2 2.2 2 1.9 2.1 1.7 2 1.5 2 1.3 2 1.2 4 1.9 6 2.3 6.1 1.8 4 .9 4 .7 4 .3 4.1 .1 4-.2 6-.6 6-.7 6.1-.9 8-1.4M377.4 471.7l16-4.2 16.1-4.2 44.3-12.2 24.1-6.2 28.1-8 14.1-4.2 4-1.1 4-.9M225 374.4l2 16.7 2 13.2 2.1 10.6 2 8.7 2 7.2 2 6.1 2 5.3 2 4.6 2 4.2 2 3.7 4 6.8 2.1 3 2 2.7 2 2.3 2 2 2 1.8 2 1.6 2 1.4 2 1.2 2 1.1 4.1 1.8 6 2.1 6 1.7 4 .8 4.1 .5 4 .3 4 0 4-.2 6.1-.7 6-.8 6-.9 8.1-1.5M377.8 470.7l16.1-4.2 16.1-4.3 42.2-11.7 24.1-6.2 42.3-12.1 4-1 4-.8M223.5 381.7l2 15.7 2 12.4 2 10 2 8.1 2 6.8 2 5.7 2.1 5 2 4.3 2 3.9 2 3.5 4 6.4 2 2.8 2 2.5 2 2.1 2 1.9 2.1 1.7 2 1.5 2 1.3 2 1.1 2 1 4 1.6 6.1 1.9 6 1.5 4 .7 4 .5 4 .2 4.1 0 4-.3 6-.7 6.1-.9 6-1 8-1.5M378.3 469.7l30.1-8.1 42.3-11.7 24.1-6.3 40.2-11.3 6-1.5 4.1-.8M221.9 389l2 14.8 2.1 11.6 2 9.4 2 7.6 2 6.3 2 5.3 2 4.6 2 4 2 3.7 2 3.2 4.1 6 2 2.6 2 2.3 2 2 2 1.8 2 1.5 2 1.4 2 1.2 2 1 2.1 .9 4 1.5 6 1.7 6 1.3 4.1 .6 4 .4 4 .1 4-.1 4-.3 6.1-.8 6-.9 6-1.1 8.1-1.5M376.7 469.1l30.2-8 42.2-11.8 24.1-6.3 38.2-10.8 6.1-1.5 6-1.1"/></g>
<path d="M441.7 671.0L843.8 551.3M441.7 671.0L133.1 514.9M133.1 514.9L133.1 174.7M441.7 671.0L450.4 675.4M542.2 641.1L551.0 645.5M642.8 611.1L651.5 615.6M743.3 581.2L752.0 585.6M843.8 551.3L852.5 555.7M441.7 671.0L432.3 673.8M364.6 632.0L355.2 634.8M287.4 593.0L278.0 595.7M210.2 553.9L200.9 556.7M133.1 514.9L123.7 517.7M133.1 514.9L124.4 510.5M133.1 446.9L124.4 442.4M133.1 378.8L124.4 374.4M133.1 310.8L124.4 306.4M133.1 242.7L124.4 238.3M133.1 174.7L124.4 170.3" fill="none" stroke="#262626" stroke-width="1" stroke-opacity=".62"/><g font-family="'Liberation Sans',Arial,Helvetica,sans-serif" font-size="20.6" fill="#303030"><text x="457.3" y="700.1">-100</text><text x="557.8" y="670.2">-50</text><text x="658.4" y="640.2">0</text><text x="758.9" y="610.3">50</text><text x="859.4" y="580.4">100</text><text x="424.2" y="697.4" text-anchor="end">-100</text><text x="347.1" y="658.4" text-anchor="end">-50</text><text x="269.9" y="619.4" text-anchor="end">0</text><text x="192.8" y="580.3" text-anchor="end">50</text><text x="115.6" y="541.3" text-anchor="end">100</text><text x="116.9" y="516.2" text-anchor="end">0</text><text x="116.9" y="448.2" text-anchor="end">0.05</text><text x="116.9" y="380.1" text-anchor="end">0.1</text><text x="116.9" y="312.1" text-anchor="end">0.15</text><text x="116.9" y="244.0" text-anchor="end">0.2</text><text x="116.9" y="176.0" text-anchor="end">0.25</text></g><g font-family="'Liberation Sans',Arial,Helvetica,sans-serif" font-size="22.2" fill="#303030"><text><tspan x="215.3" y="692.2">thita</tspan><tspan x="258.2" y="702.8" font-size="16">r</tspan><tspan x="269.8" y="692.2">\°</tspan></text><text><tspan x="620.8" y="700.9">thita</tspan><tspan x="662.9" y="712.3" font-size="16">i</tspan><tspan x="673.7" y="700.9">\°</tspan></text><text transform="translate(64.9 345.6) rotate(-90)" text-anchor="middle">center offset \pixel</text></g>
<rect x="912.8" y="73.0" width="26.8" height="606.60" fill="#00008f"/><rect x="912.8" y="73.0" width="26.8" height="597.12" fill="#00009f"/><rect x="912.8" y="73.0" width="26.8" height="587.64" fill="#0000af"/><rect x="912.8" y="73.0" width="26.8" height="578.17" fill="#0000bf"/><rect x="912.8" y="73.0" width="26.8" height="568.69" fill="#0000cf"/><rect x="912.8" y="73.0" width="26.8" height="559.21" fill="#0000df"/><rect x="912.8" y="73.0" width="26.8" height="549.73" fill="#0000ef"/><rect x="912.8" y="73.0" width="26.8" height="540.25" fill="#0000ff"/><rect x="912.8" y="73.0" width="26.8" height="530.77" fill="#0010ff"/><rect x="912.8" y="73.0" width="26.8" height="521.30" fill="#0020ff"/><rect x="912.8" y="73.0" width="26.8" height="511.82" fill="#0030ff"/><rect x="912.8" y="73.0" width="26.8" height="502.34" fill="#0040ff"/><rect x="912.8" y="73.0" width="26.8" height="492.86" fill="#0050ff"/><rect x="912.8" y="73.0" width="26.8" height="483.38" fill="#0060ff"/><rect x="912.8" y="73.0" width="26.8" height="473.91" fill="#0070ff"/><rect x="912.8" y="73.0" width="26.8" height="464.43" fill="#0080ff"/><rect x="912.8" y="73.0" width="26.8" height="454.95" fill="#008fff"/><rect x="912.8" y="73.0" width="26.8" height="445.47" fill="#009fff"/><rect x="912.8" y="73.0" width="26.8" height="435.99" fill="#00afff"/><rect x="912.8" y="73.0" width="26.8" height="426.52" fill="#00bfff"/><rect x="912.8" y="73.0" width="26.8" height="417.04" fill="#00cfff"/><rect x="912.8" y="73.0" width="26.8" height="407.56" fill="#00dfff"/><rect x="912.8" y="73.0" width="26.8" height="398.08" fill="#00efff"/><rect x="912.8" y="73.0" width="26.8" height="388.60" fill="#00ffff"/><rect x="912.8" y="73.0" width="26.8" height="379.12" fill="#10ffef"/><rect x="912.8" y="73.0" width="26.8" height="369.65" fill="#20ffdf"/><rect x="912.8" y="73.0" width="26.8" height="360.17" fill="#30ffcf"/><rect x="912.8" y="73.0" width="26.8" height="350.69" fill="#40ffbf"/><rect x="912.8" y="73.0" width="26.8" height="341.21" fill="#50ffaf"/><rect x="912.8" y="73.0" width="26.8" height="331.73" fill="#60ff9f"/><rect x="912.8" y="73.0" width="26.8" height="322.26" fill="#70ff8f"/><rect x="912.8" y="73.0" width="26.8" height="312.78" fill="#80ff80"/><rect x="912.8" y="73.0" width="26.8" height="303.30" fill="#8fff70"/><rect x="912.8" y="73.0" width="26.8" height="293.82" fill="#9fff60"/><rect x="912.8" y="73.0" width="26.8" height="284.34" fill="#afff50"/><rect x="912.8" y="73.0" width="26.8" height="274.87" fill="#bfff40"/><rect x="912.8" y="73.0" width="26.8" height="265.39" fill="#cfff30"/><rect x="912.8" y="73.0" width="26.8" height="255.91" fill="#dfff20"/><rect x="912.8" y="73.0" width="26.8" height="246.43" fill="#efff10"/><rect x="912.8" y="73.0" width="26.8" height="236.95" fill="#ffff00"/><rect x="912.8" y="73.0" width="26.8" height="227.48" fill="#ffef00"/><rect x="912.8" y="73.0" width="26.8" height="218.00" fill="#ffdf00"/><rect x="912.8" y="73.0" width="26.8" height="208.52" fill="#ffcf00"/><rect x="912.8" y="73.0" width="26.8" height="199.04" fill="#ffbf00"/><rect x="912.8" y="73.0" width="26.8" height="189.56" fill="#ffaf00"/><rect x="912.8" y="73.0" width="26.8" height="180.08" fill="#ff9f00"/><rect x="912.8" y="73.0" width="26.8" height="170.61" fill="#ff8f00"/><rect x="912.8" y="73.0" width="26.8" height="161.13" fill="#ff8000"/><rect x="912.8" y="73.0" width="26.8" height="151.65" fill="#ff7000"/><rect x="912.8" y="73.0" width="26.8" height="142.17" fill="#ff6000"/><rect x="912.8" y="73.0" width="26.8" height="132.69" fill="#ff5000"/><rect x="912.8" y="73.0" width="26.8" height="123.22" fill="#ff4000"/><rect x="912.8" y="73.0" width="26.8" height="113.74" fill="#ff3000"/><rect x="912.8" y="73.0" width="26.8" height="104.26" fill="#ff2000"/><rect x="912.8" y="73.0" width="26.8" height="94.78" fill="#ff1000"/><rect x="912.8" y="73.0" width="26.8" height="85.30" fill="#ff0000"/><rect x="912.8" y="73.0" width="26.8" height="75.83" fill="#ef0000"/><rect x="912.8" y="73.0" width="26.8" height="66.35" fill="#df0000"/><rect x="912.8" y="73.0" width="26.8" height="56.87" fill="#cf0000"/><rect x="912.8" y="73.0" width="26.8" height="47.39" fill="#bf0000"/><rect x="912.8" y="73.0" width="26.8" height="37.91" fill="#af0000"/><rect x="912.8" y="73.0" width="26.8" height="28.43" fill="#9f0000"/><rect x="912.8" y="73.0" width="26.8" height="18.96" fill="#8f0000"/><rect x="912.8" y="73.0" width="26.8" height="9.48" fill="#800000"/><rect x="912.8" y="73.0" width="26.8" height="606.6" fill="none" stroke="#262626" stroke-width="1" stroke-opacity=".55"/><path d="M939.6 555.4h-5.5M939.6 431.1h-5.5M939.6 306.9h-5.5M939.6 182.6h-5.5" stroke="#262626" stroke-width="1" fill="none"/><g font-family="'Liberation Sans',Arial,Helvetica,sans-serif" font-size="18.8" fill="#303030"><text x="946.0" y="687.5">0</text><text x="946.0" y="563.3">0.05</text><text x="946.0" y="439.0">0.1</text><text x="946.0" y="314.8">0.15</text><text x="946.0" y="190.5">0.2</text></g>
<path d="M142.9 847.0V1423.0M142.9 1423.0H835.1M229.4 847.0V1423.0M142.9 1351.0H835.1M316.0 847.0V1423.0M142.9 1279.0H835.1M402.5 847.0V1423.0M142.9 1207.0H835.1M489.0 847.0V1423.0M142.9 1135.0H835.1M575.5 847.0V1423.0M142.9 1063.0H835.1M662.0 847.0V1423.0M142.9 991.0H835.1M748.6 847.0V1423.0M142.9 919.0H835.1M835.1 847.0V1423.0M142.9 847.0H835.1" fill="none" stroke="#e2e2e2" stroke-width="1"/><rect x="164.5" y="865.0" width="648.9" height="540.0" fill="#0000bf"/><g stroke="none"><path fill="#00008f" d="M164.5 1372.6h4.4v32.4h-4.4zm4.4 0h4.3v32.4h-4.3zm4.3-3.6h4.3v36h-4.3zm4.3 0h4.3v36h-4.3zm4.3-3.6h4.4v39.6h-4.4zm4.4 0h4.3v39.6h-4.3zm4.3-3.6h4.3v43.2h-4.3zm4.3 0h4.3v43.2h-4.3zm4.3-3.6h4.4v46.8h-4.4zm4.4-3.6h4.3v50.4h-4.3zm4.3 0h4.3v50.4h-4.3zm4.3-3.6h4.3v54h-4.3zm4.3 0h4.4v54h-4.4zm4.4-3.6h4.3v57.6h-4.3zm4.3 0h4.3v57.6h-4.3zm4.3 0h4.4v57.6h-4.4zm4.4-3.6h4.3v61.2h-4.3zm4.3 0h4.3v61.2h-4.3zm4.3 0h4.3v61.2h-4.3zm4.3-3.6h4.4v64.8h-4.4zm4.4 0h4.3v64.8h-4.3zm4.3 0h4.3v64.8h-4.3zm4.3 0h4.3v64.8h-4.3zm4.3-3.6h4.4v68.4h-4.4zm4.4 0h4.3v68.4h-4.3zm4.3 0h4.3v68.4h-4.3zm4.3 3.6h4.3v64.8h-4.3zm4.3 0h4.4v64.8h-4.4zm4.4 0h4.3v64.8h-4.3zm4.3 3.6h4.3v61.2h-4.3zm4.3 0h4.3v61.2h-4.3zm4.3 3.6h4.4v57.6h-4.4zm4.4 0h4.3v57.6h-4.3zm4.3 3.6h4.3v54h-4.3zm4.3 0h4.4v54h-4.4zm4.4 3.6h4.3v50.4h-4.3zm4.3 0h4.3v50.4h-4.3zm4.3 3.6h4.3v46.8h-4.3zm4.3 0h4.4v46.8h-4.4zm4.4 0h4.3v46.8h-4.3zm4.3 0h4.3v46.8h-4.3zm4.3 3.6h4.3v43.2h-4.3zm4.3 0h4.4v43.2h-4.4zm4.4 0h4.3v43.2h-4.3zm4.3 0h4.3v43.2h-4.3zm4.3 0h4.3v43.2h-4.3zm4.3 0h4.4v43.2h-4.4zm4.4 3.6h4.3v39.6h-4.3zm4.3 0h4.3v39.6h-4.3zm4.3 0h4.3v39.6h-4.3zm4.3 0h4.4v39.6h-4.4zm4.4 0h4.3v39.6h-4.3zm4.3 3.6h4.3v36h-4.3zm4.3 0h4.3v36h-4.3zm4.3 0h4.4v36h-4.4zm4.4 0h4.3v36h-4.3zm4.3 3.6h4.3v32.4h-4.3zm4.3 0h4.4v32.4h-4.4zm4.4 0h4.3v32.4h-4.3zm4.3 0h4.3v32.4h-4.3zm4.3 3.6h4.3v28.8h-4.3zm4.3 0h4.4v28.8h-4.4zm4.4 0h4.3v28.8h-4.3zm4.3 3.6h4.3v25.2h-4.3zm4.3 0h4.3v25.2h-4.3zm4.3 0h4.4v25.2h-4.4zm4.4 3.6h4.3v21.6h-4.3zm4.3 0h4.3v21.6h-4.3zm4.3 0h4.3v21.6h-4.3zm4.3 3.6h4.4v18h-4.4zm4.4 0h4.3v18h-4.3zm0-522h4.3v3.6h-4.3zm4.3 522h4.3v18h-4.3zm0-522h4.3v3.6h-4.3zm4.3 525.6h4.3v14.4h-4.3zm0-525.6h4.3v3.6h-4.3zm4.3 525.6h4.4v14.4h-4.4zm0-525.6h4.4v7.2h-4.4zm4.4 525.6h4.3v14.4h-4.3zm0-525.6h4.3v7.2h-4.3zm4.3 529.2h4.3v10.8h-4.3zm0-529.2h4.3v7.2h-4.3zm4.3 529.2h4.4v10.8h-4.4zm0-529.2h4.4v10.8h-4.4zm4.4 529.2h4.3v10.8h-4.3zm0-529.2h4.3v10.8h-4.3zm4.3 532.8h4.3v7.2h-4.3zm0-532.8h4.3v10.8h-4.3zm4.3 532.8h4.3v7.2h-4.3zm0-532.8h4.3v14.4h-4.3zm4.3 532.8h4.4v7.2h-4.4zm0-532.8h4.4v14.4h-4.4zm4.4 536.4h4.3v3.6h-4.3zm0-536.4h4.3v14.4h-4.3zm4.3 536.4h4.3v3.6h-4.3zm0-536.4h4.3v18h-4.3zm4.3 536.4h4.3v3.6h-4.3zm0-536.4h4.3v18h-4.3zm4.3 536.4h4.4v3.6h-4.4zm0-536.4h4.4v18h-4.4zm4.4 0h4.3v21.6h-4.3zm4.3 0h4.3v21.6h-4.3zm4.3 0h4.3v21.6h-4.3zm4.3 0h4.4v25.2h-4.4zm4.4 0h4.3v25.2h-4.3zm4.3 0h4.3v25.2h-4.3zm4.3 0h4.3v28.8h-4.3zm4.3 0h4.4v28.8h-4.4zm4.4 0h4.3v28.8h-4.3zm4.3 0h4.3v28.8h-4.3zm4.3 0h4.4v32.4h-4.4zm4.4 0h4.3v32.4h-4.3zm4.3 0h4.3v32.4h-4.3zm4.3 0h4.3v32.4h-4.3zm4.3 0h4.4v36h-4.4zm4.4 0h4.3v36h-4.3zm4.3 0h4.3v36h-4.3zm4.3 0h4.3v36h-4.3zm4.3 0h4.4v36h-4.4zm4.4 0h4.3v39.6h-4.3zm4.3 0h4.3v39.6h-4.3zm4.3 0h4.3v39.6h-4.3zm4.3 0h4.4v39.6h-4.4zm4.4 0h4.3v39.6h-4.3zm4.3 0h4.3v39.6h-4.3zm4.3 0h4.3v43.2h-4.3zm4.3 0h4.4v43.2h-4.4zm4.4 0h4.3v43.2h-4.3zm4.3 0h4.3v43.2h-4.3zm4.3 0h4.3v46.8h-4.3zm4.3 0h4.4v46.8h-4.4zm4.4 0h4.3v50.4h-4.3zm4.3 0h4.3v50.4h-4.3zm4.3 0h4.4v54h-4.4zm4.4 0h4.3v54h-4.3zm4.3 0h4.3v57.6h-4.3zm4.3 0h4.3v57.6h-4.3zm4.3 0h4.4v61.2h-4.4zm4.4 0h4.3v61.2h-4.3zm4.3 0h4.3v61.2h-4.3zm4.3 0h4.3v64.8h-4.3zm4.3 0h4.4v64.8h-4.4zm4.4 0h4.3v64.8h-4.3zm4.3 0h4.3v61.2h-4.3zm4.3 0h4.3v61.2h-4.3zm4.3 0h4.4v61.2h-4.4zm4.4 0h4.3v61.2h-4.3zm4.3 0h4.3v57.6h-4.3zm4.3 0h4.3v57.6h-4.3zm4.3 0h4.4v57.6h-4.4zm4.4 0h4.3v54h-4.3zm4.3 0h4.3v54h-4.3zm4.3 0h4.4v54h-4.4zm4.4 0h4.3v50.4h-4.3zm4.3 0h4.3v50.4h-4.3zm4.3 0h4.3v46.8h-4.3zm4.3 0h4.4v46.8h-4.4zm4.4 0h4.3v43.2h-4.3zm4.3 0h4.3v39.6h-4.3zm4.3 0h4.3v39.6h-4.3zm4.3 0h4.4v36h-4.4zm4.4 0h4.3v36h-4.3zm4.3 0h4.3v32.4h-4.3zm4.3 0h4.3v32.4h-4.3zm4.3 0h4.4v28.8h-4.4z"/><path fill="#00009f" d="M164.5 1354.6h4.4v18h-4.4zm4.4 0h4.3v18h-4.3zm4.3-3.6h4.3v18h-4.3zm4.3-3.6h4.3v21.6h-4.3zm4.3-3.6h4.4v21.6h-4.4zm4.4-3.6h4.3v25.2h-4.3zm4.3-3.6h4.3v25.2h-4.3zm4.3-3.6h4.3v28.8h-4.3zm4.3-3.6h4.4v28.8h-4.4zm4.4-7.2h4.3v32.4h-4.3zm4.3-3.6h4.3v36h-4.3zm4.3-3.6h4.3v36h-4.3zm4.3 0h4.4v36h-4.4zm4.4-3.6h4.3v36h-4.3zm4.3-3.6h4.3v39.6h-4.3zm4.3 0h4.4v39.6h-4.4zm4.4-3.6h4.3v39.6h-4.3zm4.3-3.6h4.3v43.2h-4.3zm4.3 0h4.3v43.2h-4.3zm4.3-3.6h4.4v43.2h-4.4zm4.4-3.6h4.3v46.8h-4.3zm4.3 0h4.3v46.8h-4.3zm4.3-3.6h4.3v50.4h-4.3zm4.3 0h4.4v46.8h-4.4zm4.4-3.6h4.3v50.4h-4.3zm4.3 0h4.3v50.4h-4.3zm4.3 0h4.3v54h-4.3zm4.3 0h4.4v54h-4.4zm4.4 0h4.3v54h-4.3zm4.3 0h4.3v57.6h-4.3zm4.3 0h4.3v57.6h-4.3zm4.3 0h4.4v61.2h-4.4zm4.4 3.6h4.3v57.6h-4.3zm4.3 0h4.3v61.2h-4.3zm4.3 0h4.4v61.2h-4.4zm4.4 0h4.3v64.8h-4.3zm4.3 3.6h4.3v61.2h-4.3zm4.3 0h4.3v64.8h-4.3zm4.3 0h4.4v64.8h-4.4zm4.4 0h4.3v64.8h-4.3zm4.3-3.6h4.3v68.4h-4.3zm4.3 0h4.3v72h-4.3zm4.3 0h4.4v72h-4.4zm0-424.8h4.4v3.6h-4.4zm4.4 424.8h4.3v72h-4.3zm0-424.8h4.3v3.6h-4.3zm4.3 424.8h4.3v72h-4.3zm0-424.8h4.3v7.2h-4.3zm4.3 424.8h4.3v72h-4.3zm0-424.8h4.3v7.2h-4.3zm4.3 424.8h4.4v72h-4.4zm0-424.8h4.4v10.8h-4.4zm4.4 424.8h4.3v75.6h-4.3zm0-424.8h4.3v14.4h-4.3zm4.3 421.2h4.3v79.2h-4.3zm0-421.2h4.3v14.4h-4.3zm4.3 421.2h4.3v79.2h-4.3zm0-421.2h4.3v18h-4.3zm4.3 421.2h4.4v79.2h-4.4zm0-421.2h4.4v18h-4.4zm4.4 421.2h4.3v79.2h-4.3zm0-421.2h4.3v21.6h-4.3zm4.3 424.8h4.3v79.2h-4.3zm0-424.8h4.3v25.2h-4.3zm4.3 424.8h4.3v79.2h-4.3zm0-424.8h4.3v25.2h-4.3zm4.3 424.8h4.4v79.2h-4.4zm0-424.8h4.4v28.8h-4.4zm4.4 424.8h4.3v79.2h-4.3zm0-424.8h4.3v32.4h-4.3zm4.3 424.8h4.3v82.8h-4.3zm0-424.8h4.3v32.4h-4.3zm4.3 424.8h4.4v82.8h-4.4zm0-424.8h4.4v36h-4.4zm4.4 424.8h4.3v82.8h-4.3zm0-424.8h4.3v39.6h-4.3zm4.3 428.4h4.3v79.2h-4.3zm0-428.4h4.3v39.6h-4.3zm4.3 428.4h4.3v82.8h-4.3zm0-428.4h4.3v43.2h-4.3zm4.3 428.4h4.4v82.8h-4.4zm0-428.4h4.4v46.8h-4.4zm4.4 432h4.3v79.2h-4.3zm0-432h4.3v46.8h-4.3zm4.3 432h4.3v82.8h-4.3zm0-432h4.3v50.4h-4.3zm4.3 432h4.3v82.8h-4.3zm0-432h4.3v54h-4.3zm4.3 435.6h4.4v79.2h-4.4zm0-435.6h4.4v57.6h-4.4zm4.4 435.6h4.3v82.8h-4.3zm0-435.6h4.3v57.6h-4.3zm4.3 439.2h4.3v79.2h-4.3zm0-439.2h4.3v61.2h-4.3zm4.3 439.2h4.3v79.2h-4.3zm0-439.2h4.3v64.8h-4.3zm4.3 442.8h4.4v79.2h-4.4zm0-442.8h4.4v64.8h-4.4zm4.4 442.8h4.3v79.2h-4.3zm0-439.2h4.3v64.8h-4.3zm4.3 442.8h4.3v75.6h-4.3zm0-442.8h4.3v68.4h-4.3zm4.3 446.4h4.3v75.6h-4.3zm0-446.4h4.3v72h-4.3zm4.3 446.4h4.4v75.6h-4.4zm0-442.8h4.4v68.4h-4.4zm4.4 446.4h4.3v72h-4.3zm0-446.4h4.3v72h-4.3zm4.3 446.4h4.3v75.6h-4.3zm0-446.4h4.3v75.6h-4.3zm4.3 450h4.4v72h-4.4zm0-446.4h4.4v72h-4.4zm4.4 450h4.3v68.4h-4.3zm0-450h4.3v75.6h-4.3zm4.3 450h4.3v72h-4.3zm0-450h4.3v75.6h-4.3zm4.3 453.6h4.3v68.4h-4.3zm0-450h4.3v75.6h-4.3zm4.3 453.6h4.4v64.8h-4.4zm0-453.6h4.4v79.2h-4.4zm4.4 457.2h4.3v64.8h-4.3zm0-457.2h4.3v79.2h-4.3zm4.3 457.2h4.3v64.8h-4.3zm0-453.6h4.3v79.2h-4.3zm4.3 457.2h4.3v61.2h-4.3zm0-457.2h4.3v79.2h-4.3zm4.3 460.8h4.4v57.6h-4.4zm0-460.8h4.4v82.8h-4.4zm4.4 460.8h4.3v61.2h-4.3zm0-457.2h4.3v79.2h-4.3zm4.3 460.8h4.3v57.6h-4.3zm0-460.8h4.3v82.8h-4.3zm4.3 464.4h4.3v54h-4.3zm0-464.4h4.3v82.8h-4.3zm4.3 468h4.4v50.4h-4.4zm0-464.4h4.4v79.2h-4.4zm4.4 464.4h4.3v50.4h-4.3zm0-464.4h4.3v82.8h-4.3zm4.3 468h4.3v46.8h-4.3zm0-468h4.3v82.8h-4.3zm4.3 471.6h4.3v43.2h-4.3zm0-468h4.3v79.2h-4.3zm4.3 468h4.4v43.2h-4.4zm0-468h4.4v82.8h-4.4zm4.4 471.6h4.3v39.6h-4.3zm0-471.6h4.3v82.8h-4.3zm4.3 475.2h4.3v36h-4.3zm0-475.2h4.3v82.8h-4.3zm4.3 475.2h4.4v36h-4.4zm0-471.6h4.4v79.2h-4.4zm4.4 475.2h4.3v32.4h-4.3zm0-475.2h4.3v79.2h-4.3zm4.3 478.8h4.3v28.8h-4.3zm0-478.8h4.3v79.2h-4.3zm4.3 478.8h4.3v28.8h-4.3zm0-478.8h4.3v79.2h-4.3zm4.3 482.4h4.4v25.2h-4.4zm0-478.8h4.4v79.2h-4.4zm4.4 482.4h4.3v21.6h-4.3zm0-482.4h4.3v79.2h-4.3zm4.3 482.4h4.3v21.6h-4.3zm0-482.4h4.3v79.2h-4.3zm4.3 486h4.3v18h-4.3zm0-486h4.3v79.2h-4.3zm4.3 486h4.4v18h-4.4zm0-486h4.4v75.6h-4.4zm4.4 489.6h4.3v14.4h-4.3zm0-486h4.3v72h-4.3zm4.3 489.6h4.3v10.8h-4.3zm0-489.6h4.3v72h-4.3zm4.3 489.6h4.3v10.8h-4.3zm0-489.6h4.3v72h-4.3zm4.3 493.2h4.4v7.2h-4.4zm0-493.2h4.4v72h-4.4zm4.4 493.2h4.3v7.2h-4.3zm0-493.2h4.3v72h-4.3zm4.3 496.8h4.3v3.6h-4.3zm0-496.8h4.3v72h-4.3zm4.3 496.8h4.3v3.6h-4.3zm0-493.2h4.3v68.4h-4.3zm4.3 0h4.4v64.8h-4.4zm4.4 0h4.3v64.8h-4.3zm4.3 0h4.3v64.8h-4.3zm4.3 3.6h4.3v61.2h-4.3zm4.3 0h4.4v64.8h-4.4zm4.4 3.6h4.3v61.2h-4.3zm4.3 0h4.3v61.2h-4.3zm4.3 3.6h4.4v57.6h-4.4zm4.4 0h4.3v61.2h-4.3zm4.3 3.6h4.3v57.6h-4.3zm4.3 0h4.3v57.6h-4.3zm4.3 3.6h4.4v54h-4.4zm4.4 0h4.3v54h-4.3zm4.3 0h4.3v54h-4.3zm4.3 3.6h4.3v50.4h-4.3zm4.3 0h4.4v50.4h-4.4zm4.4 0h4.3v46.8h-4.3zm4.3-3.6h4.3v50.4h-4.3zm4.3 0h4.3v46.8h-4.3zm4.3 0h4.4v46.8h-4.4zm4.4 0h4.3v43.2h-4.3zm4.3-3.6h4.3v43.2h-4.3zm4.3 0h4.3v43.2h-4.3zm4.3 0h4.4v39.6h-4.4zm4.4-3.6h4.3v39.6h-4.3zm4.3 0h4.3v39.6h-4.3zm4.3 0h4.4v36h-4.4zm4.4-3.6h4.3v36h-4.3zm4.3 0h4.3v36h-4.3zm4.3-3.6h4.3v36h-4.3zm4.3 0h4.4v32.4h-4.4zm4.4-3.6h4.3v28.8h-4.3zm4.3-3.6h4.3v28.8h-4.3zm4.3 0h4.3v25.2h-4.3zm4.3-3.6h4.4v25.2h-4.4zm4.4 0h4.3v21.6h-4.3zm4.3-3.6h4.3v21.6h-4.3zm4.3 0h4.3v18h-4.3zm4.3-3.6h4.4v18h-4.4z"/><path fill="#0000af" d="M164.5 1343.8h4.4v10.8h-4.4zm4.4-3.6h4.3v14.4h-4.3zm4.3-3.6h4.3v14.4h-4.3zm4.3-3.6h4.3v14.4h-4.3zm4.3-3.6h4.4v14.4h-4.4zm4.4-7.2h4.3v18h-4.3zm4.3-3.6h4.3v18h-4.3zm4.3-7.2h4.3v21.6h-4.3zm4.3-3.6h4.4v21.6h-4.4zm4.4-7.2h4.3v21.6h-4.3zm4.3-3.6h4.3v21.6h-4.3zm4.3-3.6h4.3v21.6h-4.3zm4.3-3.6h4.4v25.2h-4.4zm4.4-3.6h4.3v25.2h-4.3zm4.3-3.6h4.3v25.2h-4.3zm4.3-3.6h4.4v28.8h-4.4zm4.4-3.6h4.3v28.8h-4.3zm4.3-3.6h4.3v28.8h-4.3zm4.3-3.6h4.3v32.4h-4.3zm4.3 0h4.4v28.8h-4.4zm4.4-3.6h4.3v28.8h-4.3zm4.3-3.6h4.3v32.4h-4.3zm4.3-3.6h4.3v32.4h-4.3zm4.3-3.6h4.4v36h-4.4zm4.4-3.6h4.3v36h-4.3zm4.3 0h4.3v36h-4.3zm4.3-3.6h4.3v39.6h-4.3zm4.3 0h4.4v39.6h-4.4zm4.4 0h4.3v39.6h-4.3zm4.3-3.6h4.3v43.2h-4.3zm4.3 0h4.3v43.2h-4.3zm4.3 0h4.4v43.2h-4.4zm4.4 0h4.3v46.8h-4.3zm4.3 0h4.3v46.8h-4.3zm0-378h4.3v3.6h-4.3zm4.3 378h4.4v46.8h-4.4zm0-378h4.4v7.2h-4.4zm4.4 378h4.3v46.8h-4.3zm0-378h4.3v10.8h-4.3zm4.3 378h4.3v50.4h-4.3zm0-378h4.3v14.4h-4.3zm4.3 378h4.3v50.4h-4.3zm0-378h4.3v18h-4.3zm4.3 374.4h4.4v54h-4.4zm0-374.4h4.4v21.6h-4.4zm4.4 374.4h4.3v54h-4.3zm0-374.4h4.3v25.2h-4.3zm4.3 370.8h4.3v54h-4.3zm0-370.8h4.3v28.8h-4.3zm4.3 367.2h4.3v57.6h-4.3zm0-367.2h4.3v32.4h-4.3zm4.3 367.2h4.4v57.6h-4.4zm0-363.6h4.4v32.4h-4.4zm4.4 360h4.3v61.2h-4.3zm0-360h4.3v36h-4.3zm4.3 360h4.3v61.2h-4.3zm0-356.4h4.3v36h-4.3zm4.3 352.8h4.3v64.8h-4.3zm0-352.8h4.3v39.6h-4.3zm4.3 352.8h4.4v64.8h-4.4zm0-349.2h4.4v39.6h-4.4zm4.4 345.6h4.3v68.4h-4.3zm0-342h4.3v39.6h-4.3zm4.3 338.4h4.3v68.4h-4.3zm0-338.4h4.3v43.2h-4.3zm4.3 338.4h4.3v68.4h-4.3zm0-334.8h4.3v43.2h-4.3zm4.3 331.2h4.4v72h-4.4zm0-331.2h4.4v46.8h-4.4zm4.4 331.2h4.3v72h-4.3zm0-327.6h4.3v46.8h-4.3zm4.3 324h4.3v79.2h-4.3zm0-320.4h4.3v46.8h-4.3zm4.3 320.4h4.3v79.2h-4.3zm0-320.4h4.3v54h-4.3zm4.3 316.8h4.4v82.8h-4.4zm0-313.2h4.4v54h-4.4zm4.4 313.2h4.3v82.8h-4.3zm0-309.6h4.3v54h-4.3zm4.3 309.6h4.3v82.8h-4.3zm0-309.6h4.3v57.6h-4.3zm4.3 306h4.4v86.4h-4.4zm0-302.4h4.4v61.2h-4.4zm4.4 302.4h4.3v86.4h-4.3zm0-298.8h4.3v61.2h-4.3zm4.3 298.8h4.3v90h-4.3zm0-298.8h4.3v68.4h-4.3zm4.3 295.2h4.3v93.6h-4.3zm0-291.6h4.3v68.4h-4.3zm4.3 291.6h4.4v93.6h-4.4zm0-288h4.4v68.4h-4.4zm4.4 288h4.3v97.2h-4.3zm0-288h4.3v75.6h-4.3zm4.3 288h4.3v97.2h-4.3zm0-284.4h4.3v75.6h-4.3zm4.3 280.8h4.3v100.8h-4.3zm0-277.2h4.3v79.2h-4.3zm4.3 277.2h4.4v104.4h-4.4zm0-273.6h4.4v79.2h-4.4zm4.4 273.6h4.3v104.4h-4.3zm0-273.6h4.3v86.4h-4.3zm4.3 277.2h4.3v104.4h-4.3zm0-273.6h4.3v90h-4.3zm4.3 273.6h4.3v104.4h-4.3zm0-270h4.3v90h-4.3zm4.3 270h4.4v108h-4.4zm0-270h4.4v97.2h-4.4zm4.4 270h4.3v108h-4.3zm0-266.4h4.3v97.2h-4.3zm4.3 270h4.3v108h-4.3zm0-266.4h4.3v97.2h-4.3zm4.3 266.4h4.3v111.6h-4.3zm0-262.8h4.3v100.8h-4.3zm4.3 266.4h4.4v108h-4.4zm0-266.4h4.4v104.4h-4.4zm4.4 270h4.3v108h-4.3zm0-266.4h4.3v104.4h-4.3zm4.3 270h4.3v104.4h-4.3zm0-266.4h4.3v104.4h-4.3zm4.3 270h4.4v104.4h-4.4zm0-270h4.4v108h-4.4zm4.4 273.6h4.3v104.4h-4.3zm0-270h4.3v108h-4.3zm4.3 273.6h4.3v100.8h-4.3zm0-273.6h4.3v111.6h-4.3zm4.3 280.8h4.3v97.2h-4.3zm0-277.2h4.3v108h-4.3zm4.3 280.8h4.4v97.2h-4.4zm0-277.2h4.4v108h-4.4zm4.4 280.8h4.3v97.2h-4.3zm0-280.8h4.3v108h-4.3zm4.3 288h4.3v90h-4.3zm0-284.4h4.3v104.4h-4.3zm4.3 288h4.3v90h-4.3zm0-288h4.3v104.4h-4.3zm4.3 295.2h4.4v86.4h-4.4zm0-291.6h4.4v104.4h-4.4zm4.4 298.8h4.3v79.2h-4.3zm0-298.8h4.3v104.4h-4.3zm4.3 302.4h4.3v79.2h-4.3zm0-298.8h4.3v100.8h-4.3zm4.3 306h4.3v75.6h-4.3zm0-306h4.3v97.2h-4.3zm4.3 309.6h4.4v75.6h-4.4zm0-309.6h4.4v97.2h-4.4zm4.4 316.8h4.3v68.4h-4.3zm0-313.2h4.3v93.6h-4.3zm4.3 316.8h4.3v68.4h-4.3zm0-316.8h4.3v93.6h-4.3zm4.3 320.4h4.3v68.4h-4.3zm0-320.4h4.3v90h-4.3zm4.3 327.6h4.4v61.2h-4.4zm0-324h4.4v86.4h-4.4zm4.4 327.6h4.3v61.2h-4.3zm0-327.6h4.3v86.4h-4.3zm4.3 334.8h4.3v57.6h-4.3zm0-334.8h4.3v82.8h-4.3zm4.3 338.4h4.4v54h-4.4zm0-338.4h4.4v82.8h-4.4zm4.4 342h4.3v54h-4.3zm0-342h4.3v82.8h-4.3zm4.3 345.6h4.3v54h-4.3zm0-345.6h4.3v79.2h-4.3zm4.3 352.8h4.3v46.8h-4.3zm0-352.8h4.3v79.2h-4.3zm4.3 356.4h4.4v46.8h-4.4zm0-352.8h4.4v72h-4.4zm4.4 356.4h4.3v46.8h-4.3zm0-356.4h4.3v72h-4.3zm4.3 360h4.3v43.2h-4.3zm0-360h4.3v68.4h-4.3zm4.3 363.6h4.3v43.2h-4.3zm0-363.6h4.3v68.4h-4.3zm4.3 367.2h4.4v39.6h-4.4zm0-370.8h4.4v68.4h-4.4zm4.4 374.4h4.3v39.6h-4.3zm0-374.4h4.3v64.8h-4.3zm4.3 378h4.3v39.6h-4.3zm0-378h4.3v64.8h-4.3zm4.3 381.6h4.3v36h-4.3zm0-381.6h4.3v61.2h-4.3zm4.3 385.2h4.4v36h-4.4zm0-385.2h4.4v61.2h-4.4zm4.4 388.8h4.3v32.4h-4.3zm0-388.8h4.3v57.6h-4.3zm4.3 392.4h4.3v32.4h-4.3zm0-392.4h4.3v57.6h-4.3zm4.3 396h4.3v28.8h-4.3zm0-396h4.3v54h-4.3zm4.3 399.6h4.4v28.8h-4.4zm0-403.2h4.4v54h-4.4zm4.4 406.8h4.3v25.2h-4.3zm0-406.8h4.3v54h-4.3zm4.3 410.4h4.3v21.6h-4.3zm0-410.4h4.3v50.4h-4.3zm4.3 414h4.3v18h-4.3zm0-414h4.3v50.4h-4.3zm4.3 417.6h4.4v14.4h-4.4zm0-414h4.4v46.8h-4.4zm4.4 417.6h4.3v10.8h-4.3zm0-417.6h4.3v46.8h-4.3zm4.3 421.2h4.3v7.2h-4.3zm0-421.2h4.3v46.8h-4.3zm4.3 424.8h4.4v3.6h-4.4zm0-424.8h4.4v46.8h-4.4zm4.4 424.8h4.3v3.6h-4.3zm0-421.2h4.3v43.2h-4.3zm4.3 0h4.3v43.2h-4.3zm4.3 0h4.3v43.2h-4.3zm4.3 0h4.4v39.6h-4.4zm4.4 0h4.3v39.6h-4.3zm4.3 0h4.3v39.6h-4.3zm4.3 0h4.3v36h-4.3zm4.3 0h4.4v36h-4.4zm4.4-3.6h4.3v36h-4.3zm4.3 0h4.3v32.4h-4.3zm4.3-3.6h4.3v32.4h-4.3zm4.3 0h4.4v28.8h-4.4zm4.4-3.6h4.3v28.8h-4.3zm4.3-3.6h4.3v32.4h-4.3zm4.3 0h4.3v28.8h-4.3zm4.3-3.6h4.4v28.8h-4.4zm4.4-3.6h4.3v28.8h-4.3zm4.3 0h4.3v25.2h-4.3zm4.3-3.6h4.4v25.2h-4.4zm4.4-3.6h4.3v25.2h-4.3zm4.3 0h4.3v21.6h-4.3zm4.3-3.6h4.3v21.6h-4.3zm4.3-3.6h4.4v21.6h-4.4zm4.4-7.2h4.3v21.6h-4.3zm4.3-3.6h4.3v21.6h-4.3zm4.3-3.6h4.3v18h-4.3zm4.3-3.6h4.4v18h-4.4zm4.4-3.6h4.3v14.4h-4.3zm4.3-3.6h4.3v14.4h-4.3zm4.3-3.6h4.3v14.4h-4.3zm4.3-3.6h4.4v14.4h-4.4z"/><path fill="#0000bf" d="M164.5 1333h4.4v10.8h-4.4zm4.4-3.6h4.3v10.8h-4.3zm4.3-3.6h4.3v10.8h-4.3zm4.3-7.2h4.3v14.4h-4.3zm4.3-3.6h4.4v14.4h-4.4zm4.4-7.2h4.3v14.4h-4.3zm4.3-3.6h4.3v14.4h-4.3zm4.3-7.2h4.3v14.4h-4.3zm4.3-7.2h4.4v18h-4.4zm4.4-3.6h4.3v14.4h-4.3zm4.3-7.2h4.3v18h-4.3zm4.3-3.6h4.3v18h-4.3zm4.3-7.2h4.4v21.6h-4.4zm4.4-3.6h4.3v21.6h-4.3zm4.3-3.6h4.3v21.6h-4.3zm4.3-3.6h4.4v21.6h-4.4zm4.4-3.6h4.3v21.6h-4.3zm4.3-3.6h4.3v21.6h-4.3zm4.3-3.6h4.3v21.6h-4.3zm4.3-3.6h4.4v25.2h-4.4zm4.4-7.2h4.3v28.8h-4.3zm4.3-3.6h4.3v28.8h-4.3zm4.3-3.6h4.3v28.8h-4.3zm4.3-3.6h4.4v28.8h-4.4zm4.4-3.6h4.3v28.8h-4.3zm4.3-3.6h4.3v32.4h-4.3zm4.3-3.6h4.3v32.4h-4.3zm4.3 0h4.4v32.4h-4.4zm0-349.2h4.4v3.6h-4.4zm4.4 345.6h4.3v36h-4.3zm0-345.6h4.3v7.2h-4.3zm4.3 345.6h4.3v32.4h-4.3zm0-345.6h4.3v10.8h-4.3zm4.3 342h4.3v36h-4.3zm0-342h4.3v14.4h-4.3zm4.3 342h4.4v36h-4.4zm0-342h4.4v18h-4.4zm4.4 338.4h4.3v39.6h-4.3zm0-338.4h4.3v21.6h-4.3zm4.3 338.4h4.3v39.6h-4.3zm0-334.8h4.3v25.2h-4.3zm4.3 331.2h4.4v43.2h-4.4zm0-327.6h4.4v25.2h-4.4zm4.4 327.6h4.3v43.2h-4.3zm0-324h4.3v28.8h-4.3zm4.3 320.4h4.3v46.8h-4.3zm0-316.8h4.3v28.8h-4.3zm4.3 316.8h4.3v46.8h-4.3zm0-313.2h4.3v28.8h-4.3zm4.3 309.6h4.4v46.8h-4.4zm0-306h4.4v32.4h-4.4zm4.4 302.4h4.3v50.4h-4.3zm0-298.8h4.3v32.4h-4.3zm4.3 291.6h4.3v54h-4.3zm0-288h4.3v36h-4.3zm4.3 284.4h4.3v54h-4.3zm0-280.8h4.3v36h-4.3zm4.3 277.2h4.4v57.6h-4.4zm0-273.6h4.4v39.6h-4.4zm4.4 270h4.3v57.6h-4.3zm0-266.4h4.3v39.6h-4.3zm4.3 259.2h4.3v64.8h-4.3zm0-255.6h4.3v43.2h-4.3zm4.3 252h4.3v64.8h-4.3zm0-248.4h4.3v46.8h-4.3zm4.3 241.2h4.4v72h-4.4zm0-237.6h4.4v50.4h-4.4zm4.4 234h4.3v72h-4.3zm0-230.4h4.3v54h-4.3zm4.3 223.2h4.3v75.6h-4.3zm0-219.6h4.3v57.6h-4.3zm4.3 212.4h4.3v82.8h-4.3zm0-208.8h4.3v61.2h-4.3zm4.3 201.6h4.4v86.4h-4.4zm0-198h4.4v68.4h-4.4zm4.4 187.2h4.3v97.2h-4.3zm0-183.6h4.3v75.6h-4.3zm4.3 172.8h4.3v104.4h-4.3zm0-169.2h4.3v86.4h-4.3zm4.3 151.2h4.3v122.4h-4.3zm0-144h4.3v100.8h-4.3zm4.3 3.6h4.4v259.2h-4.4zm4.4 3.6h4.3v255.6h-4.3zm4.3 3.6h4.3v252h-4.3zm4.3 7.2h4.4v241.2h-4.4zm4.4 3.6h4.3v237.6h-4.3zm4.3 7.2h4.3v230.4h-4.3zm4.3 3.6h4.3v223.2h-4.3zm4.3 3.6h4.4v219.6h-4.4zm4.4 7.2h4.3v212.4h-4.3zm4.3 3.6h4.3v208.8h-4.3zm4.3 7.2h4.3v198h-4.3zm4.3 3.6h4.4v194.4h-4.4zm4.4 7.2h4.3v187.2h-4.3zm4.3 7.2h4.3v183.6h-4.3zm4.3 3.6h4.3v180h-4.3zm4.3 7.2h4.4v172.8h-4.4zm4.4 3.6h4.3v169.2h-4.3zm4.3 3.6h4.3v169.2h-4.3zm4.3 7.2h4.3v162h-4.3zm4.3 3.6h4.4v162h-4.4zm4.4 3.6h4.3v162h-4.3zm4.3 3.6h4.3v162h-4.3zm4.3 3.6h4.4v162h-4.4zm4.4 3.6h4.3v162h-4.3zm4.3 3.6h4.3v162h-4.3zm4.3 0h4.3v169.2h-4.3zm4.3 3.6h4.4v169.2h-4.4zm4.4 0h4.3v172.8h-4.3zm4.3 0h4.3v180h-4.3zm4.3 0h4.3v183.6h-4.3zm4.3 3.6h4.4v187.2h-4.4zm4.4 0h4.3v194.4h-4.3zm4.3 0h4.3v198h-4.3zm4.3-3.6h4.3v208.8h-4.3zm4.3 0h4.4v212.4h-4.4zm4.4 0h4.3v219.6h-4.3zm4.3 0h4.3v223.2h-4.3zm4.3-3.6h4.3v230.4h-4.3zm4.3 0h4.4v237.6h-4.4zm4.4 0h4.3v241.2h-4.3zm4.3-3.6h4.3v252h-4.3zm4.3 0h4.4v255.6h-4.4zm4.4 0h4.3v259.2h-4.3zm4.3 162h4.3v100.8h-4.3zm0-165.6h4.3v122.4h-4.3zm4.3 187.2h4.3v86.4h-4.3zm0-187.2h4.3v104.4h-4.3zm4.3 201.6h4.4v75.6h-4.4zm0-205.2h4.4v97.2h-4.4zm4.4 216h4.3v68.4h-4.3zm0-216h4.3v86.4h-4.3zm4.3 226.8h4.3v61.2h-4.3zm0-230.4h4.3v82.8h-4.3zm4.3 237.6h4.3v57.6h-4.3zm0-237.6h4.3v75.6h-4.3zm4.3 244.8h4.4v54h-4.4zm0-248.4h4.4v72h-4.4zm4.4 255.6h4.3v50.4h-4.3zm0-259.2h4.3v72h-4.3zm4.3 266.4h4.3v46.8h-4.3zm0-266.4h4.3v64.8h-4.3zm4.3 273.6h4.3v43.2h-4.3zm0-277.2h4.3v64.8h-4.3zm4.3 284.4h4.4v39.6h-4.4zm0-284.4h4.4v57.6h-4.4zm4.4 288h4.3v39.6h-4.3zm0-291.6h4.3v57.6h-4.3zm4.3 298.8h4.3v36h-4.3zm0-298.8h4.3v54h-4.3zm4.3 302.4h4.3v36h-4.3zm0-306h4.3v54h-4.3zm4.3 313.2h4.4v32.4h-4.4zm0-316.8h4.4v50.4h-4.4zm4.4 320.4h4.3v32.4h-4.3zm0-320.4h4.3v46.8h-4.3zm4.3 327.6h4.3v28.8h-4.3zm0-331.2h4.3v46.8h-4.3zm4.3 334.8h4.3v28.8h-4.3zm0-334.8h4.3v46.8h-4.3zm4.3 338.4h4.4v28.8h-4.4zm0-338.4h4.4v43.2h-4.4zm4.4 345.6h4.3v25.2h-4.3zm0-345.6h4.3v43.2h-4.3zm4.3 349.2h4.3v25.2h-4.3zm0-349.2h4.3v39.6h-4.3zm4.3 356.4h4.4v21.6h-4.4zm0-356.4h4.4v39.6h-4.4zm4.4 360h4.3v18h-4.3zm0-360h4.3v36h-4.3zm4.3 363.6h4.3v18h-4.3zm0-363.6h4.3v36h-4.3zm4.3 367.2h4.3v14.4h-4.3zm0-367.2h4.3v32.4h-4.3zm4.3 370.8h4.4v10.8h-4.4zm0-374.4h4.4v36h-4.4zm4.4 378h4.3v7.2h-4.3zm0-378h4.3v32.4h-4.3zm4.3 381.6h4.3v3.6h-4.3zm0-381.6h4.3v32.4h-4.3zm4.3-3.6h4.3v32.4h-4.3zm4.3 0h4.4v28.8h-4.4zm4.4-3.6h4.3v28.8h-4.3zm4.3-3.6h4.3v28.8h-4.3zm4.3-3.6h4.3v28.8h-4.3zm4.3-3.6h4.4v28.8h-4.4zm4.4-3.6h4.3v25.2h-4.3zm4.3 0h4.3v21.6h-4.3zm4.3-3.6h4.3v21.6h-4.3zm4.3-3.6h4.4v21.6h-4.4zm4.4-3.6h4.3v21.6h-4.3zm4.3-3.6h4.3v21.6h-4.3zm4.3-3.6h4.4v21.6h-4.4zm4.4-3.6h4.3v21.6h-4.3zm4.3-3.6h4.3v18h-4.3zm4.3-3.6h4.3v18h-4.3zm4.3-3.6h4.4v14.4h-4.4zm4.4-7.2h4.3v18h-4.3zm4.3-3.6h4.3v14.4h-4.3zm4.3-7.2h4.3v14.4h-4.3zm4.3-3.6h4.4v14.4h-4.4zm4.4-7.2h4.3v14.4h-4.3zm4.3-3.6h4.3v14.4h-4.3zm4.3-3.6h4.3v10.8h-4.3zm4.3-3.6h4.4v10.8h-4.4z"/><path fill="#0000cf" d="M164.5 1325.8h4.4v7.2h-4.4zm4.4-7.2h4.3v10.8h-4.3zm4.3-3.6h4.3v10.8h-4.3zm4.3-7.2h4.3v10.8h-4.3zm4.3-3.6h4.4v10.8h-4.4zm4.4-7.2h4.3v10.8h-4.3zm4.3-7.2h4.3v14.4h-4.3zm4.3-7.2h4.3v14.4h-4.3zm4.3-7.2h4.4v14.4h-4.4zm4.4-7.2h4.3v18h-4.3zm4.3-3.6h4.3v14.4h-4.3zm4.3-7.2h4.3v18h-4.3zm4.3-3.6h4.4v14.4h-4.4zm4.4-7.2h4.3v18h-4.3zm4.3-3.6h4.3v18h-4.3zm4.3-3.6h4.4v18h-4.4zm4.4-7.2h4.3v21.6h-4.3zm4.3-3.6h4.3v21.6h-4.3zm4.3-3.6h4.3v21.6h-4.3zm4.3-7.2h4.4v25.2h-4.4zm4.4-3.6h4.3v21.6h-4.3zm4.3-3.6h4.3v21.6h-4.3zm4.3-7.2h4.3v25.2h-4.3zm4.3-3.6h4.4v25.2h-4.4zm0-334.8h4.4v3.6h-4.4zm4.4 331.2h4.3v25.2h-4.3zm0-331.2h4.3v7.2h-4.3zm4.3 324h4.3v28.8h-4.3zm0-324h4.3v10.8h-4.3zm4.3 320.4h4.3v28.8h-4.3zm0-320.4h4.3v14.4h-4.3zm4.3 316.8h4.4v32.4h-4.4zm0-313.2h4.4v14.4h-4.4zm4.4 309.6h4.3v32.4h-4.3zm0-306h4.3v18h-4.3zm4.3 302.4h4.3v36h-4.3zm0-298.8h4.3v18h-4.3zm4.3 298.8h4.3v32.4h-4.3zm0-295.2h4.3v21.6h-4.3zm4.3 291.6h4.4v36h-4.4zm0-288h4.4v25.2h-4.4zm4.4 284.4h4.3v36h-4.3zm0-280.8h4.3v25.2h-4.3zm4.3 277.2h4.3v39.6h-4.3zm0-270h4.3v25.2h-4.3zm4.3 266.4h4.4v39.6h-4.4zm0-262.8h4.4v28.8h-4.4zm4.4 259.2h4.3v43.2h-4.3zm0-252h4.3v28.8h-4.3zm4.3 244.8h4.3v46.8h-4.3zm0-241.2h4.3v32.4h-4.3zm4.3 237.6h4.3v50.4h-4.3zm0-234h4.3v39.6h-4.3zm4.3 226.8h4.4v54h-4.4zm0-219.6h4.4v39.6h-4.4zm4.4 212.4h4.3v57.6h-4.3zm0-208.8h4.3v43.2h-4.3zm4.3 198h4.3v61.2h-4.3zm0-190.8h4.3v46.8h-4.3zm4.3 180h4.3v68.4h-4.3zm0-176.4h4.3v54h-4.3zm4.3 165.6h4.4v75.6h-4.4zm0-158.4h4.4v61.2h-4.4zm4.4 136.8h4.3v93.6h-4.3zm0-133.2h4.3v79.2h-4.3zm4.3 7.2h4.3v212.4h-4.3zm4.3 7.2h4.3v201.6h-4.3zm4.3 7.2h4.4v187.2h-4.4zm4.4 7.2h4.3v176.4h-4.3zm4.3 7.2h4.3v162h-4.3zm4.3 7.2h4.3v147.6h-4.3zm4.3 10.8h4.4v129.6h-4.4zm4.4 10.8h4.3v108h-4.3zm4.3 14.4h4.3v82.8h-4.3zm4.3 21.6h4.3v43.2h-4.3zm190.4 133.2h4.3v43.2h-4.3zm4.3-18h4.3v82.8h-4.3zm4.3-10.8h4.4v108h-4.4zm4.4-10.8h4.3v129.6h-4.3zm4.3-7.2h4.3v147.6h-4.3zm4.3-7.2h4.3v162h-4.3zm4.3-7.2h4.4v176.4h-4.4zm4.4-3.6h4.3v187.2h-4.3zm4.3-7.2h4.3v201.6h-4.3zm4.3-3.6h4.3v212.4h-4.3zm4.3 140.4h4.4v79.2h-4.4zm0-147.6h4.4v93.6h-4.4zm4.4 169.2h4.3v61.2h-4.3zm0-172.8h4.3v75.6h-4.3zm4.3 187.2h4.3v54h-4.3zm0-190.8h4.3v68.4h-4.3zm4.3 201.6h4.3v46.8h-4.3zm0-205.2h4.3v61.2h-4.3zm4.3 216h4.4v43.2h-4.4zm0-223.2h4.4v57.6h-4.4zm4.4 230.4h4.3v39.6h-4.3zm0-234h4.3v54h-4.3zm4.3 241.2h4.3v39.6h-4.3zm0-244.8h4.3v50.4h-4.3zm4.3 255.6h4.3v32.4h-4.3zm0-255.6h4.3v46.8h-4.3zm4.3 262.8h4.4v28.8h-4.4zm0-266.4h4.4v43.2h-4.4zm4.4 273.6h4.3v28.8h-4.3zm0-273.6h4.3v39.6h-4.3zm4.3 280.8h4.3v25.2h-4.3zm0-284.4h4.3v39.6h-4.3zm4.3 291.6h4.4v25.2h-4.4zm0-291.6h4.4v36h-4.4zm4.4 295.2h4.3v25.2h-4.3zm0-298.8h4.3v36h-4.3zm4.3 306h4.3v21.6h-4.3zm0-306h4.3v32.4h-4.3zm4.3 313.2h4.3v18h-4.3zm0-316.8h4.3v36h-4.3zm4.3 320.4h4.4v18h-4.4zm0-320.4h4.4v32.4h-4.4zm4.4 327.6h4.3v14.4h-4.3zm0-331.2h4.3v32.4h-4.3zm4.3 334.8h4.3v14.4h-4.3zm0-334.8h4.3v28.8h-4.3zm4.3 338.4h4.3v14.4h-4.3zm0-342h4.3v28.8h-4.3zm4.3 345.6h4.4v10.8h-4.4zm0-349.2h4.4v25.2h-4.4zm4.4 352.8h4.3v7.2h-4.3zm0-356.4h4.3v25.2h-4.3zm4.3 360h4.3v3.6h-4.3zm0-363.6h4.3v25.2h-4.3zm4.3-3.6h4.3v21.6h-4.3zm4.3-3.6h4.4v21.6h-4.4zm4.4-7.2h4.3v25.2h-4.3zm4.3-3.6h4.3v21.6h-4.3zm4.3-3.6h4.3v21.6h-4.3zm4.3-3.6h4.4v21.6h-4.4zm4.4-3.6h4.3v18h-4.3zm4.3-3.6h4.3v18h-4.3zm4.3-3.6h4.4v18h-4.4zm4.4-3.6h4.3v14.4h-4.3zm4.3-7.2h4.3v18h-4.3zm4.3-3.6h4.3v14.4h-4.3zm4.3-7.2h4.4v18h-4.4zm4.4-3.6h4.3v14.4h-4.3zm4.3-7.2h4.3v14.4h-4.3zm4.3-7.2h4.3v14.4h-4.3zm4.3-3.6h4.4v10.8h-4.4zm4.4-7.2h4.3v10.8h-4.3zm4.3-3.6h4.3v10.8h-4.3zm4.3-7.2h4.3v10.8h-4.3zm4.3-3.6h4.4v10.8h-4.4z"/><path fill="#0000df" d="M164.5 1315h4.4v10.8h-4.4zm4.4-3.6h4.3v7.2h-4.3zm4.3-7.2h4.3v10.8h-4.3zm4.3-3.6h4.3v7.2h-4.3zm4.3-7.2h4.4v10.8h-4.4zm4.4-7.2h4.3v10.8h-4.3zm4.3-7.2h4.3v10.8h-4.3zm4.3-7.2h4.3v10.8h-4.3zm4.3-7.2h4.4v10.8h-4.4zm4.4-7.2h4.3v10.8h-4.3zm4.3-7.2h4.3v14.4h-4.3zm4.3-7.2h4.3v14.4h-4.3zm4.3-7.2h4.4v18h-4.4zm4.4-3.6h4.3v14.4h-4.3zm4.3-7.2h4.3v18h-4.3zm4.3-3.6h4.4v18h-4.4zm4.4-7.2h4.3v18h-4.3zm4.3-3.6h4.3v18h-4.3zm4.3-7.2h4.3v21.6h-4.3zm4.3-3.6h4.4v18h-4.4zm4.4-7.2h4.3v21.6h-4.3zm0-327.6h4.3v3.6h-4.3zm4.3 320.4h4.3v25.2h-4.3zm0-320.4h4.3v7.2h-4.3zm4.3 316.8h4.3v21.6h-4.3zm0-316.8h4.3v14.4h-4.3zm4.3 309.6h4.4v25.2h-4.4zm0-306h4.4v14.4h-4.4zm4.4 302.4h4.3v25.2h-4.3zm0-298.8h4.3v14.4h-4.3zm4.3 291.6h4.3v25.2h-4.3zm0-288h4.3v14.4h-4.3zm4.3 280.8h4.3v28.8h-4.3zm0-277.2h4.3v18h-4.3zm4.3 273.6h4.4v28.8h-4.4zm0-270h4.4v21.6h-4.4zm4.4 266.4h4.3v28.8h-4.3zm0-259.2h4.3v21.6h-4.3zm4.3 252h4.3v32.4h-4.3zm0-248.4h4.3v25.2h-4.3zm4.3 244.8h4.3v36h-4.3zm0-237.6h4.3v25.2h-4.3zm4.3 230.4h4.4v39.6h-4.4zm0-223.2h4.4v25.2h-4.4zm4.4 216h4.3v43.2h-4.3zm0-212.4h4.3v32.4h-4.3zm4.3 205.2h4.3v46.8h-4.3zm0-198h4.3v36h-4.3zm4.3 190.8h4.4v50.4h-4.4zm0-183.6h4.4v39.6h-4.4zm4.4 172.8h4.3v57.6h-4.3zm0-165.6h4.3v46.8h-4.3zm4.3 151.2h4.3v64.8h-4.3zm0-144h4.3v54h-4.3zm4.3 122.4h4.3v82.8h-4.3zm0-111.6h4.3v72h-4.3zm4.3 7.2h4.4v180h-4.4zm4.4 7.2h4.3v165.6h-4.3zm4.3 10.8h4.3v144h-4.3zm4.3 10.8h4.3v122.4h-4.3zm4.3 14.4h4.4v97.2h-4.4zm4.4 21.6h4.3v54h-4.3zm276.8 165.6h4.4v54h-4.4zm4.4-21.6h4.3v97.2h-4.3zm4.3-10.8h4.3v122.4h-4.3zm4.3-10.8h4.3v144h-4.3zm4.3-10.8h4.4v165.6h-4.4zm4.4-7.2h4.3v180h-4.3zm4.3 115.2h4.3v72h-4.3zm0-122.4h4.3v82.8h-4.3zm4.3 151.2h4.3v54h-4.3zm0-154.8h4.3v64.8h-4.3zm4.3 169.2h4.4v46.8h-4.4zm0-176.4h4.4v57.6h-4.4zm4.4 190.8h4.3v39.6h-4.3zm0-194.4h4.3v50.4h-4.3zm4.3 205.2h4.3v36h-4.3zm0-208.8h4.3v46.8h-4.3zm4.3 219.6h4.4v32.4h-4.4zm0-223.2h4.4v43.2h-4.4zm4.4 234h4.3v25.2h-4.3zm0-237.6h4.3v39.6h-4.3zm4.3 244.8h4.3v25.2h-4.3zm0-248.4h4.3v36h-4.3zm4.3 255.6h4.3v25.2h-4.3zm0-255.6h4.3v32.4h-4.3zm4.3 262.8h4.4v21.6h-4.4zm0-266.4h4.4v28.8h-4.4zm4.4 273.6h4.3v21.6h-4.3zm0-277.2h4.3v28.8h-4.3zm4.3 284.4h4.3v18h-4.3zm0-288h4.3v28.8h-4.3zm4.3 295.2h4.3v14.4h-4.3zm0-298.8h4.3v25.2h-4.3zm4.3 302.4h4.4v14.4h-4.4zm0-309.6h4.4v25.2h-4.4zm4.4 313.2h4.3v14.4h-4.3zm0-316.8h4.3v25.2h-4.3zm4.3 320.4h4.3v14.4h-4.3zm0-324h4.3v21.6h-4.3zm4.3 331.2h4.3v10.8h-4.3zm0-338.4h4.3v25.2h-4.3zm4.3 342h4.4v7.2h-4.4zm0-345.6h4.4v21.6h-4.4zm4.4 349.2h4.3v3.6h-4.3zm0-352.8h4.3v18h-4.3zm4.3-7.2h4.3v21.6h-4.3zm4.3-3.6h4.3v18h-4.3zm4.3-3.6h4.4v18h-4.4zm4.4-7.2h4.3v18h-4.3zm4.3-3.6h4.3v18h-4.3zm4.3-3.6h4.4v14.4h-4.4zm4.4-7.2h4.3v18h-4.3zm4.3-3.6h4.3v14.4h-4.3zm4.3-7.2h4.3v14.4h-4.3zm4.3-3.6h4.4v10.8h-4.4zm4.4-7.2h4.3v10.8h-4.3zm4.3-7.2h4.3v10.8h-4.3zm4.3-7.2h4.3v10.8h-4.3zm4.3-7.2h4.4v10.8h-4.4zm4.4-7.2h4.3v10.8h-4.3zm4.3-3.6h4.3v7.2h-4.3zm4.3-7.2h4.3v10.8h-4.3zm4.3-3.6h4.4v7.2h-4.4z"/><path fill="#0000ef" d="M164.5 1307.8h4.4v7.2h-4.4zm4.4-3.6h4.3v7.2h-4.3zm4.3-7.2h4.3v7.2h-4.3zm4.3-7.2h4.3v10.8h-4.3zm4.3-7.2h4.4v10.8h-4.4zm4.4-7.2h4.3v10.8h-4.3zm4.3-7.2h4.3v10.8h-4.3zm4.3-7.2h4.3v10.8h-4.3zm4.3-10.8h4.4v14.4h-4.4zm4.4-7.2h4.3v14.4h-4.3zm4.3-7.2h4.3v14.4h-4.3zm4.3-7.2h4.3v14.4h-4.3zm4.3-7.2h4.4v14.4h-4.4zm4.4-3.6h4.3v14.4h-4.3zm4.3-7.2h4.3v14.4h-4.3zm4.3-7.2h4.4v18h-4.4zm4.4-3.6h4.3v14.4h-4.3zm4.3-7.2h4.3v18h-4.3zm0-327.6h4.3v3.6h-4.3zm4.3 320.4h4.3v18h-4.3zm0-320.4h4.3v7.2h-4.3zm4.3 313.2h4.4v21.6h-4.4zm0-313.2h4.4v10.8h-4.4zm4.4 306h4.3v21.6h-4.3zm0-302.4h4.3v14.4h-4.3zm4.3 295.2h4.3v21.6h-4.3zm0-291.6h4.3v14.4h-4.3zm4.3 284.4h4.3v25.2h-4.3zm0-277.2h4.3v10.8h-4.3zm4.3 270h4.4v25.2h-4.4zm0-266.4h4.4v14.4h-4.4zm4.4 259.2h4.3v28.8h-4.3zm0-255.6h4.3v18h-4.3zm4.3 248.4h4.3v28.8h-4.3zm0-244.8h4.3v21.6h-4.3zm4.3 237.6h4.3v28.8h-4.3zm0-230.4h4.3v21.6h-4.3zm4.3 223.2h4.4v32.4h-4.4zm0-216h4.4v21.6h-4.4zm4.4 208.8h4.3v36h-4.3zm0-201.6h4.3v25.2h-4.3zm4.3 194.4h4.3v36h-4.3zm0-187.2h4.3v28.8h-4.3zm4.3 176.4h4.3v43.2h-4.3zm0-169.2h4.3v32.4h-4.3zm4.3 154.8h4.4v50.4h-4.4zm0-147.6h4.4v43.2h-4.4zm4.4 129.6h4.3v61.2h-4.3zm0-118.8h4.3v54h-4.3zm4.3 10.8h4.3v162h-4.3zm4.3 10.8h4.4v144h-4.4zm4.4 14.4h4.3v118.8h-4.3zm4.3 14.4h4.3v90h-4.3zm4.3 28.8h4.3v39.6h-4.3zm328.8 180h4.3v39.6h-4.3zm4.3-21.6h4.3v90h-4.3zm4.3-14.4h4.4v118.8h-4.4zm4.4-10.8h4.3v144h-4.3zm4.3-7.2h4.3v162h-4.3zm4.3 118.8h4.4v54h-4.4zm0-126h4.4v61.2h-4.4zm4.4 147.6h4.3v43.2h-4.3zm0-154.8h4.3v50.4h-4.3zm4.3 172.8h4.3v32.4h-4.3zm0-180h4.3v43.2h-4.3zm4.3 190.8h4.3v28.8h-4.3zm0-194.4h4.3v36h-4.3zm4.3 205.2h4.4v25.2h-4.4zm0-212.4h4.4v36h-4.4zm4.4 223.2h4.3v21.6h-4.3zm0-226.8h4.3v32.4h-4.3zm4.3 234h4.3v21.6h-4.3zm0-237.6h4.3v28.8h-4.3zm4.3 244.8h4.3v21.6h-4.3zm0-252h4.3v28.8h-4.3zm4.3 259.2h4.4v18h-4.4zm0-266.4h4.4v28.8h-4.4zm4.4 273.6h4.3v14.4h-4.3zm0-277.2h4.3v25.2h-4.3zm4.3 284.4h4.3v10.8h-4.3zm0-291.6h4.3v25.2h-4.3zm4.3 295.2h4.3v14.4h-4.3zm0-298.8h4.3v21.6h-4.3zm4.3 302.4h4.4v14.4h-4.4zm0-309.6h4.4v21.6h-4.4zm4.4 316.8h4.3v10.8h-4.3zm0-324h4.3v21.6h-4.3zm4.3 327.6h4.3v10.8h-4.3zm0-331.2h4.3v18h-4.3zm4.3 334.8h4.3v7.2h-4.3zm0-342h4.3v18h-4.3zm4.3 345.6h4.4v3.6h-4.4zm0-349.2h4.4v14.4h-4.4zm4.4-7.2h4.3v18h-4.3zm4.3-3.6h4.3v14.4h-4.3zm4.3-7.2h4.4v14.4h-4.4zm4.4-3.6h4.3v14.4h-4.3zm4.3-7.2h4.3v14.4h-4.3zm4.3-7.2h4.3v14.4h-4.3zm4.3-7.2h4.4v14.4h-4.4zm4.4-7.2h4.3v14.4h-4.3zm4.3-7.2h4.3v10.8h-4.3zm4.3-7.2h4.3v10.8h-4.3zm4.3-7.2h4.4v10.8h-4.4zm4.4-7.2h4.3v10.8h-4.3zm4.3-7.2h4.3v10.8h-4.3zm4.3-3.6h4.3v7.2h-4.3zm4.3-7.2h4.4v7.2h-4.4z"/><path fill="#0000ff" d="M164.5 1304.2h4.4v3.6h-4.4zm4.4-7.2h4.3v7.2h-4.3zm4.3-7.2h4.3v7.2h-4.3zm4.3-7.2h4.3v7.2h-4.3zm4.3-7.2h4.4v7.2h-4.4zm4.4-7.2h4.3v7.2h-4.3zm4.3-10.8h4.3v10.8h-4.3zm4.3-7.2h4.3v10.8h-4.3zm4.3-10.8h4.4v10.8h-4.4zm4.4-7.2h4.3v10.8h-4.3zm4.3-7.2h4.3v10.8h-4.3zm4.3-7.2h4.3v10.8h-4.3zm4.3-7.2h4.4v10.8h-4.4zm4.4-7.2h4.3v14.4h-4.3zm4.3-7.2h4.3v14.4h-4.3zm4.3-7.2h4.4v14.4h-4.4zm0-324h4.4v3.6h-4.4zm4.4 316.8h4.3v18h-4.3zm0-316.8h4.3v7.2h-4.3zm4.3 309.6h4.3v18h-4.3zm0-306h4.3v10.8h-4.3zm4.3 298.8h4.3v18h-4.3zm0-295.2h4.3v10.8h-4.3zm4.3 288h4.4v18h-4.4zm0-284.4h4.4v14.4h-4.4zm4.4 277.2h4.3v18h-4.3zm0-270h4.3v10.8h-4.3zm4.3 259.2h4.3v21.6h-4.3zm0-255.6h4.3v14.4h-4.3zm4.3 248.4h4.3v21.6h-4.3zm0-244.8h4.3v18h-4.3zm4.3 234h4.4v25.2h-4.4zm0-226.8h4.4v18h-4.4zm4.4 219.6h4.3v25.2h-4.3zm0-212.4h4.3v18h-4.3zm4.3 201.6h4.3v28.8h-4.3zm0-194.4h4.3v21.6h-4.3zm4.3 183.6h4.3v32.4h-4.3zm0-176.4h4.3v25.2h-4.3zm4.3 165.6h4.4v36h-4.4zm0-158.4h4.4v28.8h-4.4zm4.4 140.4h4.3v46.8h-4.3zm0-129.6h4.3v36h-4.3zm4.3 104.4h4.3v64.8h-4.3zm0-93.6h4.3v54h-4.3zm4.3 10.8h4.3v136.8h-4.3zm4.3 18h4.4v104.4h-4.4zm4.4 21.6h4.3v64.8h-4.3zm372 205.2h4.4v64.8h-4.4zm4.4-18h4.3v104.4h-4.3zm4.3-14.4h4.3v136.8h-4.3zm4.3 93.6h4.3v54h-4.3zm0-104.4h4.3v64.8h-4.3zm4.3 133.2h4.4v36h-4.4zm0-140.4h4.4v46.8h-4.4zm4.4 158.4h4.3v28.8h-4.3zm0-165.6h4.3v36h-4.3zm4.3 176.4h4.3v25.2h-4.3zm0-183.6h4.3v32.4h-4.3zm4.3 194.4h4.3v21.6h-4.3zm0-201.6h4.3v28.8h-4.3zm4.3 212.4h4.4v18h-4.4zm0-219.6h4.4v25.2h-4.4zm4.4 226.8h4.3v18h-4.3zm0-234h4.3v25.2h-4.3zm4.3 241.2h4.3v18h-4.3zm0-248.4h4.3v21.6h-4.3zm4.3 255.6h4.3v14.4h-4.3zm0-262.8h4.3v21.6h-4.3zm4.3 270h4.4v10.8h-4.4zm0-277.2h4.4v18h-4.4zm4.4 280.8h4.3v14.4h-4.3zm0-288h4.3v18h-4.3zm4.3 295.2h4.3v10.8h-4.3zm0-302.4h4.3v18h-4.3zm4.3 306h4.3v10.8h-4.3zm0-313.2h4.3v18h-4.3zm4.3 320.4h4.4v7.2h-4.4zm0-327.6h4.4v18h-4.4zm4.4 331.2h4.3v7.2h-4.3zm0-334.8h4.3v14.4h-4.3zm4.3 338.4h4.3v3.6h-4.3zm0-345.6h4.3v14.4h-4.3zm4.3-7.2h4.4v14.4h-4.4zm4.4-3.6h4.3v10.8h-4.3zm4.3-7.2h4.3v10.8h-4.3zm4.3-7.2h4.3v10.8h-4.3zm4.3-7.2h4.4v10.8h-4.4zm4.4-7.2h4.3v10.8h-4.3zm4.3-10.8h4.3v10.8h-4.3zm4.3-7.2h4.3v10.8h-4.3zm4.3-7.2h4.4v7.2h-4.4zm4.4-7.2h4.3v7.2h-4.3zm4.3-7.2h4.3v7.2h-4.3zm4.3-7.2h4.3v7.2h-4.3zm4.3-7.2h4.4v7.2h-4.4z"/><path fill="#0010ff" d="M164.5 1297h4.4v7.2h-4.4zm4.4-7.2h4.3v7.2h-4.3zm4.3-7.2h4.3v7.2h-4.3zm4.3-7.2h4.3v7.2h-4.3zm4.3-7.2h4.4v7.2h-4.4zm4.4-10.8h4.3v10.8h-4.3zm4.3-7.2h4.3v7.2h-4.3zm4.3-10.8h4.3v10.8h-4.3zm4.3-7.2h4.4v7.2h-4.4zm4.4-10.8h4.3v10.8h-4.3zm4.3-7.2h4.3v10.8h-4.3zm4.3-10.8h4.3v14.4h-4.3zm4.3-7.2h4.4v14.4h-4.4zm4.4-7.2h4.3v14.4h-4.3zm0-324h4.3v3.6h-4.3zm4.3 316.8h4.3v14.4h-4.3zm0-316.8h4.3v7.2h-4.3zm4.3 309.6h4.4v14.4h-4.4zm0-306h4.4v10.8h-4.4zm4.4 298.8h4.3v14.4h-4.3zm0-295.2h4.3v10.8h-4.3zm4.3 284.4h4.3v18h-4.3zm0-277.2h4.3v10.8h-4.3zm4.3 270h4.3v18h-4.3zm0-266.4h4.3v10.8h-4.3zm4.3 255.6h4.4v21.6h-4.4zm0-248.4h4.4v10.8h-4.4zm4.4 241.2h4.3v21.6h-4.3zm0-237.6h4.3v14.4h-4.3zm4.3 226.8h4.3v21.6h-4.3zm0-219.6h4.3v14.4h-4.3zm4.3 208.8h4.3v25.2h-4.3zm0-201.6h4.3v18h-4.3zm4.3 190.8h4.4v25.2h-4.4zm0-183.6h4.4v21.6h-4.4zm4.4 169.2h4.3v32.4h-4.3zm0-162h4.3v25.2h-4.3zm4.3 147.6h4.3v36h-4.3zm0-136.8h4.3v28.8h-4.3zm4.3 111.6h4.3v50.4h-4.3zm0-100.8h4.3v43.2h-4.3zm4.3 10.8h4.4v129.6h-4.4zm4.4 18h4.3v93.6h-4.3zm4.3 28.8h4.3v39.6h-4.3zm398 223.2h4.3v39.6h-4.3zm4.3-25.2h4.4v93.6h-4.4zm4.4-18h4.3v129.6h-4.3zm4.3 97.2h4.3v43.2h-4.3zm0-108h4.3v50.4h-4.3zm4.3 133.2h4.3v28.8h-4.3zm0-144h4.3v36h-4.3zm4.3 158.4h4.4v25.2h-4.4zm0-169.2h4.4v32.4h-4.4zm4.4 180h4.3v21.6h-4.3zm0-187.2h4.3v25.2h-4.3zm4.3 198h4.3v18h-4.3zm0-208.8h4.3v25.2h-4.3zm4.3 219.6h4.3v14.4h-4.3zm0-226.8h4.3v21.6h-4.3zm4.3 234h4.4v14.4h-4.4zm0-244.8h4.4v21.6h-4.4zm4.4 252h4.3v10.8h-4.3zm0-259.2h4.3v21.6h-4.3zm4.3 266.4h4.3v10.8h-4.3zm0-273.6h4.3v18h-4.3zm4.3 277.2h4.3v10.8h-4.3zm0-284.4h4.3v18h-4.3zm4.3 291.6h4.4v10.8h-4.4zm0-298.8h4.4v14.4h-4.4zm4.4 302.4h4.3v10.8h-4.3zm0-309.6h4.3v14.4h-4.3zm4.3 316.8h4.3v7.2h-4.3zm0-324h4.3v14.4h-4.3zm4.3 327.6h4.4v7.2h-4.4zm0-334.8h4.4v14.4h-4.4zm4.4 338.4h4.3v3.6h-4.3zm0-345.6h4.3v14.4h-4.3zm4.3-7.2h4.3v14.4h-4.3zm4.3-7.2h4.3v10.8h-4.3zm4.3-7.2h4.4v10.8h-4.4zm4.4-7.2h4.3v7.2h-4.3zm4.3-10.8h4.3v10.8h-4.3zm4.3-7.2h4.3v7.2h-4.3zm4.3-10.8h4.4v10.8h-4.4zm4.4-7.2h4.3v7.2h-4.3zm4.3-7.2h4.3v7.2h-4.3zm4.3-7.2h4.3v7.2h-4.3zm4.3-7.2h4.4v7.2h-4.4z"/><path fill="#0020ff" d="M164.5 1289.8h4.4v7.2h-4.4zm4.4-7.2h4.3v7.2h-4.3zm4.3-7.2h4.3v7.2h-4.3zm4.3-7.2h4.3v7.2h-4.3zm4.3-10.8h4.4v10.8h-4.4zm4.4-7.2h4.3v7.2h-4.3zm4.3-10.8h4.3v10.8h-4.3zm4.3-10.8h4.3v10.8h-4.3zm4.3-7.2h4.4v10.8h-4.4zm4.4-10.8h4.3v10.8h-4.3zm4.3-10.8h4.3v14.4h-4.3zm4.3-7.2h4.3v10.8h-4.3zm4.3-7.2h4.4v10.8h-4.4zm0-320.4h4.4v3.6h-4.4zm4.4 309.6h4.3v14.4h-4.3zm0-306h4.3v7.2h-4.3zm4.3 298.8h4.3v14.4h-4.3zm0-295.2h4.3v7.2h-4.3zm4.3 288h4.4v14.4h-4.4zm0-280.8h4.4v7.2h-4.4zm4.4 270h4.3v18h-4.3zm0-266.4h4.3v10.8h-4.3zm4.3 255.6h4.3v18h-4.3zm0-248.4h4.3v10.8h-4.3zm4.3 241.2h4.3v18h-4.3zm0-237.6h4.3v14.4h-4.3zm4.3 226.8h4.4v18h-4.4zm0-219.6h4.4v14.4h-4.4zm4.4 208.8h4.3v21.6h-4.3zm0-201.6h4.3v18h-4.3zm4.3 187.2h4.3v25.2h-4.3zm0-180h4.3v21.6h-4.3zm4.3 165.6h4.3v28.8h-4.3zm0-154.8h4.3v21.6h-4.3zm4.3 136.8h4.4v36h-4.4zm0-126h4.4v28.8h-4.4zm4.4 93.6h4.3v54h-4.3zm0-82.8h4.3v46.8h-4.3zm4.3 14.4h4.3v108h-4.3zm4.3 25.2h4.3v57.6h-4.3zm424 234h4.3v57.6h-4.3zm4.3-25.2h4.3v108h-4.3zm4.3 75.6h4.4v46.8h-4.4zm0-90h4.4v54h-4.4zm4.4 118.8h4.3v28.8h-4.3zm0-133.2h4.3v36h-4.3zm4.3 151.2h4.3v21.6h-4.3zm0-162h4.3v28.8h-4.3zm4.3 172.8h4.3v21.6h-4.3zm0-183.6h4.3v25.2h-4.3zm4.3 194.4h4.4v18h-4.4zm0-205.2h4.4v21.6h-4.4zm4.4 216h4.3v14.4h-4.3zm0-223.2h4.3v18h-4.3zm4.3 230.4h4.3v14.4h-4.3zm0-241.2h4.3v18h-4.3zm4.3 248.4h4.3v10.8h-4.3zm0-255.6h4.3v18h-4.3zm4.3 262.8h4.4v10.8h-4.4zm0-273.6h4.4v18h-4.4zm4.4 280.8h4.3v7.2h-4.3zm0-288h4.3v14.4h-4.3zm4.3 295.2h4.3v7.2h-4.3zm0-302.4h4.3v14.4h-4.3zm4.3 306h4.4v7.2h-4.4zm0-313.2h4.4v14.4h-4.4zm4.4 320.4h4.3v3.6h-4.3zm0-327.6h4.3v10.8h-4.3zm4.3 331.2h4.3v3.6h-4.3zm0-338.4h4.3v10.8h-4.3zm4.3-10.8h4.3v14.4h-4.3zm4.3-7.2h4.4v10.8h-4.4zm4.4-10.8h4.3v10.8h-4.3zm4.3-7.2h4.3v10.8h-4.3zm4.3-10.8h4.3v10.8h-4.3zm4.3-7.2h4.4v7.2h-4.4zm4.4-10.8h4.3v10.8h-4.3zm4.3-7.2h4.3v7.2h-4.3zm4.3-7.2h4.3v7.2h-4.3zm4.3-7.2h4.4v7.2h-4.4z"/><path fill="#0030ff" d="M164.5 1286.2h4.4v3.6h-4.4zm4.4-7.2h4.3v3.6h-4.3zm4.3-10.8h4.3v7.2h-4.3zm4.3-7.2h4.3v7.2h-4.3zm4.3-10.8h4.4v7.2h-4.4zm4.4-7.2h4.3v7.2h-4.3zm4.3-10.8h4.3v7.2h-4.3zm4.3-10.8h4.3v7.2h-4.3zm4.3-10.8h4.4v10.8h-4.4zm4.4-10.8h4.3v10.8h-4.3zm4.3-10.8h4.3v10.8h-4.3zm0-324h4.3v3.6h-4.3zm4.3 316.8h4.3v10.8h-4.3zm0-316.8h4.3v7.2h-4.3zm4.3 306h4.4v14.4h-4.4zm0-302.4h4.4v7.2h-4.4zm4.4 295.2h4.3v10.8h-4.3zm0-288h4.3v7.2h-4.3zm4.3 277.2h4.3v14.4h-4.3zm0-273.6h4.3v10.8h-4.3zm4.3 262.8h4.4v18h-4.4zm0-255.6h4.4v10.8h-4.4zm4.4 248.4h4.3v14.4h-4.3zm0-241.2h4.3v10.8h-4.3zm4.3 230.4h4.3v14.4h-4.3zm0-223.2h4.3v10.8h-4.3zm4.3 208.8h4.3v21.6h-4.3zm0-201.6h4.3v14.4h-4.3zm4.3 190.8h4.4v21.6h-4.4zm0-183.6h4.4v18h-4.4zm4.4 165.6h4.3v28.8h-4.3zm0-154.8h4.3v18h-4.3zm4.3 136.8h4.3v32.4h-4.3zm0-126h4.3v25.2h-4.3zm4.3 97.2h4.3v46.8h-4.3zm0-86.4h4.3v43.2h-4.3zm4.3 18h4.4v97.2h-4.4zm4.4 28.8h4.3v36h-4.3zm441.2 241.2h4.4v36h-4.4zm4.4-32.4h4.3v97.2h-4.3zm4.3 72h4.3v43.2h-4.3zm0-90h4.3v46.8h-4.3zm4.3 118.8h4.3v25.2h-4.3zm0-133.2h4.3v32.4h-4.3zm4.3 151.2h4.4v18h-4.4zm0-165.6h4.4v28.8h-4.4zm4.4 176.4h4.3v18h-4.3zm0-187.2h4.3v21.6h-4.3zm4.3 198h4.3v14.4h-4.3zm0-208.8h4.3v21.6h-4.3zm4.3 219.6h4.3v10.8h-4.3zm0-226.8h4.3v14.4h-4.3zm4.3 234h4.4v10.8h-4.4zm0-244.8h4.4v14.4h-4.4zm4.4 252h4.3v10.8h-4.3zm0-262.8h4.3v18h-4.3zm4.3 270h4.3v10.8h-4.3zm0-277.2h4.3v14.4h-4.3zm4.3 284.4h4.4v7.2h-4.4zm0-291.6h4.4v10.8h-4.4zm4.4 298.8h4.3v7.2h-4.3zm0-309.6h4.3v14.4h-4.3zm4.3 313.2h4.3v7.2h-4.3zm0-320.4h4.3v10.8h-4.3zm4.3 324h4.3v7.2h-4.3zm0-331.2h4.3v10.8h-4.3zm4.3-10.8h4.4v10.8h-4.4zm4.4-10.8h4.3v10.8h-4.3zm4.3-7.2h4.3v7.2h-4.3zm4.3-10.8h4.3v7.2h-4.3zm4.3-10.8h4.4v7.2h-4.4zm4.4-7.2h4.3v7.2h-4.3zm4.3-10.8h4.3v7.2h-4.3zm4.3-7.2h4.3v7.2h-4.3zm4.3-7.2h4.4v3.6h-4.4z"/><path fill="#0040ff" d="M164.5 1279h4.4v7.2h-4.4zm4.4-7.2h4.3v7.2h-4.3zm4.3-7.2h4.3v3.6h-4.3zm4.3-10.8h4.3v7.2h-4.3zm4.3-10.8h4.4v7.2h-4.4zm4.4-10.8h4.3v10.8h-4.3zm4.3-7.2h4.3v7.2h-4.3zm4.3-10.8h4.3v7.2h-4.3zm4.3-10.8h4.4v7.2h-4.4zm4.4-10.8h4.3v7.2h-4.3zm0-327.6h4.3v3.6h-4.3zm4.3 316.8h4.3v7.2h-4.3zm0-313.2h4.3v3.6h-4.3zm4.3 302.4h4.3v10.8h-4.3zm0-298.8h4.3v7.2h-4.3zm4.3 288h4.4v10.8h-4.4zm0-284.4h4.4v7.2h-4.4zm4.4 273.6h4.3v14.4h-4.3zm0-266.4h4.3v7.2h-4.3zm4.3 255.6h4.3v14.4h-4.3zm0-248.4h4.3v7.2h-4.3zm4.3 237.6h4.4v14.4h-4.4zm0-230.4h4.4v10.8h-4.4zm4.4 219.6h4.3v18h-4.3zm0-212.4h4.3v10.8h-4.3zm4.3 198h4.3v21.6h-4.3zm0-190.8h4.3v14.4h-4.3zm4.3 176.4h4.3v21.6h-4.3zm0-165.6h4.3v18h-4.3zm4.3 147.6h4.4v28.8h-4.4zm0-136.8h4.4v21.6h-4.4zm4.4 111.6h4.3v36h-4.3zm0-100.8h4.3v32.4h-4.3zm4.3 18h4.3v100.8h-4.3zm4.3 28.8h4.3v43.2h-4.3zm458.6 241.2h4.3v43.2h-4.3zm4.3-28.8h4.3v100.8h-4.3zm4.3 86.4h4.4v32.4h-4.4zm0-104.4h4.4v36h-4.4zm4.4 126h4.3v21.6h-4.3zm0-144h4.3v28.8h-4.3zm4.3 158.4h4.3v18h-4.3zm0-169.2h4.3v21.6h-4.3zm4.3 183.6h4.3v14.4h-4.3zm0-198h4.3v21.6h-4.3zm4.3 208.8h4.4v10.8h-4.4zm0-219.6h4.4v18h-4.4zm4.4 226.8h4.3v10.8h-4.3zm0-234h4.3v14.4h-4.3zm4.3 244.8h4.3v7.2h-4.3zm0-255.6h4.3v14.4h-4.3zm4.3 262.8h4.4v7.2h-4.4zm0-273.6h4.4v14.4h-4.4zm4.4 280.8h4.3v7.2h-4.3zm0-288h4.3v10.8h-4.3zm4.3 291.6h4.3v7.2h-4.3zm0-302.4h4.3v10.8h-4.3zm4.3 309.6h4.3v3.6h-4.3zm0-316.8h4.3v7.2h-4.3zm4.3 320.4h4.4v7.2h-4.4zm0-331.2h4.4v7.2h-4.4zm4.4 334.8h4.3v3.6h-4.3zm0-345.6h4.3v7.2h-4.3zm4.3-10.8h4.3v7.2h-4.3zm4.3-10.8h4.3v7.2h-4.3zm4.3-10.8h4.4v10.8h-4.4zm4.4-7.2h4.3v7.2h-4.3zm4.3-10.8h4.3v7.2h-4.3zm4.3-7.2h4.3v3.6h-4.3zm4.3-10.8h4.4v7.2h-4.4z"/><path fill="#0050ff" d="M164.5 1275.4h4.4v3.6h-4.4zm4.4-10.8h4.3v7.2h-4.3zm4.3-7.2h4.3v7.2h-4.3zm4.3-10.8h4.3v7.2h-4.3zm4.3-10.8h4.4v7.2h-4.4zm4.4-10.8h4.3v7.2h-4.3zm4.3-10.8h4.3v10.8h-4.3zm4.3-10.8h4.3v10.8h-4.3zm4.3-10.8h4.4v10.8h-4.4zm0-327.6h4.4v3.6h-4.4zm4.4 316.8h4.3v10.8h-4.3zm0-313.2h4.3v3.6h-4.3zm4.3 302.4h4.3v10.8h-4.3zm0-298.8h4.3v7.2h-4.3zm4.3 288h4.3v10.8h-4.3zm0-280.8h4.3v7.2h-4.3zm4.3 270h4.4v10.8h-4.4zm0-266.4h4.4v10.8h-4.4zm4.4 252h4.3v14.4h-4.3zm0-244.8h4.3v10.8h-4.3zm4.3 234h4.3v14.4h-4.3zm0-226.8h4.3v10.8h-4.3zm4.3 216h4.4v14.4h-4.4zm0-205.2h4.4v10.8h-4.4zm4.4 190.8h4.3v18h-4.3zm0-183.6h4.3v14.4h-4.3zm4.3 165.6h4.3v21.6h-4.3zm0-154.8h4.3v18h-4.3zm4.3 133.2h4.3v28.8h-4.3zm0-118.8h4.3v21.6h-4.3zm4.3 79.2h4.4v50.4h-4.4zm0-64.8h4.4v43.2h-4.4zm4.4 21.6h4.3v68.4h-4.3zm475.8 244.8h4.4v68.4h-4.4zm4.4 46.8h4.3v43.2h-4.3zm0-72h4.3v50.4h-4.3zm4.3 108h4.3v21.6h-4.3zm0-126h4.3v28.8h-4.3zm4.3 144h4.3v18h-4.3zm0-158.4h4.3v21.6h-4.3zm4.3 172.8h4.4v14.4h-4.4zm0-187.2h4.4v18h-4.4zm4.4 198h4.3v10.8h-4.3zm0-208.8h4.3v14.4h-4.3zm4.3 219.6h4.3v10.8h-4.3zm0-230.4h4.3v14.4h-4.3zm4.3 237.6h4.4v10.8h-4.4zm0-248.4h4.4v14.4h-4.4zm4.4 255.6h4.3v10.8h-4.3zm0-266.4h4.3v10.8h-4.3zm4.3 273.6h4.3v7.2h-4.3zm0-284.4h4.3v10.8h-4.3zm4.3 291.6h4.3v7.2h-4.3zm0-302.4h4.3v10.8h-4.3zm4.3 309.6h4.4v3.6h-4.4zm0-320.4h4.4v10.8h-4.4zm4.4 324h4.3v3.6h-4.3zm0-334.8h4.3v10.8h-4.3zm4.3 338.4h4.3v3.6h-4.3zm0-349.2h4.3v10.8h-4.3zm4.3-10.8h4.3v10.8h-4.3zm4.3-7.2h4.4v7.2h-4.4zm4.4-10.8h4.3v7.2h-4.3zm4.3-10.8h4.3v7.2h-4.3zm4.3-10.8h4.3v7.2h-4.3zm4.3-7.2h4.4v7.2h-4.4z"/><path fill="#0060ff" d="M164.5 1268.2h4.4v7.2h-4.4zm4.4-7.2h4.3v3.6h-4.3zm4.3-10.8h4.3v7.2h-4.3zm4.3-7.2h4.3v3.6h-4.3zm4.3-10.8h4.4v3.6h-4.4zm4.4-14.4h4.3v7.2h-4.3zm4.3-10.8h4.3v7.2h-4.3zm4.3-10.8h4.3v7.2h-4.3zm0-331.2h4.3v3.6h-4.3zm4.3 320.4h4.4v7.2h-4.4zm0-316.8h4.4v3.6h-4.4zm4.4 302.4h4.3v10.8h-4.3zm0-298.8h4.3v7.2h-4.3zm4.3 288h4.3v10.8h-4.3zm0-280.8h4.3v7.2h-4.3zm4.3 266.4h4.3v14.4h-4.3zm0-259.2h4.3v7.2h-4.3zm4.3 248.4h4.4v14.4h-4.4zm0-241.2h4.4v7.2h-4.4zm4.4 230.4h4.3v10.8h-4.3zm0-223.2h4.3v7.2h-4.3zm4.3 208.8h4.3v14.4h-4.3zm0-201.6h4.3v10.8h-4.3zm4.3 187.2h4.4v18h-4.4zm0-176.4h4.4v14.4h-4.4zm4.4 158.4h4.3v21.6h-4.3zm0-147.6h4.3v18h-4.3zm4.3 122.4h4.3v28.8h-4.3zm0-108h4.3v25.2h-4.3zm4.3 18h4.3v97.2h-4.3zm4.3 36h4.4v21.6h-4.4zm484.6 248.4h4.3v21.6h-4.3zm4.3-39.6h4.3v97.2h-4.3zm4.3 90h4.3v25.2h-4.3zm0-111.6h4.3v28.8h-4.3zm4.3 133.2h4.4v18h-4.4zm0-151.2h4.4v21.6h-4.4zm4.4 165.6h4.3v14.4h-4.3zm0-180h4.3v18h-4.3zm4.3 194.4h4.3v10.8h-4.3zm0-205.2h4.3v14.4h-4.3zm4.3 216h4.4v7.2h-4.4zm0-226.8h4.4v10.8h-4.4zm4.4 234h4.3v7.2h-4.3zm0-248.4h4.3v14.4h-4.3zm4.3 255.6h4.3v7.2h-4.3zm0-266.4h4.3v14.4h-4.3zm4.3 273.6h4.3v7.2h-4.3zm0-284.4h4.3v10.8h-4.3zm4.3 291.6h4.4v7.2h-4.4zm0-302.4h4.4v10.8h-4.4zm4.4 309.6h4.3v3.6h-4.3zm0-320.4h4.3v7.2h-4.3zm4.3 324h4.3v3.6h-4.3zm0-334.8h4.3v7.2h-4.3zm4.3 338.4h4.3v3.6h-4.3zm0-349.2h4.3v7.2h-4.3zm4.3-10.8h4.4v7.2h-4.4zm4.4-10.8h4.3v3.6h-4.3zm4.3-10.8h4.3v3.6h-4.3zm4.3-10.8h4.3v7.2h-4.3zm4.3-7.2h4.4v3.6h-4.4z"/><path fill="#0070ff" d="M164.5 1264.6h4.4v3.6h-4.4zm4.4-10.8h4.3v7.2h-4.3zm4.3-7.2h4.3v3.6h-4.3zm4.3-10.8h4.3v7.2h-4.3zm4.3-10.8h4.4v7.2h-4.4zm4.4-14.4h4.3v7.2h-4.3zm4.3-10.8h4.3v7.2h-4.3zm0-334.8h4.3v3.6h-4.3zm4.3 324h4.3v7.2h-4.3zm0-320.4h4.3v3.6h-4.3zm4.3 306h4.4v10.8h-4.4zm0-302.4h4.4v7.2h-4.4zm4.4 288h4.3v10.8h-4.3zm0-280.8h4.3v7.2h-4.3zm4.3 270h4.3v10.8h-4.3zm0-262.8h4.3v7.2h-4.3zm4.3 248.4h4.3v10.8h-4.3zm0-241.2h4.3v7.2h-4.3zm4.3 230.4h4.4v10.8h-4.4zm0-223.2h4.4v7.2h-4.4zm4.4 208.8h4.3v14.4h-4.3zm0-201.6h4.3v10.8h-4.3zm4.3 183.6h4.3v18h-4.3zm0-172.8h4.3v14.4h-4.3zm4.3 154.8h4.4v21.6h-4.4zm0-140.4h4.4v14.4h-4.4zm4.4 115.2h4.3v28.8h-4.3zm0-100.8h4.3v25.2h-4.3zm4.3 21.6h4.3v82.8h-4.3zm501.8 244.8h4.3v82.8h-4.3zm4.3 79.2h4.4v25.2h-4.4zm0-104.4h4.4v28.8h-4.4zm4.4 129.6h4.3v14.4h-4.3zm0-147.6h4.3v21.6h-4.3zm4.3 162h4.3v14.4h-4.3zm0-176.4h4.3v18h-4.3zm4.3 190.8h4.4v10.8h-4.4zm0-205.2h4.4v14.4h-4.4zm4.4 216h4.3v7.2h-4.3zm0-226.8h4.3v10.8h-4.3zm4.3 234h4.3v7.2h-4.3zm0-244.8h4.3v10.8h-4.3zm4.3 252h4.3v7.2h-4.3zm0-266.4h4.3v10.8h-4.3zm4.3 273.6h4.4v7.2h-4.4zm0-284.4h4.4v10.8h-4.4zm4.4 291.6h4.3v7.2h-4.3zm0-306h4.3v10.8h-4.3zm4.3 313.2h4.3v3.6h-4.3zm0-324h4.3v7.2h-4.3zm4.3 327.6h4.3v3.6h-4.3zm0-338.4h4.3v7.2h-4.3zm4.3 342h4.4v3.6h-4.4zm0-352.8h4.4v7.2h-4.4zm4.4-14.4h4.3v7.2h-4.3zm4.3-10.8h4.3v7.2h-4.3zm4.3-7.2h4.3v3.6h-4.3zm4.3-10.8h4.4v7.2h-4.4z"/><path fill="#0080ff" d="M164.5 1261h4.4v3.6h-4.4zm4.4-10.8h4.3v3.6h-4.3zm4.3-10.8h4.3v7.2h-4.3zm4.3-10.8h4.3v7.2h-4.3zm4.3-10.8h4.4v7.2h-4.4zm4.4-10.8h4.3v3.6h-4.3zm0-342h4.3v3.6h-4.3zm4.3 327.6h4.3v7.2h-4.3zm0-324h4.3v3.6h-4.3zm4.3 309.6h4.3v10.8h-4.3zm0-306h4.3v7.2h-4.3zm4.3 295.2h4.4v7.2h-4.4zm0-288h4.4v3.6h-4.4zm4.4 273.6h4.3v7.2h-4.3zm0-266.4h4.3v3.6h-4.3zm4.3 252h4.3v10.8h-4.3zm0-244.8h4.3v7.2h-4.3zm4.3 230.4h4.3v10.8h-4.3zm0-223.2h4.3v7.2h-4.3zm4.3 208.8h4.4v14.4h-4.4zm0-201.6h4.4v10.8h-4.4zm4.4 183.6h4.3v18h-4.3zm0-172.8h4.3v14.4h-4.3zm4.3 154.8h4.3v18h-4.3zm0-140.4h4.3v14.4h-4.3zm4.3 111.6h4.4v28.8h-4.4zm0-97.2h4.4v25.2h-4.4zm4.4 25.2h4.3v75.6h-4.3zm510.4 244.8h4.4v75.6h-4.4zm4.4 75.6h4.3v25.2h-4.3zm0-100.8h4.3v28.8h-4.3zm4.3 126h4.3v14.4h-4.3zm0-144h4.3v18h-4.3zm4.3 158.4h4.4v14.4h-4.4zm0-176.4h4.4v18h-4.4zm4.4 190.8h4.3v10.8h-4.3zm0-205.2h4.3v14.4h-4.3zm4.3 216h4.3v7.2h-4.3zm0-226.8h4.3v10.8h-4.3zm4.3 234h4.3v7.2h-4.3zm0-248.4h4.3v10.8h-4.3zm4.3 259.2h4.4v3.6h-4.4zm0-270h4.4v7.2h-4.4zm4.4 277.2h4.3v3.6h-4.3zm0-291.6h4.3v7.2h-4.3zm4.3 295.2h4.3v7.2h-4.3zm0-309.6h4.3v10.8h-4.3zm4.3 316.8h4.3v3.6h-4.3zm0-327.6h4.3v7.2h-4.3zm4.3 331.2h4.4v3.6h-4.4zm0-342h4.4v3.6h-4.4zm4.4-14.4h4.3v7.2h-4.3zm4.3-10.8h4.3v7.2h-4.3zm4.3-10.8h4.3v7.2h-4.3zm4.3-7.2h4.4v3.6h-4.4z"/><path fill="#008fff" d="M164.5 1253.8h4.4v7.2h-4.4zm4.4-7.2h4.3v3.6h-4.3zm4.3-10.8h4.3v3.6h-4.3zm4.3-10.8h4.3v3.6h-4.3zm4.3-14.4h4.4v7.2h-4.4zm4.4-10.8h4.3v7.2h-4.3zm0-331.2h4.3v3.6h-4.3zm4.3 316.8h4.3v7.2h-4.3zm0-313.2h4.3v3.6h-4.3zm4.3 298.8h4.3v7.2h-4.3zm0-291.6h4.3v3.6h-4.3zm4.3 277.2h4.4v10.8h-4.4zm0-273.6h4.4v7.2h-4.4zm4.4 259.2h4.3v10.8h-4.3zm0-252h4.3v7.2h-4.3zm4.3 237.6h4.3v10.8h-4.3zm0-226.8h4.3v7.2h-4.3zm4.3 212.4h4.3v10.8h-4.3zm0-205.2h4.3v10.8h-4.3zm4.3 187.2h4.4v14.4h-4.4zm0-176.4h4.4v10.8h-4.4zm4.4 158.4h4.3v14.4h-4.3zm0-144h4.3v14.4h-4.3zm4.3 115.2h4.3v25.2h-4.3zm0-100.8h4.3v21.6h-4.3zm4.3 25.2h4.4v72h-4.4zm519.2 248.4h4.3v72h-4.3zm4.3 75.6h4.3v21.6h-4.3zm0-104.4h4.3v25.2h-4.3zm4.3 126h4.4v14.4h-4.4zm0-144h4.4v14.4h-4.4zm4.4 162h4.3v10.8h-4.3zm0-180h4.3v14.4h-4.3zm4.3 190.8h4.3v10.8h-4.3zm0-205.2h4.3v10.8h-4.3zm4.3 216h4.3v7.2h-4.3zm0-230.4h4.3v10.8h-4.3zm4.3 241.2h4.4v7.2h-4.4zm0-255.6h4.4v10.8h-4.4zm4.4 262.8h4.3v7.2h-4.3zm0-277.2h4.3v10.8h-4.3zm4.3 284.4h4.3v3.6h-4.3zm0-295.2h4.3v7.2h-4.3zm4.3 302.4h4.3v3.6h-4.3zm0-316.8h4.3v7.2h-4.3zm4.3 320.4h4.4v3.6h-4.4zm0-334.8h4.4v7.2h-4.4zm4.4 342h4.3v3.6h-4.3zm0-352.8h4.3v7.2h-4.3zm4.3-10.8h4.3v3.6h-4.3zm4.3-10.8h4.3v3.6h-4.3zm4.3-10.8h4.4v3.6h-4.4z"/><path fill="#009fff" d="M164.5 1250.2h4.4v3.6h-4.4zm4.4-10.8h4.3v7.2h-4.3zm4.3-10.8h4.3v7.2h-4.3zm4.3-10.8h4.3v7.2h-4.3zm4.3-10.8h4.4v3.6h-4.4zm0-342h4.4v3.6h-4.4zm4.4 327.6h4.3v7.2h-4.3zm0-320.4h4.3v3.6h-4.3zm4.3 306h4.3v7.2h-4.3zm0-302.4h4.3v7.2h-4.3zm4.3 288h4.3v7.2h-4.3zm0-280.8h4.3v7.2h-4.3zm4.3 266.4h4.4v7.2h-4.4zm0-259.2h4.4v7.2h-4.4zm4.4 241.2h4.3v10.8h-4.3zm0-234h4.3v7.2h-4.3zm4.3 219.6h4.3v10.8h-4.3zm0-208.8h4.3v7.2h-4.3zm4.3 190.8h4.3v14.4h-4.3zm0-180h4.3v7.2h-4.3zm4.3 162h4.4v14.4h-4.4zm0-151.2h4.4v14.4h-4.4zm4.4 122.4h4.3v25.2h-4.3zm0-104.4h4.3v18h-4.3zm4.3 21.6h4.3v79.2h-4.3zm527.8 248.4h4.3v79.2h-4.3zm4.3 82.8h4.4v18h-4.4zm0-111.6h4.4v25.2h-4.4zm4.4 133.2h4.3v14.4h-4.3zm0-151.2h4.3v14.4h-4.3zm4.3 169.2h4.3v7.2h-4.3zm0-187.2h4.3v14.4h-4.3zm4.3 198h4.3v7.2h-4.3zm0-212.4h4.3v10.8h-4.3zm4.3 223.2h4.4v7.2h-4.4zm0-237.6h4.4v10.8h-4.4zm4.4 244.8h4.3v7.2h-4.3zm0-259.2h4.3v7.2h-4.3zm4.3 266.4h4.3v7.2h-4.3zm0-280.8h4.3v7.2h-4.3zm4.3 288h4.3v7.2h-4.3zm0-302.4h4.3v7.2h-4.3zm4.3 309.6h4.4v3.6h-4.4zm0-324h4.4v7.2h-4.4zm4.4 331.2h4.3v3.6h-4.3zm0-342h4.3v3.6h-4.3zm4.3 345.6h4.3v3.6h-4.3zm0-360h4.3v7.2h-4.3zm4.3-10.8h4.3v7.2h-4.3zm4.3-10.8h4.4v7.2h-4.4z"/><path fill="#00afff" d="M164.5 1246.6h4.4v3.6h-4.4zm4.4-10.8h4.3v3.6h-4.3zm4.3-10.8h4.3v3.6h-4.3zm4.3-14.4h4.3v7.2h-4.3zm0-345.6h4.3v3.6h-4.3zm4.3 334.8h4.4v7.2h-4.4zm0-331.2h4.4v3.6h-4.4zm4.4 316.8h4.3v7.2h-4.3zm0-309.6h4.3v3.6h-4.3zm4.3 295.2h4.3v7.2h-4.3zm0-288h4.3v3.6h-4.3zm4.3 273.6h4.3v7.2h-4.3zm0-266.4h4.3v3.6h-4.3zm4.3 248.4h4.4v10.8h-4.4zm0-241.2h4.4v3.6h-4.4zm4.4 226.8h4.3v7.2h-4.3zm0-219.6h4.3v7.2h-4.3zm4.3 201.6h4.3v10.8h-4.3zm0-190.8h4.3v7.2h-4.3zm4.3 169.2h4.3v14.4h-4.3zm0-158.4h4.3v10.8h-4.3zm4.3 133.2h4.4v21.6h-4.4zm0-115.2h4.4v14.4h-4.4zm4.4 21.6h4.3v86.4h-4.3zm536.4 248.4h4.4v86.4h-4.4zm4.4 93.6h4.3v14.4h-4.3zm0-122.4h4.3v21.6h-4.3zm4.3 144h4.3v10.8h-4.3zm0-162h4.3v14.4h-4.3zm4.3 176.4h4.3v7.2h-4.3zm0-194.4h4.3v10.8h-4.3zm4.3 205.2h4.4v7.2h-4.4zm0-219.6h4.4v7.2h-4.4zm4.4 230.4h4.3v3.6h-4.3zm0-248.4h4.3v10.8h-4.3zm4.3 255.6h4.3v3.6h-4.3zm0-270h4.3v7.2h-4.3zm4.3 277.2h4.3v3.6h-4.3zm0-291.6h4.3v7.2h-4.3zm4.3 298.8h4.4v3.6h-4.4zm0-313.2h4.4v7.2h-4.4zm4.4 320.4h4.3v3.6h-4.3zm0-334.8h4.3v7.2h-4.3zm4.3 338.4h4.3v3.6h-4.3zm0-349.2h4.3v7.2h-4.3zm4.3-10.8h4.3v3.6h-4.3zm4.3-10.8h4.4v3.6h-4.4z"/><path fill="#00bfff" d="M164.5 1243h4.4v3.6h-4.4zm4.4-10.8h4.3v3.6h-4.3zm4.3-14.4h4.3v7.2h-4.3zm4.3-10.8h4.3v3.6h-4.3zm4.3-14.4h4.4v7.2h-4.4zm0-320.4h4.4v3.6h-4.4zm4.4 306h4.3v7.2h-4.3zm0-298.8h4.3v3.6h-4.3zm4.3 284.4h4.3v7.2h-4.3zm0-277.2h4.3v3.6h-4.3zm4.3 259.2h4.3v10.8h-4.3zm0-252h4.3v7.2h-4.3zm4.3 237.6h4.4v7.2h-4.4zm0-230.4h4.4v7.2h-4.4zm4.4 212.4h4.3v10.8h-4.3zm0-201.6h4.3v7.2h-4.3zm4.3 180h4.3v14.4h-4.3zm0-169.2h4.3v10.8h-4.3zm4.3 147.6h4.3v14.4h-4.3zm0-133.2h4.3v14.4h-4.3zm4.3 93.6h4.4v28.8h-4.4zm0-72h4.4v25.2h-4.4zm545.2 324h4.3v25.2h-4.3zm0-75.6h4.3v28.8h-4.3zm4.3 108h4.3v14.4h-4.3zm0-133.2h4.3v14.4h-4.3zm4.3 151.2h4.3v10.8h-4.3zm0-172.8h4.3v14.4h-4.3zm4.3 187.2h4.4v7.2h-4.4zm0-205.2h4.4v10.8h-4.4zm4.4 216h4.3v7.2h-4.3zm0-230.4h4.3v7.2h-4.3zm4.3 237.6h4.3v7.2h-4.3zm0-255.6h4.3v10.8h-4.3zm4.3 266.4h4.3v3.6h-4.3zm0-280.8h4.3v7.2h-4.3zm4.3 288h4.4v3.6h-4.4zm0-302.4h4.4v7.2h-4.4zm4.4 309.6h4.3v3.6h-4.3zm0-324h4.3v7.2h-4.3zm4.3-10.8h4.3v3.6h-4.3zm4.3 345.6h4.3v3.6h-4.3zm0-360h4.3v7.2h-4.3zm4.3-10.8h4.4v3.6h-4.4z"/><path fill="#00cfff" d="M164.5 1239.4h4.4v3.6h-4.4zm4.4-14.4h4.3v7.2h-4.3zm4.3-10.8h4.3v3.6h-4.3zm0-349.2h4.3v3.6h-4.3zm4.3 334.8h4.3v7.2h-4.3zm0-331.2h4.3v3.6h-4.3zm4.3 316.8h4.4v7.2h-4.4zm0-309.6h4.4v3.6h-4.4zm4.4 295.2h4.3v7.2h-4.3zm0-288h4.3v3.6h-4.3zm4.3 273.6h4.3v7.2h-4.3zm0-266.4h4.3v7.2h-4.3zm4.3 248.4h4.3v7.2h-4.3zm0-237.6h4.3v3.6h-4.3zm4.3 219.6h4.4v10.8h-4.4zm0-212.4h4.4v7.2h-4.4zm4.4 194.4h4.3v10.8h-4.3zm0-183.6h4.3v10.8h-4.3zm4.3 158.4h4.3v14.4h-4.3zm0-144h4.3v10.8h-4.3zm4.3 115.2h4.3v21.6h-4.3zm0-97.2h4.3v18h-4.3zm4.3 32.4h4.4v46.8h-4.4zm545.2 252h4.3v46.8h-4.3zm4.3 61.2h4.3v18h-4.3zm0-100.8h4.3v21.6h-4.3zm4.3 126h4.3v10.8h-4.3zm0-147.6h4.3v14.4h-4.3zm4.3 162h4.4v10.8h-4.4zm0-183.6h4.4v10.8h-4.4zm4.4 198h4.3v7.2h-4.3zm0-216h4.3v10.8h-4.3zm4.3 226.8h4.3v3.6h-4.3zm0-241.2h4.3v7.2h-4.3zm4.3 248.4h4.3v7.2h-4.3zm0-266.4h4.3v7.2h-4.3zm4.3 277.2h4.4v3.6h-4.4zm0-291.6h4.4v7.2h-4.4zm4.4 298.8h4.3v3.6h-4.3zm0-313.2h4.3v7.2h-4.3zm4.3 320.4h4.3v3.6h-4.3zm0-334.8h4.3v7.2h-4.3zm4.3 338.4h4.3v3.6h-4.3zm0-349.2h4.3v3.6h-4.3zm4.3-14.4h4.4v7.2h-4.4z"/><path fill="#00dfff" d="M164.5 1235.8h4.4v3.6h-4.4zm4.4-14.4h4.3v3.6h-4.3zm4.3-10.8h4.3v3.6h-4.3zm4.3-14.4h4.3v3.6h-4.3zm0-324h4.3v3.6h-4.3zm4.3 309.6h4.4v3.6h-4.4zm0-302.4h4.4v3.6h-4.4zm4.4 284.4h4.3v7.2h-4.3zm0-277.2h4.3v7.2h-4.3zm4.3 262.8h4.3v7.2h-4.3zm0-252h4.3v3.6h-4.3zm4.3 234h4.3v7.2h-4.3zm0-226.8h4.3v7.2h-4.3zm4.3 205.2h4.4v10.8h-4.4zm0-194.4h4.4v7.2h-4.4zm4.4 172.8h4.3v14.4h-4.3zm0-158.4h4.3v7.2h-4.3zm4.3 133.2h4.3v14.4h-4.3zm0-118.8h4.3v14.4h-4.3zm4.3 25.2h4.3v79.2h-4.3zm553.8 248.4h4.3v79.2h-4.3zm4.3 90h4.3v14.4h-4.3zm0-118.8h4.3v14.4h-4.3zm4.3 140.4h4.4v7.2h-4.4zm0-165.6h4.4v14.4h-4.4zm4.4 180h4.3v7.2h-4.3zm0-198h4.3v10.8h-4.3zm4.3 208.8h4.3v7.2h-4.3zm0-226.8h4.3v7.2h-4.3zm4.3 237.6h4.3v3.6h-4.3zm0-255.6h4.3v7.2h-4.3zm4.3 262.8h4.4v7.2h-4.4zm0-277.2h4.4v7.2h-4.4zm4.4 288h4.3v3.6h-4.3zm0-302.4h4.3v3.6h-4.3zm4.3 309.6h4.3v3.6h-4.3zm0-324h4.3v3.6h-4.3zm4.3-14.4h4.3v3.6h-4.3zm4.3-10.8h4.4v3.6h-4.4z"/><path fill="#00efff" d="M164.5 1228.6h4.4v7.2h-4.4zm4.4-10.8h4.3v3.6h-4.3zm4.3-14.4h4.3v7.2h-4.3zm0-334.8h4.3v3.6h-4.3zm4.3 320.4h4.3v7.2h-4.3zm0-313.2h4.3v3.6h-4.3zm4.3 298.8h4.4v7.2h-4.4zm0-291.6h4.4v7.2h-4.4zm4.4 277.2h4.3v3.6h-4.3zm0-266.4h4.3v3.6h-4.3zm4.3 248.4h4.3v7.2h-4.3zm0-241.2h4.3v7.2h-4.3zm4.3 219.6h4.3v10.8h-4.3zm0-208.8h4.3v7.2h-4.3zm4.3 187.2h4.4v10.8h-4.4zm0-176.4h4.4v10.8h-4.4zm4.4 151.2h4.3v14.4h-4.3zm0-136.8h4.3v14.4h-4.3zm4.3 100.8h4.3v25.2h-4.3zm0-79.2h4.3v21.6h-4.3zm562.4 327.6h4.3v21.6h-4.3zm0-82.8h4.3v25.2h-4.3zm4.3 111.6h4.4v14.4h-4.4zm0-136.8h4.4v14.4h-4.4zm4.4 154.8h4.3v10.8h-4.3zm0-176.4h4.3v10.8h-4.3zm4.3 190.8h4.3v7.2h-4.3zm0-212.4h4.3v10.8h-4.3zm4.3 223.2h4.3v7.2h-4.3zm0-241.2h4.3v7.2h-4.3zm4.3 252h4.4v3.6h-4.4zm0-266.4h4.4v3.6h-4.4zm4.4 273.6h4.3v7.2h-4.3zm0-291.6h4.3v7.2h-4.3zm4.3 302.4h4.3v3.6h-4.3zm0-316.8h4.3v7.2h-4.3zm4.3 324h4.3v3.6h-4.3zm0-338.4h4.3v7.2h-4.3zm4.3 345.6h4.4v3.6h-4.4zm0-356.4h4.4v3.6h-4.4z"/><path fill="#00ffff" d="M164.5 1225h4.4v3.6h-4.4zm4.4-10.8h4.3v3.6h-4.3zm0-349.2h4.3v3.6h-4.3zm4.3 334.8h4.3v3.6h-4.3zm0-327.6h4.3v3.6h-4.3zm4.3 313.2h4.3v3.6h-4.3zm0-306h4.3v3.6h-4.3zm4.3 288h4.4v7.2h-4.4zm0-277.2h4.4v3.6h-4.4zm4.4 262.8h4.3v7.2h-4.3zm0-255.6h4.3v3.6h-4.3zm4.3 237.6h4.3v7.2h-4.3zm0-226.8h4.3v3.6h-4.3zm4.3 205.2h4.3v7.2h-4.3zm0-194.4h4.3v7.2h-4.3zm4.3 169.2h4.4v10.8h-4.4zm0-154.8h4.4v7.2h-4.4zm4.4 126h4.3v14.4h-4.3zm0-108h4.3v10.8h-4.3zm4.3 28.8h4.3v57.6h-4.3zm562.4 248.4h4.3v57.6h-4.3zm4.3 75.6h4.4v10.8h-4.4zm0-111.6h4.4v14.4h-4.4zm4.4 133.2h4.3v7.2h-4.3zm0-158.4h4.3v10.8h-4.3zm4.3 172.8h4.3v7.2h-4.3zm0-194.4h4.3v7.2h-4.3zm4.3 208.8h4.3v3.6h-4.3zm0-230.4h4.3v7.2h-4.3zm4.3 241.2h4.4v3.6h-4.4zm0-259.2h4.4v7.2h-4.4zm4.4 266.4h4.3v3.6h-4.3zm0-280.8h4.3v7.2h-4.3zm4.3 291.6h4.3v3.6h-4.3zm0-306h4.3v3.6h-4.3zm4.3 313.2h4.3v3.6h-4.3zm0-327.6h4.3v3.6h-4.3zm4.3 334.8h4.4v3.6h-4.4zm0-349.2h4.4v3.6h-4.4z"/><path fill="#10ffef" d="M164.5 1221.4h4.4v3.6h-4.4zm4.4-10.8h4.3v3.6h-4.3zm0-342h4.3v3.6h-4.3zm4.3 327.6h4.3v3.6h-4.3zm0-320.4h4.3v3.6h-4.3zm4.3 302.4h4.3v7.2h-4.3zm0-295.2h4.3v3.6h-4.3zm4.3 280.8h4.4v3.6h-4.4zm0-270h4.4v3.6h-4.4zm4.4 252h4.3v7.2h-4.3zm0-244.8h4.3v7.2h-4.3zm4.3 223.2h4.3v10.8h-4.3zm0-212.4h4.3v7.2h-4.3zm4.3 190.8h4.3v10.8h-4.3zm0-176.4h4.3v7.2h-4.3zm4.3 151.2h4.4v10.8h-4.4zm0-136.8h4.4v10.8h-4.4zm4.4 97.2h4.3v21.6h-4.3zm0-75.6h4.3v21.6h-4.3zm571 320.4h4.4v21.6h-4.4zm0-75.6h4.4v21.6h-4.4zm4.4 108h4.3v10.8h-4.3zm0-136.8h4.3v10.8h-4.3zm4.3 154.8h4.3v7.2h-4.3zm0-180h4.3v10.8h-4.3zm4.3 194.4h4.3v7.2h-4.3zm0-216h4.3v10.8h-4.3zm4.3 226.8h4.4v7.2h-4.4zm0-244.8h4.4v7.2h-4.4zm4.4 255.6h4.3v3.6h-4.3zm0-270h4.3v3.6h-4.3zm4.3 280.8h4.3v3.6h-4.3zm0-298.8h4.3v7.2h-4.3zm4.3 306h4.3v3.6h-4.3zm0-320.4h4.3v3.6h-4.3zm4.3 327.6h4.4v3.6h-4.4zm0-342h4.4v3.6h-4.4z"/><path fill="#20ffdf" d="M164.5 1217.8h4.4v3.6h-4.4zm4.4-14.4h4.3v7.2h-4.3zm4.3-14.4h4.3v7.2h-4.3zm0-309.6h4.3v3.6h-4.3zm4.3 295.2h4.3v3.6h-4.3zm0-288h4.3v3.6h-4.3zm4.3 270h4.4v7.2h-4.4zm0-259.2h4.4v3.6h-4.4zm4.4 241.2h4.3v7.2h-4.3zm0-230.4h4.3v3.6h-4.3zm4.3 208.8h4.3v7.2h-4.3zm0-198h4.3v7.2h-4.3zm4.3 172.8h4.3v10.8h-4.3zm0-158.4h4.3v7.2h-4.3zm4.3 129.6h4.4v14.4h-4.4zm0-111.6h4.4v14.4h-4.4zm4.4 32.4h4.3v54h-4.3zm571 244.8h4.4v54h-4.4zm4.4 72h4.3v14.4h-4.3zm0-111.6h4.3v14.4h-4.3zm4.3 136.8h4.3v7.2h-4.3zm0-162h4.3v10.8h-4.3zm4.3 176.4h4.3v7.2h-4.3zm0-198h4.3v7.2h-4.3zm4.3 212.4h4.4v3.6h-4.4zm0-234h4.4v7.2h-4.4zm4.4 244.8h4.3v3.6h-4.3zm0-262.8h4.3v7.2h-4.3zm4.3 273.6h4.3v3.6h-4.3zm0-288h4.3v3.6h-4.3zm4.3 295.2h4.3v3.6h-4.3zm0-313.2h4.3v7.2h-4.3zm4.3-14.4h4.4v7.2h-4.4z"/><path fill="#30ffcf" d="M164.5 1214.2h4.4v3.6h-4.4zm0-349.2h4.4v3.6h-4.4zm4.4 334.8h4.3v3.6h-4.3zm0-327.6h4.3v3.6h-4.3zm4.3 313.2h4.3v3.6h-4.3zm0-302.4h4.3v3.6h-4.3zm4.3 284.4h4.3v7.2h-4.3zm0-277.2h4.3v3.6h-4.3zm4.3 259.2h4.4v7.2h-4.4zm0-248.4h4.4v3.6h-4.4zm4.4 230.4h4.3v7.2h-4.3zm0-219.6h4.3v7.2h-4.3zm4.3 198h4.3v7.2h-4.3zm0-183.6h4.3v7.2h-4.3zm4.3 154.8h4.3v10.8h-4.3zm0-140.4h4.3v10.8h-4.3zm4.3 100.8h4.4v21.6h-4.4zm0-75.6h4.4v18h-4.4zm579.8 316.8h4.3v18h-4.3zm0-79.2h4.3v21.6h-4.3zm4.3 111.6h4.3v10.8h-4.3zm0-140.4h4.3v10.8h-4.3zm4.3 158.4h4.3v7.2h-4.3zm0-183.6h4.3v7.2h-4.3zm4.3 198h4.4v7.2h-4.4zm0-219.6h4.4v7.2h-4.4zm4.4 234h4.3v3.6h-4.3zm0-252h4.3v7.2h-4.3zm4.3 262.8h4.3v3.6h-4.3zm0-280.8h4.3v7.2h-4.3zm4.3 288h4.3v3.6h-4.3zm0-302.4h4.3v3.6h-4.3zm4.3 313.2h4.4v3.6h-4.4zm0-327.6h4.4v3.6h-4.4z"/><path fill="#40ffbf" d="M164.5 1210.6h4.4v3.6h-4.4zm4.4-14.4h4.3v3.6h-4.3zm0-320.4h4.3v3.6h-4.3zm4.3 306h4.3v3.6h-4.3zm0-295.2h4.3v3.6h-4.3zm4.3 277.2h4.3v3.6h-4.3zm0-270h4.3v3.6h-4.3zm4.3 252h4.4v3.6h-4.4zm0-241.2h4.4v7.2h-4.4zm4.4 219.6h4.3v7.2h-4.3zm0-205.2h4.3v3.6h-4.3zm4.3 180h4.3v10.8h-4.3zm0-165.6h4.3v7.2h-4.3zm4.3 136.8h4.3v10.8h-4.3zm0-118.8h4.3v10.8h-4.3zm4.3 32.4h4.4v57.6h-4.4zm579.8 241.2h4.3v57.6h-4.3zm4.3 79.2h4.3v10.8h-4.3zm0-118.8h4.3v10.8h-4.3zm4.3 140.4h4.3v7.2h-4.3zm0-169.2h4.3v10.8h-4.3zm4.3 187.2h4.4v3.6h-4.4zm0-208.8h4.4v7.2h-4.4zm4.4 219.6h4.3v7.2h-4.3zm0-237.6h4.3v3.6h-4.3zm4.3 252h4.3v3.6h-4.3zm0-270h4.3v3.6h-4.3zm4.3 277.2h4.3v3.6h-4.3zm0-295.2h4.3v3.6h-4.3zm4.3 306h4.4v3.6h-4.4zm0-320.4h4.4v3.6h-4.4z"/><path fill="#50ffaf" d="M164.5 1207h4.4v3.6h-4.4zm0-338.4h4.4v3.6h-4.4zm4.4 324h4.3v3.6h-4.3zm0-313.2h4.3v3.6h-4.3zm4.3 295.2h4.3v7.2h-4.3zm4.3-18h4.3v7.2h-4.3zm0-259.2h4.3v3.6h-4.3zm4.3 241.2h4.4v7.2h-4.4zm0-226.8h4.4v3.6h-4.4zm4.4 205.2h4.3v7.2h-4.3zm0-194.4h4.3v7.2h-4.3zm4.3 165.6h4.3v10.8h-4.3zm0-147.6h4.3v7.2h-4.3zm4.3 111.6h4.3v18h-4.3zm0-90h4.3v14.4h-4.3zm588.4 327.6h4.3v14.4h-4.3zm0-93.6h4.3v18h-4.3zm4.3 122.4h4.3v7.2h-4.3zm0-151.2h4.3v10.8h-4.3zm4.3 169.2h4.4v7.2h-4.4zm0-194.4h4.4v7.2h-4.4zm4.4 208.8h4.3v3.6h-4.3zm0-230.4h4.3v7.2h-4.3zm4.3 244.8h4.3v3.6h-4.3zm0-262.8h4.3v7.2h-4.3zm4.3-18h4.3v7.2h-4.3zm4.3 298.8h4.4v3.6h-4.4zm0-313.2h4.4v3.6h-4.4z"/><path fill="#60ff9f" d="M164.5 1203.4h4.4v3.6h-4.4zm0-331.2h4.4v3.6h-4.4zm4.4 316.8h4.3v3.6h-4.3zm4.3-18h4.3v3.6h-4.3zm0-280.8h4.3v3.6h-4.3zm4.3 262.8h4.3v3.6h-4.3zm0-252h4.3v7.2h-4.3zm4.3 230.4h4.4v7.2h-4.4zm0-216h4.4v3.6h-4.4zm4.4 194.4h4.3v7.2h-4.3zm0-180h4.3v7.2h-4.3zm4.3 147.6h4.3v10.8h-4.3zm0-129.6h4.3v10.8h-4.3zm4.3 72h4.3v32.4h-4.3zm0-43.2h4.3v28.8h-4.3zm588.4 284.4h4.3v28.8h-4.3zm0-46.8h4.3v32.4h-4.3zm4.3 93.6h4.3v10.8h-4.3zm0-129.6h4.3v10.8h-4.3zm4.3 151.2h4.4v7.2h-4.4zm0-180h4.4v7.2h-4.4zm4.4 198h4.3v3.6h-4.3zm0-219.6h4.3v7.2h-4.3zm4.3 230.4h4.3v7.2h-4.3zm0-248.4h4.3v3.6h-4.3zm4.3 262.8h4.3v3.6h-4.3zm0-280.8h4.3v3.6h-4.3zm4.3-18h4.4v3.6h-4.4z"/><path fill="#70ff8f" d="M164.5 1199.8h4.4v3.6h-4.4zm4.4-14.4h4.3v3.6h-4.3zm0-302.4h4.3v3.6h-4.3zm4.3 284.4h4.3v3.6h-4.3zm0-273.6h4.3v3.6h-4.3zm4.3 252h4.3v7.2h-4.3zm0-237.6h4.3v3.6h-4.3zm4.3 216h4.4v7.2h-4.4zm0-205.2h4.4v7.2h-4.4zm4.4 180h4.3v10.8h-4.3zm0-162h4.3v7.2h-4.3zm4.3 129.6h4.3v10.8h-4.3zm0-108h4.3v10.8h-4.3zm4.3 46.8h4.3v14.4h-4.3zm588.4 241.2h4.3v14.4h-4.3zm4.3 50.4h4.3v10.8h-4.3zm0-108h4.3v10.8h-4.3zm4.3 133.2h4.4v7.2h-4.4zm0-165.6h4.4v10.8h-4.4zm4.4 183.6h4.3v7.2h-4.3zm0-205.2h4.3v7.2h-4.3zm4.3 219.6h4.3v3.6h-4.3zm0-241.2h4.3v7.2h-4.3zm4.3 255.6h4.3v3.6h-4.3zm0-273.6h4.3v3.6h-4.3zm4.3 284.4h4.4v3.6h-4.4zm0-302.4h4.4v3.6h-4.4z"/><path fill="#80ff80" d="M164.5 1196.2h4.4v3.6h-4.4zm0-320.4h4.4v3.6h-4.4zm4.4 302.4h4.3v7.2h-4.3zm0-291.6h4.3v3.6h-4.3zm4.3 273.6h4.3v7.2h-4.3zm0-262.8h4.3v3.6h-4.3zm4.3 244.8h4.3v3.6h-4.3zm0-230.4h4.3v3.6h-4.3zm4.3 205.2h4.4v7.2h-4.4zm0-190.8h4.4v3.6h-4.4zm4.4 165.6h4.3v7.2h-4.3zm0-147.6h4.3v7.2h-4.3zm4.3 104.4h4.3v18h-4.3zm0-79.2h4.3v14.4h-4.3zm597 313.2h4.3v14.4h-4.3zm0-82.8h4.3v18h-4.3zm4.3 115.2h4.4v7.2h-4.4zm0-147.6h4.4v7.2h-4.4zm4.4 169.2h4.3v3.6h-4.3zm0-194.4h4.3v7.2h-4.3zm4.3 208.8h4.3v3.6h-4.3zm0-230.4h4.3v3.6h-4.3zm4.3 244.8h4.3v3.6h-4.3zm0-266.4h4.3v7.2h-4.3zm4.3 277.2h4.4v3.6h-4.4zm0-295.2h4.4v7.2h-4.4z"/><path fill="#8fff70" d="M164.5 1192.6h4.4v3.6h-4.4zm0-313.2h4.4v3.6h-4.4zm4.4 295.2h4.3v3.6h-4.3zm0-284.4h4.3v3.6h-4.3zm4.3 266.4h4.3v3.6h-4.3zm0-255.6h4.3v3.6h-4.3zm4.3 234h4.3v7.2h-4.3zm0-219.6h4.3v3.6h-4.3zm4.3 194.4h4.4v7.2h-4.4zm0-180h4.4v7.2h-4.4zm4.4 151.2h4.3v10.8h-4.3zm0-129.6h4.3v7.2h-4.3zm4.3 32.4h4.3v64.8h-4.3zm597 234h4.3v64.8h-4.3zm4.3 90h4.4v7.2h-4.4zm0-133.2h4.4v10.8h-4.4zm4.4 154.8h4.3v7.2h-4.3zm0-180h4.3v7.2h-4.3zm4.3 198h4.3v3.6h-4.3zm0-223.2h4.3v7.2h-4.3zm4.3 237.6h4.3v3.6h-4.3zm0-255.6h4.3v3.6h-4.3zm4.3 266.4h4.4v3.6h-4.4zm0-284.4h4.4v3.6h-4.4z"/><path fill="#9fff60" d="M164.5 1189h4.4v3.6h-4.4zm4.4-18h4.3v3.6h-4.3zm0-277.2h4.3v3.6h-4.3zm4.3 259.2h4.3v3.6h-4.3zm0-248.4h4.3v3.6h-4.3zm4.3 226.8h4.3v3.6h-4.3zm0-212.4h4.3v3.6h-4.3zm4.3 183.6h4.4v7.2h-4.4zm0-165.6h4.4v7.2h-4.4zm4.4 133.2h4.3v10.8h-4.3zm0-111.6h4.3v10.8h-4.3zm605.6 338.4h4.4v10.8h-4.4zm0-111.6h4.4v10.8h-4.4zm4.4 136.8h4.3v7.2h-4.3zm0-165.6h4.3v7.2h-4.3zm4.3 187.2h4.3v3.6h-4.3zm0-212.4h4.3v3.6h-4.3zm4.3 226.8h4.3v3.6h-4.3zm0-248.4h4.3v3.6h-4.3zm4.3 259.2h4.4v3.6h-4.4zm0-277.2h4.4v3.6h-4.4z"/><path fill="#afff50" d="M164.5 1185.4h4.4v3.6h-4.4zm0-302.4h4.4v3.6h-4.4zm4.4 284.4h4.3v3.6h-4.3zm0-270h4.3v3.6h-4.3zm4.3 248.4h4.3v7.2h-4.3zm0-237.6h4.3v3.6h-4.3zm4.3 216h4.3v7.2h-4.3zm0-201.6h4.3v7.2h-4.3zm4.3 172.8h4.4v7.2h-4.4zm0-151.2h4.4v3.6h-4.4zm4.4 111.6h4.3v14.4h-4.3zm0-86.4h4.3v14.4h-4.3zm605.6 313.2h4.4v14.4h-4.4zm0-86.4h4.4v14.4h-4.4zm4.4 122.4h4.3v3.6h-4.3zm0-154.8h4.3v7.2h-4.3zm4.3 172.8h4.3v7.2h-4.3zm0-201.6h4.3v7.2h-4.3zm4.3 219.6h4.3v3.6h-4.3zm0-241.2h4.3v7.2h-4.3zm4.3 252h4.4v3.6h-4.4zm0-270h4.4v3.6h-4.4z"/><path fill="#bfff40" d="M164.5 1181.8h4.4v3.6h-4.4zm0-295.2h4.4v3.6h-4.4zm4.4 277.2h4.3v3.6h-4.3zm4.3-21.6h4.3v3.6h-4.3zm0-230.4h4.3v3.6h-4.3zm4.3 205.2h4.3v7.2h-4.3zm0-187.2h4.3v3.6h-4.3zm4.3 158.4h4.4v7.2h-4.4zm0-140.4h4.4v10.8h-4.4zm4.4 82.8h4.3v25.2h-4.3zm0-46.8h4.3v21.6h-4.3zm605.6 277.2h4.4v21.6h-4.4zm0-50.4h4.4v25.2h-4.4zm4.4 97.2h4.3v10.8h-4.3zm0-136.8h4.3v7.2h-4.3zm4.3 162h4.3v3.6h-4.3zm0-190.8h4.3v7.2h-4.3zm4.3 208.8h4.3v3.6h-4.3zm0-230.4h4.3v3.6h-4.3zm4.3-21.6h4.4v3.6h-4.4z"/><path fill="#cfff30" d="M164.5 1178.2h4.4v3.6h-4.4zm0-288h4.4v3.6h-4.4zm4.4 266.4h4.3v7.2h-4.3zm0-255.6h4.3v3.6h-4.3zm4.3 234h4.3v7.2h-4.3zm0-219.6h4.3v7.2h-4.3zm4.3 194.4h4.3v7.2h-4.3zm0-176.4h4.3v7.2h-4.3zm4.3 144h4.4v10.8h-4.4zm0-118.8h4.4v7.2h-4.4zm4.4 46.8h4.3v25.2h-4.3zm605.6 230.4h4.4v25.2h-4.4zm4.4 64.8h4.3v7.2h-4.3zm0-122.4h4.3v10.8h-4.3zm4.3 147.6h4.3v7.2h-4.3zm0-176.4h4.3v7.2h-4.3zm4.3 194.4h4.3v7.2h-4.3zm0-219.6h4.3v7.2h-4.3zm4.3 237.6h4.4v3.6h-4.4zm0-259.2h4.4v7.2h-4.4z"/><path fill="#dfff20" d="M164.5 1174.6h4.4v3.6h-4.4zm4.4-21.6h4.3v3.6h-4.3zm0-248.4h4.3v3.6h-4.3zm4.3 226.8h4.3v3.6h-4.3zm0-208.8h4.3v3.6h-4.3zm4.3 180h4.3v7.2h-4.3zm0-162h4.3v3.6h-4.3zm4.3 126h4.4v10.8h-4.4zm0-100.8h4.4v10.8h-4.4zm614.4 324h4.3v10.8h-4.3zm0-100.8h4.3v10.8h-4.3zm4.3 133.2h4.3v3.6h-4.3zm0-165.6h4.3v7.2h-4.3zm4.3 183.6h4.3v3.6h-4.3zm0-208.8h4.3v3.6h-4.3zm4.3 226.8h4.4v3.6h-4.4zm0-248.4h4.4v3.6h-4.4z"/><path fill="#efff10" d="M164.5 1171h4.4v3.6h-4.4zm0-277.2h4.4v3.6h-4.4zm4.4 255.6h4.3v3.6h-4.3zm0-241.2h4.3v3.6h-4.3zm4.3 219.6h4.3v3.6h-4.3zm0-201.6h4.3v3.6h-4.3zm4.3 169.2h4.3v7.2h-4.3zm0-151.2h4.3v7.2h-4.3zm4.3 108h4.4v14.4h-4.4zm0-75.6h4.4v10.8h-4.4zm614.4 302.4h4.3v10.8h-4.3zm0-79.2h4.3v14.4h-4.3zm4.3 115.2h4.3v7.2h-4.3zm0-151.2h4.3v7.2h-4.3zm4.3 172.8h4.3v3.6h-4.3zm0-201.6h4.3v3.6h-4.3zm4.3 219.6h4.4v3.6h-4.4zm0-241.2h4.4v3.6h-4.4z"/><path fill="#ffff00" d="M164.5 1167.4h4.4v3.6h-4.4zm0-270h4.4v3.6h-4.4zm4.4 248.4h4.3v3.6h-4.3zm0-234h4.3v3.6h-4.3zm4.3 208.8h4.3v7.2h-4.3zm0-190.8h4.3v3.6h-4.3zm4.3 158.4h4.3v7.2h-4.3zm0-136.8h4.3v7.2h-4.3zm4.3 36h4.4v64.8h-4.4zm614.4 226.8h4.3v64.8h-4.3zm4.3 93.6h4.3v7.2h-4.3zm0-136.8h4.3v7.2h-4.3zm4.3 162h4.3v3.6h-4.3zm0-194.4h4.3v7.2h-4.3zm4.3 212.4h4.4v3.6h-4.4zm0-234h4.4v3.6h-4.4z"/><path fill="#ffef00" d="M164.5 1163.8h4.4v3.6h-4.4zm0-262.8h4.4v3.6h-4.4zm4.4 241.2h4.3v3.6h-4.3zm0-226.8h4.3v3.6h-4.3zm4.3 198h4.3v7.2h-4.3zm0-180h4.3v3.6h-4.3zm4.3 147.6h4.3v7.2h-4.3zm0-122.4h4.3v7.2h-4.3zm623 342h4.3v7.2h-4.3zm0-122.4h4.3v7.2h-4.3zm4.3 151.2h4.3v3.6h-4.3zm0-183.6h4.3v7.2h-4.3zm4.3 201.6h4.4v3.6h-4.4zm0-226.8h4.4v3.6h-4.4z"/><path fill="#ffdf00" d="M164.5 1160.2h4.4v3.6h-4.4zm4.4-25.2h4.3v7.2h-4.3zm0-216h4.3v3.6h-4.3zm4.3 190.8h4.3v3.6h-4.3zm0-172.8h4.3v7.2h-4.3zm4.3 133.2h4.3v10.8h-4.3zm0-104.4h4.3v7.2h-4.3zm623 327.6h4.3v7.2h-4.3zm0-108h4.3v10.8h-4.3zm4.3 136.8h4.3v7.2h-4.3zm0-169.2h4.3v3.6h-4.3zm4.3 190.8h4.4v3.6h-4.4zm0-219.6h4.4v7.2h-4.4z"/><path fill="#ffcf00" d="M164.5 1153h4.4v7.2h-4.4zm0-248.4h4.4v3.6h-4.4zm4.4 226.8h4.3v3.6h-4.3zm0-208.8h4.3v3.6h-4.3zm4.3 180h4.3v7.2h-4.3zm0-158.4h4.3v3.6h-4.3zm4.3 115.2h4.3v10.8h-4.3zm0-86.4h4.3v14.4h-4.3zm623 306h4.3v14.4h-4.3zm0-82.8h4.3v10.8h-4.3zm4.3 122.4h4.3v3.6h-4.3zm0-162h4.3v7.2h-4.3zm4.3 183.6h4.4v3.6h-4.4zm0-208.8h4.4v3.6h-4.4z"/><path fill="#ffbf00" d="M164.5 1149.4h4.4v3.6h-4.4zm0-241.2h4.4v3.6h-4.4zm4.4 219.6h4.3v3.6h-4.3zm0-201.6h4.3v3.6h-4.3zm4.3 169.2h4.3v7.2h-4.3zm0-147.6h4.3v7.2h-4.3zm4.3 93.6h4.3v18h-4.3zm0-54h4.3v14.4h-4.3zm623 277.2h4.3v14.4h-4.3zm0-57.6h4.3v18h-4.3zm4.3 104.4h4.3v7.2h-4.3zm0-147.6h4.3v7.2h-4.3zm4.3 172.8h4.4v3.6h-4.4zm0-201.6h4.4v3.6h-4.4z"/><path fill="#ffaf00" d="M164.5 1145.8h4.4v3.6h-4.4zm0-234h4.4v3.6h-4.4zm4.4 208.8h4.3v7.2h-4.3zm0-190.8h4.3v3.6h-4.3zm4.3 158.4h4.3v7.2h-4.3zm0-133.2h4.3v7.2h-4.3zm4.3 46.8h4.3v39.6h-4.3zm623 223.2h4.3v39.6h-4.3zm4.3 79.2h4.3v7.2h-4.3zm0-133.2h4.3v7.2h-4.3zm4.3 162h4.4v3.6h-4.4zm0-194.4h4.4v7.2h-4.4z"/><path fill="#ff9f00" d="M164.5 1142.2h4.4v3.6h-4.4zm0-226.8h4.4v3.6h-4.4zm4.4 201.6h4.3v3.6h-4.3zm0-183.6h4.3v3.6h-4.3zm4.3 147.6h4.3v7.2h-4.3zm0-118.8h4.3v7.2h-4.3zm631.6 334.8h4.3v7.2h-4.3zm0-118.8h4.3v7.2h-4.3zm4.3 151.2h4.4v3.6h-4.4zm0-183.6h4.4v3.6h-4.4z"/><path fill="#ff8f00" d="M164.5 1138.6h4.4v3.6h-4.4zm4.4-28.8h4.3v7.2h-4.3zm0-172.8h4.3v7.2h-4.3zm4.3 133.2h4.3v10.8h-4.3zm0-100.8h4.3v7.2h-4.3zm631.6 320.4h4.3v7.2h-4.3zm0-104.4h4.3v10.8h-4.3zm4.3 136.8h4.4v7.2h-4.4zm0-172.8h4.4v7.2h-4.4z"/><path fill="#ff8000" d="M164.5 1135h4.4v3.6h-4.4zm0-216h4.4v3.6h-4.4zm4.4 187.2h4.3v3.6h-4.3zm0-162h4.3v3.6h-4.3zm4.3 118.8h4.3v7.2h-4.3zm0-86.4h4.3v10.8h-4.3zm631.6 302.4h4.3v10.8h-4.3zm0-82.8h4.3v7.2h-4.3zm4.3 122.4h4.4v3.6h-4.4zm0-162h4.4v3.6h-4.4z"/><path fill="#ff7000" d="M164.5 1131.4h4.4v3.6h-4.4zm0-208.8h4.4v3.6h-4.4zm4.4 176.4h4.3v7.2h-4.3zm0-151.2h4.3v3.6h-4.3zm4.3 100.8h4.3v14.4h-4.3zm0-61.2h4.3v10.8h-4.3zm631.6 280.8h4.3v10.8h-4.3zm0-64.8h4.3v14.4h-4.3zm4.3 111.6h4.4v3.6h-4.4zm0-154.8h4.4v7.2h-4.4z"/><path fill="#ff6000" d="M164.5 1127.8h4.4v3.6h-4.4zm0-201.6h4.4v3.6h-4.4zm4.4 169.2h4.3v3.6h-4.3zm0-144h4.3v7.2h-4.3zm4.3 46.8h4.3v50.4h-4.3zm631.6 219.6h4.3v50.4h-4.3zm4.3 90h4.4v7.2h-4.4zm0-140.4h4.4v3.6h-4.4z"/><path fill="#ff5000" d="M164.5 1120.6h4.4v7.2h-4.4zm0-190.8h4.4v3.6h-4.4zm4.4 158.4h4.3v7.2h-4.3zm0-129.6h4.3v3.6h-4.3zm640.2 345.6h4.4v3.6h-4.4zm0-133.2h4.4v7.2h-4.4z"/><path fill="#ff4000" d="M164.5 1117h4.4v3.6h-4.4zm0-183.6h4.4v3.6h-4.4zm4.4 147.6h4.3v7.2h-4.3zm0-118.8h4.3v7.2h-4.3zm640.2 334.8h4.4v7.2h-4.4zm0-118.8h4.4v7.2h-4.4z"/><path fill="#ff3000" d="M164.5 1113.4h4.4v3.6h-4.4zm0-176.4h4.4v3.6h-4.4zm4.4 136.8h4.3v7.2h-4.3zm0-104.4h4.3v7.2h-4.3zm640.2 320.4h4.4v7.2h-4.4zm0-104.4h4.4v7.2h-4.4z"/><path fill="#ff2000" d="M164.5 1109.8h4.4v3.6h-4.4zm0-169.2h4.4v3.6h-4.4zm4.4 122.4h4.3v10.8h-4.3zm0-86.4h4.3v7.2h-4.3zm640.2 306h4.4v7.2h-4.4zm0-90h4.4v10.8h-4.4z"/><path fill="#ff1000" d="M164.5 1102.6h4.4v7.2h-4.4zm0-158.4h4.4v7.2h-4.4zm4.4 108h4.3v10.8h-4.3zm0-68.4h4.3v14.4h-4.3zm640.2 284.4h4.4v14.4h-4.4zm0-64.8h4.4v10.8h-4.4z"/><path fill="#ff0000" d="M164.5 1099h4.4v3.6h-4.4zm0-147.6h4.4v3.6h-4.4zm4.4 46.8h4.3v54h-4.3zm640.2 216h4.4v54h-4.4z"/><path fill="#ef0000" d="M164.5 1091.8h4.4v7.2h-4.4zm0-136.8h4.4v3.6h-4.4z"/><path fill="#df0000" d="M164.5 1088.2h4.4v3.6h-4.4zm0-129.6h4.4v7.2h-4.4z"/><path fill="#cf0000" d="M164.5 1081h4.4v7.2h-4.4zm0-115.2h4.4v3.6h-4.4z"/><path fill="#bf0000" d="M164.5 1073.8h4.4v7.2h-4.4zm0-104.4h4.4v7.2h-4.4z"/><path fill="#af0000" d="M164.5 1066.6h4.4v7.2h-4.4zm0-90h4.4v7.2h-4.4z"/><path fill="#9f0000" d="M164.5 1055.8h4.4v10.8h-4.4zm0-72h4.4v7.2h-4.4z"/><path fill="#8f0000" d="M164.5 1045h4.4v10.8h-4.4zm0-54h4.4v14.4h-4.4z"/><path fill="#800000" d="M164.5 1005.4h4.4v39.6h-4.4z"/></g><g fill="none" stroke="#000" stroke-width="1.3" stroke-opacity="0.63"><path d="M164.53 865V1405M168.86 865V1405M173.18 865V1405M177.51 865V1405M181.84 865V1405M186.16 865V1405M190.49 865V1405M194.81 865V1405M199.14 865V1405M203.47 865V1405M207.79 865V1405M212.12 865V1405M216.45 865V1405M220.77 865V1405M225.10 865V1405M229.43 865V1405M233.75 865V1405M238.08 865V1405M242.40 865V1405M246.73 865V1405M251.06 865V1405M255.38 865V1405M259.71 865V1405M264.04 865V1405M268.36 865V1405M272.69 865V1405M277.01 865V1405M281.34 865V1405M285.67 865V1405M289.99 865V1405M294.32 865V1405M298.64 865V1405M302.97 865V1405M307.30 865V1405M311.62 865V1405M315.95 865V1405M320.28 865V1405M324.60 865V1405M328.93 865V1405M333.25 865V1405M337.58 865V1405M341.91 865V1405M346.23 865V1405M350.56 865V1405M354.89 865V1405M359.21 865V1405M363.54 865V1405M367.87 865V1405M372.19 865V1405M376.52 865V1405M380.84 865V1405M385.17 865V1405M389.50 865V1405M393.82 865V1405M398.15 865V1405M402.48 865V1405M406.80 865V1405M411.13 865V1405M415.45 865V1405M419.78 865V1405M424.11 865V1405M428.43 865V1405M432.76 865V1405M437.09 865V1405M441.41 865V1405M445.74 865V1405M450.06 865V1405M454.39 865V1405M458.72 865V1405M463.04 865V1405M467.37 865V1405M471.70 865V1405M476.02 865V1405M480.35 865V1405M484.67 865V1405M489.00 865V1405M493.33 865V1405M497.65 865V1405M501.98 865V1405M506.31 865V1405M510.63 865V1405M514.96 865V1405M519.28 865V1405M523.61 865V1405M527.94 865V1405M532.26 865V1405M536.59 865V1405M540.91 865V1405M545.24 865V1405M549.57 865V1405M553.89 865V1405M558.22 865V1405M562.55 865V1405M566.87 865V1405M571.20 865V1405M575.52 865V1405M579.85 865V1405M584.18 865V1405M588.50 865V1405M592.83 865V1405M597.16 865V1405M601.48 865V1405M605.81 865V1405M610.13 865V1405M614.46 865V1405M618.79 865V1405M623.11 865V1405M627.44 865V1405M631.77 865V1405M636.09 865V1405M640.42 865V1405M644.75 865V1405M649.07 865V1405M653.40 865V1405M657.72 865V1405M662.05 865V1405M666.38 865V1405M670.70 865V1405M675.03 865V1405M679.36 865V1405M683.68 865V1405M688.01 865V1405M692.33 865V1405M696.66 865V1405M700.99 865V1405M705.31 865V1405M709.64 865V1405M713.97 865V1405M718.29 865V1405M722.62 865V1405M726.94 865V1405M731.27 865V1405M735.60 865V1405M739.92 865V1405M744.25 865V1405M748.57 865V1405M752.90 865V1405M757.23 865V1405M761.55 865V1405M765.88 865V1405M770.21 865V1405M774.53 865V1405M778.86 865V1405M783.19 865V1405M787.51 865V1405M791.84 865V1405M796.16 865V1405M800.49 865V1405M804.82 865V1405M809.14 865V1405M813.47 865V1405"/><path d="M164.5 1405.00H813.5M164.5 1401.40H813.5M164.5 1397.80H813.5M164.5 1394.20H813.5M164.5 1390.60H813.5M164.5 1387.00H813.5M164.5 1383.40H813.5M164.5 1379.80H813.5M164.5 1376.20H813.5M164.5 1372.60H813.5M164.5 1369.00H813.5M164.5 1365.40H813.5M164.5 1361.80H813.5M164.5 1358.20H813.5M164.5 1354.60H813.5M164.5 1351.00H813.5M164.5 1347.40H813.5M164.5 1343.80H813.5M164.5 1340.20H813.5M164.5 1336.60H813.5M164.5 1333.00H813.5M164.5 1329.40H813.5M164.5 1325.80H813.5M164.5 1322.20H813.5M164.5 1318.60H813.5M164.5 1315.00H813.5M164.5 1311.40H813.5M164.5 1307.80H813.5M164.5 1304.20H813.5M164.5 1300.60H813.5M164.5 1297.00H813.5M164.5 1293.40H813.5M164.5 1289.80H813.5M164.5 1286.20H813.5M164.5 1282.60H813.5M164.5 1279.00H813.5M164.5 1275.40H813.5M164.5 1271.80H813.5M164.5 1268.20H813.5M164.5 1264.60H813.5M164.5 1261.00H813.5M164.5 1257.40H813.5M164.5 1253.80H813.5M164.5 1250.20H813.5M164.5 1246.60H813.5M164.5 1243.00H813.5M164.5 1239.40H813.5M164.5 1235.80H813.5M164.5 1232.20H813.5M164.5 1228.60H813.5M164.5 1225.00H813.5M164.5 1221.40H813.5M164.5 1217.80H813.5M164.5 1214.20H813.5M164.5 1210.60H813.5M164.5 1207.00H813.5M164.5 1203.40H813.5M164.5 1199.80H813.5M164.5 1196.20H813.5M164.5 1192.60H813.5M164.5 1189.00H813.5M164.5 1185.40H813.5M164.5 1181.80H813.5M164.5 1178.20H813.5M164.5 1174.60H813.5M164.5 1171.00H813.5M164.5 1167.40H813.5M164.5 1163.80H813.5M164.5 1160.20H813.5M164.5 1156.60H813.5M164.5 1153.00H813.5M164.5 1149.40H813.5M164.5 1145.80H813.5M164.5 1142.20H813.5M164.5 1138.60H813.5M164.5 1135.00H813.5M164.5 1131.40H813.5M164.5 1127.80H813.5M164.5 1124.20H813.5M164.5 1120.60H813.5M164.5 1117.00H813.5M164.5 1113.40H813.5M164.5 1109.80H813.5M164.5 1106.20H813.5M164.5 1102.60H813.5M164.5 1099.00H813.5M164.5 1095.40H813.5M164.5 1091.80H813.5M164.5 1088.20H813.5M164.5 1084.60H813.5M164.5 1081.00H813.5M164.5 1077.40H813.5M164.5 1073.80H813.5M164.5 1070.20H813.5M164.5 1066.60H813.5M164.5 1063.00H813.5M164.5 1059.40H813.5M164.5 1055.80H813.5M164.5 1052.20H813.5M164.5 1048.60H813.5M164.5 1045.00H813.5M164.5 1041.40H813.5M164.5 1037.80H813.5M164.5 1034.20H813.5M164.5 1030.60H813.5M164.5 1027.00H813.5M164.5 1023.40H813.5M164.5 1019.80H813.5M164.5 1016.20H813.5M164.5 1012.60H813.5M164.5 1009.00H813.5M164.5 1005.40H813.5M164.5 1001.80H813.5M164.5 998.20H813.5M164.5 994.60H813.5M164.5 991.00H813.5M164.5 987.40H813.5M164.5 983.80H813.5M164.5 980.20H813.5M164.5 976.60H813.5M164.5 973.00H813.5M164.5 969.40H813.5M164.5 965.80H813.5M164.5 962.20H813.5M164.5 958.60H813.5M164.5 955.00H813.5M164.5 951.40H813.5M164.5 947.80H813.5M164.5 944.20H813.5M164.5 940.60H813.5M164.5 937.00H813.5M164.5 933.40H813.5M164.5 929.80H813.5M164.5 926.20H813.5M164.5 922.60H813.5M164.5 919.00H813.5M164.5 915.40H813.5M164.5 911.80H813.5M164.5 908.20H813.5M164.5 904.60H813.5M164.5 901.00H813.5M164.5 897.40H813.5M164.5 893.80H813.5M164.5 890.20H813.5M164.5 886.60H813.5M164.5 883.00H813.5M164.5 879.40H813.5M164.5 875.80H813.5M164.5 872.20H813.5M164.5 868.60H813.5M164.5 865.00H813.5"/></g><rect x="164.5" y="865.0" width="648.9" height="540.0" fill="none" stroke="#000" stroke-width=".8"/><path d="M142.9 847.0V1423.0H835.1M142.9 1423.0v-7M142.9 1423.0h7M229.4 1423.0v-7M142.9 1351.0h7M316.0 1423.0v-7M142.9 1279.0h7M402.5 1423.0v-7M142.9 1207.0h7M489.0 1423.0v-7M142.9 1135.0h7M575.5 1423.0v-7M142.9 1063.0h7M662.0 1423.0v-7M142.9 991.0h7M748.6 1423.0v-7M142.9 919.0h7M835.1 1423.0v-7M142.9 847.0h7" fill="none" stroke="#262626" stroke-width="1" stroke-opacity=".62"/><g font-family="'Liberation Sans',Arial,Helvetica,sans-serif" font-size="25.3" fill="#303030"><text x="142.9" y="1456.6" text-anchor="middle">-80</text><text x="134.4" y="1433.1" text-anchor="end">-80</text><text x="229.4" y="1456.6" text-anchor="middle">-60</text><text x="134.4" y="1361.1" text-anchor="end">-60</text><text x="316.0" y="1456.6" text-anchor="middle">-40</text><text x="134.4" y="1289.1" text-anchor="end">-40</text><text x="402.5" y="1456.6" text-anchor="middle">-20</text><text x="134.4" y="1217.1" text-anchor="end">-20</text><text x="489.0" y="1456.6" text-anchor="middle">0</text><text x="134.4" y="1145.1" text-anchor="end">0</text><text x="575.5" y="1456.6" text-anchor="middle">20</text><text x="134.4" y="1073.1" text-anchor="end">20</text><text x="662.0" y="1456.6" text-anchor="middle">40</text><text x="134.4" y="1001.1" text-anchor="end">40</text><text x="748.6" y="1456.6" text-anchor="middle">60</text><text x="134.4" y="929.1" text-anchor="end">60</text><text x="835.1" y="1456.6" text-anchor="middle">80</text><text x="134.4" y="857.1" text-anchor="end">80</text></g><g font-family="'Liberation Sans',Arial,Helvetica,sans-serif" font-size="27.7" fill="#303030"><text><tspan x="446" y="1490.7">thita</tspan><tspan x="498.5" y="1504.8" font-size="20.8">i</tspan><tspan x="512.6" y="1490.7">\°</tspan></text><text transform="translate(77.1 1180.3) rotate(-90)"><tspan x="0" y="0" textLength="56.3" lengthAdjust="spacingAndGlyphs">thita</tspan><tspan x="56.5" y="13.8" font-size="20.8">r</tspan><tspan x="69.4" y="0">\°</tspan></text></g>
<rect x="861.2" y="847.0" width="25.0" height="576.60" fill="#00008f"/><rect x="861.2" y="847.0" width="25.0" height="567.59" fill="#00009f"/><rect x="861.2" y="847.0" width="25.0" height="558.58" fill="#0000af"/><rect x="861.2" y="847.0" width="25.0" height="549.57" fill="#0000bf"/><rect x="861.2" y="847.0" width="25.0" height="540.56" fill="#0000cf"/><rect x="861.2" y="847.0" width="25.0" height="531.55" fill="#0000df"/><rect x="861.2" y="847.0" width="25.0" height="522.54" fill="#0000ef"/><rect x="861.2" y="847.0" width="25.0" height="513.53" fill="#0000ff"/><rect x="861.2" y="847.0" width="25.0" height="504.52" fill="#0010ff"/><rect x="861.2" y="847.0" width="25.0" height="495.52" fill="#0020ff"/><rect x="861.2" y="847.0" width="25.0" height="486.51" fill="#0030ff"/><rect x="861.2" y="847.0" width="25.0" height="477.50" fill="#0040ff"/><rect x="861.2" y="847.0" width="25.0" height="468.49" fill="#0050ff"/><rect x="861.2" y="847.0" width="25.0" height="459.48" fill="#0060ff"/><rect x="861.2" y="847.0" width="25.0" height="450.47" fill="#0070ff"/><rect x="861.2" y="847.0" width="25.0" height="441.46" fill="#0080ff"/><rect x="861.2" y="847.0" width="25.0" height="432.45" fill="#008fff"/><rect x="861.2" y="847.0" width="25.0" height="423.44" fill="#009fff"/><rect x="861.2" y="847.0" width="25.0" height="414.43" fill="#00afff"/><rect x="861.2" y="847.0" width="25.0" height="405.42" fill="#00bfff"/><rect x="861.2" y="847.0" width="25.0" height="396.41" fill="#00cfff"/><rect x="861.2" y="847.0" width="25.0" height="387.40" fill="#00dfff"/><rect x="861.2" y="847.0" width="25.0" height="378.39" fill="#00efff"/><rect x="861.2" y="847.0" width="25.0" height="369.38" fill="#00ffff"/><rect x="861.2" y="847.0" width="25.0" height="360.38" fill="#10ffef"/><rect x="861.2" y="847.0" width="25.0" height="351.37" fill="#20ffdf"/><rect x="861.2" y="847.0" width="25.0" height="342.36" fill="#30ffcf"/><rect x="861.2" y="847.0" width="25.0" height="333.35" fill="#40ffbf"/><rect x="861.2" y="847.0" width="25.0" height="324.34" fill="#50ffaf"/><rect x="861.2" y="847.0" width="25.0" height="315.33" fill="#60ff9f"/><rect x="861.2" y="847.0" width="25.0" height="306.32" fill="#70ff8f"/><rect x="861.2" y="847.0" width="25.0" height="297.31" fill="#80ff80"/><rect x="861.2" y="847.0" width="25.0" height="288.30" fill="#8fff70"/><rect x="861.2" y="847.0" width="25.0" height="279.29" fill="#9fff60"/><rect x="861.2" y="847.0" width="25.0" height="270.28" fill="#afff50"/><rect x="861.2" y="847.0" width="25.0" height="261.27" fill="#bfff40"/><rect x="861.2" y="847.0" width="25.0" height="252.26" fill="#cfff30"/><rect x="861.2" y="847.0" width="25.0" height="243.25" fill="#dfff20"/><rect x="861.2" y="847.0" width="25.0" height="234.24" fill="#efff10"/><rect x="861.2" y="847.0" width="25.0" height="225.23" fill="#ffff00"/><rect x="861.2" y="847.0" width="25.0" height="216.22" fill="#ffef00"/><rect x="861.2" y="847.0" width="25.0" height="207.22" fill="#ffdf00"/><rect x="861.2" y="847.0" width="25.0" height="198.21" fill="#ffcf00"/><rect x="861.2" y="847.0" width="25.0" height="189.20" fill="#ffbf00"/><rect x="861.2" y="847.0" width="25.0" height="180.19" fill="#ffaf00"/><rect x="861.2" y="847.0" width="25.0" height="171.18" fill="#ff9f00"/><rect x="861.2" y="847.0" width="25.0" height="162.17" fill="#ff8f00"/><rect x="861.2" y="847.0" width="25.0" height="153.16" fill="#ff8000"/><rect x="861.2" y="847.0" width="25.0" height="144.15" fill="#ff7000"/><rect x="861.2" y="847.0" width="25.0" height="135.14" fill="#ff6000"/><rect x="861.2" y="847.0" width="25.0" height="126.13" fill="#ff5000"/><rect x="861.2" y="847.0" width="25.0" height="117.12" fill="#ff4000"/><rect x="861.2" y="847.0" width="25.0" height="108.11" fill="#ff3000"/><rect x="861.2" y="847.0" width="25.0" height="99.10" fill="#ff2000"/><rect x="861.2" y="847.0" width="25.0" height="90.09" fill="#ff1000"/><rect x="861.2" y="847.0" width="25.0" height="81.08" fill="#ff0000"/><rect x="861.2" y="847.0" width="25.0" height="72.08" fill="#ef0000"/><rect x="861.2" y="847.0" width="25.0" height="63.07" fill="#df0000"/><rect x="861.2" y="847.0" width="25.0" height="54.06" fill="#cf0000"/><rect x="861.2" y="847.0" width="25.0" height="45.05" fill="#bf0000"/><rect x="861.2" y="847.0" width="25.0" height="36.04" fill="#af0000"/><rect x="861.2" y="847.0" width="25.0" height="27.03" fill="#9f0000"/><rect x="861.2" y="847.0" width="25.0" height="18.02" fill="#8f0000"/><rect x="861.2" y="847.0" width="25.0" height="9.01" fill="#800000"/><rect x="861.2" y="847.0" width="25.0" height="576.6" fill="none" stroke="#262626" stroke-width="1" stroke-opacity=".55"/><path d="M886.2 1307.2h-5.5M886.2 1190.8h-5.5M886.2 1074.4h-5.5M886.2 958.0h-5.5" stroke="#262626" stroke-width="1" fill="none"/><g font-family="'Liberation Sans',Arial,Helvetica,sans-serif" font-size="22.9" fill="#303030"><text x="892.8" y="1433.0">0</text><text x="892.8" y="1316.6">0.05</text><text x="892.8" y="1200.2">0.1</text><text x="892.8" y="1083.8">0.15</text><text x="892.8" y="967.4">0.2</text></g>
<g font-family="'Liberation Serif','Times New Roman',Times,serif" font-size="34.1" fill="#000" text-anchor="middle"><text x="504.3" y="786">(a) Isometric view</text><text x="505.6" y="1542.5" font-size="34.75">(b) Top-down view</text></g>
</svg></body></html>
